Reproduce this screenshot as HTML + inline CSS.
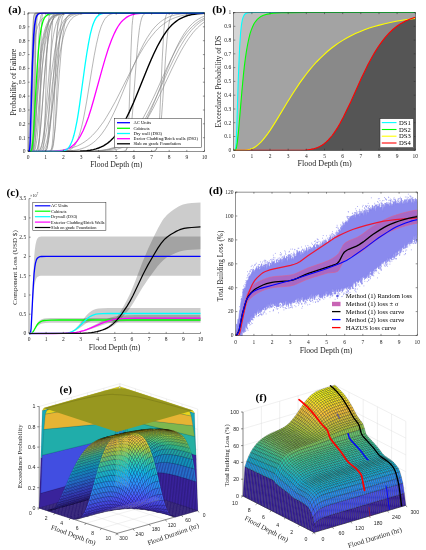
<!DOCTYPE html>
<html lang="en"><head><meta charset="utf-8"><title>Flood fragility and loss figure</title>
<style>html,body{margin:0;padding:0;background:#fff}svg{display:block}text{white-space:pre}.l{stroke-opacity:.45;stroke-width:.25}.n{stroke:#2a1a72;stroke-opacity:1;stroke-width:.4}</style></head>
<body>
<svg width="426" height="550" viewBox="0 0 426 550">
<defs><clipPath id="ca"><rect x="28" y="12.6" width="176.5" height="139.2"/></clipPath><clipPath id="cb"><rect x="233.7" y="12.2" width="181.6" height="138.4"/></clipPath><clipPath id="cd"><rect x="235.7" y="192.1" width="181.6" height="143.4"/></clipPath></defs>
<g clip-path="url(#ca)">
<polyline points="28,151.5 30.6,151.4 31.1,151.2 31.5,150.8 32,150 32.4,148.7 32.9,146.9 33.7,141.5 35.1,129.1 38.6,86 40.4,66.9 42.1,51.7 43,45.6 44.3,38 45.2,33.9 46.1,30.4 47,27.5 48.3,24 49.2,22.2 50.5,20 51.8,18.3 53.6,16.7 54.9,15.8 56.2,15.2 58,14.5 59.8,14.1 62,13.7 64.2,13.5 70.8,13.1 88.9,13 204.5,13" fill="none" stroke="#858585" stroke-width="0.6" />
<polyline points="28,151.5 32.4,151.5 33.3,151.4 33.7,151.2 34.2,150.9 34.6,150.3 35.1,149.4 35.5,148 35.9,146 36.8,140.3 37.3,136.4 38.1,126.7 42.1,70.6 43.4,54.8 44.8,42.3 45.6,35.8 46.5,30.5 47.4,26.3 48.3,23.1 49.2,20.6 50.1,18.7 51.4,16.6 52.7,15.3 53.6,14.7 54.5,14.2 56.7,13.6 59.8,13.2 64.2,13 204.5,13" fill="none" stroke="#858585" stroke-width="0.6" />
<polyline points="28,151.5 32,151.5 32.4,151.4 32.9,150.5 33.3,147.2 33.7,138.8 34.2,123.7 35.5,58.3 35.9,41.3 36.4,29.3 36.8,21.8 37.3,17.5 37.7,15.1 38.1,14 38.6,13.4 39,13.2 39.5,13.1 41.2,13 204.5,13" fill="none" stroke="#858585" stroke-width="0.6" />
<polyline points="28,151.5 29.8,151.5 30.6,151.3 31.1,150.9 31.5,150.2 32,148.9 32.4,147.1 33.3,141.4 34.6,128.4 37.7,89.5 39.5,69.5 41.2,53.5 42.1,47.1 43.4,39.2 44.3,34.9 45.2,31.3 46.1,28.2 47.4,24.6 48.3,22.6 49.6,20.3 50.9,18.6 52.7,16.9 54,16 55.4,15.3 57.1,14.6 58.9,14.2 61.1,13.8 63.3,13.5 69.9,13.2 88.5,13 204.5,13" fill="none" stroke="#858585" stroke-width="0.6" />
<polyline points="28,151.5 34.2,151.5 35.5,151.3 35.9,151 36.4,150.6 36.8,150 37.3,149 37.7,147.7 38.1,146 39,141 39.5,137.7 40.4,129.6 41.7,114 45.2,67.6 46.5,53.2 47.9,41.7 48.7,35.5 49.6,30.5 50.5,26.5 51.4,23.3 52.3,20.8 53.6,18.1 54.5,16.8 55.8,15.4 56.7,14.8 57.6,14.3 58.4,14 59.8,13.6 62.4,13.2 66.8,13 204.5,13" fill="none" stroke="#858585" stroke-width="0.6" />
<polyline points="28,151.5 34.2,151.5 35.1,151.4 35.9,151 36.4,150.6 36.8,150 37.3,149.1 37.7,147.9 38.1,146.2 39,141.3 39.5,138.1 40.4,130 41.7,114.6 44.3,79.2 45.6,63.1 47,49.5 48.3,38.8 49.2,33.2 50.1,28.7 50.9,25 51.8,22.1 52.7,19.9 54,17.5 54.9,16.4 56.2,15.1 57.1,14.6 58,14.2 60.2,13.5 62.9,13.2 67.3,13 204.5,13" fill="none" stroke="#858585" stroke-width="0.6" />
<polyline points="28,151.5 30.6,151.5 31.1,151 31.5,146.1 32,127.1 32.9,56.5 33.3,31.9 33.7,19.7 34.2,15 34.6,13.5 35.1,13.1 35.5,13 36.8,13 204.5,13" fill="none" stroke="#858585" stroke-width="0.6" />
<polyline points="28,151.5 31.5,151.5 32,151.4 32.4,149.9 32.9,141.5 33.3,118.6 34.2,50.8 34.6,29.1 35.1,18.6 35.5,14.6 35.9,13.4 36.4,13.1 37.7,13 204.5,13" fill="none" stroke="#858585" stroke-width="0.6" />
<polyline points="28,151.5 29.3,151.5 29.8,150.5 30.2,144.3 30.6,127.8 32,53.1 32.4,36.9 32.9,26.4 33.3,20.3 33.7,16.8 34.2,15 34.6,14 35.1,13.5 35.5,13.2 36.4,13.1 38.6,13 204.5,13" fill="none" stroke="#858585" stroke-width="0.6" />
<polyline points="28,151.5 32.9,151.5 33.3,151.5 33.7,151.3 34.2,150.5 34.6,148.7 35.1,144.7 35.5,137.7 35.9,127.3 38.1,53 39,32.9 39.5,26.3 39.9,21.7 40.4,18.5 40.8,16.4 41.2,15.1 41.7,14.2 42.1,13.7 42.6,13.4 43.4,13.1 46.1,13 204.5,13" fill="none" stroke="#858585" stroke-width="0.6" />
<polyline points="28,151.5 28.4,149.6 28.9,140.8 30.2,103 30.6,92 31.5,74.1 32.4,60.6 32.9,55.3 33.7,46.5 34.6,39.9 35.5,34.9 36.4,30.9 37.3,27.8 38.6,24.3 39.9,21.8 40.8,20.5 41.7,19.4 43.4,17.7 45.2,16.6 47,15.8 49.2,15 51.4,14.5 54,14.1 57.6,13.7 65.9,13.3 77,13.1 94.6,13 204.5,13" fill="none" stroke="#858585" stroke-width="0.6" />
<polyline points="28,151.5 29.8,151.5 30.2,151.3 30.6,150.9 31.1,150.1 31.5,148.7 32,146.5 32.4,143.7 32.9,140 33.7,130.9 36.8,90.6 38.6,70 39.5,61.3 40.4,53.7 41.2,47.2 42.1,41.6 43,36.9 43.9,33 44.8,29.7 46.1,25.7 47.4,22.7 48.7,20.4 50.1,18.7 51.8,17 53.2,16.1 54.9,15.2 56.7,14.6 58.4,14.1 60.7,13.7 62.9,13.5 69.5,13.2 88.9,13 204.5,13" fill="none" stroke="#858585" stroke-width="0.6" />
<polyline points="28,151.5 37.7,151.5 38.1,151.3 38.6,150.1 39,145.5 39.5,133.6 39.9,112.3 40.8,56.7 41.2,35.6 41.7,22.9 42.1,16.7 42.6,14.2 43,13.3 43.4,13.1 44.8,13 204.5,13" fill="none" stroke="#858585" stroke-width="0.6" />
<polyline points="28,151.5 32.9,151.4 33.3,150.6 33.7,145.3 34.2,128.6 35.5,37.8 35.9,22.7 36.4,16.1 36.8,13.8 37.3,13.2 37.7,13 39,13 204.5,13" fill="none" stroke="#858585" stroke-width="0.6" />
<polyline points="28,151.5 31.1,151.5 32,151.3 32.4,151 32.9,150.5 33.3,149.6 33.7,148.4 34.6,144.7 35.5,139 36.8,127.2 40.4,87.1 42.1,68.7 43.4,57.1 45.2,44.6 46.1,39.6 47.4,33.4 48.3,30.1 49.6,26 50.9,22.9 52.3,20.5 53.6,18.7 55.4,16.9 56.7,16 58,15.2 59.8,14.6 61.5,14.1 63.7,13.7 65.9,13.4 72.1,13.1 89.3,13 204.5,13" fill="none" stroke="#858585" stroke-width="0.6" />
<polyline points="28,151.5 38.6,151.5 39.9,151.4 41.2,151.1 42.6,150.4 43.4,149.5 44.3,148.1 44.8,147.3 45.6,145.1 46.5,142.2 47.4,138.6 48.3,134.3 49.6,126.5 51.4,114.4 55.8,80.4 57.6,67.8 59.8,54 60.7,49.2 62,42.8 63.3,37.3 64.6,32.6 65.9,28.8 67.3,25.6 68.6,23 69.9,20.9 71.7,18.7 73.4,17.1 74.8,16.2 76.1,15.5 77.9,14.8 79.6,14.2 81.8,13.8 84,13.5 90.2,13.1 105.7,13 204.5,13" fill="none" stroke="#858585" stroke-width="0.6" />
<polyline points="28,151.5 41.7,151.5 42.1,151.3 42.6,150.9 43,149.9 43.4,147.7 43.9,143.4 44.3,136.4 44.8,126.2 47,50.5 47.9,29.8 48.3,23.4 48.7,19.1 49.2,16.5 49.6,14.9 50.1,14 50.5,13.5 51.4,13.1 53.6,13 204.5,13" fill="none" stroke="#858585" stroke-width="0.6" />
<polyline points="28,151.5 49.2,151.5 50.1,151.3 50.5,151.1 50.9,150.5 51.4,149.4 51.8,147.3 52.3,144 52.7,138.9 53.2,131.8 54,111.5 56.2,48.3 57.1,31.2 57.6,25.4 58,21.1 58.4,18.1 58.9,16.2 59.3,14.9 59.8,14.1 60.2,13.6 60.7,13.3 61.5,13.1 63.7,13 204.5,13" fill="none" stroke="#858585" stroke-width="0.6" />
<polyline points="28,151.5 45.2,151.4 45.6,151.3 46.1,151 46.5,150.1 47,148.4 47.4,145.3 47.9,140.1 48.3,132.5 48.7,122.2 50.9,52.2 51.8,32.2 52.3,25.6 52.7,20.9 53.2,17.8 53.6,15.7 54,14.5 54.5,13.8 54.9,13.4 55.8,13.1 58,13 204.5,13" fill="none" stroke="#858585" stroke-width="0.6" />
<polyline points="28,151.5 37.3,151.5 38.6,151.3 39.5,151.1 40.4,150.6 40.8,150.2 41.7,149.1 42.6,147.3 43.4,144.9 44.3,141.7 45.2,137.7 46.1,132.8 47,127.2 48.7,114.1 52.7,81.4 54.5,68 56.7,53.4 58.4,43.9 59.3,39.8 60.7,34.5 62,30.2 63.3,26.6 64.6,23.7 66.4,20.7 68.2,18.5 69.9,16.9 71.2,16 72.6,15.3 74.3,14.6 76.1,14.1 78.3,13.7 80.5,13.5 86.2,13.1 101.7,13 204.5,13" fill="none" stroke="#858585" stroke-width="0.6" />
<polyline points="28,151.5 35.9,151.5 37.3,151.3 38.1,151 39,150.4 39.9,149.4 40.8,147.7 41.7,145.2 43,139.8 43.9,135 44.8,129.3 46.5,115.8 50.5,81.4 52.3,67.3 54.5,52.3 56.2,42.6 57.1,38.5 58.4,33.3 59.8,29 61.1,25.6 62.4,22.8 63.7,20.6 65.5,18.4 67.3,16.8 68.6,15.9 69.9,15.2 71.7,14.5 73.4,14.1 75.7,13.7 77.9,13.4 83.6,13.1 99,13 204.5,13" fill="none" stroke="#858585" stroke-width="0.6" />
<polyline points="28,151.5 48.3,151.5 50.1,151.4 50.9,151.2 51.4,150.9 51.8,150.3 52.3,149.4 52.7,148.1 53.2,146.1 53.6,143.3 54,139.5 54.9,128.6 55.8,113.5 58.4,57.9 59.3,42.8 60.2,31.5 61.1,23.7 62,18.8 62.4,17.2 62.9,16 63.3,15.1 64.2,14 65.1,13.4 65.9,13.2 67.3,13 69,13 204.5,13" fill="none" stroke="#858585" stroke-width="0.6" />
<polyline points="28,151.5 42.1,151.5 44.3,151.4 45.2,151 45.6,150.7 46.1,150.2 46.5,149.4 47,148.4 47.4,146.9 48.3,142.5 48.7,139.5 49.2,135.8 50.1,126.5 51.4,108.4 54.5,60.5 55.8,44.1 56.7,35.6 57.1,32 58,26.2 58.4,23.9 59.3,20.3 59.8,18.9 60.7,16.8 61.5,15.4 62.4,14.5 63.7,13.7 65.1,13.3 66.8,13.1 69.9,13 204.5,13" fill="none" stroke="#858585" stroke-width="0.6" />
<polyline points="28,151.5 36.8,151.5 37.7,151.4 38.6,151.2 39.5,150.6 40.4,149.3 41.2,147.1 41.7,145.5 42.6,141.1 43,138.3 44.3,127.6 45.6,113.7 49.6,67.1 51.4,50.1 52.7,40 53.6,34.6 54.5,30.1 55.4,26.4 56.2,23.4 57.1,21 58.4,18.4 59.8,16.5 61.1,15.3 62,14.7 62.9,14.3 65.1,13.6 68.2,13.2 72.6,13 204.5,13" fill="none" stroke="#858585" stroke-width="0.6" />
<polyline points="28,151.5 40.4,151.5 42.1,151.4 43,151.2 43.9,150.8 44.3,150.5 45.2,149.6 46.1,147.9 47,145.5 47.9,142 48.7,137.4 49.6,131.6 50.5,124.7 51.8,112.6 55.4,76.4 56.7,63.8 58.4,49.3 59.8,40.5 60.7,35.5 61.5,31.3 62.4,27.8 63.7,23.5 64.6,21.3 65.9,18.8 67.3,17 68.6,15.7 69.5,15.1 70.8,14.4 73,13.7 76.1,13.3 80.5,13.1 204.5,13" fill="none" stroke="#858585" stroke-width="0.6" />
<polyline points="28,151.5 46.5,151.5 48.7,151.4 49.6,151.1 50.1,150.9 50.9,150 51.8,148.4 52.3,147.2 53.2,143.6 54,138.3 55.4,126.7 56.7,111 59.3,73.9 60.7,56.8 62,42.7 62.9,35.2 64.2,26.7 64.6,24.5 65.5,21 66.4,18.5 67.3,16.7 68.2,15.4 69,14.6 70.4,13.8 71.7,13.4 73.9,13.1 77,13 204.5,13" fill="none" stroke="#858585" stroke-width="0.6" />
<polyline points="28,151.5 58.9,151.5 62.9,151.3 65.9,151 67.7,150.6 69,150.2 70.4,149.6 71.7,148.7 73,147.5 73.9,146.5 74.8,145.3 75.7,143.9 77,141.3 77.9,139.2 79.6,134.2 81.4,127.8 83.2,120.1 84.9,111.2 86.7,101.2 92,68.6 94.2,55.7 96.4,44.4 98.2,36.7 99,33.3 100.4,28.9 101.2,26.4 102.6,23.2 103.9,20.6 105.2,18.5 106.5,17 107.9,15.8 108.7,15.2 110.1,14.5 112.3,13.7 114.9,13.3 118.9,13.1 204.5,13" fill="none" stroke="#858585" stroke-width="0.6" />
<polyline points="28,151.5 42.1,151.3 51.8,151 59.3,150.4 62.9,149.9 65.9,149.4 69,148.7 72.1,147.8 74.8,146.9 77.4,145.9 80.1,144.6 82.7,143.1 85.4,141.3 87.6,139.7 90.2,137.5 92.4,135.4 94.6,133.1 96.8,130.6 99,127.9 101.2,124.9 103.5,121.8 106.1,117.7 110.5,110.3 115.4,101.5 120.2,92 132.6,67.3 136.1,60.6 139.6,54.2 143.6,47.5 147.6,41.4 151.6,36.1 155.5,31.4 157.7,29.1 159.9,27 162.1,25.2 164.8,23.2 167.4,21.4 170.1,19.9 172.7,18.6 175.4,17.6 178,16.7 181.1,15.8 184.2,15.1 187.7,14.5 191.3,14.1 195.2,13.7 204.5,13.3" fill="none" stroke="#858585" stroke-width="0.6" />
<polyline points="28,151.5 48.7,151.5 59.3,151.3 67.3,151 73.4,150.4 76.5,149.9 79.2,149.4 81.8,148.6 84.5,147.7 86.7,146.7 88.9,145.6 91.1,144.2 93.3,142.6 95.5,140.7 97.7,138.6 99.9,136.1 101.7,133.9 103.9,130.8 105.7,128.2 107.9,124.5 110.1,120.5 114,112.6 118,103.8 122.4,93.2 133.5,65.9 137,57.7 140.1,51 143.6,44 147.1,37.8 150.7,32.4 152.4,30 154.2,27.9 156,25.9 158.2,23.8 160.4,21.9 162.6,20.3 164.8,18.9 167,17.8 169.6,16.6 172.3,15.7 174.9,15 177.6,14.5 180.7,14 184.2,13.6 192.6,13.2 204.5,13" fill="none" stroke="#858585" stroke-width="0.6" />
<polyline points="28,151.5 123.3,151.5 124.6,151.5 125.5,151.2 126,150.8 126.4,149.9 126.8,148.3 127.3,145.6 127.7,141.2 128.2,134.6 129,114 130.8,55.7 131.7,33.2 132.1,25.6 132.6,20.4 133,17.1 133.5,15.1 133.9,14 134.3,13.4 134.8,13.2 136.1,13 204.5,13" fill="none" stroke="#858585" stroke-width="0.6" />
<polyline points="28,151.5 120.2,151.5 122.4,151.4 123.8,151.2 124.6,150.9 125.5,150.3 126.4,149.4 126.8,148.7 127.7,146.7 128.2,145.4 129,141.8 129.5,139.5 130.4,133.8 131.3,126.3 132.6,112 136.5,58 137.4,47.3 138.3,38.2 139.2,30.7 139.6,27.6 140.5,22.7 141.4,19.1 141.8,17.8 142.7,15.8 143.6,14.6 144,14.2 144.9,13.6 146.3,13.2 148,13 204.5,13" fill="none" stroke="#858585" stroke-width="0.6" />
<polyline points="28,151.5 151.6,151.5 153.8,151.4 154.6,151.2 155.1,151 155.5,150.6 156,150 156.4,149.1 156.8,147.7 157.3,145.7 157.7,142.9 158.2,139.2 158.6,134.3 159.1,128.2 159.9,112.4 162.1,61.5 163.5,36.3 163.9,30.2 164.8,21.6 165.2,18.8 165.7,16.8 166.1,15.4 166.6,14.5 167,13.9 167.4,13.5 168.3,13.1 169.2,13 204.5,13" fill="none" stroke="#858585" stroke-width="0.6" />
<polyline points="28,151.5 149.8,151.5 152,151.4 153.3,151.3 154.2,151.1 155.1,150.6 156,149.8 156.4,149.2 157.3,147.3 157.7,146 158.6,142.2 159.1,139.8 159.9,133.5 160.8,125.1 161.7,114.7 162.6,102.5 165.7,55.7 167,39.4 167.9,31 168.8,24.7 169.6,20.2 170.5,17.2 171.4,15.3 172.3,14.2 172.7,13.9 173.6,13.4 174.9,13.1 178,13 204.5,13" fill="none" stroke="#858585" stroke-width="0.6" />
<polyline points="28,151.5 81,151.4 91.1,151.2 99,150.6 103,150.1 106.5,149.5 110.1,148.6 113.2,147.6 116.2,146.4 118.9,145 121.5,143.5 124.2,141.6 126.8,139.4 129,137.3 131.7,134.5 133.9,131.8 136.1,128.9 138.8,125.1 141,121.6 143.6,117.1 147.6,109.6 152,100.6 156,92.1 166.1,69.5 171.4,58.4 174.1,53.2 176.7,48.2 179.3,43.6 181.6,40.1 184.2,36.2 186.8,32.7 189.5,29.5 192.6,26.3 195.2,24 198.3,21.6 201.4,19.7 204.5,18.1" fill="none" stroke="#858585" stroke-width="0.6" />
<polyline points="28,151.5 83.2,151.4 93.3,151.2 101.2,150.6 105.2,150.2 108.7,149.6 112.3,148.7 115.4,147.8 118.5,146.6 121.1,145.3 123.8,143.7 126.4,141.9 129,139.8 131.3,137.8 133.9,135 136.1,132.4 138.3,129.5 141,125.7 143.2,122.3 145.8,117.8 150.2,109.6 154.6,100.6 158.6,92.1 168.8,69.5 174.1,58.4 178.9,49 181.6,44.4 183.8,40.8 186.4,36.8 188.6,33.8 191.3,30.5 193.9,27.6 196.6,25.1 199.2,22.9 201.9,21 204.5,19.5" fill="none" stroke="#858585" stroke-width="0.6" />
<polyline points="28,151.5 83.2,151.4 94.2,151.1 102.1,150.6 106.1,150.1 110.1,149.4 113.6,148.6 116.7,147.6 119.8,146.4 122.9,145 125.5,143.4 128.2,141.6 130.8,139.5 133.5,137.1 136.1,134.3 138.3,131.8 140.5,128.9 143.2,125.2 145.8,121.2 148.5,116.8 152.9,108.8 157.3,100 161.3,91.7 171.4,70 176.3,60 181.1,50.8 183.8,46.2 186,42.6 188.6,38.6 190.8,35.6 193,32.7 195.2,30.2 197.4,27.9 199.6,25.8 201.9,23.9 204.5,21.9" fill="none" stroke="#858585" stroke-width="0.6" />
<polyline points="28,151.5 89.8,151.5 99.5,151.3 106.5,150.9 110.1,150.5 113.6,150 116.7,149.3 119.3,148.5 122,147.5 124.6,146.2 126.8,144.9 129,143.3 131.3,141.5 133.5,139.3 135.7,136.9 137.9,134.1 140.1,130.9 142.3,127.4 144.5,123.5 146.7,119.2 150.7,110.8 154.6,101.4 158.2,92.5 167.4,68.6 172.3,56.8 174.9,50.8 177.1,46.2 179.8,41 182,37.1 184.6,32.9 187.3,29.3 189.9,26.1 192.6,23.4 195.2,21.2 198.3,19.1 201.4,17.4 204.5,16.2" fill="none" stroke="#858585" stroke-width="0.6" />
<polyline points="28,151.5 71.2,151.4 80.1,151.1 86.7,150.6 90.2,150.2 93.3,149.6 96,148.9 98.6,148 101.2,146.9 103.5,145.8 106.1,144.2 108.3,142.6 110.5,140.7 112.7,138.6 114.9,136.1 117.1,133.3 119.3,130.2 121.1,127.5 123.3,123.7 125.5,119.7 129.5,111.6 133.5,102.8 137.4,93.2 148,67 151.1,59.7 153.8,53.8 157.3,46.5 160.4,40.8 163.5,35.7 166.6,31.2 168.3,28.9 170.1,26.9 171.8,25 174.1,23 175.8,21.6 178,20 179.8,18.9 182,17.8 184.2,16.8 186.4,16 189.1,15.2 191.7,14.6 194.4,14.2 197.4,13.8 204.5,13.3" fill="none" stroke="#000" stroke-width="1.4" />
<polyline points="28,151.5 45.2,151.5 52.7,151.3 58.4,151 60.7,150.7 62.9,150.3 65.1,149.7 67.3,149 69,148.1 70.8,147.1 72.6,145.8 74.3,144.2 76.1,142.2 77.4,140.6 79.2,138 80.5,135.7 83.2,130.5 85.8,124.2 88.5,117 91.1,108.8 93.7,99.8 102.1,69.4 105.2,58.6 108.3,48.8 111.4,40.3 113.2,36 114.5,33.1 116.2,29.6 118,26.5 119.8,23.9 121.5,21.7 123.3,19.9 125.1,18.4 126.4,17.4 128.2,16.4 129.9,15.5 131.7,14.9 133.5,14.4 135.7,13.9 138.3,13.6 141,13.3 145.8,13.1 152.9,13 204.5,13" fill="none" stroke="#f0f" stroke-width="1.3" />
<polyline points="28,151.5 55.8,151.5 59.3,151.4 62,151.1 63.3,150.9 64.6,150.5 65.9,149.9 66.8,149.3 67.7,148.5 68.6,147.6 69.5,146.4 70.4,144.9 71.2,143.1 72.1,140.9 73,138.3 73.9,135.3 75.2,129.9 77,121.1 78.3,113.3 79.6,104.6 84.9,66 86.7,54 88.5,43.4 90.2,34.6 92,27.6 92.9,24.8 94.2,21.4 95.1,19.6 96.4,17.5 97.3,16.4 98.6,15.2 100.4,14.2 102.1,13.6 104.8,13.2 108.3,13 204.5,13" fill="none" stroke="#0ff" stroke-width="1.3" />
<polyline points="28,151.5 30.2,151.5 30.6,151.3 31.1,150.9 31.5,149.8 32,147.9 32.4,144.8 32.9,140.5 33.7,128.5 36.4,80.7 37.3,66.4 38.6,49 39.9,36.6 40.4,33.4 41.2,28.1 41.7,26 42.6,22.6 43.4,20.1 44.3,18.2 45.2,16.8 46.5,15.4 47.4,14.7 48.3,14.3 49.2,13.9 50.5,13.6 53.6,13.2 58,13 204.5,13" fill="none" stroke="#0f0" stroke-width="1.3" />
<polyline points="28,151.5 28.9,151.5 29.3,151 29.8,148.1 30.2,140.6 30.6,128.1 32.4,64.9 32.9,53 33.7,35.8 34.2,30 34.6,25.6 35.1,22.4 35.5,19.9 35.9,18.1 36.4,16.8 36.8,15.8 37.3,15.1 38.1,14.1 39,13.6 40.4,13.3 42.1,13.1 45.6,13 204.5,13" fill="none" stroke="#00f" stroke-width="1.5" />
</g>
<rect x="28" y="13" width="176.5" height="138.5" fill="none" stroke="#262626" stroke-width="0.5" />
<line x1="28" y1="151.5" x2="28" y2="149.9" stroke="#262626" stroke-width="0.5" />
<line x1="28" y1="13" x2="28" y2="14.6" stroke="#262626" stroke-width="0.5" />
<text x="28" y="158.7" font-size="5.5" text-anchor="middle" font-family='"Liberation Serif", serif' fill="#262626" >0</text>
<line x1="28" y1="151.5" x2="29.6" y2="151.5" stroke="#262626" stroke-width="0.5" />
<line x1="204.5" y1="151.5" x2="202.9" y2="151.5" stroke="#262626" stroke-width="0.5" />
<text x="25.6" y="153.3" font-size="5.5" text-anchor="end" font-family='"Liberation Serif", serif' fill="#262626" >0</text>
<line x1="45.6" y1="151.5" x2="45.6" y2="149.9" stroke="#262626" stroke-width="0.5" />
<line x1="45.6" y1="13" x2="45.6" y2="14.6" stroke="#262626" stroke-width="0.5" />
<text x="45.6" y="158.7" font-size="5.5" text-anchor="middle" font-family='"Liberation Serif", serif' fill="#262626" >1</text>
<line x1="28" y1="137.7" x2="29.6" y2="137.7" stroke="#262626" stroke-width="0.5" />
<line x1="204.5" y1="137.7" x2="202.9" y2="137.7" stroke="#262626" stroke-width="0.5" />
<text x="25.6" y="139.5" font-size="5.5" text-anchor="end" font-family='"Liberation Serif", serif' fill="#262626" >0.1</text>
<line x1="63.3" y1="151.5" x2="63.3" y2="149.9" stroke="#262626" stroke-width="0.5" />
<line x1="63.3" y1="13" x2="63.3" y2="14.6" stroke="#262626" stroke-width="0.5" />
<text x="63.3" y="158.7" font-size="5.5" text-anchor="middle" font-family='"Liberation Serif", serif' fill="#262626" >2</text>
<line x1="28" y1="123.8" x2="29.6" y2="123.8" stroke="#262626" stroke-width="0.5" />
<line x1="204.5" y1="123.8" x2="202.9" y2="123.8" stroke="#262626" stroke-width="0.5" />
<text x="25.6" y="125.6" font-size="5.5" text-anchor="end" font-family='"Liberation Serif", serif' fill="#262626" >0.2</text>
<line x1="81" y1="151.5" x2="81" y2="149.9" stroke="#262626" stroke-width="0.5" />
<line x1="81" y1="13" x2="81" y2="14.6" stroke="#262626" stroke-width="0.5" />
<text x="81" y="158.7" font-size="5.5" text-anchor="middle" font-family='"Liberation Serif", serif' fill="#262626" >3</text>
<line x1="28" y1="110" x2="29.6" y2="110" stroke="#262626" stroke-width="0.5" />
<line x1="204.5" y1="110" x2="202.9" y2="110" stroke="#262626" stroke-width="0.5" />
<text x="25.6" y="111.8" font-size="5.5" text-anchor="end" font-family='"Liberation Serif", serif' fill="#262626" >0.3</text>
<line x1="98.6" y1="151.5" x2="98.6" y2="149.9" stroke="#262626" stroke-width="0.5" />
<line x1="98.6" y1="13" x2="98.6" y2="14.6" stroke="#262626" stroke-width="0.5" />
<text x="98.6" y="158.7" font-size="5.5" text-anchor="middle" font-family='"Liberation Serif", serif' fill="#262626" >4</text>
<line x1="28" y1="96.1" x2="29.6" y2="96.1" stroke="#262626" stroke-width="0.5" />
<line x1="204.5" y1="96.1" x2="202.9" y2="96.1" stroke="#262626" stroke-width="0.5" />
<text x="25.6" y="97.9" font-size="5.5" text-anchor="end" font-family='"Liberation Serif", serif' fill="#262626" >0.4</text>
<line x1="116.2" y1="151.5" x2="116.2" y2="149.9" stroke="#262626" stroke-width="0.5" />
<line x1="116.2" y1="13" x2="116.2" y2="14.6" stroke="#262626" stroke-width="0.5" />
<text x="116.2" y="158.7" font-size="5.5" text-anchor="middle" font-family='"Liberation Serif", serif' fill="#262626" >5</text>
<line x1="28" y1="82.2" x2="29.6" y2="82.2" stroke="#262626" stroke-width="0.5" />
<line x1="204.5" y1="82.2" x2="202.9" y2="82.2" stroke="#262626" stroke-width="0.5" />
<text x="25.6" y="84" font-size="5.5" text-anchor="end" font-family='"Liberation Serif", serif' fill="#262626" >0.5</text>
<line x1="133.9" y1="151.5" x2="133.9" y2="149.9" stroke="#262626" stroke-width="0.5" />
<line x1="133.9" y1="13" x2="133.9" y2="14.6" stroke="#262626" stroke-width="0.5" />
<text x="133.9" y="158.7" font-size="5.5" text-anchor="middle" font-family='"Liberation Serif", serif' fill="#262626" >6</text>
<line x1="28" y1="68.4" x2="29.6" y2="68.4" stroke="#262626" stroke-width="0.5" />
<line x1="204.5" y1="68.4" x2="202.9" y2="68.4" stroke="#262626" stroke-width="0.5" />
<text x="25.6" y="70.2" font-size="5.5" text-anchor="end" font-family='"Liberation Serif", serif' fill="#262626" >0.6</text>
<line x1="151.6" y1="151.5" x2="151.6" y2="149.9" stroke="#262626" stroke-width="0.5" />
<line x1="151.6" y1="13" x2="151.6" y2="14.6" stroke="#262626" stroke-width="0.5" />
<text x="151.6" y="158.7" font-size="5.5" text-anchor="middle" font-family='"Liberation Serif", serif' fill="#262626" >7</text>
<line x1="28" y1="54.6" x2="29.6" y2="54.6" stroke="#262626" stroke-width="0.5" />
<line x1="204.5" y1="54.6" x2="202.9" y2="54.6" stroke="#262626" stroke-width="0.5" />
<text x="25.6" y="56.4" font-size="5.5" text-anchor="end" font-family='"Liberation Serif", serif' fill="#262626" >0.7</text>
<line x1="169.2" y1="151.5" x2="169.2" y2="149.9" stroke="#262626" stroke-width="0.5" />
<line x1="169.2" y1="13" x2="169.2" y2="14.6" stroke="#262626" stroke-width="0.5" />
<text x="169.2" y="158.7" font-size="5.5" text-anchor="middle" font-family='"Liberation Serif", serif' fill="#262626" >8</text>
<line x1="28" y1="40.7" x2="29.6" y2="40.7" stroke="#262626" stroke-width="0.5" />
<line x1="204.5" y1="40.7" x2="202.9" y2="40.7" stroke="#262626" stroke-width="0.5" />
<text x="25.6" y="42.5" font-size="5.5" text-anchor="end" font-family='"Liberation Serif", serif' fill="#262626" >0.8</text>
<line x1="186.8" y1="151.5" x2="186.8" y2="149.9" stroke="#262626" stroke-width="0.5" />
<line x1="186.8" y1="13" x2="186.8" y2="14.6" stroke="#262626" stroke-width="0.5" />
<text x="186.8" y="158.7" font-size="5.5" text-anchor="middle" font-family='"Liberation Serif", serif' fill="#262626" >9</text>
<line x1="28" y1="26.8" x2="29.6" y2="26.8" stroke="#262626" stroke-width="0.5" />
<line x1="204.5" y1="26.8" x2="202.9" y2="26.8" stroke="#262626" stroke-width="0.5" />
<text x="25.6" y="28.6" font-size="5.5" text-anchor="end" font-family='"Liberation Serif", serif' fill="#262626" >0.9</text>
<line x1="204.5" y1="151.5" x2="204.5" y2="149.9" stroke="#262626" stroke-width="0.5" />
<line x1="204.5" y1="13" x2="204.5" y2="14.6" stroke="#262626" stroke-width="0.5" />
<text x="204.5" y="158.7" font-size="5.5" text-anchor="middle" font-family='"Liberation Serif", serif' fill="#262626" >10</text>
<line x1="28" y1="13" x2="29.6" y2="13" stroke="#262626" stroke-width="0.5" />
<line x1="204.5" y1="13" x2="202.9" y2="13" stroke="#262626" stroke-width="0.5" />
<text x="25.6" y="14.8" font-size="5.5" text-anchor="end" font-family='"Liberation Serif", serif' fill="#262626" >1</text>
<text x="116.3" y="166.9" font-size="7.75" text-anchor="middle" font-family='"Liberation Serif", serif' fill="#262626" >Flood Depth (m)</text>
<text transform="translate(15.8,82.1) rotate(-90)" font-size="7.75" text-anchor="middle" font-family='"Liberation Serif", serif' fill="#262626" >Probability of Failure</text>
<text x="8.2" y="13.3" font-size="11.3" text-anchor="start" font-family='"Liberation Serif", serif' fill="#000" font-weight="bold">(a)</text>
<rect x="114.6" y="118.7" width="86.8" height="29" fill="#fff" stroke="#262626" stroke-width="0.5" />
<line x1="117" y1="122.7" x2="130" y2="122.7" stroke="#00f" stroke-width="1.3" />
<text x="133.5" y="124.2" font-size="4.6" text-anchor="start" font-family='"Liberation Serif", serif' fill="#000" >AC Units</text>
<line x1="117" y1="128.3" x2="130" y2="128.3" stroke="#0f0" stroke-width="1.3" />
<text x="133.5" y="129.8" font-size="4.6" text-anchor="start" font-family='"Liberation Serif", serif' fill="#000" >Cabinets</text>
<line x1="117" y1="133.5" x2="130" y2="133.5" stroke="#0ff" stroke-width="1.3" />
<text x="133.5" y="135" font-size="4.6" text-anchor="start" font-family='"Liberation Serif", serif' fill="#000" >Dry wall (DS3)</text>
<line x1="117" y1="138.7" x2="130" y2="138.7" stroke="#f0f" stroke-width="1.3" />
<text x="133.5" y="140.2" font-size="4.6" text-anchor="start" font-family='"Liberation Serif", serif' fill="#000" >Exrior Cladding/Brick walls (DS3)</text>
<line x1="117" y1="143.8" x2="130" y2="143.8" stroke="#000" stroke-width="1.3" />
<text x="133.5" y="145.3" font-size="4.6" text-anchor="start" font-family='"Liberation Serif", serif' fill="#000" >Slab on grade Foundation</text>
<rect x="233.7" y="12.5" width="181.6" height="137.8" fill="#d6d6d6" stroke="none" stroke-width="0.5" />
<polygon points="233.7,150.3 234.6,150.3 235,150.2 235.3,149.6 235.7,147.5 236.1,143.3 236.8,127.2 238.2,81.4 239,61.5 239.7,46.1 240.6,32.8 241.5,24.6 242.4,19.6 243,17.6 243.7,15.9 244.4,14.7 245.3,13.8 246.6,13.1 248,12.8 250,12.6 253.5,12.5 415.3,12.5 415.3,150.3 233.7,150.3" fill="#bdbdbd" />
<polygon points="233.7,150.3 234.8,150.3 235.2,150.2 235.5,149.9 235.9,149.3 236.2,148.4 236.6,146.9 237.3,142.4 238.6,130.5 241.9,91.3 243.5,74.1 244.4,65.9 245.5,57.4 246.6,50.1 247.7,44 248.8,38.8 250,33.9 251.3,29.9 252.6,26.7 254,23.8 255.7,21.3 257.3,19.4 259.3,17.6 260.9,16.5 262.9,15.5 265.1,14.7 267.5,14.1 270,13.7 273.3,13.3 276.9,13 281.6,12.8 291.1,12.6 306.3,12.5 415.3,12.5 415.3,150.3 233.7,150.3" fill="#a3a3a3" />
<polygon points="233.7,150.3 241.3,150.3 244.6,150.2 247.5,149.9 250,149.3 252.8,148.2 255.5,146.7 258.2,144.6 260.9,142.1 263.1,139.7 265.5,136.7 267.8,133.6 270.4,129.9 275.5,121.9 287.5,102 293.3,92.7 299.8,82.9 303.1,78.4 306,74.5 309.2,70.4 312.9,66 316.5,62 320.1,58.3 323.8,54.8 327.4,51.5 331,48.5 335,45.5 338.7,42.9 342.7,40.4 346.7,38 351,35.7 355.4,33.6 359.7,31.7 364.5,29.8 369.2,28.1 374.3,26.5 379.3,25.1 384.8,23.7 390.2,22.5 396.1,21.3 402.2,20.3 408.8,19.3 415.3,18.5 415.3,150.3 233.7,150.3" fill="#898989" />
<polygon points="233.7,150.3 293.6,150.3 300.5,150.2 305.3,150 308.2,149.7 310.7,149.4 313.2,148.9 315.4,148.2 317.6,147.5 319.8,146.5 322,145.2 323.8,144 326,142.2 327.8,140.5 329.9,138.2 331.8,136 333.6,133.6 335.8,130.4 337.6,127.6 339.8,123.8 343.4,117 347,109.6 350.7,101.9 361.2,78.6 364.5,71.7 367.7,65.1 371.4,58.3 374.6,52.6 377.9,47.3 381.2,42.6 384.8,37.9 388.8,33.4 392.8,29.5 396.8,26.3 399,24.7 401.1,23.4 405.5,21 410.2,18.9 415.3,17.2 415.3,150.3 233.7,150.3" fill="#555" />
<g clip-path="url(#cb)">
<polyline points="233.7,150.3 234.6,150.3 235,150.2 235.3,149.6 235.7,147.5 236.1,143.3 236.8,127.2 238.2,81.4 239,61.5 239.7,46.1 240.6,32.8 241.5,24.6 242.4,19.6 243,17.6 243.7,15.9 244.4,14.7 245.3,13.8 246.6,13.1 248,12.8 250,12.6 253.5,12.5 415.3,12.5" fill="none" stroke="#0ff" stroke-width="1.1" />
<polyline points="233.7,150.3 234.8,150.3 235.2,150.2 235.5,149.9 235.9,149.3 236.2,148.4 236.6,146.9 237.3,142.4 238.6,130.5 241.9,91.3 243.5,74.1 244.4,65.9 245.5,57.4 246.6,50.1 247.7,44 248.8,38.8 250,33.9 251.3,29.9 252.6,26.7 254,23.8 255.7,21.3 257.3,19.4 259.3,17.6 260.9,16.5 262.9,15.5 265.1,14.7 267.5,14.1 270,13.7 273.3,13.3 276.9,13 281.6,12.8 291.1,12.6 306.3,12.5 415.3,12.5" fill="none" stroke="#0f0" stroke-width="1.1" />
<polyline points="233.7,150.3 241.3,150.3 244.6,150.2 247.5,149.9 250,149.3 252.8,148.2 255.5,146.7 258.2,144.6 260.9,142.1 263.1,139.7 265.5,136.7 267.8,133.6 270.4,129.9 275.5,121.9 287.5,102 293.3,92.7 299.8,82.9 303.1,78.4 306,74.5 309.2,70.4 312.9,66 316.5,62 320.1,58.3 323.8,54.8 327.4,51.5 331,48.5 335,45.5 338.7,42.9 342.7,40.4 346.7,38 351,35.7 355.4,33.6 359.7,31.7 364.5,29.8 369.2,28.1 374.3,26.5 379.3,25.1 384.8,23.7 390.2,22.5 396.1,21.3 402.2,20.3 408.8,19.3 415.3,18.5" fill="none" stroke="#ff0" stroke-width="1.1" />
<polyline points="233.7,150.3 293.6,150.3 300.5,150.2 305.3,150 308.2,149.7 310.7,149.4 313.2,148.9 315.4,148.2 317.6,147.5 319.8,146.5 322,145.2 323.8,144 326,142.2 327.8,140.5 329.9,138.2 331.8,136 333.6,133.6 335.8,130.4 337.6,127.6 339.8,123.8 343.4,117 347,109.6 350.7,101.9 361.2,78.6 364.5,71.7 367.7,65.1 371.4,58.3 374.6,52.6 377.9,47.3 381.2,42.6 384.8,37.9 388.8,33.4 392.8,29.5 396.8,26.3 399,24.7 401.1,23.4 405.5,21 410.2,18.9 415.3,17.2" fill="none" stroke="#f00" stroke-width="1.1" />
</g>
<rect x="233.7" y="12.5" width="181.6" height="137.8" fill="none" stroke="#262626" stroke-width="0.5" />
<line x1="233.7" y1="150.3" x2="233.7" y2="148.7" stroke="#262626" stroke-width="0.5" />
<line x1="233.7" y1="12.5" x2="233.7" y2="14.1" stroke="#262626" stroke-width="0.5" />
<text x="233.7" y="157.8" font-size="5.5" text-anchor="middle" font-family='"Liberation Serif", serif' fill="#262626" >0</text>
<line x1="233.7" y1="150.3" x2="235.3" y2="150.3" stroke="#262626" stroke-width="0.5" />
<line x1="415.3" y1="150.3" x2="413.7" y2="150.3" stroke="#262626" stroke-width="0.5" />
<text x="231.2" y="152.1" font-size="5.5" text-anchor="end" font-family='"Liberation Serif", serif' fill="#262626" >0</text>
<line x1="251.9" y1="150.3" x2="251.9" y2="148.7" stroke="#262626" stroke-width="0.5" />
<line x1="251.9" y1="12.5" x2="251.9" y2="14.1" stroke="#262626" stroke-width="0.5" />
<text x="251.9" y="157.8" font-size="5.5" text-anchor="middle" font-family='"Liberation Serif", serif' fill="#262626" >1</text>
<line x1="233.7" y1="136.5" x2="235.3" y2="136.5" stroke="#262626" stroke-width="0.5" />
<line x1="415.3" y1="136.5" x2="413.7" y2="136.5" stroke="#262626" stroke-width="0.5" />
<text x="231.2" y="138.3" font-size="5.5" text-anchor="end" font-family='"Liberation Serif", serif' fill="#262626" >0.1</text>
<line x1="270" y1="150.3" x2="270" y2="148.7" stroke="#262626" stroke-width="0.5" />
<line x1="270" y1="12.5" x2="270" y2="14.1" stroke="#262626" stroke-width="0.5" />
<text x="270" y="157.8" font-size="5.5" text-anchor="middle" font-family='"Liberation Serif", serif' fill="#262626" >2</text>
<line x1="233.7" y1="122.7" x2="235.3" y2="122.7" stroke="#262626" stroke-width="0.5" />
<line x1="415.3" y1="122.7" x2="413.7" y2="122.7" stroke="#262626" stroke-width="0.5" />
<text x="231.2" y="124.5" font-size="5.5" text-anchor="end" font-family='"Liberation Serif", serif' fill="#262626" >0.2</text>
<line x1="288.2" y1="150.3" x2="288.2" y2="148.7" stroke="#262626" stroke-width="0.5" />
<line x1="288.2" y1="12.5" x2="288.2" y2="14.1" stroke="#262626" stroke-width="0.5" />
<text x="288.2" y="157.8" font-size="5.5" text-anchor="middle" font-family='"Liberation Serif", serif' fill="#262626" >3</text>
<line x1="233.7" y1="109" x2="235.3" y2="109" stroke="#262626" stroke-width="0.5" />
<line x1="415.3" y1="109" x2="413.7" y2="109" stroke="#262626" stroke-width="0.5" />
<text x="231.2" y="110.8" font-size="5.5" text-anchor="end" font-family='"Liberation Serif", serif' fill="#262626" >0.3</text>
<line x1="306.3" y1="150.3" x2="306.3" y2="148.7" stroke="#262626" stroke-width="0.5" />
<line x1="306.3" y1="12.5" x2="306.3" y2="14.1" stroke="#262626" stroke-width="0.5" />
<text x="306.3" y="157.8" font-size="5.5" text-anchor="middle" font-family='"Liberation Serif", serif' fill="#262626" >4</text>
<line x1="233.7" y1="95.2" x2="235.3" y2="95.2" stroke="#262626" stroke-width="0.5" />
<line x1="415.3" y1="95.2" x2="413.7" y2="95.2" stroke="#262626" stroke-width="0.5" />
<text x="231.2" y="97" font-size="5.5" text-anchor="end" font-family='"Liberation Serif", serif' fill="#262626" >0.4</text>
<line x1="324.5" y1="150.3" x2="324.5" y2="148.7" stroke="#262626" stroke-width="0.5" />
<line x1="324.5" y1="12.5" x2="324.5" y2="14.1" stroke="#262626" stroke-width="0.5" />
<text x="324.5" y="157.8" font-size="5.5" text-anchor="middle" font-family='"Liberation Serif", serif' fill="#262626" >5</text>
<line x1="233.7" y1="81.4" x2="235.3" y2="81.4" stroke="#262626" stroke-width="0.5" />
<line x1="415.3" y1="81.4" x2="413.7" y2="81.4" stroke="#262626" stroke-width="0.5" />
<text x="231.2" y="83.2" font-size="5.5" text-anchor="end" font-family='"Liberation Serif", serif' fill="#262626" >0.5</text>
<line x1="342.7" y1="150.3" x2="342.7" y2="148.7" stroke="#262626" stroke-width="0.5" />
<line x1="342.7" y1="12.5" x2="342.7" y2="14.1" stroke="#262626" stroke-width="0.5" />
<text x="342.7" y="157.8" font-size="5.5" text-anchor="middle" font-family='"Liberation Serif", serif' fill="#262626" >6</text>
<line x1="233.7" y1="67.6" x2="235.3" y2="67.6" stroke="#262626" stroke-width="0.5" />
<line x1="415.3" y1="67.6" x2="413.7" y2="67.6" stroke="#262626" stroke-width="0.5" />
<text x="231.2" y="69.4" font-size="5.5" text-anchor="end" font-family='"Liberation Serif", serif' fill="#262626" >0.6</text>
<line x1="360.8" y1="150.3" x2="360.8" y2="148.7" stroke="#262626" stroke-width="0.5" />
<line x1="360.8" y1="12.5" x2="360.8" y2="14.1" stroke="#262626" stroke-width="0.5" />
<text x="360.8" y="157.8" font-size="5.5" text-anchor="middle" font-family='"Liberation Serif", serif' fill="#262626" >7</text>
<line x1="233.7" y1="53.8" x2="235.3" y2="53.8" stroke="#262626" stroke-width="0.5" />
<line x1="415.3" y1="53.8" x2="413.7" y2="53.8" stroke="#262626" stroke-width="0.5" />
<text x="231.2" y="55.6" font-size="5.5" text-anchor="end" font-family='"Liberation Serif", serif' fill="#262626" >0.7</text>
<line x1="379" y1="150.3" x2="379" y2="148.7" stroke="#262626" stroke-width="0.5" />
<line x1="379" y1="12.5" x2="379" y2="14.1" stroke="#262626" stroke-width="0.5" />
<text x="379" y="157.8" font-size="5.5" text-anchor="middle" font-family='"Liberation Serif", serif' fill="#262626" >8</text>
<line x1="233.7" y1="40.1" x2="235.3" y2="40.1" stroke="#262626" stroke-width="0.5" />
<line x1="415.3" y1="40.1" x2="413.7" y2="40.1" stroke="#262626" stroke-width="0.5" />
<text x="231.2" y="41.9" font-size="5.5" text-anchor="end" font-family='"Liberation Serif", serif' fill="#262626" >0.8</text>
<line x1="397.1" y1="150.3" x2="397.1" y2="148.7" stroke="#262626" stroke-width="0.5" />
<line x1="397.1" y1="12.5" x2="397.1" y2="14.1" stroke="#262626" stroke-width="0.5" />
<text x="397.1" y="157.8" font-size="5.5" text-anchor="middle" font-family='"Liberation Serif", serif' fill="#262626" >9</text>
<line x1="233.7" y1="26.3" x2="235.3" y2="26.3" stroke="#262626" stroke-width="0.5" />
<line x1="415.3" y1="26.3" x2="413.7" y2="26.3" stroke="#262626" stroke-width="0.5" />
<text x="231.2" y="28.1" font-size="5.5" text-anchor="end" font-family='"Liberation Serif", serif' fill="#262626" >0.9</text>
<line x1="415.3" y1="150.3" x2="415.3" y2="148.7" stroke="#262626" stroke-width="0.5" />
<line x1="415.3" y1="12.5" x2="415.3" y2="14.1" stroke="#262626" stroke-width="0.5" />
<text x="415.3" y="157.8" font-size="5.5" text-anchor="middle" font-family='"Liberation Serif", serif' fill="#262626" >10</text>
<line x1="233.7" y1="12.5" x2="235.3" y2="12.5" stroke="#262626" stroke-width="0.5" />
<line x1="415.3" y1="12.5" x2="413.7" y2="12.5" stroke="#262626" stroke-width="0.5" />
<text x="231.2" y="14.3" font-size="5.5" text-anchor="end" font-family='"Liberation Serif", serif' fill="#262626" >1</text>
<text x="324.6" y="166" font-size="8.1" text-anchor="middle" font-family='"Liberation Serif", serif' fill="#262626" >Flood Depth (m)</text>
<text transform="translate(220.6,81.7) rotate(-90)" font-size="7.6" text-anchor="middle" font-family='"Liberation Serif", serif' fill="#262626" >Exceedance Probability of DS</text>
<text x="212.2" y="13.4" font-size="11.3" text-anchor="start" font-family='"Liberation Serif", serif' fill="#000" font-weight="bold">(b)</text>
<rect x="380" y="118.7" width="33.5" height="29" fill="#fff" stroke="#262626" stroke-width="0.5" />
<line x1="381.8" y1="122.6" x2="396.5" y2="122.6" stroke="#0ff" stroke-width="1.1" />
<text x="399" y="124.8" font-size="6.6" text-anchor="start" font-family='"Liberation Serif", serif' fill="#000" >DS1</text>
<line x1="381.8" y1="129.5" x2="396.5" y2="129.5" stroke="#0f0" stroke-width="1.1" />
<text x="399" y="131.7" font-size="6.6" text-anchor="start" font-family='"Liberation Serif", serif' fill="#000" >DS2</text>
<line x1="381.8" y1="136.2" x2="396.5" y2="136.2" stroke="#ff0" stroke-width="1.1" />
<text x="399" y="138.4" font-size="6.6" text-anchor="start" font-family='"Liberation Serif", serif' fill="#000" >DS3</text>
<line x1="381.8" y1="143" x2="396.5" y2="143" stroke="#f00" stroke-width="1.1" />
<text x="399" y="145.2" font-size="6.6" text-anchor="start" font-family='"Liberation Serif", serif' fill="#000" >DS4</text>
<polygon points="29,333.5 30,333.4 30.4,332.9 30.7,331.1 31.1,327.2 31.7,312.8 32.8,284.9 33.5,269.2 34.1,257.7 34.8,249.8 35.5,244.7 35.9,242.9 36.5,240.4 36.9,239.5 37.6,238.3 38.3,237.6 38.9,237.1 40,236.7 41.3,236.5 46.1,236.4 200.5,236.4 200.5,275.7 45.5,275.7 40.7,275.8 39.3,276 38.3,276.4 37.6,276.8 36.9,277.6 36.2,278.8 35.9,279.6 35.2,282 34.5,285.8 33.8,291.5 33.1,299.6 31.7,321.2 31.1,329.8 30.7,332.1 30.4,333.2 30,333.5 29,333.5" fill="#000" fill-opacity="0.2"/>
<polygon points="29,333.5 72.6,333.4 81.8,333.2 88.3,332.8 91.4,332.4 94.2,331.9 96.9,331.2 99.7,330.3 102.4,329.2 104.8,328.1 106.9,326.9 108.9,325.4 111,323.7 113,321.6 115.1,319.2 117.2,316.5 119.6,312.9 122,309.1 124.7,304.3 127.1,299.8 130.2,293.4 132.9,287 135.3,281 142.5,262.1 145.3,255.4 148,249.1 153.9,236.6 158,228.2 161.1,222.7 162.4,220.5 163.8,218.6 165.2,216.9 166.9,215 168.6,213.4 170.7,211.7 173.4,209.7 176.1,207.9 178.5,206.5 180.6,205.5 182.3,204.8 184,204.3 187.5,203.5 191.6,203.1 200.5,202.4 200.5,249.3 191.6,249.7 187.5,250 184,250.5 180.6,251.3 178.2,252.1 175.8,253 170.3,255.5 168.3,256.6 166.5,257.6 164.8,258.9 163.5,260 160.7,262.7 157.6,266.3 153.5,271.7 147.7,279.8 144.9,283.9 142.5,287.6 133.3,303.1 130.9,306.8 128.5,310.1 125,314.3 121.3,318.5 117.8,321.9 114.4,324.9 112.3,326.3 109.9,327.8 107.5,328.9 104.8,330 101.7,330.9 98.3,331.8 94.9,332.4 91.4,332.8 84.9,333.2 75,333.4 29,333.5" fill="#000" fill-opacity="0.2"/>
<polygon points="29,333.5 30.7,333.5 31.4,333.3 32.1,332.9 32.4,332.5 33.5,330.9 35.9,325.7 36.9,323.9 37.9,322.3 39.3,320.8 40.7,319.8 42.4,319.1 44.1,318.6 46.5,318.3 51,318.1 59.5,318 200.5,318 200.5,322.7 58.2,322.7 49.9,322.8 45.5,323 43.7,323.2 42,323.5 40.7,324 39.3,324.7 37.9,325.7 36.9,326.8 35.9,328.1 33.5,331.7 32.4,332.8 32.1,333.1 31.4,333.4 30.7,333.5 29,333.5" fill="#000" fill-opacity="0.2"/>
<polygon points="29,333.5 55.1,333.5 61.2,333.4 64,333.3 66,333 68.1,332.6 69.8,332.1 71.5,331.4 73.2,330.3 74.6,329.3 76.3,327.8 77.7,326.3 79.4,324.3 85.9,316 88,313.8 89.7,312.2 91.8,310.8 93.8,309.7 95.9,309 98.3,308.5 102.1,308.2 108.2,308.1 200.5,308 200.5,319.1 108.2,319.1 102.1,319.1 98.3,319.3 95.9,319.6 93.8,320 91.8,320.6 89.7,321.4 88,322.3 85.9,323.6 79.4,328.3 76.3,330.3 74.6,331.1 73.2,331.7 71.5,332.3 69.8,332.7 66,333.2 61.2,333.5 29,333.5" fill="#000" fill-opacity="0.2"/>
<polygon points="29,333.5 53.4,333.5 63,333.3 67.1,333.2 70.5,332.9 73.6,332.5 76.3,332.1 79.1,331.5 81.5,330.8 83.9,330 86.6,328.9 91.1,326.8 102.1,321 104.8,319.8 107.5,318.7 110.6,317.6 113.7,316.8 117.2,316.1 120.6,315.7 126.8,315.2 135.7,315 200.5,315 200.5,321.2 135.7,321.2 126.8,321.3 120.6,321.6 117.2,321.9 113.7,322.4 110.6,322.9 107.5,323.6 102.1,325.2 91.1,329 86.6,330.4 81.5,331.7 76.3,332.5 70.5,333.1 63,333.4 53.4,333.5 29,333.5" fill="#000" fill-opacity="0.2"/>
<polyline points="29,333.5 30,333.5 30.4,333.1 30.7,331.6 31.1,328.5 31.7,317.1 32.8,295 33.5,282.5 34.1,273.3 34.8,267.1 35.5,263 35.9,261.6 36.5,259.6 36.9,258.9 37.6,258 38.3,257.4 38.9,257 40,256.7 41.3,256.5 46.1,256.4 200.5,256.4" fill="none" stroke="#00f" stroke-width="1.3" />
<polyline points="29,333.5 30.7,333.5 31.4,333.4 32.1,333 32.4,332.7 33.5,331.2 35.9,326.8 36.9,325.1 37.9,323.8 39.3,322.5 40.7,321.6 42.4,320.9 44.1,320.5 46.5,320.3 51,320.1 59.5,320 200.5,320" fill="none" stroke="#0f0" stroke-width="1.3" />
<polyline points="29,333.5 61.2,333.4 66,333.1 68.1,332.8 69.8,332.4 71.5,331.8 73.2,331 74.6,330.2 76.3,329 79.4,326.3 85.9,319.7 88,318 89.7,316.7 91.8,315.6 93.8,314.8 95.9,314.2 98.3,313.8 102.1,313.6 108.2,313.5 200.5,313.5" fill="none" stroke="#0ff" stroke-width="1.3" />
<polyline points="29,333.5 53.4,333.5 63,333.4 70.5,333 76.3,332.3 79.1,331.8 81.5,331.2 83.9,330.6 86.6,329.6 91.1,327.9 102.1,323.1 104.8,322.1 107.5,321.1 110.6,320.3 113.7,319.6 117.2,319 120.6,318.6 126.8,318.3 135.7,318.1 200.5,318.1" fill="none" stroke="#f0f" stroke-width="1.3" />
<polyline points="29,333.5 72.6,333.4 81.8,333.3 88.3,332.9 91.4,332.6 94.2,332.2 96.9,331.6 99.7,330.9 102.4,330 104.8,329.1 106.9,328.1 108.9,326.9 111,325.5 113,323.9 115.1,321.9 117.2,319.7 119.6,316.8 122,313.6 124.7,309.7 127.1,306.1 130.2,300.9 132.9,295.7 135.3,290.8 142.5,275.4 145.3,270 148,264.9 153.9,254.7 158,247.9 161.1,243.4 163.8,240.1 165.2,238.7 166.9,237.2 168.6,235.9 170.7,234.5 173.4,232.9 176.1,231.4 178.5,230.3 180.6,229.4 184,228.4 187.5,227.8 191.6,227.5 200.5,226.9" fill="none" stroke="#000" stroke-width="1.2" />
<line x1="29" y1="333.5" x2="200.5" y2="333.5" stroke="#262626" stroke-width="0.5" />
<line x1="29" y1="333.5" x2="29" y2="198.6" stroke="#262626" stroke-width="0.5" />
<line x1="29" y1="333.5" x2="29" y2="331.9" stroke="#262626" stroke-width="0.5" />
<text x="29" y="341.3" font-size="5.5" text-anchor="middle" font-family='"Liberation Serif", serif' fill="#262626" >0</text>
<line x1="46.1" y1="333.5" x2="46.1" y2="331.9" stroke="#262626" stroke-width="0.5" />
<text x="46.1" y="341.3" font-size="5.5" text-anchor="middle" font-family='"Liberation Serif", serif' fill="#262626" >1</text>
<line x1="63.3" y1="333.5" x2="63.3" y2="331.9" stroke="#262626" stroke-width="0.5" />
<text x="63.3" y="341.3" font-size="5.5" text-anchor="middle" font-family='"Liberation Serif", serif' fill="#262626" >2</text>
<line x1="80.5" y1="333.5" x2="80.5" y2="331.9" stroke="#262626" stroke-width="0.5" />
<text x="80.5" y="341.3" font-size="5.5" text-anchor="middle" font-family='"Liberation Serif", serif' fill="#262626" >3</text>
<line x1="97.6" y1="333.5" x2="97.6" y2="331.9" stroke="#262626" stroke-width="0.5" />
<text x="97.6" y="341.3" font-size="5.5" text-anchor="middle" font-family='"Liberation Serif", serif' fill="#262626" >4</text>
<line x1="114.8" y1="333.5" x2="114.8" y2="331.9" stroke="#262626" stroke-width="0.5" />
<text x="114.8" y="341.3" font-size="5.5" text-anchor="middle" font-family='"Liberation Serif", serif' fill="#262626" >5</text>
<line x1="131.9" y1="333.5" x2="131.9" y2="331.9" stroke="#262626" stroke-width="0.5" />
<text x="131.9" y="341.3" font-size="5.5" text-anchor="middle" font-family='"Liberation Serif", serif' fill="#262626" >6</text>
<line x1="149.1" y1="333.5" x2="149.1" y2="331.9" stroke="#262626" stroke-width="0.5" />
<text x="149.1" y="341.3" font-size="5.5" text-anchor="middle" font-family='"Liberation Serif", serif' fill="#262626" >7</text>
<line x1="166.2" y1="333.5" x2="166.2" y2="331.9" stroke="#262626" stroke-width="0.5" />
<text x="166.2" y="341.3" font-size="5.5" text-anchor="middle" font-family='"Liberation Serif", serif' fill="#262626" >8</text>
<line x1="183.3" y1="333.5" x2="183.3" y2="331.9" stroke="#262626" stroke-width="0.5" />
<text x="183.3" y="341.3" font-size="5.5" text-anchor="middle" font-family='"Liberation Serif", serif' fill="#262626" >9</text>
<line x1="200.5" y1="333.5" x2="200.5" y2="331.9" stroke="#262626" stroke-width="0.5" />
<text x="200.5" y="341.3" font-size="5.5" text-anchor="middle" font-family='"Liberation Serif", serif' fill="#262626" >10</text>
<line x1="29" y1="333.5" x2="30.6" y2="333.5" stroke="#262626" stroke-width="0.5" />
<text x="26.2" y="335.3" font-size="5.5" text-anchor="end" font-family='"Liberation Serif", serif' fill="#262626" >0</text>
<line x1="29" y1="314.2" x2="30.6" y2="314.2" stroke="#262626" stroke-width="0.5" />
<text x="26.2" y="316" font-size="5.5" text-anchor="end" font-family='"Liberation Serif", serif' fill="#262626" >0.5</text>
<line x1="29" y1="295" x2="30.6" y2="295" stroke="#262626" stroke-width="0.5" />
<text x="26.2" y="296.8" font-size="5.5" text-anchor="end" font-family='"Liberation Serif", serif' fill="#262626" >1</text>
<line x1="29" y1="275.7" x2="30.6" y2="275.7" stroke="#262626" stroke-width="0.5" />
<text x="26.2" y="277.5" font-size="5.5" text-anchor="end" font-family='"Liberation Serif", serif' fill="#262626" >1.5</text>
<line x1="29" y1="256.4" x2="30.6" y2="256.4" stroke="#262626" stroke-width="0.5" />
<text x="26.2" y="258.2" font-size="5.5" text-anchor="end" font-family='"Liberation Serif", serif' fill="#262626" >2</text>
<line x1="29" y1="237.2" x2="30.6" y2="237.2" stroke="#262626" stroke-width="0.5" />
<text x="26.2" y="239" font-size="5.5" text-anchor="end" font-family='"Liberation Serif", serif' fill="#262626" >2.5</text>
<line x1="29" y1="217.9" x2="30.6" y2="217.9" stroke="#262626" stroke-width="0.5" />
<text x="26.2" y="219.7" font-size="5.5" text-anchor="end" font-family='"Liberation Serif", serif' fill="#262626" >3</text>
<line x1="29" y1="198.6" x2="30.6" y2="198.6" stroke="#262626" stroke-width="0.5" />
<text x="26.2" y="200.4" font-size="5.5" text-anchor="end" font-family='"Liberation Serif", serif' fill="#262626" >3.5</text>
<text x="30" y="196.5" font-size="4.3" text-anchor="start" font-family='"Liberation Serif", serif' fill="#262626" >×10<tspan dy="-1.6" font-size="3">7</tspan></text>
<text x="114.5" y="349.7" font-size="7.65" text-anchor="middle" font-family='"Liberation Serif", serif' fill="#262626" >Flood Depth (m)</text>
<text transform="translate(17.3,267.6) rotate(-90)" font-size="7.15" text-anchor="middle" font-family='"Liberation Serif", serif' fill="#262626" >Component Loss (USD $)</text>
<text x="6.5" y="196" font-size="11.3" text-anchor="start" font-family='"Liberation Serif", serif' fill="#000" font-weight="bold">(c)</text>
<rect x="32.8" y="202.7" width="73.1" height="27.6" fill="#fff" stroke="#262626" stroke-width="0.5" />
<line x1="34.9" y1="205.8" x2="50.4" y2="205.8" stroke="#00f" stroke-width="1.2" />
<text x="51.1" y="207.2" font-size="4.4" text-anchor="start" font-family='"Liberation Serif", serif' fill="#000" >AC Units</text>
<line x1="34.9" y1="211.2" x2="50.4" y2="211.2" stroke="#0f0" stroke-width="1.2" />
<text x="51.1" y="212.6" font-size="4.4" text-anchor="start" font-family='"Liberation Serif", serif' fill="#000" >Cabinets</text>
<line x1="34.9" y1="216.7" x2="50.4" y2="216.7" stroke="#0ff" stroke-width="1.2" />
<text x="51.1" y="218.1" font-size="4.4" text-anchor="start" font-family='"Liberation Serif", serif' fill="#000" >Drywall (DS3)</text>
<line x1="34.9" y1="222.1" x2="50.4" y2="222.1" stroke="#f0f" stroke-width="1.2" />
<text x="51.1" y="223.5" font-size="4.4" text-anchor="start" font-family='"Liberation Serif", serif' fill="#000" >Exterior Cladding/Brick Walls</text>
<line x1="34.9" y1="227.5" x2="50.4" y2="227.5" stroke="#000" stroke-width="1.2" />
<text x="51.1" y="228.9" font-size="4.4" text-anchor="start" font-family='"Liberation Serif", serif' fill="#000" >Slab on grade Foundation</text>
<g clip-path="url(#cd)">
<polygon points="235.7,330 236.2,329.8 236.6,323.9 237.1,326.2 237.5,323.7 238,319.2 238.4,320.8 238.9,317.6 239.3,313.2 240.2,308.5 240.7,303.8 241.1,301.5 241.6,297.9 242.1,299.4 242.5,296.1 243,291.5 243.4,288.8 243.9,292.6 244.3,287.8 244.8,289 245.7,286.2 246.1,284.3 246.6,281 247,280.3 247.5,280.4 248,280.1 248.4,278.7 248.9,278.1 249.3,275.8 249.8,277.2 250.2,275.5 251.1,274.1 251.6,273 252,272.5 252.5,270.2 253,271.9 253.4,268.9 253.9,271.4 254.3,271.4 254.8,270.2 255.2,269.5 255.7,269.4 256.1,267.6 256.6,267.5 257,268.3 257.5,269.4 257.9,268.8 258.4,266.2 258.9,267.9 259.3,270.1 259.8,268.9 260.2,268.5 260.7,265.7 261.1,267.5 261.6,263.6 262,266 262.9,267.4 263.4,265 263.8,266.8 264.3,267.5 264.8,265.2 265.2,266 265.7,264 266.1,265.8 266.6,270 267,264.2 267.5,268.2 267.9,262.8 268.4,262.2 268.8,265.5 269.3,266.5 269.8,266.8 270.2,263.1 270.7,264.6 271.1,265.1 271.6,264.3 272,260.6 272.5,263.1 272.9,262.3 273.4,262.1 273.8,261.5 274.3,261.3 274.7,263.9 275.2,263 275.7,263.6 276.1,263.4 276.6,260.4 277,262.7 277.5,261.9 277.9,262.7 278.4,262.4 278.8,260.1 279.3,261.8 279.7,261.7 280.2,260.1 280.6,259.9 281.1,259.3 281.6,260.1 282,262.9 282.5,259.1 282.9,259.1 283.4,258.1 283.8,260.9 284.3,255.5 284.7,261.1 285.2,257.9 286.1,259.5 286.5,257.3 287,258.8 287.5,261.9 287.9,259.9 288.8,254.3 289.3,259.9 290.2,255 291.5,258.9 292,259.3 292.4,257.5 292.9,256.8 293.4,259.5 293.8,258.5 294.3,255.2 294.7,256.1 295.2,256.5 295.6,255.8 296.1,256.2 296.5,253.4 297,252.1 297.4,251.2 297.9,253.2 298.4,252.9 298.8,251.7 299.3,251 300.2,251.5 300.6,254.2 301.1,255.5 301.5,251.5 302,252.8 302.4,252.6 302.9,253.7 303.3,254.1 303.8,249.8 304.3,251 304.7,253.2 305.2,250.8 305.6,250.7 306.1,250.2 306.5,247.4 307,250.7 307.4,252.4 307.9,250.2 308.3,251.1 308.8,249 309.2,249.3 309.7,248.9 310.2,250.2 310.6,248.5 311.1,249.7 311.5,247.9 312.4,250.1 312.9,247.4 313.3,249 313.8,245.5 314.2,246.9 314.7,246.6 315.1,247 315.6,247.1 316.1,250.5 316.5,244.7 317,247.6 317.4,244.7 317.9,247 318.3,246 318.8,245.9 319.2,247 320.1,244.2 321.1,246.5 322.4,242 322.9,242.3 323.3,242.9 323.8,244.7 324.2,241.5 324.7,242.6 325.1,242.8 325.6,240.8 326,241 326.5,240.9 327,243.2 327.4,242.1 327.9,243.6 328.3,240.4 328.8,240.4 329.2,238.7 330.1,240.2 330.6,236.1 331,240.7 331.5,240.9 331.9,239.5 332.4,237.4 332.9,238.4 333.3,238.3 333.8,239 334.2,234.6 334.7,237.5 335.1,237.8 335.6,235.9 336,236.5 336.5,235.2 336.9,232.2 337.4,234.4 337.9,233.2 338.3,233.1 338.8,232.2 339.2,230 339.7,229.7 340.1,230.4 340.6,230.7 341.5,226.5 341.9,227 342.4,226.4 342.8,228.1 343.3,222.9 343.8,226 344.2,225.1 344.7,223.2 345.1,222.1 345.6,221.7 346,222.6 346.5,221.5 346.9,221.6 347.4,223.2 347.8,220.4 348.3,220.8 348.7,218.8 349.2,219.4 349.7,217.4 350.1,217.5 351,216.2 351.5,216.8 351.9,217.9 352.4,215.3 352.8,218.6 353.7,215.4 354.2,217 354.6,215.2 355.1,217.4 355.6,216.8 356,214.9 356.5,214.4 356.9,213.5 357.4,215.3 358.3,213.9 358.7,213.9 359.2,216.5 359.6,215.2 360.1,211.9 360.6,215.9 361,212.8 361.5,214.2 361.9,211.8 362.4,214.4 362.8,212.9 363.3,216 363.7,212.7 364.2,210.8 364.6,214.6 365.1,210.2 365.5,213 366,211.8 366.5,215.8 366.9,209.6 367.4,212.5 367.8,211.8 368.3,212.7 368.7,212.1 369.2,208.6 369.6,211 370.1,208.6 370.5,210.1 371,209.1 371.4,210.3 371.9,208.7 372.4,205.2 372.8,208 373.3,208.1 373.7,209.4 374.2,207 374.6,206.3 375.1,210.9 375.5,210.2 376,204.7 376.4,207.1 376.9,207.4 377.8,205.6 378.3,206 378.7,207.4 379.2,203.7 379.6,206.8 380.1,208 381,206.6 381.4,206.9 381.9,206.5 382.3,205.6 382.8,211.1 383.2,207.1 383.7,204.3 384.2,204.8 384.6,206.6 385.1,206.4 385.5,203.5 386,205.6 386.4,205.9 386.9,202.1 387.3,205.5 387.8,203.7 388.2,204.7 388.7,204.5 389.2,205.9 389.6,205.7 390.1,202.3 390.5,206 391,203.7 391.4,205.9 391.9,204.3 392.3,203.9 392.8,206.3 393.2,201.9 393.7,203.9 394.1,201.6 394.6,204.9 395.5,199.6 396,202.9 396.4,204.1 396.9,202.3 397.8,203.2 398.2,203 398.7,203.7 399.1,202.1 399.6,203.3 400,204 400.5,201.3 401,202.8 401.4,198.3 401.9,202.8 402.3,203.5 402.8,203.1 403.2,201.7 403.7,203.3 404.1,204.1 404.6,199.5 405,204 405.5,199.6 406.4,203.5 406.9,199.2 407.3,202.1 407.8,203.3 408.7,199.7 409.1,200.5 409.6,200.3 410,198.8 410.5,201.2 410.9,200.9 411.4,201.8 411.9,203.6 412.3,201.6 412.8,198.8 413.2,204 413.7,199.2 414.6,202.6 415,201.1 415.5,198.4 415.9,202 416.4,199.9 416.8,199.3 417.3,202.5 417.3,234.7 416.4,242.4 415.9,234.5 415.5,239.2 415,235.2 414.6,239.5 414.1,240 413.7,235.2 413.2,239.9 412.8,238.7 412.3,241.7 411.9,241.7 411.4,243 410.9,243.8 410.5,241.8 410,242.6 409.6,244.5 409.1,241.4 408.7,243.2 408.2,243.8 407.8,243.7 407.3,244.8 406.9,245 406.4,246.7 406,245.4 405.5,248 405,247.5 404.6,243.5 403.7,248.6 403.2,247.8 402.8,248 402.3,246.9 401.9,249.1 401.4,250.7 401,247.7 400.5,253 400,251.4 399.6,249.1 399.1,251.2 398.7,251.2 398.2,250 397.8,253.1 397.3,255.2 396.9,252.5 396.4,253 396,256.2 395.5,251.9 395.1,253 394.6,258.5 394.1,256 393.7,254.2 393.2,254.8 392.8,257.2 392.3,255.8 391.4,259.4 391,257.4 390.5,259 390.1,258.2 389.6,258.6 389.2,259.5 388.7,260.9 388.2,259.5 387.8,257.8 387.3,261.5 386.9,260.3 386.4,260.6 386,263 385.5,261.6 385.1,261.6 384.6,261.2 384.2,261 383.7,262.8 383.2,262.1 382.8,262.4 382.3,263.7 381.9,263.7 381.4,262.6 381,266.1 380.5,265 380.1,266.4 379.6,265.5 379.2,266.8 378.7,269 378.3,267.1 377.8,266.5 377.3,267.4 376.9,268 376.4,268.5 376,269.8 375.5,269 375.1,268.8 374.6,269.3 374.2,271.8 373.3,270.7 372.8,271.7 372.4,275.8 371.9,272.9 371.4,275 371,271.2 370.5,271.7 370.1,272 369.6,273.1 369.2,275.9 368.7,277.9 368.3,274.2 367.8,276.3 367.4,273.9 366.5,277.6 366,277.6 365.5,278.8 365.1,277 364.6,278.8 364.2,277.1 363.7,276.6 363.3,278.1 362.8,277.2 362.4,276.8 361.9,283.5 361.5,281 361,277.1 360.6,282.2 360.1,280.6 359.6,279.9 359.2,280.4 358.3,282.2 357.8,282.5 356.9,281.2 356.5,281.1 356,282.2 355.6,287.1 355.1,282.2 354.6,283.4 354.2,282 353.7,282.8 353.3,284.6 352.8,284.9 352.4,288.7 351.9,285.9 351.5,286.4 351,286.7 350.6,286.5 350.1,289.1 349.7,286.2 349.2,288 348.7,289 348.3,285.7 347.8,287.4 347.4,286.7 346.9,289.5 346.5,287.9 346,287.6 345.6,288.4 345.1,287.4 344.7,288.3 344.2,288.8 343.8,289.8 343.3,288.5 342.8,288.7 342.4,291.2 341.9,290.2 341.5,288.3 341,288.9 340.1,291.2 339.7,291 339.2,292 338.8,288.9 338.3,289.3 337.9,291.7 337.4,291.5 336.9,291.9 336.5,289 336,289.7 335.6,293.8 334.7,291.5 334.2,291.3 333.8,292.3 333.3,290.8 332.9,288.8 332.4,292 331.9,291.3 331.5,294.7 331,292.4 330.6,295.1 330.1,293 329.7,293 329.2,294.8 328.8,293.7 328.3,294.8 327.9,296.6 327.4,296.2 327,290.6 326.5,293.8 326,294.5 325.6,291.5 325.1,295.4 324.7,295.5 324.2,295.1 323.8,294.3 322.9,296.1 322.4,298.5 322,295.5 321.5,297.6 321.1,294.5 320.6,298.2 319.7,294.7 319.2,297.4 318.8,293.9 318.3,294 317.4,295.4 317,294 316.5,296.2 315.6,294.9 315.1,295.8 314.7,299.9 314.2,295.9 313.8,296 313.3,294.6 312.9,298 312,296.1 311.5,297.4 311.1,293.6 310.6,298.6 310.2,297.8 309.7,296.5 308.8,298.8 308.3,296.9 307.9,298.8 307.4,296.2 307,300.6 306.5,299 306.1,299.5 305.6,298.6 305.2,298.1 304.7,299.4 304.3,298.9 303.8,302 303.3,300.9 302.9,300.3 302.4,297.3 302,297 301.5,299.6 301.1,299.3 300.6,298.4 300.2,302.6 299.3,299.3 298.8,301 298.4,298.5 297.9,298.2 297.4,302.2 297,301 296.5,298.6 296.1,299.4 295.2,300.4 294.3,302.7 293.8,300.4 293.4,303.1 292.4,301.2 292,303.4 291.5,303.1 291.1,301.7 290.6,304.2 290.2,302.9 289.7,302.4 289.3,303.4 288.8,301.4 288.4,306.4 287.9,302.6 287.5,304.1 287,302.4 286.5,305.5 286.1,301.3 285.6,301.5 284.7,305.2 284.3,304.6 283.8,301.5 283.4,303.3 282.9,306.3 282.5,303.6 282,303.7 281.6,302.4 281.1,303 280.6,302.1 280.2,302.6 279.7,302.9 279.3,302.8 278.8,304.4 278.4,306.9 277.9,302.1 277.5,306.7 277,305.3 276.6,307.4 276.1,304.1 275.7,306.2 275.2,303 274.7,305.1 274.3,306 273.8,304.6 272.9,303.6 272.5,304.6 272,304.2 271.1,305.5 270.7,307.2 270.2,302.1 269.8,306.8 269.3,304.9 268.8,303.9 268.4,307.8 267.9,304.2 267.5,308.3 267,305.3 266.6,307 266.1,306.9 265.7,310.2 265.2,307 264.8,308.1 264.3,306.7 263.8,310 263.4,307.4 262.9,309.5 262.5,309 262,309.9 261.6,311.7 261.1,310.4 260.7,310.5 260.2,312.6 259.8,311.4 259.3,311.8 258.9,309.1 258.4,313.6 257.9,310.3 257.5,311.7 256.6,313.7 256.1,315.1 255.7,313.1 255.2,313.5 254.8,313 253.9,318.1 253.4,316.3 253,317.2 252.5,318.6 252,316 251.6,320 251.1,315.5 250.7,320 250.2,322.2 249.8,320.6 249.3,322.7 248.9,323.9 248.4,322 248,321.7 247.5,323.2 246.6,327.5 246.1,327.7 245.7,325.6 245.2,328.2 244.8,332 244.3,327.4 243.9,333.1 243.4,331.6 243,331.9 242.5,330.9 242.1,334.9 241.6,332.9 241.1,335.4 240.2,335.5 239.3,335.3 238.9,334.2 238.4,335.5 237.5,335.5 237.1,334.1 236.6,335.5 236.2,334.6 235.7,334.5" fill="#8a8aee" stroke="#8a8aee" stroke-width="0.6" stroke-linejoin="round"/>
<path d="M340.9,227.1h.01M368.6,210.3h.01M317.2,238.9h.01M247.7,275.8h.01M357.8,212h.01M394.1,201.7h.01M294.6,253.6h.01M380,269.3h.01M366.8,207.7h.01M353.9,288.4h.01M245.1,284.3h.01M241.9,335.5h.01M329.9,293.1h.01M334.4,292.6h.01M259.1,312.4h.01M412.3,243h.01M281.6,306h.01M374.9,204.9h.01M313.3,298.8h.01M319.7,299.9h.01M385.2,263.9h.01M412.5,199h.01M246.9,277.9h.01M371.3,197.8h.01M355.1,214.9h.01M335.1,299.3h.01M307.7,304.9h.01M328.1,239.9h.01M287.8,257.7h.01M405.4,253.5h.01M263.2,312.9h.01M266.5,264.9h.01M365.4,209.3h.01M322.1,296.5h.01M352.3,216.5h.01M348.4,290.5h.01M367.2,281.6h.01M264.7,265.1h.01M364.5,210.3h.01M298.1,248.3h.01M362.5,283.4h.01M301.7,299.7h.01M386.2,264.6h.01M390,260.8h.01M352.3,213.6h.01M286.8,257.3h.01M311.9,298.7h.01M303.9,300h.01M271.7,306.7h.01M251.2,266.6h.01M350,292.4h.01M319.6,299.2h.01M251.3,269.7h.01M351.4,216.5h.01M345.9,220.8h.01M332.6,296.1h.01M258.9,264.7h.01M322.4,238.2h.01M329.3,238.8h.01M260.6,261.9h.01M284,307.7h.01M416.8,240.1h.01M412.8,199.8h.01M398.5,253.6h.01M326.6,235.8h.01M369.6,206.1h.01M258.2,265.2h.01M315.3,240.8h.01M363.4,212h.01M294.3,254.3h.01M389.4,259.3h.01M380.8,267.8h.01M289.5,255.5h.01M247.2,328.5h.01M350.8,288.8h.01M281,254.6h.01M372.8,209h.01M339.2,229.7h.01M393.6,203.5h.01M252.7,269.3h.01M318.3,245.2h.01M391.9,261.1h.01M385.8,205h.01M387.7,264.1h.01M253.2,316.7h.01M324.5,240.7h.01M345.4,294.1h.01M335.4,293.5h.01M241.4,335.5h.01M376.3,205.4h.01M371.4,273.7h.01M327.3,294.2h.01M265.9,308.7h.01M269.9,307.7h.01M241.1,335.5h.01M337.2,227h.01M364.4,279.5h.01M358.8,284.4h.01M333.2,236.9h.01M314.1,297.6h.01M364.7,208.4h.01M337.4,298.5h.01M344,293.2h.01M256.2,314h.01M413.4,243.6h.01M242.9,292.5h.01M356.6,212.9h.01M366.2,211.2h.01M311.1,301h.01M365.9,206.6h.01M410.3,201.4h.01M370.2,209.2h.01M380.8,269.8h.01M277.9,259.9h.01M347.4,218h.01M277.9,308.5h.01M353.3,214.8h.01M390.4,199.1h.01M307.9,245.5h.01M277.9,306.3h.01M400.1,250.9h.01M287.1,256.9h.01M292.4,307.8h.01M414.6,241.8h.01M407.8,244.7h.01M389.5,260.6h.01M261.4,264.6h.01M378.7,268.4h.01M313.4,296.7h.01M314.6,246h.01M289.4,251.4h.01M290.6,307.5h.01M275.3,253.4h.01M297.7,301.6h.01M249.3,276.6h.01M310.3,299.2h.01M329.8,239.1h.01M416.3,199.9h.01M273.6,257.3h.01M362.5,279h.01M286.3,258.6h.01M294.8,249.4h.01M405.3,197h.01M338.2,293.9h.01M389.3,261.6h.01M411.3,198.9h.01M337.5,232.2h.01M390.8,258.8h.01M404.2,254.7h.01M314.5,246.1h.01M259.1,267h.01M325.1,295.2h.01M292.1,306.2h.01M393,257.3h.01M407.7,247.2h.01M247.5,271.7h.01M322,243.8h.01M277.6,309.2h.01M324.8,295.9h.01M253.4,267h.01M297,251.6h.01M258.9,268h.01M312.4,300.4h.01M249.1,273.9h.01M359.8,213.5h.01M402.6,200.7h.01M396.8,201.7h.01M328.3,293.6h.01M258.1,268.4h.01M384.3,265.2h.01M335.1,294.1h.01M273.1,310.8h.01M353.5,216.2h.01M381,205.3h.01M295,254.5h.01M368.7,207.4h.01M298.7,303.4h.01M376.7,270.7h.01M342.3,296.3h.01M390.4,200.9h.01M285.6,307.7h.01M375.3,206h.01M290.8,249.2h.01M323.9,240.2h.01M395.6,203.2h.01M361.1,211.6h.01M386.7,265.4h.01M347.9,218.8h.01M348.4,212h.01M405.6,253.9h.01M278.8,306.2h.01M386.7,262.1h.01M349.9,287.5h.01M393.4,256.5h.01M413.9,241.5h.01M289.5,257h.01M399.9,198.6h.01M274.6,307.5h.01M309.4,300.2h.01M411.8,199h.01M269.7,307.9h.01M293.9,254.6h.01M401.1,199.6h.01M307.3,300.3h.01M332.8,295.1h.01M286,304.8h.01M328.6,294.9h.01M331.6,294.3h.01M411.4,242.4h.01M317.1,245.8h.01M415.1,239.3h.01M314.3,245.7h.01M259.2,312.6h.01M350,289.1h.01M342.3,290.7h.01M382.5,204.6h.01M342.2,226.3h.01M385.9,199.4h.01M338.1,227.9h.01M389.2,203.8h.01M330.1,295.7h.01M332.7,235.8h.01M331.6,234.1h.01M380,200.7h.01M322.1,241.8h.01M273.6,259.2h.01M359.7,210.7h.01M399.5,253h.01M263.9,312.1h.01M283.7,258h.01M310.5,247.4h.01M265.4,260.8h.01M375.5,205.4h.01M373.7,207.1h.01M322.9,241.1h.01M404.7,247.8h.01M399.9,200.9h.01M385,204.8h.01M357.1,283.9h.01M409.9,245.7h.01M375.5,270.3h.01M392.2,201.4h.01M326,240.9h.01M406.4,200.4h.01M379.9,203.9h.01M329.2,237.4h.01M394.4,256.8h.01M264.5,265.7h.01M311.4,297.8h.01M339.8,294.2h.01M385.5,203.5h.01M386.6,204.6h.01M305.2,301h.01M338.2,228.7h.01M317.8,245.7h.01M285.9,254.7h.01M264,261h.01M334.6,293.5h.01M362.6,206.8h.01M366.2,206.5h.01M382.3,205.3h.01M370.4,274.2h.01M319.4,296.8h.01M265.9,262.7h.01M335.3,232.9h.01M311.2,248.2h.01M242,335.5h.01M401.9,202.1h.01M348.3,216.7h.01M388.5,197.1h.01M328.9,239.8h.01M259.5,314.7h.01M289,252h.01M357.6,206.5h.01M403.6,251.2h.01M350.2,288.9h.01M401.6,251.7h.01M397.3,254.8h.01M286.4,306.2h.01M271.6,306.4h.01M358.2,282h.01M375.3,270.5h.01M338.1,292.6h.01M381.4,206.1h.01M411.9,198.5h.01M269.7,262.6h.01M324.5,297.5h.01M257.8,266.7h.01M298.2,302.6h.01M254.5,265.1h.01M374.2,206.4h.01M343.1,222.1h.01M365.5,205.7h.01M331.7,237.9h.01M243,291.2h.01M276.3,261.9h.01M320.8,296.9h.01M269.9,311.6h.01M386.3,205h.01M241.6,335.5h.01M297.6,252.7h.01M329.1,239.5h.01M319.5,296.2h.01M282.2,306.2h.01M408.7,201h.01M352.9,287h.01M261.6,315h.01M409.9,201.1h.01M247.7,328.4h.01M361.3,283.7h.01M414.9,240.2h.01M361,211.4h.01M331.7,235.2h.01M270.7,305.7h.01M340.6,227.7h.01M370.5,273.5h.01M256.9,316.6h.01M381.5,203.5h.01M348.5,291.6h.01M251.4,322.9h.01M381.3,270.2h.01M347.3,216.4h.01M385,203.3h.01M274.9,257.8h.01M296.2,303.4h.01M401.8,200.6h.01M406.2,247.5h.01M412.2,241.3h.01M243.4,286h.01M315.5,297.1h.01M410.3,196.2h.01M356.6,211.9h.01M322.8,296.2h.01M264.9,310.1h.01M329.3,238.8h.01M377.4,201.6h.01M343,290.1h.01M310.5,248.2h.01M417.3,241.4h.01M262.5,262.1h.01M393.9,258.9h.01M270.8,263.8h.01M286.7,308.5h.01M396.2,256.1h.01M292,256.3h.01M276.7,260.4h.01M281,255.8h.01M410.6,200.2h.01M407.2,198.3h.01M370.1,273.7h.01M337.7,293.9h.01M414.7,241.7h.01M355.7,208.8h.01M325.3,241.8h.01M393.5,255.9h.01M347.5,289.8h.01M330.8,238.5h.01M356.3,210.5h.01M285.4,253.7h.01M254.2,317.7h.01M366.4,206.5h.01M332,236.6h.01M320.1,299.8h.01M392.8,256.8h.01M388.9,200.7h.01M291,305.8h.01M319,241.4h.01M362.4,211h.01M338.4,292.1h.01M370.7,207.7h.01M250.8,324.6h.01M370.3,277.9h.01M285.5,252h.01M262.1,314.9h.01M301.4,252.4h.01M355.2,215.9h.01M337.1,225.3h.01M242.5,335.5h.01M305.1,303.9h.01M267.8,308.2h.01M351.8,285.9h.01M283,307.5h.01M282.8,256.5h.01M353,215.8h.01M305.4,246h.01M363.8,211h.01M315.5,302h.01M314.6,244.4h.01M306.1,299.3h.01M333.1,236.8h.01M412.9,242.8h.01M306.3,298.6h.01M248.8,277.3h.01M269.2,261h.01M308.3,247.2h.01M393.1,257.7h.01M309.3,299.9h.01M386.2,199.4h.01M287.1,304.5h.01M368.4,280.3h.01M270.4,263.6h.01M390.4,200.5h.01M354.5,214.4h.01M330.6,294.6h.01M416,240h.01M356,283.9h.01M414.2,239.8h.01M351.2,216.2h.01M407.2,246.3h.01M362.2,209.9h.01M336.3,227.5h.01M305.5,298.6h.01M310.2,298.6h.01M316.2,242.3h.01M267.1,262.9h.01M334.5,293.7h.01M416.9,241.9h.01M358.3,285.2h.01M246,330.7h.01M284.8,250.8h.01M391.2,257.7h.01M342.3,291.5h.01M258.5,315.5h.01M330.7,295.2h.01M278,305.2h.01M406.7,250h.01M359.7,209.4h.01M330.1,235.8h.01M368.9,279.8h.01M330.1,297.6h.01M305.3,302.3h.01M357.3,213.1h.01M289.3,254.6h.01M355.4,291.1h.01M381.8,202.2h.01M381.7,204.8h.01M280.4,304.3h.01M323.1,242.7h.01M403.3,201.9h.01M264.7,265h.01M271.9,259.9h.01M266,261h.01M243.3,292.2h.01M293.1,254.4h.01M318.2,245.3h.01M411.6,200.1h.01M286.8,257.3h.01M398.2,199.7h.01M327.4,238.2h.01M281.4,253.9h.01M304.6,303.2h.01M367.2,278h.01M304.3,249.2h.01M315.6,302.3h.01M314.1,246.6h.01M353.2,285.9h.01M400.3,253h.01M240.1,335.5h.01M338.3,230.7h.01M394.4,199.6h.01M263.1,264.2h.01M245.5,331.2h.01M409.9,196h.01M380.8,268.2h.01M373.8,275.9h.01M252.4,319.6h.01M340.6,225h.01M341.7,225.2h.01M277.8,305h.01M389.9,264.1h.01M348.2,211.6h.01M370,208.7h.01M409,200.1h.01M347,216.8h.01M375.8,270.5h.01M280.6,304.8h.01M272.3,305.4h.01M262.5,266.8h.01M334.5,293.2h.01M264.6,265.8h.01M280.5,259.1h.01M342.5,225.4h.01M374.1,206.4h.01M408.9,243.7h.01M395.1,201h.01M376.5,205.1h.01M355.8,284.4h.01M359.8,211.6h.01M344,293.2h.01M239.5,311.1h.01M379.1,267.9h.01M304.6,299.3h.01M381,202.8h.01M415.2,242.4h.01M298.9,253.8h.01M405.2,248.8h.01M376.6,270.6h.01M288.1,304.3h.01M294.8,249.8h.01M391,201.2h.01M264.8,263h.01M382.2,205.6h.01M280.1,254.7h.01M287.8,255.7h.01M363.9,285.9h.01M398.2,200.8h.01M373.5,275.1h.01M399.7,255.2h.01M399.7,251.9h.01M333.9,293.2h.01M346.1,291.7h.01M293.2,255.6h.01M317.5,244.3h.01M264.8,261.1h.01M349.1,216.5h.01M414.5,240.5h.01M266.3,308.3h.01M360.6,281.9h.01M346.4,292.9h.01M356.1,214.4h.01M387.3,266.4h.01M371.4,208.9h.01M288.6,307.9h.01M319.5,299.5h.01M342.4,222.3h.01M283.2,304.6h.01M333,234.2h.01M320.4,243h.01M370.3,276.6h.01M249.8,271.2h.01M277.3,304.2h.01M248.6,274h.01M266.1,313.9h.01M356.8,214.4h.01M286.5,256.6h.01M314,246.1h.01M410,243.8h.01M302.8,249.5h.01M298,302.7h.01M356.9,215.3h.01M280.6,307.3h.01M410.1,200.2h.01M341.8,292.6h.01M393.5,202.7h.01M357.4,289h.01M244.4,286.9h.01M399.7,255.1h.01M243,292.9h.01M365.2,210.2h.01M335.7,235.5h.01M349.6,289.3h.01M366.7,210.2h.01M305.9,299.4h.01M254.9,265.2h.01M355.5,288.8h.01M393.5,199.1h.01M359,211.6h.01M315.2,296.4h.01M332.8,293.3h.01M348.4,288.3h.01M331.5,293.5h.01M242,335.5h.01M269.6,262.9h.01M252.6,319.7h.01M290.8,256.5h.01M296.1,302h.01M281.7,260.1h.01M399.8,254.4h.01M372.2,208.8h.01M241.1,296.7h.01M274.2,260.8h.01M408.1,201.4h.01M336.8,232.4h.01M331,296.1h.01M332.5,231.7h.01M412.1,197.4h.01M405.6,246.9h.01M359.9,214h.01M335.8,293.5h.01M378.2,202.3h.01M286,303.5h.01M367.1,205.5h.01M317.3,242.7h.01M256.3,263.2h.01M289.7,307.9h.01M372.5,272.9h.01M303,300.1h.01M368.3,208.2h.01M338.8,295.3h.01M415.3,243.5h.01M310.7,301.3h.01M361.6,283.7h.01M310,300.2h.01M255,315.3h.01M390.2,204h.01M241.1,299.2h.01M373.5,272.9h.01M375.9,271.7h.01M298.3,300.9h.01M280.2,307.1h.01M352,217.4h.01M312.5,298.8h.01M388.6,204.3h.01M370.4,278.7h.01M332.7,293.9h.01M298.5,305.2h.01M395.1,256.4h.01M318.1,239.8h.01M348.3,293.6h.01M307.9,298.4h.01M374.1,207.6h.01M377.4,277.9h.01M348.3,218.4h.01M318,301.8h.01M389.2,200.2h.01M381.5,203.8h.01M280.5,259.9h.01M402,250h.01M388.4,202.9h.01M387.3,204.7h.01M354.4,290.1h.01M374.2,273.1h.01M372.9,272.4h.01M262,314.2h.01M305.3,301.9h.01M384.8,203.6h.01M386.8,263.3h.01M332.1,295.4h.01M290.5,305.1h.01M397.6,200.3h.01M260.4,310.8h.01M250,275.2h.01M374.7,203.3h.01M359.8,286.2h.01M355.5,213h.01M394.6,202.9h.01M317.2,242.3h.01M347.2,217.2h.01M388.8,197.6h.01M366.1,276.9h.01M414.8,199.3h.01M380.8,268.4h.01M283.6,305.6h.01M273.6,310.6h.01M410,199h.01M390.4,201.1h.01M406.6,247.1h.01M281.7,258h.01M364.6,207.8h.01M256.2,314.8h.01M408,199.4h.01M332.6,238.1h.01M310.7,247.5h.01M378.2,272.2h.01M403.8,248.6h.01M360.4,282.1h.01M263.4,313.9h.01M245.1,284.9h.01M410.8,243h.01M363.1,205.4h.01M325.8,239.3h.01M291.3,253.7h.01M311.7,243.1h.01M291.7,303.6h.01M369.8,277.1h.01M294.8,305.6h.01M273.9,259.4h.01M278.1,305h.01M314.6,297.8h.01M404,201.6h.01M354.4,214h.01M295.9,306.7h.01M306.7,302.8h.01M393,201.1h.01M312.6,298.4h.01M291.7,305h.01M361.5,280.3h.01M308.5,298.7h.01M376.3,206.1h.01M280.6,259.4h.01M342,226.5h.01M387.2,261.8h.01M387.5,260.3h.01M252.2,272.5h.01M239.6,306.7h.01M246,280.5h.01M385.4,198.5h.01M342.1,290.9h.01M290.7,254.4h.01M347.1,292.7h.01M301.9,250.4h.01M415,243.2h.01M310,246.8h.01M336.6,231.1h.01M378.3,198.8h.01M282.3,257.6h.01M341.7,296.6h.01M303,301h.01M325,297.8h.01M356,213.5h.01M341.2,290.3h.01M313.1,302h.01M293.1,255h.01M301.4,247h.01M302.5,306.4h.01M278.6,312.8h.01M359.3,214.3h.01M315.2,244.8h.01M302,303.4h.01M313.1,247.5h.01M315.7,243.7h.01M290.5,303.3h.01M309.1,249.7h.01M348.1,291.7h.01M398,254h.01M290.9,304.6h.01M273.5,309.6h.01M267.5,261.7h.01M245,329.8h.01M399.3,253.1h.01M362.1,284.1h.01M253.3,317.2h.01M368.2,203.4h.01M302.2,250.3h.01M340.5,228.7h.01M300.4,300.3h.01M323.2,235.5h.01M398.9,198.7h.01M386.4,204.6h.01M306.9,249h.01M309,248.6h.01M266,264.9h.01M340.4,228.9h.01M259.7,264.5h.01M396,255.1h.01M393.4,256h.01M385.8,262.9h.01M244.3,330.7h.01M292.6,249.1h.01M279.7,304.9h.01M312.5,300.2h.01M408.3,194.2h.01M377.7,204.8h.01M333.4,234.7h.01M416.1,243.2h.01M250.2,271.3h.01M319.9,244h.01M301.9,308.2h.01M385.3,263.3h.01M325.9,240.6h.01M317.8,239.5h.01M265.9,264.1h.01M380.6,267.2h.01M410.9,196.4h.01M379.2,198.6h.01M412.9,197.7h.01M272.1,259.2h.01M351,216.9h.01M317.8,242.3h.01M245.8,282.3h.01M378,206.7h.01M270.4,259.7h.01M404,200.9h.01M279.3,258h.01M285.8,308.6h.01M412,200.3h.01M293.4,253.2h.01M390.2,261.8h.01M371.1,274.5h.01M393.5,257.1h.01M252.1,265.4h.01M323.5,243.1h.01M308,298.3h.01M356.3,285.3h.01M401,198.6h.01M347.1,292h.01M387.9,261.5h.01M396.5,258.9h.01M324.3,296h.01M313.7,246h.01M323.9,241.5h.01M294,302.3h.01M272.4,306.6h.01M372.5,206.2h.01M407.8,245.9h.01M330.7,292.8h.01M299.1,301.6h.01M259.6,267.5h.01M353.4,288.5h.01M270.8,263.6h.01M379.6,268.1h.01M317.2,301.2h.01M298.8,248.3h.01M354.4,212.6h.01M395,199.2h.01M385.1,266.5h.01M408.3,197.6h.01M359.9,212.1h.01M396.5,255h.01M310.7,301.2h.01M369,206h.01M394.1,197.8h.01M247.6,328.9h.01M371.2,275.7h.01M381.4,205.1h.01M301.4,303.4h.01M296.6,250.7h.01M414.3,201.1h.01M352.7,288.1h.01M293.9,252.1h.01M272.7,305.6h.01M367.3,276.3h.01M256.2,269.3h.01M260.9,312.1h.01M349.6,287.2h.01M332.3,237.4h.01M247.3,327.7h.01M332.8,294.9h.01M405.5,251h.01M352.6,216.5h.01M382.4,200.7h.01M400.3,197.3h.01M324,241.2h.01M368.8,277.5h.01M342.9,223.7h.01M396.3,254.4h.01M347.3,290.7h.01M383.5,263.8h.01M364.8,281.3h.01M279.7,305.9h.01M317.7,245.7h.01M391.5,199.9h.01M318.4,298.5h.01M305.8,301.5h.01M407,197h.01M332.5,233.7h.01M386.2,264.9h.01M299.2,303.8h.01M279.3,260.4h.01M309.8,304.4h.01M264.9,260.1h.01M369.5,208.8h.01M355.8,289.2h.01M361.4,282.6h.01M260.7,310.4h.01M416.9,238.1h.01M381.4,266.6h.01M414.5,239.8h.01M263.1,309.4h.01M286.3,256.9h.01M390.9,202.7h.01M340.3,291h.01M266.8,309.2h.01M391.6,259.6h.01M359.7,280.8h.01M379,273.5h.01M278.3,305.7h.01M277.1,259.6h.01M411.3,249.8h.01M251.7,319.7h.01M325.3,240.7h.01M301.8,304.5h.01M391,258.9h.01M276.6,260.3h.01M288.2,306.2h.01M264.5,311.2h.01M264.8,312.3h.01M280.6,258.9h.01M241.5,335.5h.01M276.2,308.8h.01M258.2,313.5h.01M291.5,256h.01M318.6,245.4h.01M391,203.5h.01M384.4,197.5h.01M390.6,203.1h.01M307.1,249.1h.01M317.1,296.8h.01M260,314.6h.01M392,257.3h.01M404.7,247.9h.01M280.6,252.6h.01M273.3,255.2h.01M249.6,323.5h.01M277.8,260.1h.01M410.3,199.3h.01M398,201.5h.01M270.8,306.3h.01M309.2,247.6h.01M271.4,306.7h.01M274.7,304.7h.01M326.5,296.1h.01M248.1,330.2h.01M383.9,200.6h.01M283.9,259.4h.01M393.3,259.2h.01M280.1,305.3h.01M364.9,211.5h.01M329.9,237.6h.01M318.5,301.3h.01M354.1,215.6h.01M332.9,237.5h.01M415.7,200.3h.01M335.7,234h.01M323.1,295.3h.01M331.4,293h.01M265.2,309.3h.01M393.9,202.6h.01M256.3,314h.01M246.8,326.2h.01M313.9,246.3h.01M317.4,299.8h.01M414.4,241.8h.01M284.2,257.6h.01M260.6,313.3h.01M379.8,266.8h.01M287.5,258h.01M339,293.7h.01M314.7,241.5h.01M255.4,264.3h.01M261.4,314.1h.01M279.4,260h.01M286.9,257.5h.01M371.7,273.8h.01M276.1,260.1h.01M278.1,258.3h.01M273.3,306.2h.01M350.3,217.8h.01M297.3,301.3h.01M295.5,301.7h.01M271.9,307.3h.01M251.3,272.9h.01M248,277.3h.01M410.9,197.3h.01M250.3,271h.01M283.5,304.8h.01M384.9,265.3h.01M258.4,315.5h.01M320.3,295.9h.01M291.5,307.2h.01M308.7,248.1h.01M321,244h.01M312.4,244.4h.01M253.2,319.9h.01M316.3,299.3h.01M381.5,269.8h.01M327.8,293.7h.01M392.4,259.5h.01M249.3,273.1h.01M271.1,307.4h.01M246.7,327.2h.01M258.8,316.1h.01M297.4,250.4h.01M352.9,287.6h.01M246,328.8h.01M415.4,200.4h.01M316.2,244.9h.01M283.9,309.9h.01M302.7,249.2h.01M249.7,325h.01M274.1,261.9h.01M338.3,230.2h.01M251,269.6h.01M330.1,235.1h.01M320.3,242.1h.01M366.7,276.9h.01M395.5,258.8h.01M403.4,248.6h.01M368.1,208.3h.01M312.3,248.3h.01M343.6,294.6h.01M310.4,298.3h.01M252.2,323.5h.01M356.1,292h.01M311.9,297.5h.01M247.8,275.1h.01M256.6,266.8h.01M343,290.6h.01M398.7,201.5h.01M396.2,258.5h.01M403,251.6h.01M358.3,282.2h.01M382.5,203.6h.01M323.8,299.2h.01M383,205.2h.01M415.2,240.7h.01M328,293.9h.01M260.9,314.5h.01M355,215.7h.01M395.2,202.6h.01M352.7,213.1h.01M367.7,210.6h.01M355.3,212.5h.01M242.9,289.6h.01M256.3,315h.01M398.2,198.8h.01M416.9,240.2h.01M386.6,200.1h.01M358.4,281.7h.01M301.4,251.3h.01" stroke="#8a8aee" stroke-width="0.8" stroke-linecap="round" fill="none"/>
<polygon points="235.7,334.9 236.2,334.5 237.1,333.2 238.4,330.3 238.9,329 239.8,325.1 242.5,310.4 245.2,300.2 247,294.5 248,292.4 248.4,291.5 250.7,288.1 251.6,286.9 253,285.5 255.2,283.7 258.4,281.8 262.5,279.9 266.1,278.4 269.3,277.5 272,276.9 275.2,276.5 285.2,275.7 288.4,275.4 291.1,275 293.4,274.4 295.2,273.8 297.4,272.8 304.7,269.4 307.9,268 322.9,262.8 328.3,260.6 330.6,259.5 333.3,257.9 336,256 337.9,254.5 338.8,253.4 339.7,251.9 342.4,246.7 343.3,245.1 344.2,243.9 345.1,243.1 346.9,241.9 348.7,240.9 351,239.9 356.5,237.7 359.2,236.3 362.4,234.2 369.2,229 371.9,227.1 380.1,222.1 384.6,219.7 388.2,218 392.3,216.3 396.9,214.8 401.9,213.3 406.9,212 412.3,210.8 417.3,210 417.3,223.2 413.2,223.9 408.7,225 404.1,226.2 400,227.6 395.5,229.2 391,231.1 388.2,232.4 385.1,234.2 380.5,237.1 373.3,242.3 370.5,244.4 364.2,249.6 360.1,252.5 358.3,253.6 356.5,254.4 351,256.6 348.7,257.6 346.5,258.9 344.7,260.2 343.8,261.2 342.8,262.6 339.2,269.4 338.3,270.7 337.4,271.4 336,272 334.2,272.4 329.2,272.8 327.4,273.1 312,277.7 306.5,279.6 296.5,284 294.3,284.9 292,285.5 290.2,285.9 287,286.3 277.5,287.1 273.8,287.4 271.1,287.9 268.4,288.5 265.2,289.5 261.6,291 257.5,293.1 255.2,294.5 252,297 249.8,299.1 248,301.2 247,302.9 246.1,305 245.2,307.5 242.5,316.4 239.8,329.3 238.9,332.6 238.4,333.5 237.1,335.4 236.6,335.9 236.2,336.1 235.7,336.1" fill="#b45ab4" fill-opacity="0.7" stroke="#e0608a" stroke-width="0.7" stroke-opacity="0.85"/>
<polyline points="235.7,335.5 238.4,335.5 238.9,335.2 239.3,334.2 239.8,332.8 240.7,328.9 242.5,319.6 247,298.5 248.4,293.7 250.7,287.9 252,285 253,283.3 254.3,281.1 255.2,279.9 257,277.8 258.9,276.1 261.1,274.1 262.9,272.8 264.8,271.8 266.1,271.2 269.8,269.9 272.9,269.1 290.6,265.3 294.3,264.3 297,263.2 298.4,262.5 300.2,261.4 307.9,255.7 323.3,245.6 331.5,239.9 335.1,237.6 338.8,235.6 343.8,233.2 348.3,231.2 353.3,229.3 359.2,227.4 366,225.4 376.9,222.7 383.7,221.2 388.7,220.5 395.5,219.7 407.3,218.6 417.3,217.8" fill="none" stroke="#ee1533" stroke-width="1.2" />
<polyline points="235.7,335.5 236.2,335.3 236.6,334.9 237.1,334.3 238.4,331.9 238.9,330.8 239.8,327.2 242.5,313.4 245.2,303.9 246.1,301.1 247,298.7 248,296.8 248.4,296.1 250.7,293.1 253,290.9 254.3,289.7 255.7,288.8 258.9,287 262.9,285 266.6,283.7 269.8,282.8 272,282.3 275.2,281.9 285.2,281.1 288.4,280.8 291.1,280.4 293.4,279.8 297,278.4 305.2,274.6 308.3,273.4 327.4,267.1 331.9,265.7 334.7,264.7 336,264 337.4,263.2 338.3,262.3 339.7,260.3 342.4,255 343.3,253.5 344.2,252.3 345.1,251.5 346.9,250.3 348.7,249.3 351,248.3 356.5,246.1 358.3,245.2 359.6,244.4 363.3,241.9 370.1,236.5 372.8,234.5 379.2,230.4 383.7,227.6 386.9,225.9 390.1,224.4 394.6,222.6 399.1,221 403.7,219.6 408.2,218.4 412.8,217.4 417.3,216.6" fill="none" stroke="#000" stroke-width="1.3" />
<polyline points="235.7,335.5 236.2,335.4 236.6,335 237.1,334.4 238.4,331.9 238.9,330.7 239.8,326.8 241.1,319.5 242.1,315.2 244.8,304.6 246.1,300.6 246.6,299.6 248,297.4 249.8,294.9 251.6,292.9 253.4,291.6 255.2,290.6 257,289.7 259.3,288.8 261.6,288.1 276.1,284.2 287.5,281.3 295.2,279 307.9,274.7 324.2,269.4 334.7,265.6 341,263.1 344.2,261.6 346.5,260.5 351.5,257.4 365.1,247.9 375.1,240.4 378.7,237.8 387.8,231.9 393.2,228.5 396,227 398.2,226 405.5,223 408.7,221.9 411.9,220.9 414.6,220.2 417.3,219.6" fill="none" stroke="#00f" stroke-width="1.1" />
</g>
<rect x="235.7" y="192.1" width="181.6" height="143.4" fill="none" stroke="#262626" stroke-width="0.5" />
<line x1="235.7" y1="335.5" x2="235.7" y2="333.9" stroke="#262626" stroke-width="0.5" />
<line x1="235.7" y1="192.1" x2="235.7" y2="193.7" stroke="#262626" stroke-width="0.5" />
<text x="235.7" y="344" font-size="5.5" text-anchor="middle" font-family='"Liberation Serif", serif' fill="#262626" >0</text>
<line x1="253.9" y1="335.5" x2="253.9" y2="333.9" stroke="#262626" stroke-width="0.5" />
<line x1="253.9" y1="192.1" x2="253.9" y2="193.7" stroke="#262626" stroke-width="0.5" />
<text x="253.9" y="344" font-size="5.5" text-anchor="middle" font-family='"Liberation Serif", serif' fill="#262626" >1</text>
<line x1="272" y1="335.5" x2="272" y2="333.9" stroke="#262626" stroke-width="0.5" />
<line x1="272" y1="192.1" x2="272" y2="193.7" stroke="#262626" stroke-width="0.5" />
<text x="272" y="344" font-size="5.5" text-anchor="middle" font-family='"Liberation Serif", serif' fill="#262626" >2</text>
<line x1="290.2" y1="335.5" x2="290.2" y2="333.9" stroke="#262626" stroke-width="0.5" />
<line x1="290.2" y1="192.1" x2="290.2" y2="193.7" stroke="#262626" stroke-width="0.5" />
<text x="290.2" y="344" font-size="5.5" text-anchor="middle" font-family='"Liberation Serif", serif' fill="#262626" >3</text>
<line x1="308.3" y1="335.5" x2="308.3" y2="333.9" stroke="#262626" stroke-width="0.5" />
<line x1="308.3" y1="192.1" x2="308.3" y2="193.7" stroke="#262626" stroke-width="0.5" />
<text x="308.3" y="344" font-size="5.5" text-anchor="middle" font-family='"Liberation Serif", serif' fill="#262626" >4</text>
<line x1="326.5" y1="335.5" x2="326.5" y2="333.9" stroke="#262626" stroke-width="0.5" />
<line x1="326.5" y1="192.1" x2="326.5" y2="193.7" stroke="#262626" stroke-width="0.5" />
<text x="326.5" y="344" font-size="5.5" text-anchor="middle" font-family='"Liberation Serif", serif' fill="#262626" >5</text>
<line x1="344.7" y1="335.5" x2="344.7" y2="333.9" stroke="#262626" stroke-width="0.5" />
<line x1="344.7" y1="192.1" x2="344.7" y2="193.7" stroke="#262626" stroke-width="0.5" />
<text x="344.7" y="344" font-size="5.5" text-anchor="middle" font-family='"Liberation Serif", serif' fill="#262626" >6</text>
<line x1="362.8" y1="335.5" x2="362.8" y2="333.9" stroke="#262626" stroke-width="0.5" />
<line x1="362.8" y1="192.1" x2="362.8" y2="193.7" stroke="#262626" stroke-width="0.5" />
<text x="362.8" y="344" font-size="5.5" text-anchor="middle" font-family='"Liberation Serif", serif' fill="#262626" >7</text>
<line x1="381" y1="335.5" x2="381" y2="333.9" stroke="#262626" stroke-width="0.5" />
<line x1="381" y1="192.1" x2="381" y2="193.7" stroke="#262626" stroke-width="0.5" />
<text x="381" y="344" font-size="5.5" text-anchor="middle" font-family='"Liberation Serif", serif' fill="#262626" >8</text>
<line x1="399.1" y1="335.5" x2="399.1" y2="333.9" stroke="#262626" stroke-width="0.5" />
<line x1="399.1" y1="192.1" x2="399.1" y2="193.7" stroke="#262626" stroke-width="0.5" />
<text x="399.1" y="344" font-size="5.5" text-anchor="middle" font-family='"Liberation Serif", serif' fill="#262626" >9</text>
<line x1="417.3" y1="335.5" x2="417.3" y2="333.9" stroke="#262626" stroke-width="0.5" />
<line x1="417.3" y1="192.1" x2="417.3" y2="193.7" stroke="#262626" stroke-width="0.5" />
<text x="417.3" y="344" font-size="5.5" text-anchor="middle" font-family='"Liberation Serif", serif' fill="#262626" >10</text>
<line x1="235.7" y1="335.5" x2="237.3" y2="335.5" stroke="#262626" stroke-width="0.5" />
<line x1="417.3" y1="335.5" x2="415.7" y2="335.5" stroke="#262626" stroke-width="0.5" />
<text x="233.5" y="337.3" font-size="5.5" text-anchor="end" font-family='"Liberation Serif", serif' fill="#262626" >0</text>
<line x1="235.7" y1="311.6" x2="237.3" y2="311.6" stroke="#262626" stroke-width="0.5" />
<line x1="417.3" y1="311.6" x2="415.7" y2="311.6" stroke="#262626" stroke-width="0.5" />
<text x="233.5" y="313.4" font-size="5.5" text-anchor="end" font-family='"Liberation Serif", serif' fill="#262626" >20</text>
<line x1="235.7" y1="287.7" x2="237.3" y2="287.7" stroke="#262626" stroke-width="0.5" />
<line x1="417.3" y1="287.7" x2="415.7" y2="287.7" stroke="#262626" stroke-width="0.5" />
<text x="233.5" y="289.5" font-size="5.5" text-anchor="end" font-family='"Liberation Serif", serif' fill="#262626" >40</text>
<line x1="235.7" y1="263.8" x2="237.3" y2="263.8" stroke="#262626" stroke-width="0.5" />
<line x1="417.3" y1="263.8" x2="415.7" y2="263.8" stroke="#262626" stroke-width="0.5" />
<text x="233.5" y="265.6" font-size="5.5" text-anchor="end" font-family='"Liberation Serif", serif' fill="#262626" >60</text>
<line x1="235.7" y1="239.9" x2="237.3" y2="239.9" stroke="#262626" stroke-width="0.5" />
<line x1="417.3" y1="239.9" x2="415.7" y2="239.9" stroke="#262626" stroke-width="0.5" />
<text x="233.5" y="241.7" font-size="5.5" text-anchor="end" font-family='"Liberation Serif", serif' fill="#262626" >80</text>
<line x1="235.7" y1="216" x2="237.3" y2="216" stroke="#262626" stroke-width="0.5" />
<line x1="417.3" y1="216" x2="415.7" y2="216" stroke="#262626" stroke-width="0.5" />
<text x="233.5" y="217.8" font-size="5.5" text-anchor="end" font-family='"Liberation Serif", serif' fill="#262626" >100</text>
<line x1="235.7" y1="192.1" x2="237.3" y2="192.1" stroke="#262626" stroke-width="0.5" />
<line x1="417.3" y1="192.1" x2="415.7" y2="192.1" stroke="#262626" stroke-width="0.5" />
<text x="233.5" y="193.9" font-size="5.5" text-anchor="end" font-family='"Liberation Serif", serif' fill="#262626" >120</text>
<text x="326" y="352.5" font-size="7.85" text-anchor="middle" font-family='"Liberation Serif", serif' fill="#262626" >Flood Depth (m)</text>
<text transform="translate(222.5,266) rotate(-90)" font-size="7.3" text-anchor="middle" font-family='"Liberation Serif", serif' fill="#262626" >Total Building Loss (%)</text>
<text x="209" y="193.8" font-size="11.3" text-anchor="start" font-family='"Liberation Serif", serif' fill="#000" font-weight="bold">(d)</text>
<circle cx="337.4" cy="296.1" r="1.3" fill="#5a5ae0"/>
<rect x="332" y="301.8" width="8.5" height="4.4" fill="#c864b4" stroke="none" stroke-width="0.5" />
<line x1="332" y1="311.6" x2="340.5" y2="311.6" stroke="#000" stroke-width="1.3" />
<line x1="332" y1="319.6" x2="340.5" y2="319.6" stroke="#00f" stroke-width="1.3" />
<line x1="332" y1="327.6" x2="340.5" y2="327.6" stroke="#f00" stroke-width="1.3" />
<text x="345.7" y="298.3" font-size="6.65" text-anchor="start" font-family='"Liberation Serif", serif' fill="#000" >Method (1) Random loss</text>
<text x="345.7" y="306.3" font-size="6.65" text-anchor="start" font-family='"Liberation Serif", serif' fill="#000" >Method (1) loss ± σ</text>
<text x="345.7" y="313.8" font-size="6.65" text-anchor="start" font-family='"Liberation Serif", serif' fill="#000" >Method (1) loss curve</text>
<text x="345.7" y="321.8" font-size="6.65" text-anchor="start" font-family='"Liberation Serif", serif' fill="#000" >Method (2) loss curve</text>
<text x="345.7" y="329.8" font-size="6.65" text-anchor="start" font-family='"Liberation Serif", serif' fill="#000" >HAZUS loss curve</text>
<line x1="39.2" y1="508" x2="119.9" y2="485.2" stroke="#dcdcdc" stroke-width="0.4" />
<line x1="119.9" y1="485.2" x2="197.7" y2="510.6" stroke="#dcdcdc" stroke-width="0.4" />
<line x1="39.2" y1="487.7" x2="119.9" y2="464.9" stroke="#dcdcdc" stroke-width="0.4" />
<line x1="119.9" y1="464.9" x2="197.7" y2="490.3" stroke="#dcdcdc" stroke-width="0.4" />
<line x1="39.2" y1="467.4" x2="119.9" y2="444.6" stroke="#dcdcdc" stroke-width="0.4" />
<line x1="119.9" y1="444.6" x2="197.7" y2="470" stroke="#dcdcdc" stroke-width="0.4" />
<line x1="39.2" y1="447.1" x2="119.9" y2="424.3" stroke="#dcdcdc" stroke-width="0.4" />
<line x1="119.9" y1="424.3" x2="197.7" y2="449.7" stroke="#dcdcdc" stroke-width="0.4" />
<line x1="39.2" y1="426.8" x2="119.9" y2="404" stroke="#dcdcdc" stroke-width="0.4" />
<line x1="119.9" y1="404" x2="197.7" y2="429.4" stroke="#dcdcdc" stroke-width="0.4" />
<line x1="39.2" y1="406.5" x2="119.9" y2="383.7" stroke="#dcdcdc" stroke-width="0.4" />
<line x1="119.9" y1="383.7" x2="197.7" y2="409.1" stroke="#dcdcdc" stroke-width="0.4" />
<line x1="119.9" y1="485.2" x2="119.9" y2="383.7" stroke="#dcdcdc" stroke-width="0.4" />
<line x1="119.9" y1="485.2" x2="197.7" y2="510.6" stroke="#dcdcdc" stroke-width="0.4" />
<line x1="103.8" y1="489.8" x2="103.8" y2="388.3" stroke="#dcdcdc" stroke-width="0.4" />
<line x1="103.8" y1="489.8" x2="181.6" y2="515.2" stroke="#dcdcdc" stroke-width="0.4" />
<line x1="87.6" y1="494.3" x2="87.6" y2="392.8" stroke="#dcdcdc" stroke-width="0.4" />
<line x1="87.6" y1="494.3" x2="165.4" y2="519.7" stroke="#dcdcdc" stroke-width="0.4" />
<line x1="71.5" y1="498.9" x2="71.5" y2="397.4" stroke="#dcdcdc" stroke-width="0.4" />
<line x1="71.5" y1="498.9" x2="149.3" y2="524.3" stroke="#dcdcdc" stroke-width="0.4" />
<line x1="55.3" y1="503.4" x2="55.3" y2="401.9" stroke="#dcdcdc" stroke-width="0.4" />
<line x1="55.3" y1="503.4" x2="133.1" y2="528.8" stroke="#dcdcdc" stroke-width="0.4" />
<line x1="39.2" y1="508" x2="39.2" y2="406.5" stroke="#dcdcdc" stroke-width="0.4" />
<line x1="39.2" y1="508" x2="117" y2="533.4" stroke="#dcdcdc" stroke-width="0.4" />
<line x1="119.9" y1="485.2" x2="119.9" y2="383.7" stroke="#dcdcdc" stroke-width="0.4" />
<line x1="119.9" y1="485.2" x2="39.2" y2="508" stroke="#dcdcdc" stroke-width="0.4" />
<line x1="135.5" y1="490.3" x2="135.5" y2="388.8" stroke="#dcdcdc" stroke-width="0.4" />
<line x1="135.5" y1="490.3" x2="54.8" y2="513.1" stroke="#dcdcdc" stroke-width="0.4" />
<line x1="151" y1="495.4" x2="151" y2="393.9" stroke="#dcdcdc" stroke-width="0.4" />
<line x1="151" y1="495.4" x2="70.3" y2="518.2" stroke="#dcdcdc" stroke-width="0.4" />
<line x1="166.6" y1="500.4" x2="166.6" y2="398.9" stroke="#dcdcdc" stroke-width="0.4" />
<line x1="166.6" y1="500.4" x2="85.9" y2="523.2" stroke="#dcdcdc" stroke-width="0.4" />
<line x1="182.1" y1="505.5" x2="182.1" y2="404" stroke="#dcdcdc" stroke-width="0.4" />
<line x1="182.1" y1="505.5" x2="101.4" y2="528.3" stroke="#dcdcdc" stroke-width="0.4" />
<line x1="197.7" y1="510.6" x2="197.7" y2="409.1" stroke="#dcdcdc" stroke-width="0.4" />
<line x1="197.7" y1="510.6" x2="117" y2="533.4" stroke="#dcdcdc" stroke-width="0.4" />
<line x1="39.2" y1="508" x2="39.2" y2="406.5" stroke="#262626" stroke-width="0.5" />
<line x1="39.2" y1="508" x2="117" y2="533.4" stroke="#262626" stroke-width="0.5" />
<line x1="117" y1="533.4" x2="197.7" y2="510.6" stroke="#262626" stroke-width="0.5" />
<g stroke="#000" stroke-width=".2" stroke-opacity=".7" stroke-linejoin="round">
<path class="l" fill="#39239b" d="M115.1 486.6l1.5-50.3-75.8 21.5-1.6 50.2z"/>
<path class="l" fill="#19a8b6" d="M116.6 436.3l1.6-47.2-75.9 21.5-1.5 47.2z"/>
<path class="l" fill="#e6dc1a" d="M118.2 389.1l1.5-2.5-75.8 21.4-1.6 2.6z"/>
<path class="l" fill="#19a8b6" d="M123 436.4l73.1 23.9-1.6-47.2-73.2-23.9z"/>
<path class="l" fill="#e6dc1a" d="M121.3 389.2l73.2 23.9-1.6-2.6-73.2-23.9z"/>
<path class="l" fill="#297ee2" d="M121.4 457.1l1.6-14-1.7-14.8-1.5 19z"/>
<path class="l" fill="#1d90d4" d="M119.8 447.3l1.5-19-1.6-8.4-1.5 22z"/>
<path class="l" fill="#159bcb" d="M123 443.1l1.5-8.2-1.6-17.7-1.6 11.1z"/>
<path class="l" fill="#139fc8" d="M118.2 441.9l1.5-22-1.6-7.5-1.5 24.5z"/>
<path class="l" fill="#1eabae" d="M124.5 434.9l1.6-2-1.6-18.6-1.6 2.9z"/>
<path class="l" fill="#1aa9b5" d="M116.6 436.9l1.5-24.5-1.6-3.6-1.6 25.9z"/>
<path class="l" fill="#24afa4" d="M126.1 432.9l1.5 0-1.6-18.9-1.5 .3z"/>
<path class="l" fill="#39239b" d="M111.8 487.5l1.6-14.7-72.6 20.5-1.6 14.7z"/>
<path class="l" fill="#414ee1" d="M113.4 472.8l1.5-35.4-72.6 17.8-1.5 38.1z"/>
<path class="l" fill="#20adaa" d="M114.9 437.4l1.6-14.9-72.6 6.8-1.6 25.9z"/>
<path class="l" fill="#e6b434" d="M116.5 422.5l1.6-21.2-72.7 12.8-1.5 15.2z"/>
<path class="l" fill="#e7d31f" d="M118.1 401.3l1.5-11.8-72.6 20.6-1.6 4z"/>
<path class="l" fill="#e6e315" d="M119.6 389.5l1.6-.5-72.7 20.5-1.5 .6z"/>
<path class="l" fill="#39239b" d="M129.2 488.2l68.5 22.4-1.6-55.4-68.5-22.3z"/>
<path class="l" fill="#25b0a2" d="M127.6 432.9l68.5 22.3-1.6-18.8-68.5-16.3z"/>
<path class="l" fill="#7cb74f" d="M126 420.1l68.5 16.3-1.6-10.7-68.5-7.7z"/>
<path class="l" fill="#e6b434" d="M124.4 418l68.5 7.7-1.7-9.7-68.4-14.6z"/>
<path class="l" fill="#e7d51e" d="M122.8 401.4l68.4 14.6-1.6-4.6-68.4-22.4z"/>
<path class="n" fill="#2a1a72" d="M119.9 485.2l1.6 .5-80.7 22.8-1.6-.5z"/>
<path class="n" fill="#2a1a72" d="M121.5 485.7l1.5 .5-80.7 22.8-1.5-.5z"/>
<path class="n" fill="#2a1a72" d="M123 486.2l1.6 .5-80.7 22.8-1.6-.5z"/>
<path class="n" fill="#2a1a72" d="M124.6 486.7l1.5 .5-80.7 22.8-1.5-.5z"/>
<path class="n" fill="#2a1a72" d="M126.1 487.2l1.6 .5-80.7 22.8-1.6-.5z"/>
<path class="n" fill="#2a1a72" d="M127.7 487.7l1.5 .5-80.7 22.8-1.5-.5z"/>
<path class="n" fill="#2a1a72" d="M129.2 488.2l1.6 .6-80.7 22.8-1.6-.6z"/>
<path class="n" fill="#2a1a72" d="M130.8 488.8l1.5 .5-80.7 22.8-1.5-.5z"/>
<path class="n" fill="#2a1a72" d="M132.3 489.3l1.6 .5-80.7 22.8-1.6-.5z"/>
<path class="n" fill="#2a1a72" d="M133.9 489.8l1.6 .5-80.7 22.8-1.6-.5z"/>
<path class="n" fill="#2a1a72" d="M135.5 490.3l1.5 .5-80.7 22.8-1.5-.5z"/>
<path class="n" fill="#2a1a72" d="M137 490.8l1.6 .5-80.7 22.8-1.6-.5z"/>
<path class="n" fill="#2a1a72" d="M138.6 491.3l1.5 .5-80.7 22.8-1.5-.5z"/>
<path class="n" fill="#2a1a72" d="M140.1 491.8l1.6 .5-80.7 22.8-1.6-.5z"/>
<path class="n" fill="#2a1a72" d="M141.7 492.3l1.5 .5-80.7 22.8-1.5-.5z"/>
<path class="n" fill="#2a1a72" d="M143.2 492.8l1.6 .5-80.7 22.8-1.6-.5z"/>
<path class="n" fill="#2a1a72" d="M144.8 493.3l1.6 .5-80.7 22.8-1.6-.5z"/>
<path class="n" fill="#2a1a72" d="M146.4 493.8l1.5 .5-80.7 22.8-1.5-.5z"/>
<path class="n" fill="#2a1a72" d="M147.9 494.3l1.6 .6-80.7 22.8-1.6-.6z"/>
<path class="n" fill="#2a1a72" d="M149.5 494.9l1.5 .5-80.7 22.8-1.5-.5z"/>
<path class="n" fill="#2a1a72" d="M151 495.4l1.6 .5-80.7 22.8-1.6-.5z"/>
<path class="n" fill="#2a1a72" d="M152.6 495.9l1.5 .5-80.7 22.8-1.5-.5z"/>
<path class="n" fill="#2a1a72" d="M163.5 499.4l1.5 .5-30.6 8.7-1.6-.5z"/>
<path class="n" fill="#2a1a72" d="M165 499.9l1.6 .5-29.1 8.2-1.5-.5z"/>
<path class="n" fill="#2a1a72" d="M166.6 500.4l1.5 .5-27.4 7.8-1.6-.5z"/>
<path class="n" fill="#2a1a72" d="M168.1 500.9l1.6 .6-27.4 7.7-1.6-.5z"/>
<path class="n" fill="#2a1a72" d="M169.7 501.5l1.5 .5-25.8 7.3-1.5-.5z"/>
<path class="n" fill="#2a1a72" d="M171.2 502l1.6 .5-25.8 7.3-1.6-.5z"/>
<path class="n" fill="#2a1a72" d="M172.8 502.5l1.6 .5-25.9 7.3-1.5-.5z"/>
<path class="n" fill="#2a1a72" d="M174.4 503l1.5 .5-24.2 6.8-1.6-.5z"/>
<path class="n" fill="#2a1a72" d="M175.9 503.5l1.6 .5-24.2 6.8-1.6-.5z"/>
<path class="n" fill="#2a1a72" d="M177.5 504l1.5 .5-24.2 6.8-1.5-.5z"/>
<path class="n" fill="#2a1a72" d="M179 504.5l1.6 .5-24.2 6.9-1.6-.6z"/>
<path class="n" fill="#2a1a72" d="M180.6 505l1.5 .5-24.2 6.9-1.5-.5z"/>
<path class="n" fill="#2a1a72" d="M182.1 505.5l1.6 .5-22.6 6.4-1.6-.5z"/>
<path class="n" fill="#2a1a72" d="M183.7 506l1.6 .5-22.6 6.4-1.6-.5z"/>
<path class="n" fill="#2a1a72" d="M185.3 506.5l1.5 .5-22.6 6.4-1.5-.5z"/>
<path class="n" fill="#2a1a72" d="M186.8 507l1.6 .6-22.6 6.3-1.6-.5z"/>
<path class="n" fill="#2a1a72" d="M188.4 507.6l1.5 .5-22.6 6.3-1.5-.5z"/>
<path class="n" fill="#2a1a72" d="M189.9 508.1l1.6 .5-22.6 6.4-1.6-.6z"/>
<path class="n" fill="#2a1a72" d="M191.5 508.6l1.5 .5-22.6 6.4-1.5-.5z"/>
<path class="n" fill="#2a1a72" d="M193 509.1l1.6 .5-22.6 6.4-1.6-.5z"/>
<path class="n" fill="#2a1a72" d="M194.6 509.6l1.5 .5-22.6 6.4-1.5-.5z"/>
<path class="n" fill="#2a1a72" d="M196.1 510.1l1.6 .5-22.6 6.4-1.6-.5z"/>
<path fill="#3e26a8" d="M158.8 497.9l1.6 .5-1.7-25.7-1.5 0z"/>
<path fill="#3e26a8" d="M160.4 498.4l1.5 .5-1.6-26.2-1.6 0z"/>
<path fill="#3e26a8" d="M161.9 498.9l1.6 .5-1.6-26.6-1.6-.1z"/>
<path fill="#3e26a8" d="M163.5 499.4l1.5 .5-1.6-26.9-1.5-.2z"/>
<path fill="#2f6ad9" d="M155.6 472.9l1.6-.2-1.6-9.1-1.6 .6z"/>
<path fill="#3e26a8" d="M165 499.9l1.6 .5-1.6-27.2-1.6-.2z"/>
<path fill="#2e6cda" d="M157.2 472.7l1.5 0-1.6-9.5-1.5 .4z"/>
<path fill="#32228c" d="M85.6 500.4l1.6-.6-1.7 .5-1.5 .6z"/>
<path fill="#3e26a8" d="M166.6 500.4l1.5 .5-1.6-27.5-1.5-.2z"/>
<path fill="#332491" d="M88.8 499.4l1.5-1.1-1.6 .5-1.5 1z"/>
<path fill="#2d6eda" d="M158.7 472.7l1.6 0-1.6-9.9-1.6 .4z"/>
<path fill="#2189d7" d="M154 464.2l1.6-.6-1.6-6.1-1.6 1z"/>
<path fill="#332491" d="M87.2 499.8l1.5-1-1.6 .4-1.6 1.1z"/>
<path fill="#3e26a8" d="M168.1 500.9l1.6 .6-1.6-27.8-1.6-.3z"/>
<path fill="#342899" d="M90.3 498.3l1.6-1.5-1.6 .4-1.6 1.6z"/>
<path fill="#2c70db" d="M160.3 472.7l1.6 .1-1.7-10.2-1.5 .2z"/>
<path fill="#32228c" d="M82.4 501.3l1.5-.5-1.6 .4-1.5 .6z"/>
<path fill="#1f8cd5" d="M155.6 463.6l1.5-.4-1.6-6.5-1.5 .8z"/>
<path fill="#332491" d="M85.5 500.3l1.6-1.1-1.6 .5-1.6 1.1z"/>
<path fill="#3e26a8" d="M169.7 501.5l1.5 .5-1.6-27.9-1.5-.4z"/>
<path fill="#342899" d="M88.7 498.8l1.6-1.6-1.6 .5-1.6 1.5z"/>
<path fill="#32228c" d="M80.8 501.8l1.5-.6-1.6 .5-1.6 .5z"/>
<path fill="#169cce" d="M152.4 458.5l1.6-1-1.7-3.7-1.5 1.3z"/>
<path fill="#2c72db" d="M161.9 472.8l1.5 .2-1.6-10.6-1.6 .2z"/>
<path fill="#332491" d="M83.9 500.8l1.6-1.1-1.6 .5-1.6 1z"/>
<path fill="#1d8fd4" d="M157.1 463.2l1.6-.4-1.6-6.8-1.6 .7z"/>
<path fill="#3e26a8" d="M171.2 502l1.6 .5-1.6-28.1-1.6-.3z"/>
<path fill="#342899" d="M87.1 499.2l1.6-1.5-1.7 .4-1.5 1.6z"/>
<path fill="#332491" d="M82.3 501.2l1.6-1-1.6 .4-1.6 1.1z"/>
<path fill="#2b73db" d="M163.4 473l1.6 .2-1.6-10.8-1.6 0z"/>
<path fill="#14a1cc" d="M154 457.5l1.5-.8-1.6-4-1.6 1.1z"/>
<path fill="#362ea3" d="M90.3 497.2l1.5-2-1.6 .4-1.5 2.1z"/>
<path fill="#3e26a8" d="M172.8 502.5l1.6 .5-1.7-28.2-1.5-.4z"/>
<path fill="#12a8c8" d="M150.8 455.1l1.5-1.3-1.6-2.5-1.5 1.5z"/>
<path fill="#342899" d="M85.5 499.7l1.5-1.6-1.6 .5-1.5 1.6z"/>
<path fill="#1c92d3" d="M158.7 462.8l1.5-.2-1.6-7.1-1.5 .5z"/>
<path fill="#32228c" d="M77.5 502.7l1.6-.6-1.6 .5-1.6 .5z"/>
<path fill="#332491" d="M80.7 501.7l1.6-1.1-1.7 .5-1.5 1z"/>
<path fill="#362ea3" d="M88.7 497.7l1.5-2.1-1.6 .5-1.6 2z"/>
<path fill="#2b74dc" d="M165 473.2l1.5 .2-1.6-11-1.5 0z"/>
<path fill="#342899" d="M83.9 500.2l1.5-1.6-1.6 .4-1.5 1.6z"/>
<path fill="#3e26a8" d="M174.4 503l1.5 .5-1.6-28.3-1.6-.4z"/>
<path fill="#11a6ca" d="M155.5 456.7l1.6-.7-1.6-4.2-1.6 .9z"/>
<path fill="#1a94d2" d="M160.2 462.6l1.6-.2-1.6-7.3-1.6 .4z"/>
<path fill="#17acc2" d="M152.3 453.8l1.6-1.1-1.6-2.7-1.6 1.3z"/>
<path fill="#332491" d="M79.1 502.1l1.5-1-1.6 .4-1.5 1.1z"/>
<path fill="#362ea3" d="M87 498.1l1.6-2-1.6 .4-1.6 2.1z"/>
<path fill="#2a75dc" d="M166.5 473.4l1.6 .3-1.6-11.2-1.6-.1z"/>
<path fill="#342899" d="M82.3 500.6l1.5-1.6-1.6 .5-1.6 1.6z"/>
<path fill="#32228c" d="M74.3 503.6l1.6-.6-1.7 .5-1.5 .6z"/>
<path fill="#3e26a8" d="M175.9 503.5l1.6 .5-1.6-28.4-1.6-.4z"/>
<path fill="#3835b0" d="M90.2 495.6l1.6-2.5-1.6 .4-1.6 2.6z"/>
<path fill="#12a9c7" d="M157.1 456l1.5-.5-1.6-4.5-1.5 .8z"/>
<path fill="#332491" d="M77.5 502.6l1.5-1.1-1.6 .5-1.5 1z"/>
<path fill="#362ea3" d="M85.4 498.6l1.6-2.1-1.6 .5-1.6 2z"/>
<path fill="#1996d1" d="M161.8 462.4l1.6 0-1.7-7.7-1.5 .4z"/>
<path fill="#1bafbc" d="M153.9 452.7l1.6-.9-1.7-3-1.5 1.2z"/>
<path fill="#342899" d="M80.6 501.1l1.6-1.6-1.6 .5-1.6 1.5z"/>
<path fill="#1eb2b7" d="M150.7 451.3l1.6-1.3-1.6-1.9-1.6 1.4z"/>
<path fill="#32228c" d="M72.7 504.1l1.5-.6-1.6 .5-1.5 .5z"/>
<path fill="#2a76dc" d="M168.1 473.7l1.5 .4-1.6-11.5-1.5-.1z"/>
<path fill="#3e26a8" d="M177.5 504l1.5 .5-1.6-28.5-1.5-.4z"/>
<path fill="#3835b0" d="M88.6 496.1l1.6-2.6-1.7 .5-1.5 2.5z"/>
<path fill="#332491" d="M75.9 503l1.5-1-1.6 .4-1.6 1.1z"/>
<path fill="#362ea3" d="M83.8 499l1.6-2-1.6 .4-1.6 2.1z"/>
<path fill="#15abc4" d="M158.6 455.5l1.6-.4-1.6-4.7-1.6 .6z"/>
<path fill="#1898d0" d="M163.4 462.4l1.5 0-1.6-7.9-1.6 .2z"/>
<path fill="#342899" d="M79 501.5l1.6-1.5-1.6 .4-1.6 1.6z"/>
<path fill="#32228c" d="M71.1 504.5l1.5-.5-1.6 .4-1.5 .6z"/>
<path fill="#3a3dbf" d="M91.8 493.1l1.5-2.9-1.6 .4-1.5 2.9z"/>
<path fill="#2a76dc" d="M169.6 474.1l1.6 .3-1.6-11.6-1.6-.2z"/>
<path fill="#1eb2b7" d="M155.5 451.8l1.5-.8-1.6-3.1-1.6 .9z"/>
<path fill="#3835b0" d="M87 496.5l1.5-2.5-1.6 .5-1.5 2.5z"/>
<path fill="#3e26a8" d="M179 504.5l1.6 .5-1.6-28.6-1.6-.4z"/>
<path fill="#332491" d="M74.2 503.5l1.6-1.1-1.6 .5-1.6 1.1z"/>
<path fill="#24b7af" d="M149.1 449.5l1.6-1.4-1.6-1.5-1.6 1.6z"/>
<path fill="#23b6b1" d="M152.3 450l1.5-1.2-1.6-2-1.5 1.3z"/>
<path fill="#362ea3" d="M82.2 499.5l1.6-2.1-1.7 .5-1.5 2.1z"/>
<path fill="#342899" d="M77.4 502l1.6-1.6-1.6 .5-1.6 1.5z"/>
<path fill="#17adc0" d="M160.2 455.1l1.5-.4-1.6-4.8-1.5 .5z"/>
<path fill="#189acf" d="M164.9 462.4l1.6 .1-1.6-8.1-1.6 .1z"/>
<path fill="#3a3dbf" d="M90.2 493.5l1.5-2.9-1.6 .5-1.6 2.9z"/>
<path fill="#3835b0" d="M85.4 497l1.5-2.5-1.6 .4-1.5 2.5z"/>
<path fill="#2977dd" d="M171.2 474.4l1.5 .4-1.6-11.8-1.5-.2z"/>
<path fill="#332491" d="M72.6 504l1.6-1.1-1.6 .5-1.6 1z"/>
<path fill="#3e26a8" d="M180.6 505l1.5 .5-1.6-28.6-1.5-.5z"/>
<path fill="#362ea3" d="M80.6 500l1.5-2.1-1.6 .4-1.5 2.1z"/>
<path fill="#22b5b2" d="M157 451l1.6-.6-1.6-3.3-1.6 .8z"/>
<path fill="#342899" d="M75.8 502.4l1.6-1.5-1.7 .4-1.5 1.6z"/>
<path fill="#27baab" d="M153.8 448.8l1.6-.9-1.6-2.3-1.6 1.2z"/>
<path fill="#29bba8" d="M150.7 448.1l1.5-1.3-1.6-1.6-1.5 1.4z"/>
<path fill="#32228c" d="M67.8 505.4l1.6-.5-1.6 .4-1.6 .6z"/>
<path fill="#3a3dbf" d="M88.5 494l1.6-2.9-1.6 .4-1.6 3z"/>
<path fill="#179bcf" d="M166.5 462.5l1.5 .1-1.6-8.2-1.5 0z"/>
<path fill="#3835b0" d="M83.8 497.4l1.5-2.5-1.6 .5-1.6 2.5z"/>
<path fill="#1aaebe" d="M161.7 454.7l1.6-.2-1.6-5-1.6 .4z"/>
<path fill="#332491" d="M71 504.4l1.6-1-1.6 .4-1.6 1.1z"/>
<path fill="#2977dd" d="M172.7 474.8l1.6 .4-1.6-11.9-1.6-.3z"/>
<path fill="#3e26a8" d="M182.1 505.5l1.6 .5-1.6-28.6-1.6-.5z"/>
<path fill="#362ea3" d="M79 500.4l1.5-2.1-1.6 .5-1.5 2.1z"/>
<path fill="#342899" d="M74.2 502.9l1.5-1.6-1.6 .5-1.5 1.6z"/>
<path fill="#3c47cf" d="M91.7 490.6l1.6-3.2-1.7 .5-1.5 3.2z"/>
<path fill="#25b8ae" d="M158.6 450.4l1.5-.5-1.6-3.5-1.5 .7z"/>
<path fill="#3a3dbf" d="M86.9 494.5l1.6-3-1.6 .5-1.6 2.9z"/>
<path fill="#3835b0" d="M82.1 497.9l1.6-2.5-1.6 .4-1.6 2.5z"/>
<path fill="#2ec0a1" d="M149.1 446.6l1.5-1.4-1.6-1.3-1.6 1.6z"/>
<path fill="#2bbda5" d="M155.4 447.9l1.6-.8-1.7-2.4-1.5 .9z"/>
<path fill="#332491" d="M69.4 504.9l1.6-1.1-1.7 .5-1.5 1z"/>
<path fill="#2ebfa1" d="M152.2 446.8l1.6-1.2-1.6-1.7-1.6 1.3z"/>
<path fill="#169cce" d="M168 462.6l1.6 .2-1.6-8.4-1.6 0z"/>
<path fill="#362ea3" d="M77.4 500.9l1.5-2.1-1.6 .5-1.6 2z"/>
<path fill="#1bb0bb" d="M163.3 454.5l1.6-.1-1.7-5.2-1.5 .3z"/>
<path fill="#2978dd" d="M174.3 475.2l1.6 .4-1.7-12-1.5-.3z"/>
<path fill="#3e26a8" d="M183.7 506l1.6 .5-1.7-28.7-1.5-.4z"/>
<path fill="#342899" d="M72.6 503.4l1.5-1.6-1.6 .4-1.5 1.6z"/>
<path fill="#32228c" d="M64.6 506.3l1.6-.5-1.6 .4-1.6 .6z"/>
<path fill="#3c47cf" d="M90.1 491.1l1.5-3.2-1.6 .4-1.5 3.2z"/>
<path fill="#3a3dbf" d="M85.3 494.9l1.6-2.9-1.6 .5-1.6 2.9z"/>
<path fill="#3835b0" d="M80.5 498.3l1.6-2.5-1.6 .5-1.6 2.5z"/>
<path fill="#27baab" d="M160.1 449.9l1.6-.4-1.6-3.7-1.6 .6z"/>
<path fill="#332491" d="M67.8 505.3l1.5-1-1.6 .4-1.5 1.1z"/>
<path fill="#362ea3" d="M75.7 501.3l1.6-2-1.6 .4-1.6 2.1z"/>
<path fill="#169dce" d="M169.6 462.8l1.5 .2-1.6-8.5-1.5-.1z"/>
<path fill="#33c39b" d="M147.4 445.5l1.6-1.6-1.6-.9-1.6 1.7z"/>
<path fill="#3e26a8" d="M185.3 506.5l1.5 .5-1.6-28.7-1.6-.5z"/>
<path fill="#2fc0a0" d="M157 447.1l1.5-.7-1.6-2.5-1.6 .8z"/>
<path fill="#2978dd" d="M175.9 475.6l1.5 .4-1.6-12.1-1.6-.3z"/>
<path fill="#1db1b9" d="M164.9 454.4l1.5 0-1.6-5.4-1.6 .2z"/>
<path fill="#34c49a" d="M150.6 445.2l1.6-1.3-1.6-1.4-1.6 1.4z"/>
<path fill="#342899" d="M71 503.8l1.5-1.6-1.6 .5-1.6 1.6z"/>
<path fill="#33c39b" d="M153.8 445.6l1.5-.9-1.6-1.9-1.5 1.1z"/>
<path fill="#3754d3" d="M93.3 487.4l1.5-3.4-1.6 .5-1.6 3.4z"/>
<path fill="#32228c" d="M63 506.8l1.6-.6-1.7 .5-1.5 .5z"/>
<path fill="#3c47cf" d="M88.5 491.5l1.5-3.2-1.6 .5-1.5 3.2z"/>
<path fill="#3a3dbf" d="M83.7 495.4l1.6-2.9-1.7 .4-1.5 2.9z"/>
<path fill="#3835b0" d="M78.9 498.8l1.6-2.5-1.6 .4-1.6 2.6z"/>
<path fill="#332491" d="M66.2 505.8l1.5-1.1-1.6 .5-1.5 1z"/>
<path fill="#362ea3" d="M74.1 501.8l1.6-2.1-1.6 .5-1.6 2z"/>
<path fill="#2abca7" d="M161.7 449.5l1.5-.3-1.6-3.8-1.5 .4z"/>
<path fill="#159ece" d="M171.1 463l1.6 .3-1.6-8.7-1.6-.1z"/>
<path fill="#3e26a8" d="M186.8 507l1.6 .6-1.6-28.8-1.6-.5z"/>
<path fill="#342899" d="M69.3 504.3l1.6-1.6-1.6 .4-1.6 1.6z"/>
<path fill="#2979dd" d="M177.4 476l1.6 .4-1.6-12.1-1.6-.4z"/>
<path fill="#3754d3" d="M91.6 487.9l1.6-3.4-1.6 .4-1.6 3.4z"/>
<path fill="#3c47cf" d="M86.9 492l1.5-3.2-1.6 .4-1.5 3.3z"/>
<path fill="#1eb2b7" d="M166.4 454.4l1.6 0-1.7-5.5-1.5 .1z"/>
<path fill="#3a3dbf" d="M82.1 495.8l1.5-2.9-1.6 .5-1.5 2.9z"/>
<path fill="#32c29c" d="M158.5 446.4l1.6-.6-1.6-2.6-1.6 .7z"/>
<path fill="#3cc692" d="M149 443.9l1.6-1.4-1.7-.9-1.5 1.4z"/>
<path fill="#3835b0" d="M77.3 499.3l1.6-2.6-1.7 .5-1.5 2.5z"/>
<path fill="#37c696" d="M155.3 444.7l1.6-.8-1.6-2-1.6 .9z"/>
<path fill="#3cc691" d="M152.2 443.9l1.5-1.1-1.6-1.5-1.5 1.2z"/>
<path fill="#332491" d="M64.6 506.2l1.5-1-1.6 .4-1.6 1.1z"/>
<path fill="#362ea3" d="M72.5 502.2l1.6-2-1.6 .4-1.6 2.1z"/>
<path fill="#342899" d="M67.7 504.7l1.6-1.6-1.6 .5-1.6 1.6z"/>
<path fill="#3261d7" d="M94.8 484l1.6-3.6-1.6 .5-1.6 3.6z"/>
<path fill="#3754d3" d="M90 488.3l1.6-3.4-1.6 .5-1.6 3.4z"/>
<path fill="#2cbda4" d="M163.2 449.2l1.6-.2-1.6-3.9-1.6 .3z"/>
<path fill="#3e26a8" d="M188.4 507.6l1.5 .5-1.6-28.9-1.5-.4z"/>
<path fill="#3c47cf" d="M85.3 492.5l1.5-3.3-1.6 .5-1.6 3.2z"/>
<path fill="#159fcd" d="M172.7 463.3l1.5 .3-1.6-8.8-1.5-.2z"/>
<path fill="#2979dd" d="M179 476.4l1.5 .5-1.6-12.2-1.5-.4z"/>
<path fill="#3a3dbf" d="M80.5 496.3l1.5-2.9-1.6 .4-1.5 2.9z"/>
<path fill="#3835b0" d="M75.7 499.7l1.5-2.5-1.6 .4-1.5 2.6z"/>
<path fill="#20b4b5" d="M168 454.4l1.5 .1-1.6-5.6-1.6 0z"/>
<path fill="#332491" d="M62.9 506.7l1.6-1.1-1.6 .5-1.6 1z"/>
<path fill="#321f87" d="M51.8 509l1.6 .2-1.6 .5-1.6-.2z"/>
<path fill="#35c598" d="M160.1 445.8l1.5-.4-1.6-2.7-1.5 .5z"/>
<path fill="#47c78a" d="M147.4 443l1.5-1.4-1.6-.6-1.5 1.6z"/>
<path fill="#362ea3" d="M70.9 502.7l1.6-2.1-1.7 .5-1.5 2z"/>
<path fill="#4bc886" d="M150.6 442.5l1.5-1.2-1.6-1-1.6 1.3z"/>
<path fill="#41c78e" d="M156.9 443.9l1.6-.7-1.7-2.1-1.5 .8z"/>
<path fill="#49c788" d="M153.7 442.8l1.6-.9-1.6-1.6-1.6 1z"/>
<path fill="#342899" d="M66.1 505.2l1.6-1.6-1.6 .5-1.6 1.5z"/>
<path fill="#3261d7" d="M93.2 484.5l1.6-3.6-1.7 .4-1.5 3.6z"/>
<path fill="#3754d3" d="M88.4 488.8l1.6-3.4-1.6 .4-1.6 3.4z"/>
<path fill="#3c47cf" d="M83.6 492.9l1.6-3.2-1.6 .5-1.6 3.2z"/>
<path fill="#3a3dbf" d="M78.9 496.7l1.5-2.9-1.6 .5-1.6 2.9z"/>
<path fill="#3e26a8" d="M189.9 508.1l1.6 .5-1.6-28.9-1.6-.5z"/>
<path fill="#2979dd" d="M180.5 476.9l1.6 .5-1.6-12.3-1.6-.4z"/>
<path fill="#14a0cd" d="M174.2 463.6l1.6 .3-1.6-8.9-1.6-.2z"/>
<path fill="#2ebfa2" d="M164.8 449l1.5-.1-1.6-4-1.5 .2z"/>
<path fill="#432cba" d="M128 508.6l1.5 .1-1.6-.1-1.6 .2z"/>
<path fill="#3835b0" d="M74.1 500.2l1.5-2.6-1.6 .5-1.5 2.5z"/>
<path fill="#332491" d="M61.3 507.1l1.6-1-1.6 .4-1.6 1.1z"/>
<path fill="#321f87" d="M50.2 509.5l1.6 .2-1.6 .4-1.6-.2z"/>
<path fill="#432cbb" d="M134.3 508.7l1.6 .1-1.7-.1-1.5 0z"/>
<path fill="#21b4b4" d="M169.5 454.5l1.6 .1-1.6-5.7-1.6 0z"/>
<path fill="#362ea3" d="M69.3 503.1l1.5-2-1.6 .4-1.5 2.1z"/>
<path fill="#432cba" d="M137.5 508.9l1.5 .2-1.6-.2-1.5-.1z"/>
<path fill="#432bb9" d="M140.6 509.1l1.6 .3-1.6-.2-1.6-.1z"/>
<path fill="#4ec884" d="M145.8 442.6l1.5-1.6-1.6-.3-1.5 1.6z"/>
<path fill="#39c694" d="M161.6 445.4l1.6-.3-1.6-2.9-1.6 .5z"/>
<path fill="#342899" d="M64.5 505.6l1.6-1.5-1.7 .4-1.5 1.6z"/>
<path fill="#3261d7" d="M91.6 484.9l1.5-3.6-1.6 .5-1.5 3.6z"/>
<path fill="#3754d3" d="M86.8 489.2l1.6-3.4-1.6 .5-1.6 3.4z"/>
<path fill="#432cba" d="M120 509.1l1.6 0-1.7 .1-1.5 .2z"/>
<path fill="#32228c" d="M56.5 508.6l1.6-.5-1.6 .4-1.6 .6z"/>
<path fill="#3c47cf" d="M82 493.4l1.6-3.2-1.6 .4-1.6 3.2z"/>
<path fill="#57c87d" d="M148.9 441.6l1.6-1.3-1.6-.7-1.6 1.4z"/>
<path fill="#3a3dbf" d="M77.2 497.2l1.6-2.9-1.6 .4-1.6 2.9z"/>
<path fill="#4bc787" d="M158.5 443.2l1.5-.5-1.6-2.3-1.6 .7z"/>
<path fill="#432dbb" d="M123.2 508.9l1.5-.1-1.6 .1-1.5 .2z"/>
<path fill="#3e26a8" d="M191.5 508.6l1.5 .5-1.6-28.9-1.5-.5z"/>
<path fill="#59c87b" d="M152.1 441.3l1.6-1-1.6-1.2-1.6 1.2z"/>
<path fill="#55c87f" d="M155.3 441.9l1.5-.8-1.6-1.7-1.5 .9z"/>
<path fill="#3835b0" d="M72.5 500.6l1.5-2.5-1.6 .5-1.6 2.5z"/>
<path fill="#2979dd" d="M182.1 477.4l1.5 .4-1.6-12.3-1.5-.4z"/>
<path fill="#442dbc" d="M126.3 508.8l1.6-.2-1.6-.1-1.6 .3z"/>
<path fill="#14a0cd" d="M175.8 463.9l1.6 .4-1.7-9-1.5-.3z"/>
<path fill="#332491" d="M59.7 507.6l1.6-1.1-1.6 .5-1.6 1.1z"/>
<path fill="#321f87" d="M48.6 509.9l1.6 .2-1.7 .5-1.5-.2z"/>
<path fill="#2fc09f" d="M166.3 448.9l1.6 0-1.6-4.2-1.6 .2z"/>
<path fill="#442ebd" d="M129.5 508.7l1.6-.1-1.6-.3-1.6 .3z"/>
<path fill="#362ea3" d="M67.7 503.6l1.5-2.1-1.6 .5-1.5 2.1z"/>
<path fill="#442ebd" d="M132.7 508.7l1.5 0-1.6-.4-1.5 .3z"/>
<path fill="#442dbd" d="M135.9 508.8l1.5 .1-1.6-.4-1.6 .2z"/>
<path fill="#22b5b2" d="M171.1 454.6l1.5 .2-1.6-5.8-1.5-.1z"/>
<path fill="#432dbc" d="M139 509.1l1.6 .1-1.6-.4-1.6 .1z"/>
<path fill="#432cba" d="M142.2 509.4l1.6 .2-1.7-.3-1.5-.1z"/>
<path fill="#342899" d="M62.9 506.1l1.5-1.6-1.6 .5-1.5 1.5z"/>
<path fill="#3754d3" d="M85.2 489.7l1.6-3.4-1.7 .4-1.5 3.5z"/>
<path fill="#3261d7" d="M90 485.4l1.5-3.6-1.6 .4-1.5 3.6z"/>
<path fill="#2c70db" d="M94.8 480.9l1.5-3.6-1.6 .4-1.6 3.6z"/>
<path fill="#32228c" d="M54.9 509.1l1.6-.6-1.6 .5-1.6 .5z"/>
<path fill="#3c47cf" d="M80.4 493.8l1.6-3.2-1.6 .5-1.6 3.2z"/>
<path fill="#432cbb" d="M118.4 509.4l1.5-.2-1.6 .2-1.5 .2z"/>
<path fill="#3a3dbf" d="M75.6 497.6l1.6-2.9-1.6 .5-1.6 2.9z"/>
<path fill="#40c78f" d="M163.2 445.1l1.5-.2-1.6-3-1.5 .3z"/>
<path fill="#5fc877" d="M147.3 441l1.6-1.4-1.6-.4-1.6 1.5z"/>
<path fill="#442dbd" d="M121.6 509.1l1.5-.2-1.6-.1-1.6 .4z"/>
<path fill="#3835b0" d="M70.8 501.1l1.6-2.5-1.6 .4-1.6 2.5z"/>
<path fill="#3e26a8" d="M193 509.1l1.6 .5-1.6-28.9-1.6-.5z"/>
<path fill="#332491" d="M58.1 508.1l1.6-1.1-1.7 .5-1.5 1z"/>
<path fill="#2879dd" d="M183.6 477.8l1.6 .5-1.6-12.4-1.6-.4z"/>
<path fill="#442ebf" d="M124.7 508.8l1.6-.3-1.6-.2-1.6 .6z"/>
<path fill="#53c880" d="M160 442.7l1.6-.5-1.6-2.3-1.6 .5z"/>
<path fill="#14a1cc" d="M177.4 464.3l1.5 .4-1.6-9.1-1.6-.3z"/>
<path fill="#65c771" d="M150.5 440.3l1.6-1.2-1.7-.7-1.5 1.2z"/>
<path fill="#362ea3" d="M66.1 504.1l1.5-2.1-1.6 .4-1.6 2.1z"/>
<path fill="#442fc0" d="M127.9 508.6l1.6-.3-1.7-.3-1.5 .5z"/>
<path fill="#60c876" d="M156.8 441.1l1.6-.7-1.6-1.8-1.6 .8z"/>
<path fill="#66c771" d="M153.7 440.3l1.5-.9-1.6-1.3-1.5 1z"/>
<path fill="#322089" d="M50.2 510.1l1.5-.1-1.6 .4-1.6 .2z"/>
<path fill="#31c29d" d="M167.9 448.9l1.6 0-1.7-4.3-1.5 .1z"/>
<path fill="#4430c1" d="M131.1 508.6l1.5-.3-1.6-.5-1.5 .5z"/>
<path fill="#4430c0" d="M134.2 508.7l1.6-.2-1.6-.7-1.6 .5z"/>
<path fill="#342899" d="M61.3 506.5l1.5-1.5-1.6 .4-1.5 1.6z"/>
<path fill="#23b6b1" d="M172.6 454.8l1.6 .2-1.6-5.9-1.6-.1z"/>
<path fill="#3754d3" d="M83.6 490.2l1.5-3.5-1.6 .5-1.5 3.4z"/>
<path fill="#3261d7" d="M88.4 485.8l1.5-3.6-1.6 .5-1.5 3.6z"/>
<path fill="#442fbf" d="M137.4 508.9l1.6-.1-1.6-.7-1.6 .4z"/>
<path fill="#2c70db" d="M93.1 481.3l1.6-3.6-1.6 .5-1.6 3.6z"/>
<path fill="#32228c" d="M53.3 509.5l1.6-.5-1.6 .4-1.6 .6z"/>
<path fill="#442ebe" d="M140.6 509.2l1.5 .1-1.6-.7-1.5 .2z"/>
<path fill="#3c47cf" d="M78.8 494.3l1.6-3.2-1.7 .4-1.5 3.2z"/>
<path fill="#432dbc" d="M143.8 509.6l1.5 .2-1.6-.5-1.6 0z"/>
<path fill="#432cba" d="M146.9 510l1.6 .3-1.6-.3-1.6-.2z"/>
<path fill="#3a3dbf" d="M74 498.1l1.6-2.9-1.6 .4-1.6 3z"/>
<path fill="#442dbc" d="M116.8 509.6l1.5-.2-1.6 .1-1.5 .4z"/>
<path fill="#3835b0" d="M69.2 501.5l1.6-2.5-1.6 .5-1.6 2.5z"/>
<path fill="#442ebe" d="M119.9 509.2l1.6-.4-1.6 0-1.6 .6z"/>
<path fill="#46c78a" d="M164.7 444.9l1.6-.2-1.6-3-1.6 .2z"/>
<path fill="#332491" d="M56.5 508.5l1.5-1-1.6 .4-1.5 1.1z"/>
<path fill="#65c771" d="M145.7 440.7l1.6-1.5-1.6-.3-1.6 1.5z"/>
<path fill="#3e26a8" d="M194.6 509.6l1.5 .5-1.6-28.9-1.5-.5z"/>
<path fill="#362ea3" d="M64.4 504.5l1.6-2.1-1.6 .5-1.6 2.1z"/>
<path fill="#2879dd" d="M185.2 478.3l1.6 .5-1.7-12.5-1.5-.4z"/>
<path fill="#4430c1" d="M123.1 508.9l1.6-.6-1.6-.2-1.6 .7z"/>
<path fill="#14a1cc" d="M178.9 464.7l1.6 .4-1.6-9.2-1.6-.3z"/>
<path fill="#6ec76b" d="M148.9 439.6l1.5-1.2-1.6-.4-1.5 1.2z"/>
<path fill="#5bc87a" d="M161.6 442.2l1.5-.3-1.6-2.4-1.5 .4z"/>
<path fill="#4431c3" d="M126.3 508.5l1.5-.5-1.6-.5-1.5 .8z"/>
<path fill="#342899" d="M59.7 507l1.5-1.6-1.6 .5-1.6 1.6z"/>
<path fill="#432cbb" d="M112 510.3l1.6-.2-1.7 .3-1.5 .2z"/>
<path fill="#32c39c" d="M169.5 448.9l1.5 .1-1.6-4.4-1.6 0z"/>
<path fill="#3754d3" d="M82 490.6l1.5-3.4-1.6 .4-1.5 3.5z"/>
<path fill="#3261d7" d="M86.8 486.3l1.5-3.6-1.6 .5-1.6 3.5z"/>
<path fill="#2c70db" d="M91.5 481.8l1.6-3.6-1.6 .4-1.6 3.6z"/>
<path fill="#32228c" d="M51.7 510l1.6-.6-1.7 .5-1.5 .5z"/>
<path fill="#4532c5" d="M129.5 508.3l1.5-.5-1.6-.7-1.6 .9z"/>
<path fill="#73c767" d="M152.1 439.1l1.5-1-1.6-.7-1.6 1z"/>
<path fill="#3c47cf" d="M77.2 494.7l1.5-3.2-1.6 .5-1.5 3.2z"/>
<path fill="#267edb" d="M96.3 477.3l1.6-3.7-1.6 .5-1.6 3.6z"/>
<path fill="#69c76f" d="M158.4 440.4l1.6-.5-1.7-1.9-1.5 .6z"/>
<path fill="#3a3dbf" d="M72.4 498.6l1.6-3-1.7 .5-1.5 2.9z"/>
<path fill="#23b6b0" d="M174.2 455l1.5 .3-1.6-6-1.5-.2z"/>
<path fill="#71c768" d="M155.2 439.4l1.6-.8-1.6-1.3-1.6 .8z"/>
<path fill="#4532c5" d="M132.6 508.3l1.6-.5-1.6-.8-1.6 .8z"/>
<path fill="#442ebd" d="M115.2 509.9l1.5-.4-1.6 .2-1.5 .4z"/>
<path fill="#432bb9" d="M151.6 510.8l1.6 .3-1.6-.2-1.6-.3z"/>
<path fill="#432cbb" d="M148.5 510.3l1.5 .3-1.6-.5-1.5-.1z"/>
<path fill="#442ebe" d="M145.3 509.8l1.6 .2-1.7-.7-1.5 0z"/>
<path fill="#4532c4" d="M135.8 508.5l1.6-.4-1.7-1-1.5 .7z"/>
<path fill="#442fc0" d="M142.1 509.3l1.6 0-1.6-.9-1.6 .2z"/>
<path fill="#4431c3" d="M139 508.8l1.5-.2-1.6-1-1.5 .5z"/>
<path fill="#3835b0" d="M67.6 502l1.6-2.5-1.6 .4-1.6 2.5z"/>
<path fill="#332491" d="M54.9 509l1.5-1.1-1.6 .5-1.5 1z"/>
<path fill="#442fc0" d="M118.3 509.4l1.6-.6-1.6 0-1.6 .7z"/>
<path fill="#362ea3" d="M62.8 505l1.6-2.1-1.6 .5-1.6 2z"/>
<path fill="#3e26a8" d="M196.1 510.1l1.6 .5-1.6-28.9-1.6-.5z"/>
<path fill="#6bc76d" d="M144.1 440.4l1.6-1.5-1.7-.2-1.5 1.6z"/>
<path fill="#4bc886" d="M166.3 444.7l1.5-.1-1.6-3.1-1.5 .2z"/>
<path fill="#2879dd" d="M186.8 478.8l1.5 .4-1.6-12.4-1.6-.5z"/>
<path fill="#4431c4" d="M121.5 508.8l1.6-.7-1.7-.2-1.5 .9z"/>
<path fill="#13a2cc" d="M180.5 465.1l1.5 .4-1.6-9.2-1.5-.4z"/>
<path fill="#342899" d="M58 507.5l1.6-1.6-1.6 .4-1.6 1.6z"/>
<path fill="#432dbb" d="M110.4 510.6l1.5-.2-1.6 .3-1.5 .3z"/>
<path fill="#75c765" d="M147.3 439.2l1.5-1.2-1.6-.4-1.5 1.3z"/>
<path fill="#3754d3" d="M80.4 491.1l1.5-3.5-1.6 .5-1.6 3.4z"/>
<path fill="#3261d7" d="M85.1 486.7l1.6-3.5-1.6 .4-1.6 3.6z"/>
<path fill="#4533c7" d="M124.7 508.3l1.5-.8-1.6-.5-1.5 1.1z"/>
<path fill="#2c70db" d="M89.9 482.2l1.6-3.6-1.6 .5-1.6 3.6z"/>
<path fill="#3c47cf" d="M75.6 495.2l1.5-3.2-1.6 .4-1.5 3.2z"/>
<path fill="#267edb" d="M94.7 477.7l1.6-3.6-1.7 .4-1.5 3.7z"/>
<path fill="#62c875" d="M163.1 441.9l1.6-.2-1.6-2.5-1.6 .3z"/>
<path fill="#3a3dbf" d="M70.8 499l1.5-2.9-1.6 .5-1.5 2.9z"/>
<path fill="#33c49a" d="M171 449l1.6 .1-1.6-4.4-1.6-.1z"/>
<path fill="#442ebe" d="M113.6 510.1l1.5-.4-1.6 .1-1.6 .6z"/>
<path fill="#4535c9" d="M127.8 508l1.6-.9-1.6-.8-1.6 1.2z"/>
<path fill="#7cc75f" d="M150.4 438.4l1.6-1-1.6-.5-1.6 1.1z"/>
<path fill="#3835b0" d="M66 502.4l1.6-2.5-1.7 .5-1.5 2.5z"/>
<path fill="#24b7af" d="M175.7 455.3l1.6 .3-1.6-6.1-1.6-.2z"/>
<path fill="#442dbc" d="M150 510.6l1.6 .3-1.6-.6-1.6-.2z"/>
<path fill="#71c768" d="M160 439.9l1.5-.4-1.6-2-1.6 .5z"/>
<path fill="#332491" d="M53.3 509.4l1.5-1-1.6 .4-1.6 1.1z"/>
<path fill="#4535cb" d="M131 507.8l1.6-.8-1.6-1.1-1.6 1.2z"/>
<path fill="#442fbf" d="M146.9 510l1.5 .1-1.6-.9-1.6 .1z"/>
<path fill="#7ec75d" d="M153.6 438.1l1.6-.8-1.6-.8-1.6 .9z"/>
<path fill="#7bc760" d="M156.8 438.6l1.5-.6-1.6-1.4-1.5 .7z"/>
<path fill="#4431c3" d="M143.7 509.3l1.5 0-1.6-1.2-1.5 .3z"/>
<path fill="#4431c2" d="M116.7 509.5l1.6-.7-1.6 0-1.6 .9z"/>
<path fill="#4535cb" d="M134.2 507.8l1.5-.7-1.6-1.2-1.5 1.1z"/>
<path fill="#362ea3" d="M61.2 505.4l1.6-2-1.6 .4-1.6 2.1z"/>
<path fill="#4533c7" d="M140.5 508.6l1.6-.2-1.6-1.3-1.6 .5z"/>
<path fill="#4535c9" d="M137.4 508.1l1.5-.5-1.6-1.3-1.6 .8z"/>
<path fill="#287add" d="M188.3 479.2l1.6 .5-1.7-12.5-1.5-.4z"/>
<path fill="#4533c6" d="M119.9 508.8l1.5-.9-1.6-.3-1.5 1.2z"/>
<path fill="#50c883" d="M167.8 444.6l1.6 0-1.6-3.2-1.6 .1z"/>
<path fill="#342899" d="M56.4 507.9l1.6-1.6-1.6 .5-1.6 1.6z"/>
<path fill="#13a2cc" d="M182 465.5l1.6 .4-1.6-9.3-1.6-.3z"/>
<path fill="#3754d3" d="M78.7 491.5l1.6-3.4-1.6 .4-1.6 3.5z"/>
<path fill="#3261d7" d="M83.5 487.2l1.6-3.6-1.6 .5-1.6 3.5z"/>
<path fill="#2c70db" d="M88.3 482.7l1.6-3.6-1.7 .4-1.5 3.7z"/>
<path fill="#3c47cf" d="M74 495.6l1.5-3.2-1.6 .5-1.6 3.2z"/>
<path fill="#267edb" d="M93.1 478.2l1.5-3.7-1.6 .5-1.5 3.6z"/>
<path fill="#3a3dbf" d="M69.2 499.5l1.5-2.9-1.6 .4-1.5 2.9z"/>
<path fill="#7bc760" d="M145.7 438.9l1.5-1.3-1.6-.2-1.6 1.3z"/>
<path fill="#4535cb" d="M123.1 508.1l1.5-1.1-1.6-.5-1.6 1.4z"/>
<path fill="#442fbf" d="M111.9 510.4l1.6-.6-1.6 .2-1.6 .7z"/>
<path fill="#3835b0" d="M64.4 502.9l1.5-2.5-1.6 .4-1.5 2.6z"/>
<path fill="#34c499" d="M172.6 449.1l1.5 .2-1.6-4.5-1.5-.1z"/>
<path fill="#68c770" d="M164.7 441.7l1.5-.2-1.6-2.6-1.5 .3z"/>
<path fill="#83c759" d="M148.8 438l1.6-1.1-1.6-.4-1.6 1.1z"/>
<path fill="#25b7ae" d="M177.3 455.6l1.6 .3-1.7-6.1-1.5-.3z"/>
<path fill="#4638ce" d="M126.2 507.5l1.6-1.2-1.6-.8-1.6 1.5z"/>
<path fill="#432cba" d="M154.8 511.5l1.5 .4-1.6-.4-1.6-.3z"/>
<path fill="#442ebd" d="M151.6 510.9l1.5 .3-1.6-.8-1.5-.1z"/>
<path fill="#362ea3" d="M59.6 505.9l1.6-2.1-1.7 .5-1.5 2z"/>
<path fill="#4532c4" d="M115.1 509.7l1.6-.9-1.7 0-1.5 1z"/>
<path fill="#4430c1" d="M148.4 510.1l1.6 .2-1.6-1.2-1.6 .1z"/>
<path fill="#88c755" d="M152 437.4l1.6-.9-1.7-.6-1.5 1z"/>
<path fill="#79c762" d="M161.5 439.5l1.6-.3-1.7-2.1-1.5 .4z"/>
<path fill="#4639d1" d="M129.4 507.1l1.6-1.2-1.7-1.1-1.5 1.5z"/>
<path fill="#4533c6" d="M145.2 509.3l1.6-.1-1.6-1.5-1.6 .4z"/>
<path fill="#89c754" d="M155.2 437.3l1.5-.7-1.6-.9-1.5 .8z"/>
<path fill="#84c759" d="M158.3 438l1.6-.5-1.6-1.5-1.6 .6z"/>
<path fill="#463ad2" d="M132.6 507l1.5-1.1-1.6-1.4-1.5 1.4z"/>
<path fill="#4536cb" d="M142.1 508.4l1.5-.3-1.6-1.7-1.5 .7z"/>
<path fill="#342899" d="M54.8 508.4l1.6-1.6-1.6 .5-1.6 1.5z"/>
<path fill="#287add" d="M189.9 479.7l1.5 .5-1.6-12.5-1.6-.5z"/>
<path fill="#4638cf" d="M138.9 507.6l1.6-.5-1.6-1.8-1.6 1z"/>
<path fill="#4639d1" d="M135.7 507.1l1.6-.8-1.6-1.6-1.6 1.2z"/>
<path fill="#3754d3" d="M77.1 492l1.6-3.5-1.6 .5-1.6 3.4z"/>
<path fill="#3261d7" d="M81.9 487.6l1.6-3.5-1.6 .4-1.6 3.6z"/>
<path fill="#4535c9" d="M118.3 508.8l1.5-1.2-1.6-.2-1.5 1.4z"/>
<path fill="#2c70db" d="M86.7 483.2l1.5-3.7-1.6 .5-1.5 3.6z"/>
<path fill="#3c47cf" d="M72.3 496.1l1.6-3.2-1.6 .4-1.6 3.3z"/>
<path fill="#442dbd" d="M107.2 511.3l1.5-.3-1.6 .3-1.6 .4z"/>
<path fill="#267edb" d="M91.5 478.6l1.5-3.6-1.6 .4-1.5 3.7z"/>
<path fill="#1f8bd6" d="M96.3 474.1l1.5-3.6-1.6 .4-1.6 3.6z"/>
<path fill="#13a2cc" d="M183.6 465.9l1.5 .4-1.6-9.3-1.5-.4z"/>
<path fill="#3a3dbf" d="M67.6 499.9l1.5-2.9-1.6 .5-1.6 2.9z"/>
<path fill="#54c87f" d="M169.4 444.6l1.6 .1-1.7-3.3-1.5 0z"/>
<path fill="#80c75c" d="M144 438.7l1.6-1.3-1.6-.2-1.6 1.4z"/>
<path fill="#3835b0" d="M62.8 503.4l1.5-2.6-1.6 .5-1.5 2.5z"/>
<path fill="#4430c0" d="M110.3 510.7l1.6-.7-1.6 .2-1.6 .8z"/>
<path fill="#4638cf" d="M121.4 507.9l1.6-1.4-1.6-.5-1.6 1.6z"/>
<path fill="#362ea3" d="M58 506.3l1.5-2-1.6 .4-1.5 2.1z"/>
<path fill="#35c597" d="M174.1 449.3l1.6 .2-1.6-4.5-1.6-.2z"/>
<path fill="#25b8ae" d="M178.9 455.9l1.5 .4-1.6-6.2-1.6-.3z"/>
<path fill="#8ac754" d="M147.2 437.6l1.6-1.1-1.6-.3-1.6 1.2z"/>
<path fill="#6dc76b" d="M166.2 441.5l1.6-.1-1.6-2.6-1.6 .1z"/>
<path fill="#4533c6" d="M113.5 509.8l1.5-1-1.6 0-1.5 1.2z"/>
<path fill="#473bd4" d="M124.6 507l1.6-1.5-1.6-.8-1.6 1.8z"/>
<path fill="#442fbf" d="M153.1 511.2l1.6 .3-1.6-1-1.6-.1z"/>
<path fill="#4531c4" d="M150 510.3l1.5 .1-1.6-1.4-1.5 .1z"/>
<path fill="#90c74f" d="M150.4 436.9l1.5-1-1.6-.4-1.5 1z"/>
<path fill="#3754d3" d="M75.5 492.4l1.6-3.4-1.6 .5-1.6 3.4z"/>
<path fill="#3261d7" d="M80.3 488.1l1.6-3.6-1.7 .5-1.5 3.5z"/>
<path fill="#7fc75d" d="M163.1 439.2l1.5-.3-1.6-2.1-1.6 .3z"/>
<path fill="#2c70db" d="M85.1 483.6l1.5-3.6-1.6 .4-1.5 3.7z"/>
<path fill="#3c47cf" d="M70.7 496.6l1.6-3.3-1.6 .5-1.6 3.2z"/>
<path fill="#267edb" d="M89.9 479.1l1.5-3.7-1.6 .5-1.6 3.6z"/>
<path fill="#473dd8" d="M127.8 506.3l1.5-1.5-1.6-1.2-1.5 1.9z"/>
<path fill="#287add" d="M191.4 480.2l1.6 .5-1.6-12.6-1.6-.4z"/>
<path fill="#4535ca" d="M146.8 509.2l1.6-.1-1.7-1.8-1.5 .4z"/>
<path fill="#1f8bd6" d="M94.6 474.5l1.6-3.6-1.6 .5-1.6 3.6z"/>
<path fill="#4636cc" d="M116.7 508.8l1.5-1.4-1.6-.2-1.6 1.6z"/>
<path fill="#93c74c" d="M153.6 436.5l1.5-.8-1.6-.6-1.6 .8z"/>
<path fill="#3a3dbf" d="M65.9 500.4l1.6-2.9-1.6 .4-1.6 2.9z"/>
<path fill="#8cc752" d="M159.9 437.5l1.5-.4-1.6-1.5-1.5 .4z"/>
<path fill="#13a3cc" d="M185.1 466.3l1.6 .5-1.6-9.4-1.6-.4z"/>
<path fill="#93c74d" d="M156.7 436.6l1.6-.6-1.6-.9-1.6 .6z"/>
<path fill="#4638d0" d="M143.6 508.1l1.6-.4-1.6-2.1-1.6 .8z"/>
<path fill="#473fda" d="M131 505.9l1.5-1.4-1.6-1.6-1.6 1.9z"/>
<path fill="#3835b0" d="M61.2 503.8l1.5-2.5-1.6 .4-1.6 2.6z"/>
<path fill="#58c87c" d="M171 444.7l1.5 .1-1.6-3.3-1.6-.1z"/>
<path fill="#4430c1" d="M108.7 511l1.6-.8-1.6 .2-1.6 .9z"/>
<path fill="#473bd5" d="M140.5 507.1l1.5-.7-1.6-2.2-1.5 1.1z"/>
<path fill="#483fdb" d="M134.1 505.9l1.6-1.2-1.6-1.9-1.6 1.7z"/>
<path fill="#473ed9" d="M137.3 506.3l1.6-1-1.7-2-1.5 1.4z"/>
<path fill="#463ad2" d="M119.8 507.6l1.6-1.6-1.6-.5-1.6 1.9z"/>
<path fill="#362ea3" d="M56.4 506.8l1.5-2.1-1.6 .5-1.5 2.1z"/>
<path fill="#36c696" d="M175.7 449.5l1.5 .3-1.6-4.6-1.5-.2z"/>
<path fill="#26b8ad" d="M180.4 456.3l1.6 .3-1.6-6.2-1.6-.3z"/>
<path fill="#4533c7" d="M111.9 510l1.5-1.2-1.6 .1-1.5 1.3z"/>
<path fill="#8fc750" d="M145.6 437.4l1.6-1.2-1.7-.2-1.5 1.2z"/>
<path fill="#432dbc" d="M157.9 512.3l1.5 .4-1.6-.7-1.5-.2z"/>
<path fill="#72c768" d="M167.8 441.4l1.5 0-1.6-2.7-1.5 .1z"/>
<path fill="#442fc0" d="M154.7 511.5l1.6 .3-1.7-1.2-1.5-.1z"/>
<path fill="#473ed9" d="M123 506.5l1.6-1.8-1.7-.8-1.5 2.1z"/>
<path fill="#3754d3" d="M73.9 492.9l1.6-3.4-1.7 .4-1.5 3.4z"/>
<path fill="#3261d7" d="M78.7 488.5l1.5-3.5-1.6 .4-1.5 3.6z"/>
<path fill="#2c70db" d="M83.5 484.1l1.5-3.7-1.6 .5-1.5 3.6z"/>
<path fill="#3c47cf" d="M69.1 497l1.6-3.2-1.6 .5-1.6 3.2z"/>
<path fill="#267edb" d="M88.2 479.5l1.6-3.6-1.6 .4-1.6 3.7z"/>
<path fill="#1f8bd6" d="M93 475l1.6-3.6-1.6 .4-1.6 3.6z"/>
<path fill="#442ebe" d="M103.9 512l1.6-.4-1.6 .3-1.6 .5z"/>
<path fill="#1898d0" d="M97.8 470.5l1.6-3.5-1.6 .4-1.6 3.5z"/>
<path fill="#97c749" d="M148.8 436.5l1.5-1-1.6-.4-1.5 1.1z"/>
<path fill="#4533c6" d="M151.5 510.4l1.6 .1-1.6-1.7-1.6 .2z"/>
<path fill="#3a3dbf" d="M64.3 500.8l1.6-2.9-1.6 .5-1.6 2.9z"/>
<path fill="#287add" d="M193 480.7l1.5 .5-1.6-12.6-1.5-.5z"/>
<path fill="#4638ce" d="M115 508.8l1.6-1.6-1.6-.1-1.6 1.7z"/>
<path fill="#85c758" d="M164.6 438.9l1.6-.1-1.6-2.2-1.6 .2z"/>
<path fill="#3835b0" d="M59.5 504.3l1.6-2.6-1.6 .5-1.6 2.5z"/>
<path fill="#9cc746" d="M151.9 435.9l1.6-.8-1.6-.5-1.6 .9z"/>
<path fill="#4637cd" d="M148.4 509.1l1.5-.1-1.6-2.1-1.6 .4z"/>
<path fill="#13a3cc" d="M186.7 466.8l1.5 .4-1.6-9.4-1.5-.4z"/>
<path fill="#4841df" d="M126.2 505.5l1.5-1.9-1.6-1.2-1.5 2.3z"/>
<path fill="#4431c2" d="M107.1 511.3l1.6-.9-1.7 .3-1.5 .9z"/>
<path fill="#9ec744" d="M155.1 435.7l1.6-.6-1.7-.7-1.5 .7z"/>
<path fill="#93c74c" d="M161.4 437.1l1.6-.3-1.6-1.6-1.6 .4z"/>
<path fill="#5bc87a" d="M172.5 444.8l1.6 .2-1.6-3.4-1.6-.1z"/>
<path fill="#9cc746" d="M158.3 436l1.5-.4-1.6-1-1.5 .5z"/>
<path fill="#473bd5" d="M145.2 507.7l1.5-.4-1.6-2.4-1.5 .7z"/>
<path fill="#4944e3" d="M129.3 504.8l1.6-1.9-1.6-1.6-1.6 2.3z"/>
<path fill="#473cd6" d="M118.2 507.4l1.6-1.9-1.6-.4-1.6 2.1z"/>
<path fill="#483fdc" d="M142 506.4l1.6-.8-1.6-2.5-1.6 1.1z"/>
<path fill="#4534c9" d="M110.3 510.2l1.5-1.3-1.6 .1-1.5 1.4z"/>
<path fill="#4945e5" d="M132.5 504.5l1.6-1.7-1.6-2-1.6 2.1z"/>
<path fill="#94c74c" d="M144 437.2l1.5-1.2-1.6-.1-1.5 1.2z"/>
<path fill="#26b9ad" d="M182 456.6l1.5 .4-1.6-6.3-1.5-.3z"/>
<path fill="#37c695" d="M177.2 449.8l1.6 .3-1.6-4.7-1.6-.2z"/>
<path fill="#442dbc" d="M159.4 512.7l1.6 .4-1.6-.8-1.6-.3z"/>
<path fill="#4843e1" d="M138.9 505.3l1.5-1.1-1.6-2.5-1.6 1.6z"/>
<path fill="#3754d3" d="M72.3 493.3l1.5-3.4-1.6 .5-1.5 3.4z"/>
<path fill="#3261d7" d="M77.1 489l1.5-3.6-1.6 .5-1.5 3.6z"/>
<path fill="#4945e5" d="M135.7 504.7l1.5-1.4-1.6-2.4-1.5 1.9z"/>
<path fill="#2c70db" d="M81.9 484.5l1.5-3.6-1.6 .4-1.6 3.7z"/>
<path fill="#3c47cf" d="M67.5 497.5l1.6-3.2-1.7 .4-1.5 3.2z"/>
<path fill="#267edb" d="M86.6 480l1.6-3.7-1.6 .5-1.6 3.6z"/>
<path fill="#1f8bd6" d="M91.4 475.4l1.6-3.6-1.6 .5-1.6 3.6z"/>
<path fill="#1898d0" d="M96.2 470.9l1.6-3.5-1.7 .5-1.5 3.5z"/>
<path fill="#442ebe" d="M102.3 512.4l1.6-.5-1.6 .4-1.6 .5z"/>
<path fill="#4430c1" d="M156.3 511.8l1.5 .2-1.6-1.3-1.6-.1z"/>
<path fill="#76c764" d="M169.3 441.4l1.6 .1-1.6-2.8-1.6 0z"/>
<path fill="#3a3dbf" d="M62.7 501.3l1.6-2.9-1.6 .4-1.6 2.9z"/>
<path fill="#4841df" d="M121.4 506l1.5-2.1-1.6-.8-1.5 2.4z"/>
<path fill="#9dc745" d="M147.2 436.2l1.5-1.1-1.6-.2-1.6 1.1z"/>
<path fill="#287add" d="M194.5 481.2l1.6 .5-1.6-12.6-1.6-.5z"/>
<path fill="#3835b0" d="M57.9 504.7l1.6-2.5-1.6 .5-1.6 2.5z"/>
<path fill="#4534c8" d="M153.1 510.5l1.5 .1-1.6-1.9-1.5 .1z"/>
<path fill="#4639d1" d="M113.4 508.8l1.6-1.7-1.6-.1-1.6 1.9z"/>
<path fill="#4431c3" d="M105.5 511.6l1.5-.9-1.6 .2-1.5 1z"/>
<path fill="#13a3cc" d="M188.2 467.2l1.6 .5-1.6-9.5-1.6-.4z"/>
<path fill="#a3c740" d="M150.3 435.5l1.6-.9-1.6-.4-1.6 .9z"/>
<path fill="#8ac753" d="M166.2 438.8l1.5-.1-1.6-2.3-1.5 .2z"/>
<path fill="#4639d1" d="M149.9 509l1.6-.2-1.6-2.4-1.6 .5z"/>
<path fill="#4946e6" d="M124.6 504.7l1.5-2.3-1.6-1.2-1.6 2.7z"/>
<path fill="#a6c73d" d="M153.5 435.1l1.5-.7-1.6-.5-1.5 .7z"/>
<path fill="#5ec878" d="M174.1 445l1.5 .2-1.6-3.5-1.5-.1z"/>
<path fill="#9ac747" d="M163 436.8l1.6-.2-1.7-1.7-1.5 .3z"/>
<path fill="#a7c73d" d="M156.7 435.1l1.5-.5-1.6-.7-1.6 .5z"/>
<path fill="#473eda" d="M116.6 507.2l1.6-2.1-1.7-.3-1.5 2.3z"/>
<path fill="#a3c73f" d="M159.8 435.6l1.6-.4-1.6-1-1.6 .4z"/>
<path fill="#4535ca" d="M108.7 510.4l1.5-1.4-1.6 .2-1.6 1.5z"/>
<path fill="#473eda" d="M146.7 507.3l1.6-.4-1.6-2.8-1.6 .8z"/>
<path fill="#3754d3" d="M70.7 493.8l1.5-3.4-1.6 .4-1.5 3.5z"/>
<path fill="#3261d7" d="M75.5 489.5l1.5-3.6-1.6 .4-1.6 3.6z"/>
<path fill="#2c70db" d="M80.2 485l1.6-3.7-1.6 .5-1.6 3.6z"/>
<path fill="#3c47cf" d="M65.9 497.9l1.5-3.2-1.6 .5-1.5 3.2z"/>
<path fill="#99c748" d="M142.4 437.1l1.5-1.2-1.6-.1-1.5 1.3z"/>
<path fill="#267edb" d="M85 480.4l1.6-3.6-1.6 .4-1.6 3.7z"/>
<path fill="#26b9ac" d="M183.5 457l1.6 .4-1.6-6.3-1.6-.4z"/>
<path fill="#11a5cb" d="M99.4 467l1.5-3.4-1.6 .4-1.5 3.4z"/>
<path fill="#1f8bd6" d="M89.8 475.9l1.6-3.6-1.7 .4-1.5 3.6z"/>
<path fill="#39c694" d="M178.8 450.1l1.6 .3-1.7-4.7-1.5-.3z"/>
<path fill="#1898d0" d="M94.6 471.4l1.5-3.5-1.6 .4-1.5 3.5z"/>
<path fill="#442ebd" d="M161 513.1l1.5 .4-1.6-.9-1.5-.3z"/>
<path fill="#4a49ed" d="M127.7 503.6l1.6-2.3-1.6-1.6-1.6 2.7z"/>
<path fill="#442ebe" d="M100.7 512.8l1.6-.5-1.7 .3-1.5 .6z"/>
<path fill="#3a3dbf" d="M61.1 501.7l1.6-2.9-1.7 .5-1.5 2.9z"/>
<path fill="#4943e3" d="M143.6 505.6l1.5-.7-1.6-3-1.5 1.2z"/>
<path fill="#4431c3" d="M157.8 512l1.6 .3-1.6-1.4-1.6-.2z"/>
<path fill="#7ac761" d="M170.9 441.5l1.6 .1-1.7-2.9-1.5 0z"/>
<path fill="#a2c740" d="M145.5 436l1.6-1.1-1.6-.2-1.6 1.2z"/>
<path fill="#4a4cf1" d="M130.9 502.9l1.6-2.1-1.7-2-1.5 2.5z"/>
<path fill="#463ad3" d="M111.8 508.9l1.6-1.9-1.6 0-1.6 2z"/>
<path fill="#4944e4" d="M119.8 505.5l1.5-2.4-1.6-.6-1.5 2.6z"/>
<path fill="#4a48ea" d="M140.4 504.2l1.6-1.1-1.6-3-1.6 1.6z"/>
<path fill="#4531c4" d="M103.9 511.9l1.5-1-1.6 .3-1.5 1.1z"/>
<path fill="#4535ca" d="M154.6 510.6l1.6 .1-1.6-2-1.6 0z"/>
<path fill="#4b4cf2" d="M134.1 502.8l1.5-1.9-1.6-2.4-1.5 2.3z"/>
<path fill="#4a4bf0" d="M137.2 503.3l1.6-1.6-1.6-2.8-1.6 2z"/>
<path fill="#13a3cc" d="M189.8 467.7l1.6 .4-1.7-9.4-1.5-.5z"/>
<path fill="#a9c73a" d="M148.7 435.1l1.6-.9-1.6-.2-1.6 .9z"/>
<path fill="#8fc750" d="M167.7 438.7l1.6 0-1.6-2.3-1.6 0z"/>
<path fill="#473bd4" d="M151.5 508.8l1.5-.1-1.6-2.6-1.5 .3z"/>
<path fill="#60c876" d="M175.6 445.2l1.6 .2-1.6-3.5-1.6-.2z"/>
<path fill="#adc739" d="M151.9 434.6l1.5-.7-1.6-.4-1.5 .7z"/>
<path fill="#4536cb" d="M107 510.7l1.6-1.5-1.6 .2-1.6 1.5z"/>
<path fill="#3754d3" d="M69.1 494.3l1.5-3.5-1.6 .5-1.6 3.4z"/>
<path fill="#3261d7" d="M73.8 489.9l1.6-3.6-1.6 .5-1.6 3.6z"/>
<path fill="#4a4aee" d="M122.9 503.9l1.6-2.7-1.6-1-1.6 2.9z"/>
<path fill="#2c70db" d="M78.6 485.4l1.6-3.6-1.6 .4-1.6 3.7z"/>
<path fill="#3c47cf" d="M64.3 498.4l1.5-3.2-1.6 .4-1.5 3.2z"/>
<path fill="#4840dd" d="M115 507.1l1.5-2.3-1.6-.2-1.5 2.4z"/>
<path fill="#267edb" d="M83.4 480.9l1.6-3.7-1.7 .5-1.5 3.6z"/>
<path fill="#11a5cb" d="M97.8 467.4l1.5-3.4-1.6 .5-1.6 3.4z"/>
<path fill="#a0c742" d="M164.6 436.6l1.5-.2-1.6-1.7-1.6 .2z"/>
<path fill="#1f8bd6" d="M88.2 476.3l1.5-3.6-1.6 .5-1.5 3.6z"/>
<path fill="#1898d0" d="M93 471.8l1.5-3.5-1.6 .4-1.5 3.6z"/>
<path fill="#aec739" d="M155 434.4l1.6-.5-1.6-.6-1.6 .6z"/>
<path fill="#3a3dbf" d="M59.5 502.2l1.5-2.9-1.6 .4-1.5 3z"/>
<path fill="#442fbf" d="M99.1 513.2l1.5-.6-1.6 .4-1.5 .6z"/>
<path fill="#aec739" d="M158.2 434.6l1.6-.4-1.6-.8-1.6 .5z"/>
<path fill="#26b9ac" d="M185.1 457.4l1.5 .4-1.6-6.3-1.5-.4z"/>
<path fill="#abc739" d="M161.4 435.2l1.5-.3-1.6-1-1.5 .3z"/>
<path fill="#442ebe" d="M162.5 513.5l1.6 .4-1.6-.9-1.6-.4z"/>
<path fill="#3bc693" d="M180.4 450.4l1.5 .3-1.6-4.7-1.6-.3z"/>
<path fill="#4841df" d="M148.3 506.9l1.6-.5-1.7-3.1-1.5 .8z"/>
<path fill="#4531c4" d="M159.4 512.3l1.5 .3-1.6-1.5-1.5-.2z"/>
<path fill="#4b4ff6" d="M126.1 502.4l1.6-2.7-1.6-1.5-1.6 3z"/>
<path fill="#473bd5" d="M110.2 509l1.6-2-1.7 .1-1.5 2.1z"/>
<path fill="#4532c4" d="M102.3 512.3l1.5-1.1-1.6 .4-1.6 1z"/>
<path fill="#a7c73d" d="M143.9 435.9l1.6-1.2-1.6 0-1.6 1.1z"/>
<path fill="#7dc75f" d="M172.5 441.6l1.5 .1-1.6-2.9-1.6-.1z"/>
<path fill="#4947e9" d="M118.2 505.1l1.5-2.6-1.6-.6-1.6 2.9z"/>
<path fill="#4948ea" d="M145.1 504.9l1.6-.8-1.6-3.4-1.6 1.2z"/>
<path fill="#13a3cb" d="M191.4 468.1l1.5 .5-1.6-9.5-1.6-.4z"/>
<path fill="#4637cc" d="M156.2 510.7l1.6 .2-1.7-2.3-1.5 .1z"/>
<path fill="#aec739" d="M147.1 434.9l1.6-.9-1.7-.2-1.5 .9z"/>
<path fill="#4c52fc" d="M129.3 501.3l1.5-2.5-1.6-2.1-1.5 3z"/>
<path fill="#3754d3" d="M67.4 494.7l1.6-3.4-1.6 .4-1.6 3.5z"/>
<path fill="#3261d7" d="M72.2 490.4l1.6-3.6-1.6 .4-1.6 3.6z"/>
<path fill="#4636cc" d="M105.4 510.9l1.6-1.5-1.6 .2-1.6 1.6z"/>
<path fill="#93c74c" d="M169.3 438.7l1.5 0-1.6-2.3-1.5 0z"/>
<path fill="#2c70db" d="M77 485.9l1.6-3.7-1.6 .5-1.6 3.6z"/>
<path fill="#4b4df4" d="M142 503.1l1.5-1.2-1.6-3.4-1.5 1.6z"/>
<path fill="#3c47cf" d="M62.7 498.8l1.5-3.2-1.6 .5-1.6 3.2z"/>
<path fill="#267edb" d="M81.8 481.3l1.5-3.6-1.6 .4-1.5 3.7z"/>
<path fill="#11a5cb" d="M96.1 467.9l1.6-3.4-1.6 .4-1.6 3.4z"/>
<path fill="#1f8bd6" d="M86.6 476.8l1.5-3.6-1.6 .4-1.5 3.6z"/>
<path fill="#1898d0" d="M91.4 472.3l1.5-3.6-1.6 .5-1.6 3.5z"/>
<path fill="#63c874" d="M177.2 445.4l1.5 .3-1.6-3.6-1.5-.2z"/>
<path fill="#b2c639" d="M150.3 434.2l1.5-.7-1.6-.3-1.5 .8z"/>
<path fill="#442fbf" d="M97.5 513.6l1.5-.6-1.6 .4-1.5 .6z"/>
<path fill="#4842e0" d="M113.4 507l1.5-2.4-1.6-.2-1.5 2.6z"/>
<path fill="#4c54ff" d="M132.5 500.8l1.5-2.3-1.6-2.6-1.6 2.9z"/>
<path fill="#473dd8" d="M153 508.7l1.6 0-1.6-3-1.6 .4z"/>
<path fill="#4c52fb" d="M138.8 501.7l1.6-1.6-1.7-3.3-1.5 2.1z"/>
<path fill="#4c54ff" d="M135.6 500.9l1.6-2-1.6-2.9-1.6 2.5z"/>
<path fill="#4b4ef4" d="M121.3 503.1l1.6-2.9-1.6-1-1.6 3.3z"/>
<path fill="#b4c639" d="M153.4 433.9l1.6-.6-1.6-.5-1.6 .7z"/>
<path fill="#a5c73e" d="M166.1 436.4l1.6 0-1.6-1.8-1.6 .1z"/>
<path fill="#27b9ab" d="M186.6 457.8l1.6 .4-1.6-6.3-1.6-.4z"/>
<path fill="#442ebe" d="M164.1 513.9l1.6 .4-1.7-1-1.5-.3z"/>
<path fill="#3cc692" d="M181.9 450.7l1.6 .4-1.6-4.8-1.6-.3z"/>
<path fill="#b5c639" d="M156.6 433.9l1.6-.5-1.7-.6-1.5 .5z"/>
<path fill="#afc739" d="M162.9 434.9l1.6-.2-1.6-1.1-1.6 .3z"/>
<path fill="#b3c639" d="M159.8 434.2l1.5-.3-1.6-.8-1.5 .3z"/>
<path fill="#4532c5" d="M100.6 512.6l1.6-1-1.6 .3-1.6 1.1z"/>
<path fill="#473cd6" d="M108.6 509.2l1.5-2.1-1.6 .1-1.5 2.2z"/>
<path fill="#4532c5" d="M160.9 512.6l1.6 .4-1.6-1.7-1.6-.2z"/>
<path fill="#abc739" d="M142.3 435.8l1.6-1.1-1.6 0-1.6 1.1z"/>
<path fill="#4944e4" d="M149.9 506.4l1.5-.3-1.6-3.5-1.6 .7z"/>
<path fill="#80c75c" d="M174 441.7l1.6 .2-1.6-2.9-1.6-.2z"/>
<path fill="#13a3cb" d="M192.9 468.6l1.6 .5-1.6-9.5-1.6-.5z"/>
<path fill="#4a49ed" d="M116.5 504.8l1.6-2.9-1.6-.4-1.6 3.1z"/>
<path fill="#4c54ff" d="M124.5 501.2l1.6-3-1.7-1.4-1.5 3.4z"/>
<path fill="#4638ce" d="M157.8 510.9l1.5 .2-1.6-2.5-1.6 0z"/>
<path fill="#b1c639" d="M145.5 434.7l1.5-.9-1.6-.1-1.5 1z"/>
<path fill="#3754d3" d="M65.8 495.2l1.6-3.5-1.6 .5-1.6 3.4z"/>
<path fill="#3261d7" d="M70.6 490.8l1.6-3.6-1.6 .5-1.6 3.6z"/>
<path fill="#2c70db" d="M75.4 486.3l1.6-3.6-1.7 .4-1.5 3.7z"/>
<path fill="#3c47cf" d="M61 499.3l1.6-3.2-1.6 .4-1.6 3.2z"/>
<path fill="#19aebe" d="M99.3 464l1.6-3.2-1.6 .5-1.6 3.2z"/>
<path fill="#4637cd" d="M103.8 511.2l1.6-1.6-1.6 .3-1.6 1.7z"/>
<path fill="#267edb" d="M80.2 481.8l1.5-3.7-1.6 .5-1.5 3.6z"/>
<path fill="#11a5cb" d="M94.5 468.3l1.6-3.4-1.6 .5-1.6 3.3z"/>
<path fill="#1f8bd6" d="M85 477.2l1.5-3.6-1.6 .5-1.6 3.6z"/>
<path fill="#1898d0" d="M89.7 472.7l1.6-3.5-1.6 .4-1.6 3.6z"/>
<path fill="#4a4cf1" d="M146.7 504.1l1.5-.8-1.6-3.7-1.5 1.1z"/>
<path fill="#442fbf" d="M95.9 514l1.5-.6-1.6 .4-1.6 .7z"/>
<path fill="#97c749" d="M170.8 438.7l1.6 .1-1.6-2.4-1.6 0z"/>
<path fill="#65c772" d="M178.7 445.7l1.6 .3-1.6-3.6-1.6-.3z"/>
<path fill="#4943e3" d="M111.8 507l1.5-2.6-1.6-.1-1.6 2.8z"/>
<path fill="#b6c639" d="M148.7 434l1.5-.8-1.6-.3-1.6 .9z"/>
<path fill="#432ab8" d="M172 515.6l1.5 .5-1.6 0-1.5-.5z"/>
<path fill="#4d59ff" d="M127.7 499.7l1.5-3-1.6-1.9-1.5 3.4z"/>
<path fill="#483fdb" d="M154.6 508.7l1.5-.1-1.6-3.1-1.5 .2z"/>
<path fill="#27b9ab" d="M188.2 458.2l1.5 .5-1.6-6.4-1.5-.4z"/>
<path fill="#b9c639" d="M151.8 433.5l1.6-.7-1.6-.3-1.6 .7z"/>
<path fill="#442fbf" d="M165.7 514.3l1.5 .4-1.6-1-1.6-.4z"/>
<path fill="#3dc791" d="M183.5 451.1l1.5 .4-1.6-4.9-1.5-.3z"/>
<path fill="#4c53fd" d="M143.5 501.9l1.6-1.2-1.6-3.9-1.6 1.7z"/>
<path fill="#4532c5" d="M99 513l1.6-1.1-1.6 .4-1.6 1.1z"/>
<path fill="#4c51fb" d="M119.7 502.5l1.6-3.3-1.6-.8-1.6 3.5z"/>
<path fill="#aac73a" d="M167.7 436.4l1.5 0-1.6-1.9-1.5 .1z"/>
<path fill="#473dd8" d="M107 509.4l1.5-2.2-1.6 .2-1.5 2.2z"/>
<path fill="#bbc639" d="M155 433.3l1.5-.5-1.6-.5-1.5 .5z"/>
<path fill="#adc739" d="M140.7 435.8l1.6-1.1-1.7 0-1.5 1.2z"/>
<path fill="#b3c639" d="M164.5 434.7l1.6-.1-1.7-1.1-1.5 .1z"/>
<path fill="#bac639" d="M158.2 433.4l1.5-.3-1.6-.7-1.6 .4z"/>
<path fill="#4b5dff" d="M130.8 498.8l1.6-2.9-1.6-2.4-1.6 3.2z"/>
<path fill="#4533c6" d="M162.5 513l1.5 .3-1.6-1.8-1.5-.2z"/>
<path fill="#b8c639" d="M161.3 433.9l1.6-.3-1.6-.8-1.6 .3z"/>
<path fill="#4d59ff" d="M140.4 500.1l1.5-1.6-1.6-3.8-1.6 2.1z"/>
<path fill="#82c75a" d="M175.6 441.9l1.5 .2-1.6-2.9-1.5-.2z"/>
<path fill="#3754d3" d="M64.2 495.6l1.6-3.4-1.6 .4-1.6 3.5z"/>
<path fill="#3261d7" d="M69 491.3l1.6-3.6-1.7 .5-1.5 3.5z"/>
<path fill="#4b5eff" d="M134 498.5l1.6-2.5-1.6-3-1.6 2.9z"/>
<path fill="#4947e9" d="M151.4 506.1l1.6-.4-1.6-3.7-1.6 .6z"/>
<path fill="#2c70db" d="M73.8 486.8l1.5-3.7-1.6 .5-1.5 3.6z"/>
<path fill="#4a4cf1" d="M114.9 504.6l1.6-3.1-1.6-.4-1.6 3.3z"/>
<path fill="#4b5dff" d="M137.2 498.9l1.5-2.1-1.6-3.4-1.5 2.6z"/>
<path fill="#19aebe" d="M97.7 464.5l1.6-3.2-1.7 .4-1.5 3.2z"/>
<path fill="#267edb" d="M78.6 482.2l1.5-3.6-1.6 .4-1.5 3.7z"/>
<path fill="#4637ce" d="M102.2 511.6l1.6-1.7-1.7 .3-1.5 1.7z"/>
<path fill="#11a5ca" d="M92.9 468.7l1.6-3.3-1.6 .4-1.6 3.4z"/>
<path fill="#1f8bd6" d="M83.3 477.7l1.6-3.6-1.6 .4-1.6 3.6z"/>
<path fill="#1898d0" d="M88.1 473.2l1.6-3.6-1.6 .5-1.6 3.5z"/>
<path fill="#b4c639" d="M143.9 434.7l1.5-1-1.6-.1-1.5 1.1z"/>
<path fill="#442fbf" d="M94.2 514.5l1.6-.7-1.6 .4-1.6 .7z"/>
<path fill="#4639d0" d="M159.3 511.1l1.6 .2-1.6-2.6-1.6-.1z"/>
<path fill="#4d59ff" d="M122.9 500.2l1.5-3.4-1.6-1.3-1.5 3.7z"/>
<path fill="#4945e5" d="M110.1 507.1l1.6-2.8-1.6 0-1.6 2.9z"/>
<path fill="#bac639" d="M147 433.8l1.6-.9-1.6-.1-1.6 .9z"/>
<path fill="#66c771" d="M180.3 446l1.6 .3-1.7-3.6-1.5-.3z"/>
<path fill="#9ac747" d="M172.4 438.8l1.6 .2-1.7-2.5-1.5-.1z"/>
<path fill="#432bb8" d="M173.5 516.1l1.6 .5-1.6 0-1.6-.5z"/>
<path fill="#4b50f8" d="M148.2 503.3l1.6-.7-1.6-4.1-1.6 1.1z"/>
<path fill="#4533c6" d="M97.4 513.4l1.6-1.1-1.6 .4-1.6 1.1z"/>
<path fill="#27baab" d="M189.7 458.7l1.6 .4-1.6-6.4-1.6-.4z"/>
<path fill="#442fbf" d="M167.2 514.7l1.6 .5-1.6-1.2-1.6-.3z"/>
<path fill="#bec639" d="M150.2 433.2l1.6-.7-1.7-.3-1.5 .7z"/>
<path fill="#3ec790" d="M185 451.5l1.6 .4-1.6-4.9-1.6-.4z"/>
<path fill="#473ed9" d="M105.4 509.6l1.5-2.2-1.6 .2-1.5 2.3z"/>
<path fill="#4841de" d="M156.1 508.6l1.6 0-1.6-3.4-1.6 .3z"/>
<path fill="#adc739" d="M169.2 436.4l1.6 0-1.6-1.9-1.6 0z"/>
<path fill="#4c55ff" d="M118.1 501.9l1.6-3.5-1.7-.6-1.5 3.7z"/>
<path fill="#c0c639" d="M153.4 432.8l1.5-.5-1.6-.4-1.5 .6z"/>
<path fill="#4961ff" d="M126.1 498.2l1.5-3.4-1.6-1.8-1.6 3.8z"/>
<path fill="#4533c7" d="M164 513.3l1.6 .4-1.6-1.9-1.6-.3z"/>
<path fill="#23b6b1" d="M100.9 460.8l1.5-3-1.6 .4-1.5 3.1z"/>
<path fill="#3754d3" d="M62.6 496.1l1.6-3.5-1.7 .5-1.5 3.4z"/>
<path fill="#3261d7" d="M67.4 491.7l1.5-3.5-1.6 .4-1.5 3.6z"/>
<path fill="#c0c639" d="M156.5 432.8l1.6-.4-1.6-.5-1.6 .4z"/>
<path fill="#b7c639" d="M166.1 434.6l1.5-.1-1.6-1.1-1.6 .1z"/>
<path fill="#2c70db" d="M72.2 487.2l1.5-3.6-1.6 .5-1.5 3.6z"/>
<path fill="#19aebe" d="M96.1 464.9l1.5-3.2-1.6 .4-1.5 3.3z"/>
<path fill="#267edb" d="M77 482.7l1.5-3.7-1.6 .5-1.6 3.6z"/>
<path fill="#bfc639" d="M159.7 433.1l1.6-.3-1.6-.7-1.6 .3z"/>
<path fill="#bcc639" d="M162.9 433.6l1.5-.1-1.6-.9-1.5 .2z"/>
<path fill="#1f8bd6" d="M81.7 478.1l1.6-3.6-1.6 .5-1.6 3.6z"/>
<path fill="#11a6ca" d="M91.3 469.2l1.6-3.4-1.7 .5-1.5 3.3z"/>
<path fill="#4d58ff" d="M145.1 500.7l1.5-1.1-1.6-4.3-1.5 1.5z"/>
<path fill="#85c758" d="M177.1 442.1l1.6 .3-1.6-3-1.6-.2z"/>
<path fill="#1898d0" d="M86.5 473.6l1.6-3.5-1.6 .4-1.6 3.6z"/>
<path fill="#4638ce" d="M100.6 511.9l1.5-1.7-1.6 .3-1.5 1.8z"/>
<path fill="#4b4ef5" d="M113.3 504.4l1.6-3.3-1.6-.2-1.6 3.4z"/>
<path fill="#442fbf" d="M92.6 514.9l1.6-.7-1.6 .5-1.6 .6z"/>
<path fill="#b7c639" d="M142.3 434.7l1.5-1.1-1.6 .1-1.6 1z"/>
<path fill="#4a4aee" d="M153 505.7l1.5-.2-1.6-4.1-1.5 .6z"/>
<path fill="#4667ff" d="M129.2 496.7l1.6-3.2-1.6-2.3-1.6 3.6z"/>
<path fill="#463ad2" d="M160.9 511.3l1.5 .2-1.6-2.7-1.5-.1z"/>
<path fill="#432ab7" d="M81.5 516.7l1.6 .2-1.7 .4-1.5-.2z"/>
<path fill="#4946e7" d="M108.5 507.2l1.6-2.9-1.6 .1-1.6 3z"/>
<path fill="#4961ff" d="M141.9 498.5l1.6-1.7-1.7-4.1-1.5 2z"/>
<path fill="#bdc639" d="M145.4 433.7l1.6-.9-1.6-.1-1.6 .9z"/>
<path fill="#68c770" d="M181.9 446.3l1.5 .3-1.6-3.6-1.6-.3z"/>
<path fill="#4533c6" d="M95.8 513.8l1.6-1.1-1.7 .4-1.5 1.1z"/>
<path fill="#4b5eff" d="M121.3 499.2l1.5-3.7-1.6-1-1.5 3.9z"/>
<path fill="#9dc744" d="M174 439l1.5 .2-1.6-2.6-1.6-.1z"/>
<path fill="#432cbb" d="M171.9 516.1l1.6 .5-1.6-.6-1.6-.4z"/>
<path fill="#456aff" d="M132.4 495.9l1.6-2.9-1.7-2.9-1.5 3.4z"/>
<path fill="#27baab" d="M191.3 459.1l1.6 .5-1.7-6.5-1.5-.4z"/>
<path fill="#473eda" d="M103.8 509.9l1.5-2.3-1.6 .2-1.6 2.4z"/>
<path fill="#4667ff" d="M138.7 496.8l1.6-2.1-1.6-3.9-1.6 2.6z"/>
<path fill="#442fc0" d="M168.8 515.2l1.5 .4-1.6-1.2-1.5-.4z"/>
<path fill="#c1c639" d="M148.6 432.9l1.5-.7-1.6-.1-1.5 .7z"/>
<path fill="#3fc78f" d="M186.6 451.9l1.5 .4-1.6-4.9-1.5-.4z"/>
<path fill="#456aff" d="M135.6 496l1.5-2.6-1.6-3.4-1.5 3z"/>
<path fill="#432dbb" d="M87.8 516l1.6-.2-1.6 .4-1.6 .3z"/>
<path fill="#4842e1" d="M157.7 508.6l1.6 .1-1.7-3.6-1.5 .1z"/>
<path fill="#23b6b1" d="M99.3 461.3l1.5-3.1-1.6 .4-1.6 3.1z"/>
<path fill="#4c54ff" d="M149.8 502.6l1.6-.6-1.7-4.5-1.5 1z"/>
<path fill="#3261d7" d="M65.8 492.2l1.5-3.6-1.6 .5-1.5 3.5z"/>
<path fill="#b0c739" d="M170.8 436.4l1.5 .1-1.6-1.9-1.5-.1z"/>
<path fill="#4d58ff" d="M116.5 501.5l1.5-3.7-1.6-.5-1.5 3.8z"/>
<path fill="#2c70db" d="M70.6 487.7l1.5-3.6-1.6 .4-1.6 3.7z"/>
<path fill="#c4c639" d="M151.8 432.5l1.5-.6-1.6-.3-1.6 .6z"/>
<path fill="#19aebe" d="M94.5 465.4l1.5-3.3-1.6 .5-1.5 3.2z"/>
<path fill="#267edb" d="M75.3 483.1l1.6-3.6-1.6 .4-1.6 3.7z"/>
<path fill="#1f8bd6" d="M80.1 478.6l1.6-3.6-1.6 .4-1.6 3.6z"/>
<path fill="#11a6ca" d="M89.7 469.6l1.5-3.3-1.6 .4-1.5 3.4z"/>
<path fill="#1898d0" d="M84.9 474.1l1.6-3.6-1.7 .5-1.5 3.5z"/>
<path fill="#4534c8" d="M165.6 513.7l1.6 .3-1.7-2-1.5-.2z"/>
<path fill="#4638cf" d="M99 512.3l1.5-1.8-1.6 .4-1.5 1.8z"/>
<path fill="#442fc0" d="M91 515.3l1.6-.6-1.6 .4-1.6 .7z"/>
<path fill="#c6c639" d="M154.9 432.3l1.6-.4-1.6-.4-1.6 .4z"/>
<path fill="#bac639" d="M167.6 434.5l1.6 0-1.6-1.2-1.6 .1z"/>
<path fill="#87c757" d="M178.7 442.4l1.5 .3-1.6-3.1-1.5-.2z"/>
<path fill="#4b4ff8" d="M111.7 504.3l1.6-3.4-1.7-.1-1.5 3.5z"/>
<path fill="#b9c639" d="M140.6 434.7l1.6-1-1.6 0-1.6 1.1z"/>
<path fill="#c5c639" d="M158.1 432.4l1.6-.3-1.7-.6-1.5 .4z"/>
<path fill="#4668ff" d="M124.4 496.8l1.6-3.8-1.6-1.5-1.6 4z"/>
<path fill="#c0c639" d="M164.4 433.5l1.6-.1-1.6-.9-1.6 .1z"/>
<path fill="#c4c639" d="M161.3 432.8l1.5-.2-1.6-.7-1.5 .2z"/>
<path fill="#432ab7" d="M79.9 517.1l1.5 .2-1.6 .5-1.5-.2z"/>
<path fill="#4947e9" d="M106.9 507.4l1.6-3-1.6 .1-1.6 3.1z"/>
<path fill="#473bd4" d="M162.4 511.5l1.6 .3-1.6-2.9-1.6-.1z"/>
<path fill="#4533c6" d="M94.2 514.2l1.5-1.1-1.6 .4-1.5 1.2z"/>
<path fill="#4a5fff" d="M146.6 499.6l1.6-1.1-1.6-4.6-1.6 1.4z"/>
<path fill="#4b4cf2" d="M154.5 505.5l1.6-.3-1.6-4.2-1.6 .4z"/>
<path fill="#c0c639" d="M143.8 433.6l1.6-.9-1.6 0-1.6 1z"/>
<path fill="#69c76f" d="M183.4 446.6l1.6 .4-1.7-3.7-1.5-.3z"/>
<path fill="#483fdb" d="M102.1 510.2l1.6-2.4-1.6 .3-1.6 2.4z"/>
<path fill="#a0c742" d="M175.5 439.2l1.6 .2-1.6-2.6-1.6-.2z"/>
<path fill="#4863ff" d="M119.7 498.4l1.5-3.9-1.6-.9-1.6 4.2z"/>
<path fill="#4270ff" d="M127.6 494.8l1.6-3.6-1.6-2.2-1.6 4z"/>
<path fill="#442fc0" d="M170.3 515.6l1.6 .4-1.6-1.2-1.6-.4z"/>
<path fill="#c5c639" d="M147 432.8l1.5-.7-1.6-.1-1.5 .7z"/>
<path fill="#40c78f" d="M188.1 452.3l1.6 .4-1.6-4.9-1.6-.4z"/>
<path fill="#23b6b1" d="M97.6 461.7l1.6-3.1-1.6 .5-1.6 3z"/>
<path fill="#3261d7" d="M64.2 492.6l1.5-3.5-1.6 .4-1.6 3.6z"/>
<path fill="#2c70db" d="M68.9 488.2l1.6-3.7-1.6 .5-1.6 3.6z"/>
<path fill="#19aebe" d="M92.9 465.8l1.5-3.2-1.6 .4-1.6 3.3z"/>
<path fill="#267edb" d="M73.7 483.6l1.6-3.7-1.6 .5-1.6 3.7z"/>
<path fill="#1f8bd6" d="M78.5 479l1.6-3.6-1.7 .5-1.5 3.6z"/>
<path fill="#11a6ca" d="M88.1 470.1l1.5-3.4-1.6 .4-1.5 3.4z"/>
<path fill="#1898d0" d="M83.3 474.5l1.5-3.5-1.6 .4-1.5 3.6z"/>
<path fill="#4569ff" d="M143.5 496.8l1.5-1.5-1.6-4.6-1.6 2z"/>
<path fill="#4638cf" d="M97.4 512.7l1.5-1.8-1.6 .4-1.6 1.8z"/>
<path fill="#442fc0" d="M89.4 515.8l1.6-.7-1.7 .4-1.5 .7z"/>
<path fill="#4944e3" d="M159.3 508.7l1.5 .1-1.6-3.8-1.6 .1z"/>
<path fill="#c8c639" d="M150.1 432.2l1.6-.6-1.6-.2-1.6 .7z"/>
<path fill="#4d5aff" d="M114.9 501.1l1.5-3.8-1.6-.4-1.5 4z"/>
<path fill="#b2c639" d="M172.3 436.5l1.6 .1-1.6-1.9-1.6-.1z"/>
<path fill="#4534c9" d="M167.2 514l1.5 .4-1.6-2-1.6-.4z"/>
<path fill="#bbc639" d="M139 434.8l1.6-1.1-1.6 .1-1.6 1.1z"/>
<path fill="#4d58ff" d="M151.4 502l1.5-.6-1.6-4.7-1.6 .8z"/>
<path fill="#cbc539" d="M153.3 431.9l1.6-.4-1.6-.4-1.6 .5z"/>
<path fill="#3f76ff" d="M130.8 493.5l1.5-3.4-1.6-2.7-1.5 3.8z"/>
<path fill="#4c51fa" d="M110.1 504.3l1.5-3.5-1.6 0-1.5 3.6z"/>
<path fill="#432ab7" d="M78.3 517.6l1.5 .2-1.6 .5-1.5-.3z"/>
<path fill="#88c755" d="M180.2 442.7l1.6 .3-1.6-3.1-1.6-.3z"/>
<path fill="#bdc639" d="M169.2 434.5l1.5 .1-1.6-1.2-1.5-.1z"/>
<path fill="#4171ff" d="M140.3 494.7l1.5-2-1.6-4.4-1.5 2.5z"/>
<path fill="#cbc539" d="M156.5 431.9l1.5-.4-1.6-.4-1.5 .4z"/>
<path fill="#c3c639" d="M166 433.4l1.6-.1-1.7-.9-1.5 .1z"/>
<path fill="#4a48ea" d="M105.3 507.6l1.6-3.1-1.7 .2-1.5 3.1z"/>
<path fill="#cac539" d="M159.7 432.1l1.5-.2-1.6-.6-1.6 .2z"/>
<path fill="#4533c6" d="M92.6 514.7l1.5-1.2-1.6 .4-1.5 1.2z"/>
<path fill="#c8c639" d="M162.8 432.6l1.6-.1-1.6-.8-1.6 .2z"/>
<path fill="#3e78ff" d="M134 493l1.5-3-1.6-3.4-1.6 3.5z"/>
<path fill="#3f76ff" d="M137.1 493.4l1.6-2.6-1.6-3.8-1.6 3z"/>
<path fill="#436fff" d="M122.8 495.5l1.6-4-1.6-1.4-1.6 4.4z"/>
<path fill="#c2c639" d="M142.2 433.7l1.6-1-1.7 .1-1.5 .9z"/>
<path fill="#473cd5" d="M164 511.8l1.5 .2-1.6-2.9-1.5-.2z"/>
<path fill="#483fdc" d="M100.5 510.5l1.6-2.4-1.6 .3-1.6 2.5z"/>
<path fill="#2cbea4" d="M100.8 458.2l1.6-2.9-1.6 .5-1.6 2.8z"/>
<path fill="#6ac76e" d="M185 447l1.5 .4-1.6-3.7-1.6-.4z"/>
<path fill="#4b4ff6" d="M156.1 505.2l1.5-.1-1.6-4.5-1.5 .4z"/>
<path fill="#23b6b1" d="M96 462.1l1.6-3-1.6 .4-1.6 3.1z"/>
<path fill="#a2c740" d="M177.1 439.4l1.5 .2-1.6-2.6-1.5-.2z"/>
<path fill="#2c70db" d="M67.3 488.6l1.6-3.6-1.6 .4-1.6 3.7z"/>
<path fill="#19aebe" d="M91.2 466.3l1.6-3.3-1.6 .5-1.6 3.2z"/>
<path fill="#c8c639" d="M145.4 432.7l1.5-.7-1.6-.1-1.5 .8z"/>
<path fill="#267edb" d="M72.1 484.1l1.6-3.7-1.7 .5-1.5 3.6z"/>
<path fill="#1f8bd6" d="M76.9 479.5l1.5-3.6-1.6 .4-1.5 3.6z"/>
<path fill="#41c78e" d="M189.7 452.7l1.5 .4-1.6-4.9-1.5-.4z"/>
<path fill="#4765ff" d="M148.2 498.5l1.5-1-1.6-5-1.5 1.4z"/>
<path fill="#11a6ca" d="M86.5 470.5l1.5-3.4-1.6 .5-1.6 3.4z"/>
<path fill="#1898d0" d="M81.7 475l1.5-3.6-1.6 .5-1.5 3.5z"/>
<path fill="#4668ff" d="M118 497.8l1.6-4.2-1.6-.7-1.6 4.4z"/>
<path fill="#4638d0" d="M95.7 513.1l1.6-1.8-1.6 .4-1.6 1.8z"/>
<path fill="#442fc0" d="M87.8 516.2l1.5-.7-1.6 .5-1.5 .7z"/>
<path fill="#ccc539" d="M148.5 432.1l1.6-.7-1.6-.1-1.6 .7z"/>
<path fill="#4b5dff" d="M113.3 500.9l1.5-4-1.6-.2-1.6 4.1z"/>
<path fill="#4535c9" d="M168.7 514.4l1.6 .4-1.7-2.1-1.5-.3z"/>
<path fill="#4945e6" d="M160.8 508.8l1.6 .1-1.6-3.9-1.6 0z"/>
<path fill="#b4c639" d="M173.9 436.6l1.6 .2-1.7-1.9-1.5-.2z"/>
<path fill="#432ab7" d="M76.7 518l1.5 .3-1.6 .4-1.6-.2z"/>
<path fill="#3e79ff" d="M126 493l1.6-4-1.7-1.8-1.5 4.3z"/>
<path fill="#4c52fc" d="M108.5 504.4l1.5-3.6-1.6 0-1.5 3.7z"/>
<path fill="#cfc538" d="M151.7 431.6l1.6-.5-1.7-.2-1.5 .5z"/>
<path fill="#8ac754" d="M181.8 443l1.5 .3-1.6-3.1-1.5-.3z"/>
<path fill="#4533c6" d="M91 515.1l1.5-1.2-1.6 .4-1.6 1.2z"/>
<path fill="#4a48eb" d="M103.7 507.8l1.5-3.1-1.6 .3-1.5 3.1z"/>
<path fill="#c0c639" d="M170.7 434.6l1.6 .1-1.6-1.3-1.6 0z"/>
<path fill="#d0c538" d="M154.9 431.5l1.5-.4-1.6-.4-1.5 .4z"/>
<path fill="#4171ff" d="M145 495.3l1.6-1.4-1.6-5-1.6 1.8z"/>
<path fill="#4c5cff" d="M152.9 501.4l1.6-.4-1.6-5-1.6 .7z"/>
<path fill="#c7c639" d="M167.6 433.3l1.5 .1-1.6-1-1.6 0z"/>
<path fill="#d0c538" d="M158 431.5l1.6-.2-1.6-.5-1.6 .3z"/>
<path fill="#c4c639" d="M140.6 433.7l1.5-.9-1.6 .1-1.5 .9z"/>
<path fill="#4840dc" d="M98.9 510.9l1.6-2.5-1.6 .4-1.6 2.5z"/>
<path fill="#2cbea4" d="M99.2 458.6l1.6-2.8-1.7 .4-1.5 2.9z"/>
<path fill="#cbc539" d="M164.4 432.5l1.5-.1-1.6-.8-1.5 .1z"/>
<path fill="#cec538" d="M161.2 431.9l1.6-.2-1.6-.6-1.6 .2z"/>
<path fill="#473cd6" d="M165.5 512l1.6 .4-1.6-3.1-1.6-.2z"/>
<path fill="#23b6b1" d="M94.4 462.6l1.6-3.1-1.6 .4-1.6 3.1z"/>
<path fill="#6bc76d" d="M186.5 447.4l1.6 .4-1.6-3.8-1.6-.3z"/>
<path fill="#3a80ff" d="M129.2 491.2l1.5-3.8-1.6-2.5-1.5 4.1z"/>
<path fill="#2c70db" d="M65.7 489.1l1.6-3.7-1.6 .5-1.6 3.6z"/>
<path fill="#4075ff" d="M121.2 494.5l1.6-4.4-1.6-1.1-1.6 4.6z"/>
<path fill="#19aebe" d="M89.6 466.7l1.6-3.2-1.6 .4-1.6 3.2z"/>
<path fill="#267edb" d="M70.5 484.5l1.5-3.6-1.6 .4-1.5 3.7z"/>
<path fill="#1f8bd6" d="M75.3 479.9l1.5-3.6-1.6 .5-1.5 3.6z"/>
<path fill="#11a6ca" d="M84.8 471l1.6-3.4-1.6 .4-1.6 3.4z"/>
<path fill="#1898d0" d="M80.1 475.4l1.5-3.5-1.6 .5-1.6 3.5z"/>
<path fill="#a4c73e" d="M178.6 439.6l1.6 .3-1.6-2.6-1.6-.3z"/>
<path fill="#cac539" d="M143.8 432.7l1.5-.8-1.6 .1-1.6 .8z"/>
<path fill="#4638d0" d="M94.1 513.5l1.6-1.8-1.6 .4-1.6 1.8z"/>
<path fill="#442fc0" d="M86.2 516.7l1.5-.7-1.6 .4-1.5 .7z"/>
<path fill="#4c51fa" d="M157.6 505.1l1.6-.1-1.6-4.6-1.6 .2z"/>
<path fill="#3c7bff" d="M141.8 492.7l1.6-2-1.6-4.7-1.6 2.3z"/>
<path fill="#446bff" d="M116.4 497.3l1.6-4.4-1.6-.5-1.6 4.5z"/>
<path fill="#3885ff" d="M132.3 490.1l1.6-3.5-1.6-3.1-1.6 3.9z"/>
<path fill="#432ab7" d="M75 518.5l1.6 .2-1.6 .5-1.6-.3z"/>
<path fill="#cfc538" d="M146.9 432l1.6-.7-1.6 0-1.6 .6z"/>
<path fill="#4a5fff" d="M111.6 500.8l1.6-4.1-1.6-.2-1.6 4.3z"/>
<path fill="#3982ff" d="M138.7 490.8l1.5-2.5-1.6-4.2-1.5 2.9z"/>
<path fill="#4c53fe" d="M106.9 504.5l1.5-3.7-1.6 .2-1.6 3.7z"/>
<path fill="#456bff" d="M149.7 497.5l1.6-.8-1.6-5.3-1.6 1.1z"/>
<path fill="#3785ff" d="M135.5 490l1.6-3-1.7-3.8-1.5 3.4z"/>
<path fill="#b6c639" d="M175.5 436.8l1.5 .2-1.6-1.9-1.6-.2z"/>
<path fill="#4946e8" d="M162.4 508.9l1.5 .2-1.6-4-1.5-.1z"/>
<path fill="#432bb9" d="M78.2 518.3l1.6 0-1.6 .4-1.6 0z"/>
<path fill="#4533c6" d="M89.3 515.5l1.6-1.2-1.6 .4-1.6 1.3z"/>
<path fill="#4a49ec" d="M102.1 508.1l1.5-3.1-1.6 .3-1.5 3.1z"/>
<path fill="#d2c538" d="M150.1 431.4l1.5-.5-1.6-.1-1.5 .5z"/>
<path fill="#35c597" d="M102.4 455.3l1.5-2.7-1.6 .5-1.5 2.7z"/>
<path fill="#8bc753" d="M183.3 443.3l1.6 .4-1.6-3.2-1.6-.3z"/>
<path fill="#2cbea4" d="M97.6 459.1l1.5-2.9-1.6 .4-1.5 2.9z"/>
<path fill="#4840dd" d="M97.3 511.3l1.6-2.5-1.7 .4-1.5 2.5z"/>
<path fill="#d4c538" d="M153.3 431.1l1.5-.4-1.6-.2-1.6 .4z"/>
<path fill="#c2c639" d="M172.3 434.7l1.5 .2-1.6-1.3-1.5-.2z"/>
<path fill="#3a81ff" d="M124.4 491.5l1.5-4.3-1.6-1.7-1.5 4.6z"/>
<path fill="#c6c639" d="M139 433.8l1.5-.9-1.6 .1-1.5 1z"/>
<path fill="#23b6b1" d="M92.8 463l1.6-3.1-1.7 .5-1.5 3.1z"/>
<path fill="#d5c538" d="M156.4 431.1l1.6-.3-1.6-.4-1.6 .3z"/>
<path fill="#c9c539" d="M169.1 433.4l1.6 0-1.6-.9-1.6-.1z"/>
<path fill="#19aebe" d="M88 467.1l1.6-3.2-1.6 .4-1.6 3.3z"/>
<path fill="#267edb" d="M68.9 485l1.5-3.7-1.6 .5-1.5 3.6z"/>
<path fill="#473dd7" d="M167.1 512.4l1.5 .3-1.6-3.1-1.5-.3z"/>
<path fill="#4a5fff" d="M154.5 501l1.5-.4-1.6-5.2-1.5 .6z"/>
<path fill="#d4c538" d="M159.6 431.3l1.6-.2-1.7-.5-1.5 .2z"/>
<path fill="#1f8bd6" d="M73.7 480.4l1.5-3.6-1.6 .4-1.6 3.7z"/>
<path fill="#cec538" d="M165.9 432.4l1.6 0-1.6-.8-1.6 0z"/>
<path fill="#11a6ca" d="M83.2 471.4l1.6-3.4-1.6 .5-1.6 3.4z"/>
<path fill="#1898d0" d="M78.4 475.9l1.6-3.5-1.6 .4-1.6 3.5z"/>
<path fill="#d2c538" d="M162.8 431.7l1.5-.1-1.6-.6-1.5 .1z"/>
<path fill="#6cc76c" d="M188.1 447.8l1.5 .4-1.6-3.8-1.5-.4z"/>
<path fill="#4639d0" d="M92.5 513.9l1.6-1.8-1.6 .4-1.6 1.8z"/>
<path fill="#442fc0" d="M84.6 517.1l1.5-.7-1.6 .5-1.6 .7z"/>
<path fill="#cdc539" d="M142.1 432.8l1.6-.8-1.6 .1-1.6 .8z"/>
<path fill="#3e79ff" d="M146.6 493.9l1.5-1.4-1.6-5.3-1.5 1.7z"/>
<path fill="#a6c73d" d="M180.2 439.9l1.5 .3-1.6-2.6-1.5-.3z"/>
<path fill="#3d7aff" d="M119.6 493.6l1.6-4.6-1.7-.9-1.5 4.8z"/>
<path fill="#4c53fd" d="M159.2 505l1.6 0-1.7-4.8-1.5 .2z"/>
<path fill="#436fff" d="M114.8 496.9l1.6-4.5-1.6-.4-1.6 4.7z"/>
<path fill="#d2c538" d="M145.3 431.9l1.6-.6-1.7 0-1.5 .7z"/>
<path fill="#4961ff" d="M110 500.8l1.6-4.3-1.6 0-1.6 4.3z"/>
<path fill="#358aff" d="M127.6 489l1.5-4.1-1.6-2.2-1.6 4.5z"/>
<path fill="#432bb9" d="M76.6 518.7l1.6 0-1.7 .5-1.5 0z"/>
<path fill="#4c54ff" d="M105.2 504.7l1.6-3.7-1.6 .2-1.6 3.8z"/>
<path fill="#4533c7" d="M87.7 516l1.6-1.3-1.6 .5-1.6 1.2z"/>
<path fill="#4a49ed" d="M100.5 508.4l1.5-3.1-1.6 .3-1.5 3.2z"/>
<path fill="#35c597" d="M100.8 455.8l1.5-2.7-1.6 .4-1.6 2.7z"/>
<path fill="#b8c639" d="M177 437l1.6 .3-1.6-2-1.6-.2z"/>
<path fill="#4947ea" d="M163.9 509.1l1.6 .2-1.6-4.1-1.6-.1z"/>
<path fill="#d6c538" d="M148.5 431.3l1.5-.5-1.6-.1-1.5 .6z"/>
<path fill="#2cbea4" d="M96 459.5l1.5-2.9-1.6 .4-1.5 2.9z"/>
<path fill="#4840dd" d="M95.7 511.7l1.5-2.5-1.6 .3-1.5 2.6z"/>
<path fill="#8dc752" d="M184.9 443.7l1.6 .3-1.7-3.1-1.5-.4z"/>
<path fill="#3785ff" d="M143.4 490.7l1.6-1.8-1.7-5.1-1.5 2.2z"/>
<path fill="#c8c639" d="M137.4 434l1.5-1-1.6 .2-1.6 1z"/>
<path fill="#23b6b1" d="M91.2 463.5l1.5-3.1-1.6 .4-1.5 3.1z"/>
<path fill="#4270ff" d="M151.3 496.7l1.6-.7-1.7-5.6-1.5 1z"/>
<path fill="#d8c538" d="M151.6 430.9l1.6-.4-1.6-.2-1.6 .5z"/>
<path fill="#c4c639" d="M173.8 434.9l1.6 .2-1.6-1.4-1.6-.1z"/>
<path fill="#19aebe" d="M86.4 467.6l1.6-3.3-1.7 .5-1.5 3.2z"/>
<path fill="#267edb" d="M67.3 485.4l1.5-3.6-1.6 .4-1.5 3.7z"/>
<path fill="#1f8bd6" d="M72 480.9l1.6-3.7-1.6 .5-1.6 3.6z"/>
<path fill="#11a6ca" d="M81.6 471.9l1.6-3.4-1.6 .4-1.6 3.5z"/>
<path fill="#1898d0" d="M76.8 476.3l1.6-3.5-1.6 .5-1.6 3.5z"/>
<path fill="#3191ff" d="M130.7 487.4l1.6-3.9-1.6-2.8-1.6 4.2z"/>
<path fill="#dac538" d="M154.8 430.7l1.6-.3-1.6-.2-1.6 .3z"/>
<path fill="#4639d0" d="M90.9 514.3l1.6-1.8-1.7 .4-1.5 1.8z"/>
<path fill="#442fc0" d="M82.9 517.6l1.6-.7-1.6 .4-1.6 .7z"/>
<path fill="#ccc539" d="M170.7 433.4l1.5 .2-1.6-1-1.5-.1z"/>
<path fill="#dac538" d="M158 430.8l1.5-.2-1.6-.4-1.5 .2z"/>
<path fill="#3688ff" d="M122.8 490.1l1.5-4.6-1.6-1.3-1.5 4.8z"/>
<path fill="#d1c538" d="M167.5 432.4l1.6 .1-1.7-.9-1.5 0z"/>
<path fill="#cfc538" d="M140.5 432.9l1.6-.8-1.6 .1-1.6 .8z"/>
<path fill="#338eff" d="M140.2 488.3l1.6-2.3-1.6-4.7-1.6 2.8z"/>
<path fill="#d8c538" d="M161.2 431.1l1.5-.1-1.6-.5-1.6 .1z"/>
<path fill="#d6c538" d="M164.3 431.6l1.6 0-1.6-.7-1.6 .1z"/>
<path fill="#4963ff" d="M156 500.6l1.6-.2-1.6-5.5-1.6 .5z"/>
<path fill="#3094ff" d="M133.9 486.6l1.5-3.4-1.6-3.4-1.5 3.7z"/>
<path fill="#a8c73c" d="M181.7 440.2l1.6 .3-1.6-2.6-1.6-.3z"/>
<path fill="#4dc885" d="M103.9 452.6l1.6-2.4-1.6 .4-1.6 2.5z"/>
<path fill="#3093ff" d="M137.1 487l1.5-2.9-1.6-4.1-1.6 3.2z"/>
<path fill="#3b7fff" d="M118 492.9l1.5-4.8-1.6-.7-1.5 5z"/>
<path fill="#4533c7" d="M86.1 516.4l1.6-1.2-1.6 .4-1.6 1.3z"/>
<path fill="#d4c538" d="M143.7 432l1.5-.7-1.6 0-1.5 .8z"/>
<path fill="#4c55ff" d="M103.6 505l1.6-3.8-1.6 .2-1.6 3.9z"/>
<path fill="#4963ff" d="M108.4 500.8l1.6-4.3-1.6 .1-1.6 4.4z"/>
<path fill="#4c55ff" d="M160.8 505l1.5 .1-1.6-5-1.6 .1z"/>
<path fill="#4171ff" d="M113.2 496.7l1.6-4.7-1.7-.2-1.5 4.7z"/>
<path fill="#36c597" d="M99.1 456.2l1.6-2.7-1.6 .4-1.6 2.7z"/>
<path fill="#4a4aed" d="M98.9 508.8l1.5-3.2-1.6 .3-1.6 3.3z"/>
<path fill="#3a80ff" d="M148.1 492.5l1.6-1.1-1.6-5.6-1.6 1.4z"/>
<path fill="#432dbb" d="M78.2 518.7l1.5-.2-1.6 .4-1.6 .3z"/>
<path fill="#2cbea4" d="M94.4 459.9l1.5-2.9-1.6 .5-1.6 2.9z"/>
<path fill="#4840dd" d="M94.1 512.1l1.5-2.6-1.6 .5-1.5 2.5z"/>
<path fill="#d9c538" d="M146.9 431.3l1.5-.6-1.6 0-1.6 .6z"/>
<path fill="#b9c639" d="M178.6 437.3l1.5 .3-1.6-2.1-1.5-.2z"/>
<path fill="#4a48eb" d="M165.5 509.3l1.5 .3-1.6-4.2-1.5-.2z"/>
<path fill="#23b6b1" d="M89.6 463.9l1.5-3.1-1.6 .5-1.5 3z"/>
<path fill="#8ec751" d="M186.5 444l1.5 .4-1.6-3.1-1.6-.4z"/>
<path fill="#19aebe" d="M84.8 468l1.5-3.2-1.6 .4-1.5 3.3z"/>
<path fill="#1f8bd6" d="M70.4 481.3l1.6-3.6-1.6 .5-1.6 3.6z"/>
<path fill="#11a6ca" d="M80 472.4l1.6-3.5-1.7 .5-1.5 3.4z"/>
<path fill="#1898d0" d="M75.2 476.8l1.6-3.5-1.6 .4-1.6 3.5z"/>
<path fill="#3093ff" d="M125.9 487.2l1.6-4.5-1.6-1.9-1.6 4.7z"/>
<path fill="#dcc538" d="M150 430.8l1.6-.5-1.6 0-1.6 .4z"/>
<path fill="#4639d0" d="M89.3 514.7l1.5-1.8-1.6 .4-1.5 1.9z"/>
<path fill="#442fc0" d="M81.3 518l1.6-.7-1.6 .5-1.6 .7z"/>
<path fill="#c6c639" d="M175.4 435.1l1.6 .2-1.7-1.4-1.5-.2z"/>
<path fill="#dec538" d="M153.2 430.5l1.6-.3-1.7-.2-1.5 .3z"/>
<path fill="#4075ff" d="M152.9 496l1.5-.6-1.6-5.8-1.6 .8z"/>
<path fill="#d1c538" d="M138.9 433l1.6-.8-1.6 .1-1.6 .9z"/>
<path fill="#cec538" d="M172.2 433.6l1.6 .1-1.6-1-1.6-.1z"/>
<path fill="#dec538" d="M156.4 430.4l1.5-.2-1.6-.3-1.5 .3z"/>
<path fill="#4dc885" d="M102.3 453.1l1.6-2.5-1.6 .4-1.6 2.5z"/>
<path fill="#d4c538" d="M169.1 432.5l1.5 .1-1.6-.9-1.6-.1z"/>
<path fill="#dec538" d="M159.5 430.6l1.6-.1-1.6-.4-1.6 .1z"/>
<path fill="#338eff" d="M145 488.9l1.5-1.7-1.6-5.4-1.6 2z"/>
<path fill="#d9c538" d="M165.9 431.6l1.5 0-1.6-.7-1.5 0z"/>
<path fill="#dcc538" d="M162.7 431l1.6-.1-1.6-.5-1.6 .1z"/>
<path fill="#a9c73b" d="M183.3 440.5l1.5 .4-1.6-2.7-1.5-.3z"/>
<path fill="#4533c7" d="M84.5 516.9l1.6-1.3-1.7 .5-1.5 1.2z"/>
<path fill="#338eff" d="M121.2 489l1.5-4.8-1.6-1.1-1.6 5z"/>
<path fill="#4766ff" d="M157.6 500.4l1.5-.2-1.6-5.6-1.5 .3z"/>
<path fill="#4d55ff" d="M102 505.3l1.6-3.9-1.6 .3-1.6 3.9z"/>
<path fill="#36c597" d="M97.5 456.6l1.6-2.7-1.6 .4-1.6 2.7z"/>
<path fill="#d6c538" d="M142.1 432.1l1.5-.8-1.6 .1-1.5 .8z"/>
<path fill="#4a4aee" d="M97.2 509.2l1.6-3.3-1.6 .4-1.6 3.2z"/>
<path fill="#4864ff" d="M106.8 501l1.6-4.4-1.7 .1-1.5 4.5z"/>
<path fill="#2b9bff" d="M129.1 484.9l1.6-4.2-1.6-2.5-1.6 4.5z"/>
<path fill="#4074ff" d="M111.6 496.5l1.5-4.7-1.6-.1-1.5 4.8z"/>
<path fill="#3982ff" d="M116.4 492.4l1.5-5-1.6-.4-1.5 5z"/>
<path fill="#2dbea4" d="M92.7 460.4l1.6-2.9-1.6 .4-1.6 2.9z"/>
<path fill="#4840dd" d="M92.5 512.5l1.5-2.5-1.6 .4-1.6 2.5z"/>
<path fill="#4d56ff" d="M162.3 505.1l1.6 .1-1.7-5-1.5-.1z"/>
<path fill="#23b6b1" d="M88 464.3l1.5-3-1.6 .4-1.6 3.1z"/>
<path fill="#dbc538" d="M145.2 431.3l1.6-.6-1.6 0-1.6 .6z"/>
<path fill="#19aebe" d="M83.2 468.5l1.5-3.3-1.6 .5-1.5 3.2z"/>
<path fill="#2d98ff" d="M141.8 486l1.5-2.2-1.6-5-1.5 2.5z"/>
<path fill="#1f8bd6" d="M68.8 481.8l1.6-3.6-1.6 .4-1.6 3.6z"/>
<path fill="#bac639" d="M180.1 437.6l1.6 .3-1.6-2.1-1.6-.3z"/>
<path fill="#11a6ca" d="M78.4 472.8l1.5-3.4-1.6 .5-1.5 3.4z"/>
<path fill="#1898d0" d="M73.6 477.2l1.6-3.5-1.7 .5-1.5 3.5z"/>
<path fill="#4639d0" d="M87.7 515.2l1.5-1.9-1.6 .5-1.5 1.8z"/>
<path fill="#442fc0" d="M79.7 518.5l1.6-.7-1.6 .4-1.6 .7z"/>
<path fill="#289fff" d="M132.3 483.5l1.5-3.7-1.6-3.2-1.5 4.1z"/>
<path fill="#dfc538" d="M148.4 430.7l1.6-.4-1.6-.1-1.6 .5z"/>
<path fill="#3786ff" d="M149.7 491.4l1.5-1-1.6-5.9-1.5 1.3z"/>
<path fill="#299eff" d="M138.6 484.1l1.6-2.8-1.6-4.4-1.6 3.1z"/>
<path fill="#c7c639" d="M177 435.3l1.5 .2-1.6-1.3-1.6-.3z"/>
<path fill="#28a0ff" d="M135.4 483.2l1.6-3.2-1.6-3.9-1.6 3.7z"/>
<path fill="#e1c538" d="M151.6 430.3l1.5-.3-1.6-.1-1.5 .4z"/>
<path fill="#d2c538" d="M137.3 433.2l1.6-.9-1.7 .2-1.5 .9z"/>
<path fill="#4ec885" d="M100.7 453.5l1.6-2.5-1.7 .4-1.5 2.5z"/>
<path fill="#2c9aff" d="M124.3 485.5l1.6-4.7-1.6-1.5-1.6 4.9z"/>
<path fill="#d0c538" d="M173.8 433.7l1.5 .2-1.6-1-1.5-.2z"/>
<path fill="#e2c438" d="M154.8 430.2l1.5-.3-1.6-.2-1.6 .3z"/>
<path fill="#4533c7" d="M82.9 517.3l1.5-1.2-1.6 .4-1.5 1.3z"/>
<path fill="#36c597" d="M95.9 457l1.6-2.7-1.6 .5-1.6 2.7z"/>
<path fill="#d6c538" d="M170.6 432.6l1.6 .1-1.6-.9-1.6-.1z"/>
<path fill="#e3c438" d="M157.9 430.2l1.6-.1-1.6-.4-1.6 .2z"/>
<path fill="#4d56ff" d="M100.4 505.6l1.6-3.9-1.7 .3-1.5 3.9z"/>
<path fill="#3d79ff" d="M154.4 495.4l1.6-.5-1.6-5.9-1.6 .6z"/>
<path fill="#4a4aee" d="M95.6 509.5l1.6-3.2-1.6 .4-1.6 3.3z"/>
<path fill="#aac73a" d="M184.8 440.9l1.6 .4-1.6-2.7-1.6-.4z"/>
<path fill="#d8c538" d="M140.5 432.2l1.5-.8-1.6 .2-1.5 .7z"/>
<path fill="#e1c438" d="M161.1 430.5l1.6-.1-1.7-.4-1.5 .1z"/>
<path fill="#dbc538" d="M167.4 431.6l1.6 .1-1.6-.7-1.6-.1z"/>
<path fill="#4765ff" d="M105.2 501.2l1.5-4.5-1.6 .2-1.5 4.5z"/>
<path fill="#dfc538" d="M164.3 430.9l1.5 0-1.6-.5-1.5 0z"/>
<path fill="#2dbea3" d="M91.1 460.8l1.6-2.9-1.6 .5-1.6 2.9z"/>
<path fill="#4840de" d="M90.8 512.9l1.6-2.5-1.6 .4-1.6 2.5z"/>
<path fill="#3f76ff" d="M110 496.5l1.5-4.8-1.6 0-1.5 4.9z"/>
<path fill="#3093ff" d="M119.5 488.1l1.6-5-1.6-.8-1.6 5.1z"/>
<path fill="#4668ff" d="M159.1 500.2l1.6-.1-1.6-5.7-1.6 .2z"/>
<path fill="#23b6b1" d="M86.3 464.8l1.6-3.1-1.6 .5-1.6 3z"/>
<path fill="#3786ff" d="M114.8 492l1.5-5-1.6-.4-1.6 5.2z"/>
<path fill="#19aebe" d="M81.6 468.9l1.5-3.2-1.6 .5-1.6 3.2z"/>
<path fill="#ddc538" d="M143.6 431.3l1.6-.6-1.6 .1-1.6 .6z"/>
<path fill="#11a6ca" d="M76.8 473.3l1.5-3.4-1.6 .4-1.5 3.4z"/>
<path fill="#4d57ff" d="M163.9 505.2l1.5 .2-1.6-5.2-1.6 0z"/>
<path fill="#1898d0" d="M72 477.7l1.5-3.5-1.6 .4-1.5 3.6z"/>
<path fill="#2f96ff" d="M146.5 487.2l1.6-1.4-1.6-5.7-1.6 1.7z"/>
<path fill="#4639d1" d="M86.1 515.6l1.5-1.8-1.6 .4-1.6 1.9z"/>
<path fill="#66c771" d="M103.9 450.6l1.5-2.3-1.6 .4-1.5 2.3z"/>
<path fill="#bcc639" d="M181.7 437.9l1.5 .3-1.6-2.1-1.5-.3z"/>
<path fill="#26a3fd" d="M127.5 482.7l1.6-4.5-1.7-2.1-1.5 4.7z"/>
<path fill="#4ec884" d="M99.1 453.9l1.5-2.5-1.6 .4-1.5 2.5z"/>
<path fill="#d4c538" d="M135.7 433.4l1.5-.9-1.6 .2-1.5 .9z"/>
<path fill="#c9c639" d="M178.5 435.5l1.6 .3-1.7-1.4-1.5-.2z"/>
<path fill="#4533c7" d="M81.3 517.8l1.5-1.3-1.6 .5-1.5 1.2z"/>
<path fill="#36c597" d="M94.3 457.5l1.6-2.7-1.7 .4-1.5 2.7z"/>
<path fill="#4d56ff" d="M98.8 505.9l1.5-3.9-1.6 .4-1.5 3.9z"/>
<path fill="#4a4aef" d="M94 510l1.6-3.3-1.7 .4-1.5 3.3z"/>
<path fill="#348cff" d="M151.2 490.4l1.6-.8-1.6-6.1-1.6 1z"/>
<path fill="#d2c538" d="M175.3 433.9l1.6 .3-1.6-1.1-1.6-.2z"/>
<path fill="#28a0ff" d="M143.3 483.8l1.6-2-1.6-5.3-1.6 2.3z"/>
<path fill="#4766ff" d="M103.6 501.4l1.5-4.5-1.6 .3-1.5 4.5z"/>
<path fill="#dac538" d="M138.9 432.3l1.5-.7-1.6 .1-1.6 .8z"/>
<path fill="#2dbea3" d="M89.5 461.3l1.6-2.9-1.6 .4-1.6 2.9z"/>
<path fill="#4841de" d="M89.2 513.3l1.6-2.5-1.6 .4-1.6 2.6z"/>
<path fill="#d8c538" d="M172.2 432.7l1.5 .2-1.6-.9-1.5-.2z"/>
<path fill="#22a9f8" d="M130.7 480.7l1.5-4.1-1.6-2.7-1.5 4.3z"/>
<path fill="#289fff" d="M122.7 484.2l1.6-4.9-1.6-1.3-1.6 5.1z"/>
<path fill="#e6c438" d="M159.5 430.1l1.5-.1-1.6-.4-1.5 .1z"/>
<path fill="#23b6b0" d="M84.7 465.2l1.6-3-1.6 .4-1.6 3.1z"/>
<path fill="#dec538" d="M169 431.7l1.6 .1-1.7-.7-1.5-.1z"/>
<path fill="#3e77ff" d="M108.4 496.6l1.5-4.9-1.6 .1-1.6 4.9z"/>
<path fill="#e5c438" d="M162.7 430.4l1.5 0-1.6-.5-1.6 .1z"/>
<path fill="#e2c438" d="M165.8 430.9l1.6 .1-1.6-.6-1.6 0z"/>
<path fill="#19aebe" d="M79.9 469.4l1.6-3.2-1.6 .4-1.6 3.3z"/>
<path fill="#3c7dff" d="M156 494.9l1.5-.3-1.6-6.1-1.5 .5z"/>
<path fill="#11a6ca" d="M75.2 473.7l1.5-3.4-1.6 .5-1.6 3.4z"/>
<path fill="#1898d0" d="M70.4 478.2l1.5-3.6-1.6 .5-1.5 3.5z"/>
<path fill="#3688ff" d="M113.1 491.8l1.6-5.2-1.6-.1-1.6 5.2z"/>
<path fill="#2e96ff" d="M117.9 487.4l1.6-5.1-1.6-.6-1.6 5.3z"/>
<path fill="#456bff" d="M160.7 500.1l1.5 .1-1.6-5.9-1.5 .1z"/>
<path fill="#4639d1" d="M84.4 516.1l1.6-1.9-1.6 .5-1.6 1.8z"/>
<path fill="#22a8f9" d="M140.2 481.3l1.5-2.5-1.6-4.7-1.5 2.8z"/>
<path fill="#66c771" d="M102.3 451l1.5-2.3-1.6 .4-1.6 2.3z"/>
<path fill="#1facf6" d="M133.8 479.8l1.6-3.7-1.6-3.4-1.6 3.9z"/>
<path fill="#bdc639" d="M183.2 438.2l1.6 .4-1.6-2.2-1.6-.3z"/>
<path fill="#20acf6" d="M137 480l1.6-3.1-1.7-4.1-1.5 3.3z"/>
<path fill="#4ec884" d="M97.5 454.3l1.5-2.5-1.6 .5-1.5 2.5z"/>
<path fill="#2b9cff" d="M148.1 485.8l1.5-1.3-1.6-5.9-1.5 1.5z"/>
<path fill="#36c597" d="M92.7 457.9l1.5-2.7-1.6 .5-1.5 2.7z"/>
<path fill="#cac539" d="M180.1 435.8l1.5 .3-1.6-1.4-1.6-.3z"/>
<path fill="#4d56ff" d="M97.2 506.3l1.5-3.9-1.6 .4-1.5 3.9z"/>
<path fill="#4a4aef" d="M92.4 510.4l1.5-3.3-1.6 .4-1.5 3.3z"/>
<path fill="#21aaf8" d="M125.9 480.8l1.5-4.7-1.6-1.7-1.5 4.9z"/>
<path fill="#2dbea3" d="M87.9 461.7l1.6-2.9-1.7 .5-1.5 2.9z"/>
<path fill="#4766ff" d="M102 501.7l1.5-4.5-1.6 .3-1.6 4.5z"/>
<path fill="#4841de" d="M87.6 513.8l1.6-2.6-1.6 .5-1.6 2.5z"/>
<path fill="#dcc538" d="M137.2 432.5l1.6-.8-1.6 .2-1.6 .8z"/>
<path fill="#d3c538" d="M176.9 434.2l1.5 .2-1.6-1.1-1.5-.2z"/>
<path fill="#7cc75f" d="M105.4 448.3l1.6-2.1-1.6 .4-1.6 2.1z"/>
<path fill="#23b6b0" d="M83.1 465.7l1.6-3.1-1.6 .5-1.6 3.1z"/>
<path fill="#19aebe" d="M78.3 469.9l1.6-3.3-1.6 .5-1.6 3.2z"/>
<path fill="#3e78ff" d="M106.7 496.7l1.6-4.9-1.6 .2-1.6 4.9z"/>
<path fill="#dac538" d="M173.7 432.9l1.6 .2-1.6-.9-1.6-.2z"/>
<path fill="#11a6ca" d="M73.5 474.2l1.6-3.4-1.6 .4-1.6 3.4z"/>
<path fill="#3191ff" d="M152.8 489.6l1.6-.6-1.7-6.3-1.5 .8z"/>
<path fill="#e0c538" d="M170.6 431.8l1.5 .2-1.6-.8-1.6-.1z"/>
<path fill="#4639d1" d="M82.8 516.5l1.6-1.8-1.6 .4-1.6 1.9z"/>
<path fill="#eac438" d="M161 430l1.6-.1-1.6-.3-1.6 0z"/>
<path fill="#e4c438" d="M167.4 431l1.5 .1-1.6-.6-1.5-.1z"/>
<path fill="#e8c438" d="M164.2 430.4l1.6 0-1.6-.5-1.6 0z"/>
<path fill="#66c771" d="M100.6 451.4l1.6-2.3-1.6 .4-1.6 2.3z"/>
<path fill="#358aff" d="M111.5 491.7l1.6-5.2-1.6-.1-1.6 5.3z"/>
<path fill="#25a4fc" d="M121.1 483.1l1.6-5.1-1.7-1-1.5 5.3z"/>
<path fill="#3a80ff" d="M157.5 494.6l1.6-.2-1.6-6.3-1.6 .4z"/>
<path fill="#2c99ff" d="M116.3 487l1.6-5.3-1.6-.4-1.6 5.3z"/>
<path fill="#446dff" d="M162.2 500.2l1.6 0-1.6-5.9-1.6 0z"/>
<path fill="#22a8f9" d="M144.9 481.8l1.6-1.7-1.7-5.6-1.5 2z"/>
<path fill="#4ec884" d="M95.9 454.8l1.5-2.5-1.6 .4-1.6 2.5z"/>
<path fill="#1bb3f1" d="M129.1 478.2l1.5-4.3-1.6-2.4-1.6 4.6z"/>
<path fill="#36c597" d="M91.1 458.4l1.5-2.7-1.6 .4-1.5 2.7z"/>
<path fill="#4a4bef" d="M90.8 510.8l1.5-3.3-1.6 .5-1.5 3.2z"/>
<path fill="#4d57ff" d="M95.6 506.7l1.5-3.9-1.6 .4-1.6 3.9z"/>
<path fill="#2dbea3" d="M86.3 462.2l1.5-2.9-1.6 .4-1.5 2.9z"/>
<path fill="#cbc539" d="M181.6 436.1l1.6 .3-1.6-1.4-1.6-.3z"/>
<path fill="#4667ff" d="M100.3 502l1.6-4.5-1.6 .4-1.6 4.5z"/>
<path fill="#4841de" d="M86 514.2l1.6-2.5-1.7 .4-1.5 2.6z"/>
<path fill="#7cc75f" d="M103.8 448.7l1.6-2.1-1.6 .4-1.6 2.1z"/>
<path fill="#23b6b0" d="M81.5 466.2l1.6-3.1-1.7 .4-1.5 3.1z"/>
<path fill="#1cb1f2" d="M141.7 478.8l1.6-2.3-1.6-5-1.6 2.6z"/>
<path fill="#19aebe" d="M76.7 470.3l1.6-3.2-1.6 .4-1.6 3.3z"/>
<path fill="#18b8ed" d="M132.2 476.6l1.6-3.9-1.6-3-1.6 4.2z"/>
<path fill="#11a6ca" d="M71.9 474.6l1.6-3.4-1.6 .5-1.6 3.4z"/>
<path fill="#d5c538" d="M178.4 434.4l1.6 .3-1.6-1.1-1.6-.3z"/>
<path fill="#3d79ff" d="M105.1 496.9l1.6-4.9-1.6 .2-1.6 5z"/>
<path fill="#27a1ff" d="M149.6 484.5l1.6-1-1.6-6.1-1.6 1.2z"/>
<path fill="#66c771" d="M99 451.8l1.6-2.3-1.6 .4-1.6 2.4z"/>
<path fill="#dcc538" d="M175.3 433.1l1.5 .2-1.6-.9-1.5-.2z"/>
<path fill="#1db1f3" d="M124.3 479.3l1.5-4.9-1.6-1.5-1.5 5.1z"/>
<path fill="#18b7ed" d="M138.6 476.9l1.5-2.8-1.6-4.4-1.6 3.1z"/>
<path fill="#17b9ec" d="M135.4 476.1l1.5-3.3-1.6-3.7-1.5 3.6z"/>
<path fill="#348cff" d="M109.9 491.7l1.6-5.3-1.6 .1-1.6 5.3z"/>
<path fill="#e2c438" d="M172.1 432l1.6 .2-1.7-.8-1.5-.2z"/>
<path fill="#eec438" d="M159.4 429.6l1.6 0-1.6-.3-1.6 .1z"/>
<path fill="#edc438" d="M162.6 429.9l1.6 0-1.7-.3-1.5 0z"/>
<path fill="#e7c438" d="M168.9 431.1l1.6 .1-1.6-.6-1.6-.1z"/>
<path fill="#eac438" d="M165.8 430.4l1.5 .1-1.6-.5-1.5-.1z"/>
<path fill="#4fc884" d="M94.2 455.2l1.6-2.5-1.6 .4-1.6 2.6z"/>
<path fill="#2f95ff" d="M154.4 489l1.5-.5-1.6-6.5-1.6 .7z"/>
<path fill="#2a9cff" d="M114.7 486.6l1.6-5.3-1.7-.3-1.5 5.5z"/>
<path fill="#22a8f9" d="M119.5 482.3l1.5-5.3-1.6-.7-1.5 5.4z"/>
<path fill="#91c74e" d="M107 446.2l1.5-2-1.6 .4-1.5 2z"/>
<path fill="#3983ff" d="M159.1 494.4l1.5-.1-1.6-6.4-1.5 .2z"/>
<path fill="#36c697" d="M89.5 458.8l1.5-2.7-1.6 .4-1.6 2.8z"/>
<path fill="#4a4bef" d="M89.2 511.2l1.5-3.2-1.6 .4-1.5 3.3z"/>
<path fill="#4d57ff" d="M93.9 507.1l1.6-3.9-1.6 .4-1.6 3.9z"/>
<path fill="#2dbea3" d="M84.7 462.6l1.5-2.9-1.6 .5-1.5 2.9z"/>
<path fill="#4841de" d="M84.4 514.7l1.5-2.6-1.6 .4-1.5 2.6z"/>
<path fill="#4667ff" d="M98.7 502.4l1.6-4.5-1.6 .3-1.6 4.6z"/>
<path fill="#7dc75f" d="M102.2 449.1l1.6-2.1-1.7 .4-1.5 2.1z"/>
<path fill="#23b6b0" d="M79.9 466.6l1.5-3.1-1.6 .5-1.5 3.1z"/>
<path fill="#19aebe" d="M75.1 470.8l1.6-3.3-1.7 .5-1.5 3.2z"/>
<path fill="#1eaff4" d="M146.5 480.1l1.5-1.5-1.6-5.8-1.6 1.7z"/>
<path fill="#16bbeb" d="M127.4 476.1l1.6-4.6-1.6-1.9-1.6 4.8z"/>
<path fill="#3d7aff" d="M103.5 497.2l1.6-5-1.6 .3-1.6 5z"/>
<path fill="#d6c538" d="M180 434.7l1.6 .3-1.7-1.1-1.5-.3z"/>
<path fill="#67c771" d="M97.4 452.3l1.6-2.4-1.6 .5-1.6 2.3z"/>
<path fill="#ddc538" d="M176.8 433.3l1.6 .3-1.6-.9-1.6-.3z"/>
<path fill="#338eff" d="M108.3 491.8l1.6-5.3-1.7 .1-1.5 5.4z"/>
<path fill="#4fc884" d="M92.6 455.7l1.6-2.6-1.6 .5-1.6 2.5z"/>
<path fill="#e4c438" d="M173.7 432.2l1.5 .2-1.6-.8-1.6-.2z"/>
<path fill="#f1c438" d="M161 429.6l1.5 0-1.6-.3-1.5 0z"/>
<path fill="#e9c438" d="M170.5 431.2l1.5 .2-1.6-.6-1.5-.2z"/>
<path fill="#92c74e" d="M105.4 446.6l1.5-2-1.6 .4-1.5 2z"/>
<path fill="#24a6fb" d="M151.2 483.5l1.5-.8-1.6-6.3-1.5 1z"/>
<path fill="#f0c438" d="M164.2 429.9l1.5 .1-1.6-.4-1.6 0z"/>
<path fill="#edc438" d="M167.3 430.5l1.6 .1-1.6-.5-1.6-.1z"/>
<path fill="#19b6ee" d="M122.7 478l1.5-5.1-1.6-1.1-1.6 5.2z"/>
<path fill="#299eff" d="M113.1 486.5l1.5-5.5-1.6-.1-1.5 5.5z"/>
<path fill="#36c697" d="M87.8 459.3l1.6-2.8-1.6 .5-1.6 2.7z"/>
<path fill="#16baeb" d="M143.3 476.5l1.5-2-1.6-5.2-1.5 2.2z"/>
<path fill="#15c1e3" d="M130.6 473.9l1.6-4.2-1.6-2.5-1.6 4.3z"/>
<path fill="#4a4bef" d="M87.6 511.7l1.5-3.3-1.6 .4-1.6 3.3z"/>
<path fill="#4d57ff" d="M92.3 507.5l1.6-3.9-1.6 .4-1.6 4z"/>
<path fill="#20acf6" d="M117.9 481.7l1.5-5.4-1.6-.5-1.5 5.5z"/>
<path fill="#2dbea3" d="M83.1 463.1l1.5-2.9-1.6 .4-1.6 2.9z"/>
<path fill="#2d98ff" d="M155.9 488.5l1.6-.4-1.6-6.5-1.6 .4z"/>
<path fill="#3785ff" d="M160.6 494.3l1.6 0-1.6-6.5-1.6 .1z"/>
<path fill="#4668ff" d="M97.1 502.8l1.6-4.6-1.6 .4-1.6 4.6z"/>
<path fill="#23b6b0" d="M78.3 467.1l1.5-3.1-1.6 .4-1.5 3.1z"/>
<path fill="#7dc75e" d="M100.6 449.5l1.5-2.1-1.6 .4-1.5 2.1z"/>
<path fill="#19aebe" d="M73.5 471.2l1.5-3.2-1.6 .4-1.5 3.3z"/>
<path fill="#15c1e3" d="M140.1 474.1l1.6-2.6-1.6-4.6-1.6 2.8z"/>
<path fill="#19c3de" d="M133.8 472.7l1.5-3.6-1.6-3.2-1.5 3.8z"/>
<path fill="#3d7bff" d="M101.9 497.5l1.6-5-1.7 .3-1.5 5.1z"/>
<path fill="#67c770" d="M95.8 452.7l1.6-2.3-1.7 .4-1.5 2.3z"/>
<path fill="#19c3de" d="M136.9 472.8l1.6-3.1-1.6-3.9-1.6 3.3z"/>
<path fill="#338fff" d="M106.7 492l1.5-5.4-1.6 .2-1.5 5.4z"/>
<path fill="#4fc884" d="M91 456.1l1.6-2.5-1.6 .4-1.6 2.5z"/>
<path fill="#dfc538" d="M178.4 433.6l1.5 .3-1.6-.9-1.5-.3z"/>
<path fill="#15c1e4" d="M125.8 474.4l1.6-4.8-1.6-1.6-1.6 4.9z"/>
<path fill="#1ab5ef" d="M148 478.6l1.6-1.2-1.6-6-1.6 1.4z"/>
<path fill="#92c74d" d="M103.8 447l1.5-2-1.6 .4-1.6 2z"/>
<path fill="#36c697" d="M86.2 459.7l1.6-2.7-1.6 .4-1.6 2.8z"/>
<path fill="#e5c438" d="M175.2 432.4l1.6 .3-1.6-.8-1.6-.3z"/>
<path fill="#4a4bef" d="M85.9 512.1l1.6-3.3-1.6 .5-1.6 3.2z"/>
<path fill="#28a0ff" d="M111.5 486.4l1.5-5.5-1.6 0-1.5 5.6z"/>
<path fill="#4d57ff" d="M90.7 508l1.6-4-1.6 .4-1.6 4z"/>
<path fill="#ebc438" d="M172 431.4l1.6 .2-1.6-.6-1.6-.2z"/>
<path fill="#efc438" d="M168.9 430.6l1.5 .2-1.6-.5-1.5-.2z"/>
<path fill="#f2c438" d="M165.7 430l1.6 .1-1.6-.4-1.6-.1z"/>
<path fill="#2dbea3" d="M81.4 463.5l1.6-2.9-1.6 .5-1.6 2.9z"/>
<path fill="#4668ff" d="M95.5 503.2l1.6-4.6-1.7 .4-1.5 4.6z"/>
<path fill="#16bbeb" d="M121 477l1.6-5.2-1.6-.8-1.6 5.3z"/>
<path fill="#1eaef4" d="M116.3 481.3l1.5-5.5-1.6-.3-1.6 5.5z"/>
<path fill="#23b6b0" d="M76.7 467.5l1.5-3.1-1.6 .5-1.6 3.1z"/>
<path fill="#7dc75e" d="M99 449.9l1.5-2.1-1.6 .4-1.5 2.2z"/>
<path fill="#21aaf7" d="M152.7 482.7l1.6-.7-1.6-6.4-1.6 .8z"/>
<path fill="#2b9bff" d="M157.5 488.1l1.5-.2-1.6-6.7-1.5 .4z"/>
<path fill="#3c7bff" d="M100.3 497.9l1.5-5.1-1.6 .3-1.5 5.1z"/>
<path fill="#a5c73e" d="M106.9 444.6l1.6-1.7-1.6 .4-1.6 1.7z"/>
<path fill="#67c770" d="M94.2 453.1l1.5-2.3-1.6 .4-1.5 2.4z"/>
<path fill="#1dc5d6" d="M129 471.5l1.6-4.3-1.7-2.1-1.5 4.5z"/>
<path fill="#15c1e3" d="M144.8 474.5l1.6-1.7-1.6-5.4-1.6 1.9z"/>
<path fill="#4fc884" d="M89.4 456.5l1.6-2.5-1.7 .5-1.5 2.5z"/>
<path fill="#3290ff" d="M105.1 492.2l1.5-5.4-1.6 .3-1.5 5.4z"/>
<path fill="#92c74d" d="M102.1 447.4l1.6-2-1.6 .4-1.6 2z"/>
<path fill="#36c697" d="M84.6 460.2l1.6-2.8-1.6 .5-1.6 2.7z"/>
<path fill="#4d57ff" d="M89.1 508.4l1.6-4-1.6 .5-1.6 3.9z"/>
<path fill="#2dbea3" d="M79.8 464l1.6-2.9-1.6 .4-1.6 2.9z"/>
<path fill="#27a1ff" d="M109.9 486.5l1.5-5.6-1.6 .1-1.6 5.6z"/>
<path fill="#e7c438" d="M176.8 432.7l1.5 .3-1.6-.8-1.5-.3z"/>
<path fill="#22c9ce" d="M132.2 469.7l1.5-3.8-1.6-2.7-1.5 4z"/>
<path fill="#1ec6d5" d="M141.7 471.5l1.5-2.2-1.6-4.8-1.5 2.4z"/>
<path fill="#4668ff" d="M93.9 503.6l1.5-4.6-1.6 .4-1.5 4.6z"/>
<path fill="#23b6b0" d="M75 468l1.6-3.1-1.6 .4-1.6 3.1z"/>
<path fill="#ecc438" d="M173.6 431.6l1.6 .3-1.7-.7-1.5-.2z"/>
<path fill="#7ec75e" d="M97.4 450.4l1.5-2.2-1.6 .5-1.6 2.1z"/>
<path fill="#1ac4db" d="M124.2 472.9l1.6-4.9-1.6-1.2-1.6 5z"/>
<path fill="#f1c438" d="M170.4 430.8l1.6 .2-1.6-.5-1.6-.2z"/>
<path fill="#f4c438" d="M167.3 430.1l1.5 .2-1.6-.4-1.5-.2z"/>
<path fill="#16bbeb" d="M149.6 477.4l1.5-1-1.6-6.2-1.5 1.2z"/>
<path fill="#1db1f3" d="M114.6 481l1.6-5.5-1.6-.2-1.6 5.6z"/>
<path fill="#24caca" d="M135.3 469.1l1.6-3.3-1.6-3.4-1.6 3.5z"/>
<path fill="#23c9cd" d="M138.5 469.7l1.6-2.8-1.7-4.1-1.5 3z"/>
<path fill="#14bee8" d="M119.4 476.3l1.6-5.3-1.6-.6-1.6 5.4z"/>
<path fill="#3c7bff" d="M98.7 498.2l1.5-5.1-1.6 .4-1.5 5.1z"/>
<path fill="#67c770" d="M92.6 453.6l1.5-2.4-1.6 .5-1.5 2.3z"/>
<path fill="#a6c73d" d="M105.3 445l1.6-1.7-1.7 .4-1.5 1.7z"/>
<path fill="#1eaef5" d="M154.3 482l1.6-.4-1.7-6.6-1.5 .6z"/>
<path fill="#2a9dff" d="M159 487.9l1.6-.1-1.6-6.7-1.6 .1z"/>
<path fill="#4fc884" d="M87.8 457l1.5-2.5-1.6 .4-1.5 2.5z"/>
<path fill="#3290ff" d="M103.5 492.5l1.5-5.4-1.6 .3-1.6 5.4z"/>
<path fill="#93c74d" d="M100.5 447.8l1.6-2-1.6 .5-1.6 1.9z"/>
<path fill="#36c697" d="M83 460.6l1.6-2.7-1.7 .4-1.5 2.8z"/>
<path fill="#4d57ff" d="M87.5 508.8l1.6-3.9-1.7 .4-1.5 4z"/>
<path fill="#2dbea3" d="M78.2 464.4l1.6-2.9-1.6 .5-1.6 2.9z"/>
<path fill="#b4c639" d="M108.5 442.9l1.5-1.6-1.6 .4-1.5 1.6z"/>
<path fill="#24cacb" d="M127.4 469.6l1.5-4.5-1.6-1.7-1.5 4.6z"/>
<path fill="#27a2fe" d="M108.2 486.6l1.6-5.6-1.6 .2-1.6 5.6z"/>
<path fill="#4668ff" d="M92.3 504l1.5-4.6-1.6 .4-1.5 4.6z"/>
<path fill="#1cc5d9" d="M146.4 472.8l1.6-1.4-1.7-5.6-1.5 1.6z"/>
<path fill="#7ec75e" d="M95.7 450.8l1.6-2.1-1.6 .4-1.6 2.1z"/>
<path fill="#eec438" d="M175.2 431.9l1.5 .3-1.6-.7-1.6-.3z"/>
<path fill="#f3c438" d="M172 431l1.5 .2-1.6-.5-1.5-.2z"/>
<path fill="#f9c438" d="M165.7 429.7l1.5 .2-1.6-.3-1.6-.2z"/>
<path fill="#f6c438" d="M168.8 430.3l1.6 .2-1.6-.4-1.6-.2z"/>
<path fill="#1bb3f1" d="M113 480.9l1.6-5.6-1.6 0-1.6 5.6z"/>
<path fill="#3c7cff" d="M97.1 498.6l1.5-5.1-1.6 .4-1.6 5.1z"/>
<path fill="#67c770" d="M91 454l1.5-2.3-1.6 .4-1.6 2.4z"/>
<path fill="#a6c73d" d="M103.7 445.4l1.5-1.7-1.6 .4-1.5 1.7z"/>
<path fill="#1fc6d4" d="M122.6 471.8l1.6-5-1.7-.9-1.5 5.1z"/>
<path fill="#15c0e4" d="M117.8 475.8l1.6-5.4-1.6-.4-1.6 5.5z"/>
<path fill="#4fc884" d="M86.2 457.4l1.5-2.5-1.6 .5-1.5 2.5z"/>
<path fill="#2bcebf" d="M130.6 467.2l1.5-4-1.6-2.3-1.6 4.2z"/>
<path fill="#13c0e7" d="M151.1 476.4l1.6-.8-1.6-6.3-1.6 .9z"/>
<path fill="#3291ff" d="M101.8 492.8l1.6-5.4-1.6 .3-1.6 5.4z"/>
<path fill="#25cac8" d="M143.2 469.3l1.6-1.9-1.6-5-1.6 2.1z"/>
<path fill="#93c74d" d="M98.9 448.2l1.6-1.9-1.6 .4-1.6 2z"/>
<path fill="#36c697" d="M81.4 461.1l1.5-2.8-1.6 .5-1.5 2.7z"/>
<path fill="#1cb1f2" d="M155.9 481.6l1.5-.4-1.6-6.6-1.6 .4z"/>
<path fill="#2dbea3" d="M76.6 464.9l1.6-2.9-1.7 .4-1.5 2.9z"/>
<path fill="#b4c639" d="M106.9 443.3l1.5-1.6-1.6 .4-1.6 1.6z"/>
<path fill="#2ed0b9" d="M133.7 465.9l1.6-3.5-1.6-2.9-1.6 3.7z"/>
<path fill="#4668ff" d="M90.7 504.4l1.5-4.6-1.6 .5-1.5 4.6z"/>
<path fill="#26a3fd" d="M106.6 486.8l1.6-5.6-1.6 .2-1.6 5.7z"/>
<path fill="#7ec75e" d="M94.1 451.2l1.6-2.1-1.6 .4-1.6 2.2z"/>
<path fill="#2ccebe" d="M140.1 466.9l1.5-2.4-1.6-4.3-1.6 2.6z"/>
<path fill="#2fd0b8" d="M136.9 465.8l1.5-3-1.6-3.5-1.5 3.1z"/>
<path fill="#3c7cff" d="M95.4 499l1.6-5.1-1.6 .4-1.6 5.1z"/>
<path fill="#67c770" d="M89.3 454.5l1.6-2.4-1.6 .5-1.6 2.3z"/>
<path fill="#29cdc1" d="M125.8 468l1.5-4.6-1.6-1.4-1.5 4.8z"/>
<path fill="#a6c73d" d="M102.1 445.8l1.5-1.7-1.6 .4-1.5 1.8z"/>
<path fill="#1bb4f0" d="M111.4 480.9l1.6-5.6-1.6 0-1.6 5.7z"/>
<path fill="#f4c438" d="M173.5 431.2l1.6 .3-1.6-.6-1.6-.2z"/>
<path fill="#f8c438" d="M170.4 430.5l1.5 .2-1.6-.4-1.5-.2z"/>
<path fill="#fbc338" d="M167.2 429.9l1.6 .2-1.6-.4-1.6-.1z"/>
<path fill="#c0c639" d="M110 441.3l1.6-1.5-1.6 .4-1.6 1.5z"/>
<path fill="#21c8d0" d="M148 471.4l1.5-1.2-1.6-5.7-1.6 1.3z"/>
<path fill="#4fc884" d="M84.6 457.9l1.5-2.5-1.6 .4-1.6 2.5z"/>
<path fill="#17c2e1" d="M116.2 475.5l1.6-5.5-1.7-.2-1.5 5.5z"/>
<path fill="#22c9cd" d="M121 471l1.5-5.1-1.6-.7-1.5 5.2z"/>
<path fill="#3191ff" d="M100.2 493.1l1.6-5.4-1.6 .4-1.6 5.4z"/>
<path fill="#93c74d" d="M97.3 448.7l1.6-2-1.7 .4-1.5 2z"/>
<path fill="#36c697" d="M79.8 461.5l1.5-2.7-1.6 .5-1.5 2.7z"/>
<path fill="#b5c639" d="M105.2 443.7l1.6-1.6-1.6 .4-1.6 1.6z"/>
<path fill="#17c2e1" d="M152.7 475.6l1.5-.6-1.6-6.4-1.5 .7z"/>
<path fill="#4668ff" d="M89.1 504.9l1.5-4.6-1.6 .4-1.6 4.6z"/>
<path fill="#7ec75e" d="M92.5 451.7l1.6-2.2-1.6 .5-1.6 2.1z"/>
<path fill="#26a3fd" d="M105 487.1l1.6-5.7-1.6 .3-1.6 5.7z"/>
<path fill="#1bb4f0" d="M157.4 481.2l1.6-.1-1.6-6.8-1.6 .3z"/>
<path fill="#32d2b3" d="M128.9 465.1l1.6-4.2-1.6-1.8-1.6 4.3z"/>
<path fill="#2ccfbd" d="M144.8 467.4l1.5-1.6-1.6-5.1-1.5 1.7z"/>
<path fill="#3c7cff" d="M93.8 499.4l1.6-5.1-1.6 .4-1.6 5.1z"/>
<path fill="#67c770" d="M87.7 454.9l1.6-2.3-1.6 .4-1.6 2.4z"/>
<path fill="#a7c73d" d="M100.5 446.3l1.5-1.8-1.6 .4-1.5 1.8z"/>
<path fill="#1ab5ef" d="M109.8 481l1.6-5.7-1.7 .2-1.5 5.7z"/>
<path fill="#c0c639" d="M108.4 441.7l1.6-1.5-1.6 .4-1.6 1.5z"/>
<path fill="#4fc884" d="M82.9 458.3l1.6-2.5-1.6 .5-1.6 2.5z"/>
<path fill="#fac338" d="M171.9 430.7l1.6 .2-1.6-.4-1.6-.2z"/>
<path fill="#37d5aa" d="M132.1 463.2l1.6-3.7-1.7-2.4-1.5 3.8z"/>
<path fill="#3192ff" d="M98.6 493.5l1.6-5.4-1.6 .4-1.6 5.4z"/>
<path fill="#2ed0ba" d="M124.2 466.8l1.5-4.8-1.6-1-1.6 4.9z"/>
<path fill="#93c74c" d="M95.7 449.1l1.5-2-1.6 .5-1.5 1.9z"/>
<path fill="#19c3de" d="M114.6 475.3l1.5-5.5-1.6-.1-1.5 5.6z"/>
<path fill="#36c697" d="M78.2 462l1.5-2.7-1.6 .4-1.6 2.7z"/>
<path fill="#34d3b0" d="M141.6 464.5l1.6-2.1-1.6-4.4-1.6 2.2z"/>
<path fill="#25cac9" d="M119.4 470.4l1.5-5.2-1.6-.4-1.5 5.2z"/>
<path fill="#b5c639" d="M103.6 444.1l1.6-1.6-1.6 .4-1.6 1.6z"/>
<path fill="#3ad7a6" d="M135.3 462.4l1.5-3.1-1.6-3-1.5 3.2z"/>
<path fill="#cbc539" d="M111.6 439.8l1.5-1.2-1.6 .3-1.5 1.3z"/>
<path fill="#39d6a8" d="M138.4 462.8l1.6-2.6-1.6-3.6-1.6 2.7z"/>
<path fill="#26cbc8" d="M149.5 470.2l1.6-.9-1.6-5.8-1.6 1z"/>
<path fill="#7ec75d" d="M90.9 452.1l1.6-2.1-1.7 .4-1.5 2.2z"/>
<path fill="#25a4fd" d="M103.4 487.4l1.6-5.7-1.7 .3-1.5 5.7z"/>
<path fill="#3c7cff" d="M92.2 499.8l1.6-5.1-1.6 .5-1.6 5.1z"/>
<path fill="#67c770" d="M86.1 455.4l1.6-2.4-1.6 .5-1.6 2.3z"/>
<path fill="#1ac4db" d="M154.2 475l1.6-.4-1.6-6.5-1.6 .5z"/>
<path fill="#a7c73c" d="M98.9 446.7l1.5-1.8-1.6 .4-1.6 1.8z"/>
<path fill="#c1c639" d="M106.8 442.1l1.6-1.5-1.7 .4-1.5 1.5z"/>
<path fill="#19b6ef" d="M108.2 481.2l1.5-5.7-1.6 .2-1.5 5.7z"/>
<path fill="#4fc884" d="M81.3 458.8l1.6-2.5-1.6 .4-1.6 2.6z"/>
<path fill="#38d6a9" d="M127.3 463.4l1.6-4.3-1.6-1.4-1.6 4.3z"/>
<path fill="#3192ff" d="M97 493.9l1.6-5.4-1.7 .4-1.5 5.4z"/>
<path fill="#fec835" d="M160.8 429.1l1.6 .1-1.6-.1-1.6-.1z"/>
<path fill="#93c74c" d="M94.1 449.5l1.5-1.9-1.6 .4-1.5 2z"/>
<path fill="#fec637" d="M167.2 429.7l1.5 .2-1.6-.2-1.6-.2z"/>
<path fill="#fec438" d="M170.3 430.3l1.6 .2-1.6-.3-1.6-.3z"/>
<path fill="#1ac4db" d="M113 475.3l1.5-5.6-1.6 .1-1.5 5.5z"/>
<path fill="#32d2b3" d="M146.3 465.8l1.6-1.3-1.6-5.2-1.6 1.4z"/>
<path fill="#b5c639" d="M102 444.5l1.6-1.6-1.6 .4-1.6 1.6z"/>
<path fill="#32d2b3" d="M122.5 465.9l1.6-4.9-1.6-.7-1.6 4.9z"/>
<path fill="#cbc539" d="M110 440.2l1.5-1.3-1.6 .4-1.5 1.3z"/>
<path fill="#28ccc5" d="M117.8 470l1.5-5.2-1.6-.3-1.6 5.3z"/>
<path fill="#7ec75d" d="M89.3 452.6l1.5-2.2-1.6 .5-1.5 2.1z"/>
<path fill="#25a4fc" d="M101.8 487.7l1.5-5.7-1.6 .4-1.5 5.7z"/>
<path fill="#46d89b" d="M130.5 460.9l1.5-3.8-1.6-1.9-1.5 3.9z"/>
<path fill="#3c7cff" d="M90.6 500.3l1.6-5.1-1.7 .4-1.5 5.1z"/>
<path fill="#67c770" d="M84.5 455.8l1.6-2.3-1.7 .4-1.5 2.4z"/>
<path fill="#a7c73c" d="M97.2 447.1l1.6-1.8-1.6 .5-1.6 1.8z"/>
<path fill="#2acdc1" d="M151.1 469.3l1.5-.7-1.6-5.9-1.5 .8z"/>
<path fill="#fec934" d="M149.7 429.1l1.5-.1-1.6 .1-1.5 .1z"/>
<path fill="#3bd8a4" d="M143.2 462.4l1.5-1.7-1.6-4.5-1.5 1.8z"/>
<path fill="#c1c639" d="M105.2 442.5l1.5-1.5-1.6 .4-1.5 1.5z"/>
<path fill="#19b7ee" d="M106.6 481.4l1.5-5.7-1.6 .3-1.5 5.7z"/>
<path fill="#4fc884" d="M79.7 459.3l1.6-2.6-1.6 .5-1.6 2.5z"/>
<path fill="#1dc5d7" d="M155.8 474.6l1.6-.3-1.7-6.5-1.5 .3z"/>
<path fill="#53d890" d="M133.7 459.5l1.5-3.2-1.6-2.5-1.6 3.3z"/>
<path fill="#3192ff" d="M95.4 494.3l1.5-5.4-1.6 .4-1.5 5.4z"/>
<path fill="#93c74c" d="M92.5 450l1.5-2-1.6 .4-1.6 2z"/>
<path fill="#4dd895" d="M140 460.2l1.6-2.2-1.7-3.8-1.5 2.4z"/>
<path fill="#feca34" d="M159.2 429l1.6 .1-1.7-.1-1.5-.1z"/>
<path fill="#55d88e" d="M136.8 459.3l1.6-2.7-1.6-3.2-1.6 2.9z"/>
<path fill="#1bc4da" d="M111.4 475.3l1.5-5.5-1.6 .1-1.6 5.6z"/>
<path fill="#40d8a0" d="M125.7 462l1.6-4.3-1.7-1.1-1.5 4.4z"/>
<path fill="#b5c639" d="M100.4 444.9l1.6-1.6-1.7 .4-1.5 1.6z"/>
<path fill="#fec736" d="M168.7 429.9l1.6 .3-1.7-.3-1.5-.2z"/>
<path fill="#ccc539" d="M108.4 440.6l1.5-1.3-1.6 .4-1.6 1.3z"/>
<path fill="#7ec75d" d="M87.7 453l1.5-2.1-1.6 .4-1.5 2.2z"/>
<path fill="#25a4fc" d="M100.2 488.1l1.5-5.7-1.6 .4-1.5 5.7z"/>
<path fill="#29cdc1" d="M116.1 469.8l1.6-5.3-1.6-.1-1.6 5.3z"/>
<path fill="#35d4ae" d="M120.9 465.2l1.6-4.9-1.6-.5-1.6 5z"/>
<path fill="#67c770" d="M82.9 456.3l1.5-2.4-1.6 .5-1.5 2.3z"/>
<path fill="#37d5ab" d="M147.9 464.5l1.6-1-1.7-5.3-1.5 1.1z"/>
<path fill="#a7c73c" d="M95.6 447.6l1.6-1.8-1.6 .4-1.6 1.8z"/>
<path fill="#d6c538" d="M111.5 438.9l1.6-1.1-1.6 .4-1.6 1.1z"/>
<path fill="#c1c639" d="M103.6 442.9l1.5-1.5-1.6 .4-1.5 1.5z"/>
<path fill="#18b7ee" d="M105 481.7l1.5-5.7-1.6 .3-1.6 5.7z"/>
<path fill="#fecb33" d="M151.2 429l1.6 0-1.6 0-1.6 .1z"/>
<path fill="#3192ff" d="M93.8 494.7l1.5-5.4-1.6 .4-1.5 5.5z"/>
<path fill="#5ad88b" d="M128.9 459.1l1.5-3.9-1.6-1.5-1.5 4z"/>
<path fill="#94c74c" d="M90.8 450.4l1.6-2-1.6 .5-1.6 2z"/>
<path fill="#2dcfbb" d="M152.6 468.6l1.6-.5-1.6-6-1.6 .6z"/>
<path fill="#fdcc33" d="M157.6 428.9l1.5 .1-1.6 0-1.5-.1z"/>
<path fill="#b5c639" d="M98.8 445.3l1.5-1.6-1.6 .4-1.5 1.7z"/>
<path fill="#1cc5d8" d="M109.7 475.5l1.6-5.6-1.6 .2-1.6 5.6z"/>
<path fill="#4ed894" d="M144.7 460.7l1.6-1.4-1.6-4.6-1.6 1.5z"/>
<path fill="#ccc539" d="M106.7 441l1.6-1.3-1.6 .4-1.6 1.3z"/>
<path fill="#7ec75d" d="M86.1 453.5l1.5-2.2-1.6 .5-1.6 2.1z"/>
<path fill="#fecb33" d="M163.9 429.3l1.6 .2-1.6-.1-1.6-.2z"/>
<path fill="#feca34" d="M167.1 429.7l1.5 .2-1.6-.2-1.5-.2z"/>
<path fill="#25a5fc" d="M98.6 488.5l1.5-5.7-1.6 .4-1.6 5.7z"/>
<path fill="#4cd895" d="M124.1 461l1.5-4.4-1.6-.8-1.5 4.5z"/>
<path fill="#6bd77d" d="M132 457.1l1.6-3.3-1.6-2-1.6 3.4z"/>
<path fill="#2bcebf" d="M114.5 469.7l1.6-5.3-1.6 0-1.6 5.4z"/>
<path fill="#67c770" d="M81.3 456.7l1.5-2.3-1.6 .4-1.5 2.4z"/>
<path fill="#a7c73c" d="M94 448l1.6-1.8-1.7 .4-1.5 1.8z"/>
<path fill="#feca34" d="M143.3 429.6l1.5-.1-1.6 .2-1.5 .2z"/>
<path fill="#38d6aa" d="M119.3 464.8l1.6-5-1.6-.3-1.6 5z"/>
<path fill="#65d882" d="M141.6 458l1.5-1.8-1.6-3.9-1.6 1.9z"/>
<path fill="#d6c538" d="M109.9 439.3l1.6-1.1-1.6 .3-1.6 1.2z"/>
<path fill="#c1c639" d="M102 443.3l1.5-1.5-1.6 .4-1.6 1.5z"/>
<path fill="#fdcc33" d="M146.5 429.3l1.5-.1-1.6 .2-1.6 .1z"/>
<path fill="#73d776" d="M135.2 456.3l1.6-2.9-1.6-2.5-1.6 2.9z"/>
<path fill="#18b8ed" d="M103.3 482l1.6-5.7-1.6 .4-1.6 5.7z"/>
<path fill="#71d778" d="M138.4 456.6l1.5-2.4-1.6-3.2-1.5 2.4z"/>
<path fill="#3192ff" d="M92.2 495.2l1.5-5.5-1.6 .4-1.6 5.5z"/>
<path fill="#94c74c" d="M89.2 450.9l1.6-2-1.6 .4-1.6 2z"/>
<path fill="#3bd8a4" d="M149.5 463.5l1.5-.8-1.6-5.4-1.6 .9z"/>
<path fill="#fdcd32" d="M152.8 429l1.6 0-1.7 0-1.5 0z"/>
<path fill="#dfc538" d="M113.1 437.8l1.5-1-1.6 .3-1.5 1.1z"/>
<path fill="#b6c639" d="M97.2 445.8l1.5-1.7-1.6 .5-1.5 1.6z"/>
<path fill="#fdce32" d="M156 428.9l1.5 .1-1.6 0-1.5 0z"/>
<path fill="#1dc5d7" d="M108.1 475.7l1.6-5.6-1.6 .3-1.6 5.6z"/>
<path fill="#ccc539" d="M105.1 441.4l1.6-1.3-1.6 .4-1.6 1.3z"/>
<path fill="#7ec75d" d="M84.4 453.9l1.6-2.1-1.6 .4-1.6 2.2z"/>
<path fill="#6ad77d" d="M127.3 457.7l1.5-4-1.6-1.1-1.6 4z"/>
<path fill="#30d1b7" d="M154.2 468.1l1.5-.3-1.6-6.1-1.5 .4z"/>
<path fill="#25a5fc" d="M96.9 488.9l1.6-5.7-1.6 .4-1.6 5.7z"/>
<path fill="#fdcd32" d="M162.3 429.2l1.6 .2-1.7-.1-1.5-.1z"/>
<path fill="#fdcc33" d="M165.5 429.5l1.5 .2-1.6-.1-1.5-.2z"/>
<path fill="#2ccfbd" d="M112.9 469.8l1.6-5.4-1.6 .1-1.6 5.4z"/>
<path fill="#a7c73c" d="M92.4 448.4l1.5-1.8-1.6 .5-1.5 1.8z"/>
<path fill="#fecb33" d="M141.7 429.9l1.5-.2-1.6 .2-1.5 .2z"/>
<path fill="#57d88d" d="M122.5 460.3l1.5-4.5-1.6-.5-1.5 4.5z"/>
<path fill="#c2c639" d="M100.3 443.7l1.6-1.5-1.6 .5-1.6 1.4z"/>
<path fill="#3ad7a6" d="M117.7 464.5l1.6-5-1.7-.1-1.5 5z"/>
<path fill="#d6c538" d="M108.3 439.7l1.6-1.2-1.7 .4-1.5 1.2z"/>
<path fill="#5ed887" d="M146.3 459.3l1.5-1.1-1.6-4.7-1.5 1.2z"/>
<path fill="#18b8ed" d="M101.7 482.4l1.6-5.7-1.6 .3-1.6 5.8z"/>
<path fill="#94c74c" d="M87.6 451.3l1.6-2-1.6 .5-1.6 2z"/>
<path fill="#80d76c" d="M130.4 455.2l1.6-3.4-1.6-1.6-1.6 3.5z"/>
<path fill="#fdce31" d="M148 429.2l1.6 0-1.6 .1-1.6 .1z"/>
<path fill="#b6c639" d="M95.6 446.2l1.5-1.6-1.6 .4-1.6 1.6z"/>
<path fill="#e0c538" d="M111.5 438.2l1.5-1.1-1.6 .4-1.5 1z"/>
<path fill="#7ec75d" d="M82.8 454.4l1.6-2.2-1.6 .5-1.6 2.1z"/>
<path fill="#cdc539" d="M103.5 441.8l1.6-1.3-1.6 .4-1.6 1.3z"/>
<path fill="#1dc5d6" d="M106.5 476l1.6-5.6-1.6 .3-1.6 5.6z"/>
<path fill="#79d771" d="M143.1 456.2l1.6-1.5-1.6-4-1.6 1.6z"/>
<path fill="#46d89b" d="M151 462.7l1.6-.6-1.6-5.4-1.6 .6z"/>
<path fill="#25a5fc" d="M95.3 489.3l1.6-5.7-1.6 .4-1.6 5.7z"/>
<path fill="#8dd761" d="M133.6 453.8l1.6-2.9-1.7-2.1-1.5 3z"/>
<path fill="#fdcf31" d="M160.7 429.2l1.5 .1-1.6 0-1.5-.2z"/>
<path fill="#89d764" d="M139.9 454.2l1.6-1.9-1.6-3.3-1.6 2z"/>
<path fill="#a8c73c" d="M90.8 448.9l1.5-1.8-1.6 .4-1.5 1.8z"/>
<path fill="#fdce31" d="M163.9 429.4l1.5 .2-1.6-.1-1.6-.2z"/>
<path fill="#90d75f" d="M136.8 453.4l1.5-2.4-1.6-2.6-1.5 2.5z"/>
<path fill="#77d773" d="M125.6 456.6l1.6-4-1.6-.9-1.6 4.1z"/>
<path fill="#2dcfbc" d="M111.3 469.9l1.6-5.4-1.7 .2-1.5 5.4z"/>
<path fill="#fdcc33" d="M140.1 430.1l1.5-.2-1.6 .3-1.6 .2z"/>
<path fill="#c2c639" d="M98.7 444.1l1.6-1.4-1.6 .4-1.6 1.5z"/>
<path fill="#d7c538" d="M106.7 440.1l1.5-1.2-1.6 .4-1.5 1.2z"/>
<path fill="#18b8ed" d="M100.1 482.8l1.6-5.8-1.6 .4-1.6 5.8z"/>
<path fill="#3bd8a4" d="M116.1 464.4l1.5-5-1.6 0-1.5 5z"/>
<path fill="#5fd887" d="M120.9 459.8l1.5-4.5-1.6-.4-1.5 4.6z"/>
<path fill="#94c74c" d="M86 451.8l1.6-2-1.7 .4-1.5 2z"/>
<path fill="#b6c639" d="M93.9 446.6l1.6-1.6-1.6 .4-1.6 1.7z"/>
<path fill="#6dd77b" d="M147.8 458.2l1.6-.9-1.6-4.7-1.6 .9z"/>
<path fill="#e0c538" d="M109.9 438.5l1.5-1-1.6 .4-1.6 1z"/>
<path fill="#fdd030" d="M149.6 429.2l1.5 0-1.6 .1-1.5 0z"/>
<path fill="#cdc538" d="M101.9 442.2l1.6-1.3-1.7 .4-1.5 1.4z"/>
<path fill="#1dc6d6" d="M104.9 476.3l1.6-5.6-1.7 .3-1.5 5.7z"/>
<path fill="#91d75e" d="M128.8 453.7l1.6-3.5-1.6-1.2-1.6 3.6z"/>
<path fill="#24a5fc" d="M93.7 489.7l1.6-5.7-1.6 .5-1.6 5.6z"/>
<path fill="#a8c73c" d="M89.2 449.3l1.5-1.8-1.6 .5-1.5 1.8z"/>
<path fill="#fdd130" d="M159.1 429.1l1.5 .2-1.6 0-1.5-.2z"/>
<path fill="#e8c438" d="M113 437.1l1.6-.9-1.6 .4-1.6 .9z"/>
<path fill="#2ed0ba" d="M109.7 470.1l1.5-5.4-1.6 .3-1.5 5.4z"/>
<path fill="#4fd893" d="M152.6 462.1l1.5-.4-1.6-5.4-1.5 .4z"/>
<path fill="#fdd030" d="M162.2 429.3l1.6 .2-1.6 0-1.6-.2z"/>
<path fill="#fdcc32" d="M138.4 430.4l1.6-.2-1.6 .2-1.6 .2z"/>
<path fill="#c2c639" d="M97.1 444.6l1.6-1.5-1.6 .4-1.6 1.5z"/>
<path fill="#d7c538" d="M105.1 440.5l1.5-1.2-1.6 .4-1.5 1.2z"/>
<path fill="#8ad763" d="M144.7 454.7l1.5-1.2-1.6-4.1-1.5 1.3z"/>
<path fill="#18b8ed" d="M98.5 483.2l1.6-5.8-1.7 .5-1.5 5.7z"/>
<path fill="#82d76a" d="M124 455.8l1.6-4.1-1.6-.5-1.6 4.1z"/>
<path fill="#a2d750" d="M132 451.8l1.5-3-1.6-1.6-1.5 3z"/>
<path fill="#94c74c" d="M84.4 452.2l1.5-2-1.6 .5-1.5 2z"/>
<path fill="#3ed8a1" d="M114.5 464.4l1.5-5-1.6 .1-1.5 5z"/>
<path fill="#65d881" d="M119.3 459.5l1.5-4.6-1.6-.1-1.6 4.6z"/>
<path fill="#fdd030" d="M144.8 429.6l1.5-.1-1.6 .2-1.5 .1z"/>
<path fill="#b6c639" d="M92.3 447.1l1.6-1.7-1.6 .5-1.6 1.6z"/>
<path fill="#9fd753" d="M141.5 452.3l1.6-1.6-1.7-3.3-1.5 1.6z"/>
<path fill="#e0c538" d="M108.2 438.9l1.6-1-1.6 .4-1.6 1z"/>
<path fill="#aad749" d="M135.2 450.9l1.5-2.5-1.6-2.2-1.6 2.6z"/>
<path fill="#cdc538" d="M100.3 442.7l1.5-1.4-1.6 .5-1.5 1.3z"/>
<path fill="#1ec6d5" d="M103.3 476.7l1.5-5.7-1.6 .4-1.5 5.6z"/>
<path fill="#a9d74a" d="M138.3 451l1.6-2-1.6-2.7-1.6 2.1z"/>
<path fill="#fdd22f" d="M151.1 429.2l1.6 0-1.6 .1-1.6 0z"/>
<path fill="#a8c73c" d="M87.6 449.8l1.5-1.8-1.6 .4-1.6 1.8z"/>
<path fill="#78d772" d="M149.4 457.3l1.6-.6-1.7-4.8-1.5 .7z"/>
<path fill="#fdd22e" d="M154.3 429.1l1.6 .1-1.7 .1-1.5-.1z"/>
<path fill="#e9c438" d="M111.4 437.5l1.6-.9-1.6 .4-1.6 .9z"/>
<path fill="#9ed753" d="M127.2 452.6l1.6-3.6-1.7-.9-1.5 3.6z"/>
<path fill="#2ed0ba" d="M108.1 470.4l1.5-5.4-1.6 .3-1.5 5.4z"/>
<path fill="#fdd22e" d="M157.5 429.1l1.5 .2-1.6 0-1.5-.1z"/>
<path fill="#c2c639" d="M95.5 445l1.6-1.5-1.7 .5-1.5 1.4z"/>
<path fill="#fdcd32" d="M136.8 430.6l1.6-.2-1.6 .3-1.6 .2z"/>
<path fill="#d7c538" d="M103.5 440.9l1.5-1.2-1.6 .5-1.6 1.1z"/>
<path fill="#fdd22f" d="M160.6 429.3l1.6 .2-1.6 0-1.6-.2z"/>
<path fill="#18b8ed" d="M96.9 483.6l1.5-5.7-1.6 .4-1.5 5.7z"/>
<path fill="#41d89e" d="M112.9 464.5l1.5-5-1.6 .2-1.6 5z"/>
<path fill="#8bd763" d="M122.4 455.3l1.6-4.1-1.6-.4-1.6 4.1z"/>
<path fill="#6ad77d" d="M117.6 459.4l1.6-4.6-1.6 0-1.6 4.6z"/>
<path fill="#b6c639" d="M90.7 447.5l1.6-1.6-1.6 .4-1.6 1.7z"/>
<path fill="#fdd12f" d="M143.2 429.8l1.5-.1-1.6 .3-1.5 0z"/>
<path fill="#e1c538" d="M106.6 439.3l1.6-1-1.6 .4-1.6 1z"/>
<path fill="#99d757" d="M146.2 453.5l1.6-.9-1.6-4.1-1.6 .9z"/>
<path fill="#cdc538" d="M98.7 443.1l1.5-1.3-1.6 .4-1.5 1.3z"/>
<path fill="#b3d742" d="M130.4 450.2l1.5-3-1.6-1.3-1.5 3.1z"/>
<path fill="#1ec6d5" d="M101.7 477l1.5-5.6-1.6 .4-1.5 5.6z"/>
<path fill="#fdd22f" d="M146.3 429.5l1.6 0-1.6 .2-1.6 0z"/>
<path fill="#fdd32e" d="M149.5 429.3l1.6 0-1.6 .2-1.6 0z"/>
<path fill="#a8c73c" d="M85.9 450.2l1.6-1.8-1.6 .5-1.6 1.8z"/>
<path fill="#e9c438" d="M109.8 437.9l1.6-.9-1.7 .4-1.5 .9z"/>
<path fill="#b1d744" d="M143.1 450.7l1.5-1.3-1.6-3.4-1.6 1.4z"/>
<path fill="#bed63d" d="M133.5 448.8l1.6-2.6-1.6-1.6-1.6 2.6z"/>
<path fill="#2fd0b9" d="M106.5 470.7l1.5-5.4-1.6 .3-1.6 5.4z"/>
<path fill="#c2c639" d="M93.9 445.4l1.5-1.4-1.6 .4-1.5 1.5z"/>
<path fill="#d8c538" d="M101.8 441.3l1.6-1.1-1.6 .4-1.6 1.2z"/>
<path fill="#fdce31" d="M135.2 430.9l1.6-.2-1.6 .3-1.6 .2z"/>
<path fill="#18b8ed" d="M95.3 484l1.5-5.7-1.6 .4-1.5 5.8z"/>
<path fill="#fdd42e" d="M159 429.3l1.6 .2-1.6 0-1.6-.2z"/>
<path fill="#aad74a" d="M125.6 451.7l1.5-3.6-1.6-.6-1.5 3.7z"/>
<path fill="#82d76a" d="M151 456.7l1.5-.4-1.6-4.9-1.6 .5z"/>
<path fill="#bdd63d" d="M139.9 449l1.5-1.6-1.6-2.8-1.5 1.7z"/>
<path fill="#c1d63d" d="M136.7 448.4l1.6-2.1-1.6-2.2-1.6 2.1z"/>
<path fill="#44d89d" d="M111.2 464.7l1.6-5-1.6 .2-1.6 5.1z"/>
<path fill="#b6c639" d="M89.1 448l1.6-1.7-1.6 .5-1.6 1.6z"/>
<path fill="#91d75e" d="M120.8 454.9l1.6-4.1-1.6-.2-1.6 4.2z"/>
<path fill="#6ed77a" d="M116 459.4l1.6-4.6-1.6 .1-1.6 4.6z"/>
<path fill="#fdd22f" d="M141.6 430l1.5 0-1.6 .2-1.6 .1z"/>
<path fill="#e1c538" d="M105 439.7l1.6-1-1.6 .4-1.6 1.1z"/>
<path fill="#cdc538" d="M97.1 443.5l1.5-1.3-1.6 .4-1.6 1.4z"/>
<path fill="#1ec6d4" d="M100.1 477.4l1.5-5.6-1.6 .4-1.6 5.7z"/>
<path fill="#fdd32e" d="M144.7 429.7l1.6 0-1.6 .2-1.6 .1z"/>
<path fill="#fdcc32" d="M130.4 431.7l1.6-.3-1.6 .3-1.6 .3z"/>
<path fill="#bfd63d" d="M128.8 449l1.5-3.1-1.6-.9-1.6 3.1z"/>
<path fill="#eac438" d="M108.2 438.3l1.5-.9-1.6 .4-1.5 .9z"/>
<path fill="#a6d74d" d="M147.8 452.6l1.5-.7-1.6-4.1-1.5 .7z"/>
<path fill="#fdd52d" d="M151.1 429.3l1.5 .1-1.6 .2-1.5-.1z"/>
<path fill="#c2c639" d="M92.3 445.9l1.5-1.5-1.6 .5-1.5 1.4z"/>
<path fill="#2fd0b8" d="M104.8 471l1.6-5.4-1.6 .4-1.6 5.4z"/>
<path fill="#d8c538" d="M100.2 441.8l1.6-1.2-1.6 .4-1.6 1.2z"/>
<path fill="#fdcf31" d="M133.6 431.2l1.6-.2-1.7 .2-1.5 .2z"/>
<path fill="#fdd52d" d="M154.2 429.3l1.6 .1-1.6 .2-1.6-.2z"/>
<path fill="#fdd52d" d="M157.4 429.3l1.6 .2-1.6 .1-1.6-.2z"/>
<path fill="#45d89b" d="M109.6 465l1.6-5.1-1.6 .3-1.6 5.1z"/>
<path fill="#b2d743" d="M124 451.2l1.5-3.7-1.6-.3-1.5 3.6z"/>
<path fill="#cbd63d" d="M131.9 447.2l1.6-2.6-1.6-1.3-1.6 2.6z"/>
<path fill="#b6c639" d="M87.5 448.4l1.6-1.6-1.7 .5-1.5 1.6z"/>
<path fill="#bed63d" d="M144.6 449.4l1.6-.9-1.6-3.5-1.6 1z"/>
<path fill="#e1c538" d="M103.4 440.2l1.6-1.1-1.7 .4-1.5 1.1z"/>
<path fill="#fdd22e" d="M139.9 430.3l1.6-.1-1.6 .2-1.6 .1z"/>
<path fill="#cdc538" d="M95.4 444l1.6-1.4-1.6 .5-1.6 1.3z"/>
<path fill="#71d777" d="M114.4 459.5l1.6-4.6-1.6 .1-1.6 4.7z"/>
<path fill="#97d759" d="M119.2 454.8l1.6-4.2-1.7 0-1.5 4.2z"/>
<path fill="#1ec6d4" d="M98.4 477.9l1.6-5.7-1.6 .4-1.6 5.7z"/>
<path fill="#fdd42d" d="M143.1 430l1.6-.1-1.6 .3-1.6 0z"/>
<path fill="#d1d63d" d="M135.1 446.2l1.6-2.1-1.7-1.7-1.5 2.2z"/>
<path fill="#cbd63d" d="M141.4 447.4l1.6-1.4-1.6-2.7-1.6 1.3z"/>
<path fill="#d1d63d" d="M138.3 446.3l1.5-1.7-1.6-2.2-1.5 1.7z"/>
<path fill="#fdd52d" d="M146.3 429.7l1.5 0-1.6 .3-1.5-.1z"/>
<path fill="#eac438" d="M106.6 438.7l1.5-.9-1.6 .4-1.5 .9z"/>
<path fill="#c2c639" d="M90.7 446.3l1.5-1.4-1.6 .4-1.5 1.5z"/>
<path fill="#2fd0b8" d="M103.2 471.4l1.6-5.4-1.6 .4-1.6 5.4z"/>
<path fill="#d8c538" d="M98.6 442.2l1.6-1.2-1.6 .5-1.6 1.1z"/>
<path fill="#fdd62c" d="M149.5 429.5l1.5 .1-1.6 .2-1.6-.1z"/>
<path fill="#fdcf30" d="M132 431.4l1.5-.2-1.6 .3-1.5 .2z"/>
<path fill="#c7d63d" d="M127.1 448.1l1.6-3.1-1.6-.6-1.6 3.1z"/>
<path fill="#b0d745" d="M149.3 451.9l1.6-.5-1.6-4.1-1.6 .5z"/>
<path fill="#fcd72c" d="M155.8 429.4l1.6 .2-1.7 .1-1.5-.1z"/>
<path fill="#f2c438" d="M109.7 437.4l1.6-.8-1.6 .4-1.6 .8z"/>
<path fill="#47d89a" d="M108 465.3l1.6-5.1-1.6 .4-1.6 5z"/>
<path fill="#e1c438" d="M101.8 440.6l1.5-1.1-1.6 .5-1.5 1z"/>
<path fill="#cdc538" d="M93.8 444.4l1.6-1.3-1.6 .4-1.6 1.4z"/>
<path fill="#b9d73d" d="M122.4 450.8l1.5-3.6-1.6-.2-1.5 3.6z"/>
<path fill="#fdd32e" d="M138.3 430.5l1.6-.1-1.6 .3-1.6 .1z"/>
<path fill="#1ec6d4" d="M96.8 478.3l1.6-5.7-1.6 .5-1.6 5.6z"/>
<path fill="#74d776" d="M112.8 459.7l1.6-4.7-1.7 .3-1.5 4.6z"/>
<path fill="#9bd756" d="M117.6 454.8l1.5-4.2-1.6 .1-1.5 4.2z"/>
<path fill="#d5d53d" d="M130.3 445.9l1.6-2.6-1.6-.9-1.6 2.6z"/>
<path fill="#fdd52d" d="M141.5 430.2l1.6 0-1.7 .2-1.5 0z"/>
<path fill="#c7d63d" d="M146.2 448.5l1.5-.7-1.6-3.5-1.5 .7z"/>
<path fill="#eac438" d="M105 439.1l1.5-.9-1.6 .4-1.6 .9z"/>
<path fill="#fdd62c" d="M144.7 429.9l1.5 .1-1.6 .2-1.5 0z"/>
<path fill="#c2c639" d="M89.1 446.8l1.5-1.5-1.6 .5-1.6 1.5z"/>
<path fill="#d8c538" d="M97 442.6l1.6-1.1-1.7 .4-1.5 1.2z"/>
<path fill="#2fd1b8" d="M101.6 471.8l1.6-5.4-1.6 .4-1.6 5.4z"/>
<path fill="#fcd72c" d="M147.8 429.7l1.6 .1-1.6 .2-1.6 0z"/>
<path fill="#ded53d" d="M133.5 444.6l1.5-2.2-1.6-1.3-1.5 2.2z"/>
<path fill="#d6d53d" d="M143 446l1.6-1-1.7-2.8-1.5 1.1z"/>
<path fill="#fcd82b" d="M151 429.6l1.6 .1-1.6 .2-1.6-.1z"/>
<path fill="#f2c438" d="M108.1 437.8l1.6-.8-1.6 .4-1.6 .8z"/>
<path fill="#ced63d" d="M125.5 447.5l1.6-3.1-1.6-.4-1.6 3.2z"/>
<path fill="#e1d53d" d="M136.7 444.1l1.5-1.7-1.6-1.7-1.6 1.7z"/>
<path fill="#fcd82b" d="M154.2 429.6l1.5 .1-1.6 .2-1.5-.2z"/>
<path fill="#48d899" d="M106.4 465.6l1.6-5-1.7 .3-1.5 5.1z"/>
<path fill="#ded53d" d="M139.8 444.6l1.6-1.3-1.6-2.3-1.6 1.4z"/>
<path fill="#e2c438" d="M100.2 441l1.5-1-1.6 .4-1.5 1.1z"/>
<path fill="#cec538" d="M92.2 444.9l1.6-1.4-1.6 .5-1.6 1.3z"/>
<path fill="#fdd42d" d="M136.7 430.8l1.6-.1-1.6 .3-1.6 .1z"/>
<path fill="#76d774" d="M111.2 459.9l1.5-4.6-1.6 .3-1.5 4.6z"/>
<path fill="#bdd63d" d="M120.8 450.6l1.5-3.6-1.6-.1-1.6 3.7z"/>
<path fill="#9ed753" d="M116 454.9l1.5-4.2-1.6 .2-1.5 4.1z"/>
<path fill="#fdd62c" d="M139.9 430.4l1.5 0-1.6 .3-1.5 0z"/>
<path fill="#eac438" d="M103.3 439.5l1.6-.9-1.6 .4-1.6 1z"/>
<path fill="#fcd72c" d="M143.1 430.2l1.5 0-1.6 .2-1.6 0z"/>
<path fill="#ded53d" d="M128.7 445l1.6-2.6-1.7-.6-1.5 2.6z"/>
<path fill="#d8c538" d="M95.4 443.1l1.5-1.2-1.6 .4-1.5 1.2z"/>
<path fill="#2fd1b7" d="M100 472.2l1.6-5.4-1.7 .4-1.5 5.4z"/>
<path fill="#fcd82b" d="M146.2 430l1.6 0-1.6 .3-1.6-.1z"/>
<path fill="#cfd63d" d="M147.7 447.8l1.6-.5-1.6-3.5-1.6 .5z"/>
<path fill="#fcd92a" d="M149.4 429.8l1.6 .1-1.7 .2-1.5-.1z"/>
<path fill="#f2c438" d="M106.5 438.2l1.6-.8-1.6 .4-1.6 .8z"/>
<path fill="#48d899" d="M104.8 466l1.5-5.1-1.6 .4-1.5 5.1z"/>
<path fill="#fdd32e" d="M131.9 431.5l1.6-.2-1.6 .3-1.6 .2z"/>
<path fill="#fcd92a" d="M152.6 429.7l1.5 .2-1.6 .2-1.5-.2z"/>
<path fill="#e9d53d" d="M131.9 443.3l1.5-2.2-1.6-.9-1.5 2.2z"/>
<path fill="#e2c438" d="M98.6 441.5l1.5-1.1-1.6 .4-1.6 1.1z"/>
<path fill="#d3d63d" d="M123.9 447.2l1.6-3.2-1.6-.2-1.6 3.2z"/>
<path fill="#cec538" d="M90.6 445.3l1.6-1.3-1.7 .4-1.5 1.4z"/>
<path fill="#fdd52d" d="M135.1 431.1l1.6-.1-1.7 .2-1.5 .1z"/>
<path fill="#dfd53d" d="M144.6 445l1.5-.7-1.6-2.8-1.6 .7z"/>
<path fill="#77d773" d="M109.6 460.2l1.5-4.6-1.6 .3-1.5 4.7z"/>
<path fill="#c0d63d" d="M119.1 450.6l1.6-3.7-1.6 .1-1.6 3.7z"/>
<path fill="#a0d751" d="M114.4 455l1.5-4.1-1.6 .2-1.6 4.2z"/>
<path fill="#eed43d" d="M135 442.4l1.6-1.7-1.6-1.3-1.6 1.7z"/>
<path fill="#fcd62c" d="M138.3 430.7l1.5 0-1.6 .2-1.5 .1z"/>
<path fill="#ead53d" d="M141.4 443.3l1.5-1.1-1.6-2.2-1.5 1z"/>
<path fill="#eac438" d="M101.7 440l1.6-1-1.6 .5-1.6 .9z"/>
<path fill="#efd43d" d="M138.2 442.4l1.6-1.4-1.6-1.7-1.6 1.4z"/>
<path fill="#fdcf31" d="M124 433l1.5-.3-1.6 .3-1.5 .3z"/>
<path fill="#fcd82b" d="M141.4 430.4l1.6 0-1.6 .3-1.6 0z"/>
<path fill="#d8c538" d="M93.8 443.5l1.5-1.2-1.6 .5-1.5 1.2z"/>
<path fill="#30d1b7" d="M98.4 472.6l1.5-5.4-1.6 .4-1.5 5.5z"/>
<path fill="#e4d53d" d="M127.1 444.4l1.5-2.6-1.6-.4-1.5 2.6z"/>
<path fill="#fcd92a" d="M147.8 430l1.5 .1-1.6 .3-1.5-.1z"/>
<path fill="#f2c438" d="M104.9 438.6l1.6-.8-1.7 .4-1.5 .8z"/>
<path fill="#49d898" d="M103.2 466.4l1.5-5.1-1.6 .4-1.5 5.1z"/>
<path fill="#fdd32e" d="M130.3 431.8l1.6-.2-1.6 .3-1.6 .2z"/>
<path fill="#fcda2a" d="M151 429.9l1.5 .2-1.6 .2-1.6-.2z"/>
<path fill="#e2c438" d="M96.9 441.9l1.6-1.1-1.6 .5-1.6 1z"/>
<path fill="#d7d53d" d="M122.3 447l1.6-3.2-1.7 0-1.5 3.1z"/>
<path fill="#fdd52d" d="M133.5 431.3l1.5-.1-1.6 .3-1.5 .1z"/>
<path fill="#78d772" d="M108 460.6l1.5-4.7-1.6 .4-1.6 4.6z"/>
<path fill="#f1d43d" d="M130.3 442.4l1.5-2.2-1.6-.7-1.6 2.3z"/>
<path fill="#c3d63d" d="M117.5 450.7l1.6-3.7-1.6 .2-1.6 3.7z"/>
<path fill="#a2d750" d="M112.7 455.3l1.6-4.2-1.6 .3-1.6 4.2z"/>
<path fill="#fcd72b" d="M136.7 431l1.5-.1-1.6 .3-1.6 0z"/>
<path fill="#ebc438" d="M100.1 440.4l1.6-.9-1.6 .4-1.6 .9z"/>
<path fill="#e7d53d" d="M146.1 444.3l1.6-.5-1.6-2.9-1.6 .6z"/>
<path fill="#d8c538" d="M92.2 444l1.5-1.2-1.6 .5-1.6 1.1z"/>
<path fill="#fcd82b" d="M139.8 430.7l1.6 0-1.6 .2-1.6 0z"/>
<path fill="#f9d43d" d="M133.4 441.1l1.6-1.7-1.6-1-1.6 1.8z"/>
<path fill="#fcd92a" d="M143 430.4l1.6 .1-1.7 .2-1.5 0z"/>
<path fill="#fdd22f" d="M125.5 432.7l1.6-.3-1.6 .3-1.6 .3z"/>
<path fill="#f3d43d" d="M142.9 442.2l1.6-.7-1.6-2.3-1.6 .8z"/>
<path fill="#f3c438" d="M103.3 439l1.5-.8-1.6 .4-1.5 .9z"/>
<path fill="#fcd43d" d="M136.6 440.7l1.6-1.4-1.7-1.4-1.5 1.5z"/>
<path fill="#e9d53d" d="M125.5 444l1.5-2.6-1.6-.3-1.5 2.7z"/>
<path fill="#fcda29" d="M146.2 430.3l1.5 .1-1.6 .2-1.5-.1z"/>
<path fill="#49d898" d="M101.6 466.8l1.5-5.1-1.6 .4-1.6 5.1z"/>
<path fill="#fbd43d" d="M139.8 441l1.5-1-1.6-1.8-1.5 1.1z"/>
<path fill="#fdd42d" d="M128.7 432.1l1.6-.2-1.7 .3-1.5 .2z"/>
<path fill="#e2c438" d="M95.3 442.3l1.6-1-1.6 .4-1.6 1.1z"/>
<path fill="#fcdb29" d="M149.3 430.1l1.6 .2-1.6 .2-1.6-.1z"/>
<path fill="#79d772" d="M106.3 460.9l1.6-4.6-1.6 .4-1.6 4.6z"/>
<path fill="#dad53d" d="M120.7 446.9l1.5-3.1-1.6 0-1.5 3.2z"/>
<path fill="#fac338" d="M106.5 437.8l1.5-.7-1.6 .4-1.6 .7z"/>
<path fill="#a4d74f" d="M111.1 455.6l1.6-4.2-1.6 .3-1.6 4.2z"/>
<path fill="#c4d63d" d="M115.9 450.9l1.6-3.7-1.7 .2-1.5 3.7z"/>
<path fill="#fcd82b" d="M135 431.2l1.6 0-1.6 .2-1.6 .1z"/>
<path fill="#ebc438" d="M98.5 440.8l1.6-.9-1.7 .5-1.5 .9z"/>
<path fill="#f8d43d" d="M128.6 441.8l1.6-2.3-1.6-.4-1.6 2.3z"/>
<path fill="#fcd92a" d="M138.2 430.9l1.6 0-1.6 .3-1.6 0z"/>
<path fill="#fdd22f" d="M123.9 433l1.6-.3-1.6 .4-1.6 .2z"/>
<path fill="#fcda29" d="M141.4 430.7l1.5 0-1.6 .3-1.5-.1z"/>
<path fill="#f3c438" d="M101.7 439.5l1.5-.9-1.6 .5-1.5 .8z"/>
<path fill="#4ad898" d="M99.9 467.2l1.6-5.1-1.6 .5-1.6 5z"/>
<path fill="#ffd43d" d="M131.8 440.2l1.6-1.8-1.6-.7-1.6 1.8z"/>
<path fill="#fcdb29" d="M144.6 430.5l1.5 .1-1.6 .2-1.6-.1z"/>
<path fill="#e2c438" d="M93.7 442.8l1.6-1.1-1.6 .5-1.6 1.1z"/>
<path fill="#eed43d" d="M123.9 443.8l1.5-2.7-1.6 0-1.6 2.7z"/>
<path fill="#fdd52d" d="M127.1 432.4l1.5-.2-1.6 .3-1.5 .2z"/>
<path fill="#fcdc28" d="M147.7 430.4l1.6 .1-1.6 .2-1.6-.1z"/>
<path fill="#fbd43d" d="M144.5 441.5l1.6-.6-1.7-2.3-1.5 .6z"/>
<path fill="#79d771" d="M104.7 461.3l1.6-4.6-1.6 .4-1.6 4.6z"/>
<path fill="#ffd33d" d="M135 439.4l1.5-1.5-1.6-.9-1.5 1.4z"/>
<path fill="#fac338" d="M104.8 438.2l1.6-.7-1.6 .4-1.6 .7z"/>
<path fill="#fcd72c" d="M130.3 431.9l1.5-.1-1.6 .3-1.6 .1z"/>
<path fill="#dcd53d" d="M119.1 447l1.5-3.2-1.6 .2-1.5 3.2z"/>
<path fill="#ffd43d" d="M141.3 440l1.6-.8-1.6-1.8-1.6 .8z"/>
<path fill="#ffd33d" d="M138.2 439.3l1.5-1.1-1.6-1.3-1.6 1z"/>
<path fill="#a5d74e" d="M109.5 455.9l1.6-4.2-1.6 .4-1.6 4.2z"/>
<path fill="#c6d63d" d="M114.3 451.1l1.5-3.7-1.6 .3-1.5 3.7z"/>
<path fill="#ebc438" d="M96.9 441.3l1.5-.9-1.6 .4-1.5 .9z"/>
<path fill="#fcd82b" d="M133.4 431.5l1.6-.1-1.6 .3-1.6 .1z"/>
<path fill="#fdd43d" d="M127 441.4l1.6-2.3-1.6-.2-1.6 2.2z"/>
<path fill="#fcda2a" d="M136.6 431.2l1.6 0-1.7 .2-1.5 0z"/>
<path fill="#fcdb29" d="M139.8 430.9l1.5 .1-1.6 .2-1.5 0z"/>
<path fill="#f3c438" d="M100.1 439.9l1.5-.8-1.6 .4-1.6 .9z"/>
<path fill="#fcdc28" d="M142.9 430.7l1.6 .1-1.6 .3-1.6-.1z"/>
<path fill="#fdd52d" d="M125.5 432.7l1.5-.2-1.6 .4-1.5 .2z"/>
<path fill="#f1d43d" d="M122.2 443.8l1.6-2.7-1.6 0-1.6 2.7z"/>
<path fill="#fcdd28" d="M146.1 430.6l1.6 .1-1.6 .2-1.6-.1z"/>
<path fill="#ffd33d" d="M130.2 439.5l1.6-1.8-1.7-.4-1.5 1.8z"/>
<path fill="#7ad771" d="M103.1 461.7l1.6-4.6-1.6 .4-1.6 4.6z"/>
<path fill="#fac338" d="M103.2 438.6l1.6-.7-1.6 .5-1.6 .7z"/>
<path fill="#fcd72b" d="M128.6 432.2l1.6-.1-1.6 .3-1.6 .1z"/>
<path fill="#ded53d" d="M117.5 447.2l1.5-3.2-1.6 .2-1.6 3.2z"/>
<path fill="#a5d74d" d="M107.9 456.3l1.6-4.2-1.7 .4-1.5 4.2z"/>
<path fill="#ebc438" d="M95.3 441.7l1.5-.9-1.6 .5-1.5 .9z"/>
<path fill="#c7d63d" d="M112.7 451.4l1.5-3.7-1.6 .3-1.5 3.7z"/>
<path fill="#fcd92a" d="M131.8 431.8l1.6-.1-1.6 .3-1.6 .1z"/>
<path fill="#ffd33d" d="M133.4 438.4l1.5-1.4-1.6-.7-1.5 1.4z"/>
<path fill="#fec537" d="M106.4 437.5l1.6-.6-1.7 .4-1.5 .6z"/>
<path fill="#fcdb29" d="M135 431.4l1.5 0-1.6 .3-1.5 0z"/>
<path fill="#ffd33c" d="M136.5 437.9l1.6-1-1.6-1-1.6 1.1z"/>
<path fill="#ffd33d" d="M142.9 439.2l1.5-.6-1.6-1.8-1.5 .6z"/>
<path fill="#ffd43d" d="M125.4 441.1l1.6-2.2-1.6-.1-1.6 2.3z"/>
<path fill="#ffd33d" d="M139.7 438.2l1.6-.8-1.6-1.3-1.6 .8z"/>
<path fill="#fdd32e" d="M120.7 433.7l1.5-.3-1.6 .4-1.5 .2z"/>
<path fill="#f3c438" d="M98.4 440.4l1.6-.9-1.6 .5-1.6 .8z"/>
<path fill="#fcdc28" d="M138.2 431.2l1.5 0-1.6 .3-1.6-.1z"/>
<path fill="#fcdd28" d="M141.3 431l1.6 .1-1.6 .2-1.6-.1z"/>
<path fill="#fdd62c" d="M123.9 433.1l1.5-.2-1.6 .3-1.6 .2z"/>
<path fill="#f3d43d" d="M120.6 443.8l1.6-2.7-1.6 .2-1.6 2.7z"/>
<path fill="#fcde27" d="M144.5 430.8l1.6 .1-1.7 .3-1.5-.1z"/>
<path fill="#7ad770" d="M101.5 462.1l1.6-4.6-1.7 .4-1.5 4.7z"/>
<path fill="#fac338" d="M101.6 439.1l1.6-.7-1.6 .4-1.6 .7z"/>
<path fill="#fcd82b" d="M127 432.5l1.6-.1-1.6 .3-1.6 .2z"/>
<path fill="#ffd33d" d="M128.6 439.1l1.5-1.8-1.6-.2-1.5 1.8z"/>
<path fill="#e0d53d" d="M115.8 447.4l1.6-3.2-1.6 .3-1.6 3.2z"/>
<path fill="#a6d74d" d="M106.3 456.7l1.5-4.2-1.6 .4-1.5 4.2z"/>
<path fill="#c7d63d" d="M111.1 451.7l1.5-3.7-1.6 .4-1.5 3.7z"/>
<path fill="#fcda2a" d="M130.2 432.1l1.6-.1-1.7 .3-1.5 .1z"/>
<path fill="#fdd030" d="M115.9 434.7l1.6-.3-1.7 .4-1.5 .3z"/>
<path fill="#fec537" d="M104.8 437.9l1.5-.6-1.6 .5-1.5 .6z"/>
<path fill="#fcdb29" d="M133.4 431.7l1.5 0-1.6 .3-1.5 0z"/>
<path fill="#ffd63b" d="M131.8 437.7l1.5-1.4-1.6-.4-1.6 1.4z"/>
<path fill="#f3c438" d="M96.8 440.8l1.6-.8-1.6 .4-1.6 .9z"/>
<path fill="#ffd43d" d="M123.8 441.1l1.6-2.3-1.7 .1-1.5 2.2z"/>
<path fill="#fcdd28" d="M136.5 431.4l1.6 .1-1.6 .2-1.6 0z"/>
<path fill="#ffd939" d="M134.9 437l1.6-1.1-1.6-.7-1.6 1.1z"/>
<path fill="#fcde27" d="M139.7 431.2l1.6 .1-1.6 .3-1.6-.1z"/>
<path fill="#fdd62c" d="M122.2 433.4l1.6-.2-1.6 .3-1.6 .3z"/>
<path fill="#ffda38" d="M138.1 436.9l1.6-.8-1.7-1-1.5 .8z"/>
<path fill="#ffd839" d="M141.3 437.4l1.5-.6-1.6-1.3-1.5 .6z"/>
<path fill="#fcde27" d="M142.9 431.1l1.5 .1-1.6 .2-1.5-.1z"/>
<path fill="#f5d43d" d="M119 444l1.6-2.7-1.6 .2-1.6 2.7z"/>
<path fill="#fbc338" d="M100 439.5l1.6-.7-1.7 .5-1.5 .7z"/>
<path fill="#fcd82b" d="M125.4 432.9l1.6-.2-1.6 .4-1.6 .1z"/>
<path fill="#a6d74c" d="M104.7 457.1l1.5-4.2-1.6 .4-1.5 4.2z"/>
<path fill="#e1d53d" d="M114.2 447.7l1.6-3.2-1.6 .3-1.6 3.2z"/>
<path fill="#ffd33d" d="M127 438.9l1.5-1.8-1.6-.1-1.5 1.8z"/>
<path fill="#c8d63d" d="M109.5 452.1l1.5-3.7-1.6 .4-1.6 3.7z"/>
<path fill="#fcda29" d="M128.6 432.4l1.5-.1-1.6 .3-1.5 .1z"/>
<path fill="#fec537" d="M103.2 438.4l1.5-.6-1.6 .4-1.5 .6z"/>
<path fill="#fcdc28" d="M131.8 432l1.5 0-1.6 .3-1.6 0z"/>
<path fill="#fdd42e" d="M117.5 434.4l1.5-.3-1.6 .4-1.6 .3z"/>
<path fill="#ffd938" d="M130.1 437.3l1.6-1.4-1.6-.2-1.6 1.4z"/>
<path fill="#fcdd27" d="M134.9 431.7l1.6 0-1.6 .3-1.6 0z"/>
<path fill="#ffd33d" d="M122.2 441.1l1.5-2.2-1.6 .1-1.5 2.3z"/>
<path fill="#fcde27" d="M138.1 431.5l1.6 .1-1.7 .2-1.5-.1z"/>
<path fill="#fcd62c" d="M120.6 433.8l1.6-.3-1.6 .4-1.6 .2z"/>
<path fill="#ffde36" d="M133.3 436.3l1.6-1.1-1.6-.4-1.6 1.1z"/>
<path fill="#fbc338" d="M98.4 440l1.5-.7-1.6 .4-1.5 .7z"/>
<path fill="#fcdf26" d="M141.3 431.3l1.5 .1-1.6 .3-1.5-.1z"/>
<path fill="#f6d43d" d="M117.4 444.2l1.6-2.7-1.7 .3-1.5 2.7z"/>
<path fill="#fcd92a" d="M123.8 433.2l1.6-.1-1.7 .3-1.5 .1z"/>
<path fill="#a7d74c" d="M103.1 457.5l1.5-4.2-1.6 .4-1.6 4.2z"/>
<path fill="#ffe034" d="M136.5 435.9l1.5-.8-1.6-.7-1.5 .8z"/>
<path fill="#e1d53d" d="M112.6 448l1.6-3.2-1.6 .4-1.6 3.2z"/>
<path fill="#c8d63d" d="M107.8 452.5l1.6-3.7-1.6 .4-1.6 3.7z"/>
<path fill="#ffdf35" d="M139.7 436.1l1.5-.6-1.6-1-1.6 .6z"/>
<path fill="#ffd53b" d="M125.4 438.8l1.5-1.8-1.6 .1-1.6 1.8z"/>
<path fill="#fcdb29" d="M127 432.7l1.5-.1-1.6 .4-1.5 .1z"/>
<path fill="#fdd12f" d="M112.7 435.5l1.5-.3-1.6 .4-1.5 .3z"/>
<path fill="#fec537" d="M101.6 438.8l1.5-.6-1.6 .5-1.6 .6z"/>
<path fill="#fcdc28" d="M130.1 432.3l1.6 0-1.6 .3-1.6 0z"/>
<path fill="#fdd42d" d="M115.8 434.8l1.6-.3-1.6 .4-1.6 .3z"/>
<path fill="#fcde27" d="M133.3 432l1.6 0-1.6 .3-1.6 0z"/>
<path fill="#ffd33d" d="M120.6 441.3l1.5-2.3-1.6 .3-1.5 2.2z"/>
<path fill="#ffdc37" d="M128.5 437.1l1.6-1.4-1.6-.1-1.6 1.4z"/>
<path fill="#fcd72c" d="M119 434.1l1.6-.2-1.6 .4-1.6 .2z"/>
<path fill="#fcdf26" d="M136.5 431.7l1.5 .1-1.6 .3-1.5-.1z"/>
<path fill="#f7d43d" d="M115.8 444.5l1.5-2.7-1.6 .3-1.5 2.7z"/>
<path fill="#fce026" d="M139.7 431.6l1.5 .1-1.6 .2-1.6-.1z"/>
<path fill="#fcd92a" d="M122.2 433.5l1.5-.1-1.6 .4-1.5 .1z"/>
<path fill="#ffe233" d="M131.7 435.9l1.6-1.1-1.7-.3-1.5 1.2z"/>
<path fill="#e2d53d" d="M111 448.4l1.6-3.2-1.6 .4-1.6 3.2z"/>
<path fill="#c9d63d" d="M106.2 452.9l1.6-3.7-1.6 .4-1.6 3.7z"/>
<path fill="#fdd12f" d="M111.1 435.9l1.5-.3-1.6 .4-1.5 .4z"/>
<path fill="#fcdb29" d="M125.4 433.1l1.5-.1-1.6 .3-1.6 .1z"/>
<path fill="#fec637" d="M99.9 439.3l1.6-.6-1.6 .4-1.6 .6z"/>
<path fill="#ffd63a" d="M123.7 438.9l1.6-1.8-1.6 .1-1.6 1.8z"/>
<path fill="#ffe531" d="M134.9 435.2l1.5-.8-1.6-.4-1.5 .8z"/>
<path fill="#fcdd28" d="M128.5 432.6l1.6 0-1.6 .3-1.6 .1z"/>
<path fill="#ffe531" d="M138 435.1l1.6-.6-1.6-.7-1.6 .6z"/>
<path fill="#fdd42d" d="M114.2 435.2l1.6-.3-1.6 .4-1.6 .3z"/>
<path fill="#fcdf27" d="M131.7 432.3l1.6 0-1.7 .3-1.5 0z"/>
<path fill="#ffd33d" d="M119 441.5l1.5-2.2-1.6 .3-1.6 2.2z"/>
<path fill="#ffde35" d="M126.9 437l1.6-1.4-1.6 0-1.6 1.5z"/>
<path fill="#fcd72b" d="M117.4 434.5l1.6-.2-1.7 .4-1.5 .2z"/>
<path fill="#fce026" d="M134.9 432l1.5 .1-1.6 .3-1.5-.1z"/>
<path fill="#f8d43d" d="M114.2 444.8l1.5-2.7-1.6 .4-1.5 2.7z"/>
<path fill="#fce125" d="M138 431.8l1.6 .1-1.6 .3-1.6-.1z"/>
<path fill="#fcda2a" d="M120.6 433.9l1.5-.1-1.6 .3-1.5 .2z"/>
<path fill="#e2d53d" d="M109.4 448.8l1.6-3.2-1.7 .4-1.5 3.2z"/>
<path fill="#c9d63d" d="M104.6 453.3l1.6-3.7-1.6 .4-1.6 3.7z"/>
<path fill="#ffe431" d="M130.1 435.7l1.5-1.2-1.6 0-1.5 1.1z"/>
<path fill="#fdd12f" d="M109.5 436.4l1.5-.4-1.6 .4-1.6 .4z"/>
<path fill="#fcdc28" d="M123.7 433.4l1.6-.1-1.6 .4-1.6 .1z"/>
<path fill="#ffd839" d="M122.1 439l1.6-1.8-1.6 .2-1.6 1.9z"/>
<path fill="#ffe82f" d="M133.3 434.8l1.5-.8-1.6-.3-1.6 .8z"/>
<path fill="#fcde27" d="M126.9 433l1.6-.1-1.6 .4-1.6 0z"/>
<path fill="#feca34" d="M101.5 438.7l1.6-.6-1.7 .5-1.5 .5z"/>
<path fill="#ffea2e" d="M136.4 434.4l1.6-.6-1.6-.4-1.6 .6z"/>
<path fill="#fcdf26" d="M130.1 432.6l1.5 0-1.6 .3-1.5 0z"/>
<path fill="#ffd33d" d="M117.3 441.8l1.6-2.2-1.6 .3-1.6 2.2z"/>
<path fill="#fcd72b" d="M115.8 434.9l1.5-.2-1.6 .4-1.5 .2z"/>
<path fill="#ffe034" d="M125.3 437.1l1.6-1.5-1.7 .2-1.5 1.4z"/>
<path fill="#fce025" d="M133.3 432.3l1.5 .1-1.6 .3-1.6-.1z"/>
<path fill="#f9d43d" d="M112.6 445.2l1.5-2.7-1.6 .4-1.5 2.7z"/>
<path fill="#fbe125" d="M136.4 432.1l1.6 .1-1.6 .3-1.6-.1z"/>
<path fill="#fcda2a" d="M119 434.3l1.5-.2-1.6 .4-1.6 .2z"/>
<path fill="#e3d53d" d="M107.8 449.2l1.5-3.2-1.6 .4-1.5 3.2z"/>
<path fill="#fdd12f" d="M107.8 436.8l1.6-.4-1.6 .5-1.6 .3z"/>
<path fill="#ffe730" d="M128.5 435.6l1.5-1.1-1.6 0-1.5 1.1z"/>
<path fill="#fcdc28" d="M122.1 433.8l1.6-.1-1.6 .3-1.6 .1z"/>
<path fill="#ffd939" d="M120.5 439.3l1.6-1.9-1.6 .3-1.6 1.9z"/>
<path fill="#fcde27" d="M125.3 433.3l1.6 0-1.7 .3-1.5 .1z"/>
<path fill="#ffeb2d" d="M131.6 434.5l1.6-.8-1.6-.1-1.6 .9z"/>
<path fill="#fce026" d="M128.5 432.9l1.5 0-1.6 .4-1.5 0z"/>
<path fill="#ffd33d" d="M115.7 442.1l1.6-2.2-1.6 .3-1.6 2.3z"/>
<path fill="#fcd72b" d="M114.2 435.3l1.5-.2-1.6 .4-1.5 .2z"/>
<path fill="#ffee2b" d="M134.8 434l1.6-.6-1.6-.3-1.6 .6z"/>
<path fill="#fbe125" d="M131.6 432.6l1.6 .1-1.6 .3-1.6-.1z"/>
<path fill="#ffe133" d="M123.7 437.2l1.5-1.4-1.6 .2-1.5 1.4z"/>
<path fill="#fdce31" d="M103.1 438.1l1.5-.4-1.6 .4-1.6 .5z"/>
<path fill="#f9d43d" d="M111 445.6l1.5-2.7-1.6 .4-1.6 2.7z"/>
<path fill="#fcda2a" d="M117.3 434.7l1.6-.2-1.6 .4-1.6 .2z"/>
<path fill="#fbe224" d="M134.8 432.4l1.6 .1-1.6 .3-1.6-.1z"/>
<path fill="#e3d53d" d="M106.2 449.6l1.5-3.2-1.6 .4-1.5 3.2z"/>
<path fill="#fdd12f" d="M106.2 437.2l1.6-.3-1.6 .4-1.6 .4z"/>
<path fill="#fcdc28" d="M120.5 434.1l1.6-.1-1.6 .4-1.6 .1z"/>
<path fill="#ffe82f" d="M126.9 435.6l1.5-1.1-1.6 .2-1.6 1.1z"/>
<path fill="#ffd938" d="M118.9 439.6l1.6-1.9-1.7 .4-1.5 1.8z"/>
<path fill="#fcde27" d="M123.7 433.7l1.5-.1-1.6 .4-1.5 0z"/>
<path fill="#fdd52d" d="M109.4 436.4l1.6-.3-1.7 .5-1.5 .3z"/>
<path fill="#ffed2c" d="M130 434.5l1.6-.9-1.6 .1-1.6 .8z"/>
<path fill="#fce026" d="M126.9 433.3l1.5 0-1.6 .3-1.6 0z"/>
<path fill="#ffd33d" d="M114.1 442.5l1.6-2.3-1.6 .4-1.6 2.3z"/>
<path fill="#fcd82b" d="M112.6 435.7l1.5-.2-1.6 .4-1.5 .2z"/>
<path fill="#fbe225" d="M130 432.9l1.6 .1-1.6 .3-1.6 0z"/>
<path fill="#ffe233" d="M122.1 437.4l1.5-1.4-1.6 .3-1.5 1.4z"/>
<path fill="#fff12a" d="M133.2 433.7l1.6-.6-1.7 0-1.5 .5z"/>
<path fill="#fad43d" d="M109.3 446l1.6-2.7-1.6 .4-1.6 2.7z"/>
<path fill="#fcda29" d="M115.7 435.1l1.6-.2-1.6 .4-1.6 .2z"/>
<path fill="#fbe324" d="M133.2 432.7l1.6 .1-1.7 .3-1.5-.1z"/>
<path fill="#fdd12f" d="M104.6 437.7l1.6-.4-1.6 .5-1.6 .3z"/>
<path fill="#fcdd28" d="M118.9 434.5l1.6-.1-1.7 .4-1.5 .1z"/>
<path fill="#ffe92e" d="M125.2 435.8l1.6-1.1-1.6 .2-1.6 1.1z"/>
<path fill="#ffda38" d="M117.3 439.9l1.5-1.8-1.6 .3-1.5 1.8z"/>
<path fill="#fdd52d" d="M107.8 436.9l1.5-.3-1.6 .4-1.5 .3z"/>
<path fill="#fcdf27" d="M122.1 434l1.5 0-1.6 .4-1.5 0z"/>
<path fill="#fce025" d="M125.2 433.6l1.6 0-1.6 .4-1.6 0z"/>
<path fill="#ffd33d" d="M112.5 442.9l1.6-2.3-1.7 .4-1.5 2.3z"/>
<path fill="#ffef2b" d="M128.4 434.5l1.6-.8-1.6 .1-1.6 .9z"/>
<path fill="#fcd82b" d="M111 436.1l1.5-.2-1.6 .5-1.6 .2z"/>
<path fill="#ffe332" d="M120.5 437.7l1.5-1.4-1.6 .3-1.6 1.5z"/>
<path fill="#fad43d" d="M107.7 446.4l1.6-2.7-1.6 .4-1.6 2.7z"/>
<path fill="#fcda29" d="M114.1 435.5l1.6-.2-1.6 .5-1.6 .1z"/>
<path fill="#fff328" d="M131.6 433.6l1.5-.5-1.6 0-1.5 .6z"/>
<path fill="#fbe324" d="M131.6 433l1.5 .1-1.6 .3-1.5-.1z"/>
<path fill="#fcdd28" d="M117.3 434.9l1.5-.1-1.6 .4-1.5 .1z"/>
<path fill="#ffda38" d="M115.7 440.2l1.5-1.8-1.6 .4-1.5 1.8z"/>
<path fill="#ffea2e" d="M123.6 436l1.6-1.1-1.6 .3-1.6 1.1z"/>
<path fill="#fdd52d" d="M106.2 437.3l1.5-.3-1.6 .5-1.5 .3z"/>
<path fill="#fcdf26" d="M120.5 434.4l1.5 0-1.6 .4-1.6 0z"/>
<path fill="#fce125" d="M123.6 434l1.6 0-1.6 .4-1.6 0z"/>
<path fill="#ffd33d" d="M110.9 443.3l1.5-2.3-1.6 .4-1.5 2.3z"/>
<path fill="#fcd82b" d="M109.3 436.6l1.6-.2-1.6 .4-1.6 .2z"/>
<path fill="#fff02a" d="M126.8 434.7l1.6-.9-1.7 .3-1.5 .8z"/>
<path fill="#fbe224" d="M126.8 433.6l1.6 .1-1.7 .3-1.5 0z"/>
<path fill="#ffe432" d="M118.8 438.1l1.6-1.5-1.6 .4-1.6 1.4z"/>
<path fill="#fcdb29" d="M112.5 435.9l1.6-.1-1.7 .4-1.5 .2z"/>
<path fill="#fbe423" d="M130 433.3l1.5 .1-1.6 .4-1.5-.1z"/>
<path fill="#fff427" d="M130 433.7l1.5-.6-1.6 .2-1.5 .5z"/>
<path fill="#fcdd28" d="M115.7 435.3l1.5-.1-1.6 .4-1.5 .2z"/>
<path fill="#ffdb38" d="M114.1 440.6l1.5-1.8-1.6 .4-1.6 1.8z"/>
<path fill="#ffeb2d" d="M122 436.3l1.6-1.1-1.6 .3-1.6 1.1z"/>
<path fill="#fcdf26" d="M118.8 434.8l1.6 0-1.6 .4-1.6 0z"/>
<path fill="#fbe125" d="M122 434.4l1.6 0-1.6 .4-1.6 0z"/>
<path fill="#ffd33d" d="M109.3 443.7l1.5-2.3-1.6 .5-1.5 2.2z"/>
<path fill="#fcd82b" d="M107.7 437l1.6-.2-1.6 .5-1.6 .2z"/>
<path fill="#ffe432" d="M117.2 438.4l1.6-1.4-1.6 .3-1.6 1.5z"/>
<path fill="#fcdb29" d="M110.9 436.4l1.5-.2-1.6 .4-1.5 .2z"/>
<path fill="#fbe423" d="M128.4 433.7l1.5 .1-1.6 .3-1.6-.1z"/>
<path fill="#fff626" d="M128.4 433.8l1.5-.5-1.6 .2-1.6 .6z"/>
<path fill="#fcdd28" d="M114.1 435.8l1.5-.2-1.6 .5-1.6 .1z"/>
<path fill="#ffdb37" d="M112.4 441l1.6-1.8-1.6 .4-1.6 1.8z"/>
<path fill="#ffec2d" d="M120.4 436.6l1.6-1.1-1.7 .3-1.5 1.2z"/>
<path fill="#fcdf26" d="M117.2 435.2l1.6 0-1.6 .4-1.6 0z"/>
<path fill="#fbe125" d="M120.4 434.8l1.6 0-1.7 .4-1.5 0z"/>
<path fill="#ffe431" d="M115.6 438.8l1.6-1.5-1.6 .4-1.6 1.5z"/>
<path fill="#fcdb29" d="M109.3 436.8l1.5-.2-1.6 .5-1.5 .2z"/>
<path fill="#fbe523" d="M126.7 434l1.6 .1-1.6 .4-1.6-.1z"/>
<path fill="#fff726" d="M126.7 434.1l1.6-.6-1.6 .3-1.6 .5z"/>
<path fill="#fcdd28" d="M112.4 436.2l1.6-.1-1.6 .4-1.6 .1z"/>
<path fill="#ffdb37" d="M110.8 441.4l1.6-1.8-1.6 .4-1.6 1.9z"/>
<path fill="#ffec2c" d="M118.8 437l1.5-1.2-1.6 .4-1.5 1.1z"/>
<path fill="#fce026" d="M115.6 435.6l1.6 0-1.6 .4-1.6 .1z"/>
<path fill="#fbe225" d="M118.8 435.2l1.5 0-1.6 .4-1.5 0z"/>
<path fill="#fbe324" d="M122 434.8l1.5 0-1.6 .4-1.6 0z"/>
<path fill="#ffe531" d="M114 439.2l1.6-1.5-1.7 .5-1.5 1.4z"/>
<path fill="#fbe523" d="M125.1 434.4l1.6 .1-1.6 .4-1.6-.1z"/>
<path fill="#fff725" d="M125.1 434.3l1.6-.5-1.6 .3-1.6 .6z"/>
<path fill="#fcdd27" d="M110.8 436.6l1.6-.1-1.6 .5-1.6 .1z"/>
<path fill="#ffec2c" d="M117.2 437.3l1.5-1.1-1.6 .4-1.5 1.1z"/>
<path fill="#fce026" d="M114 436.1l1.6-.1-1.7 .5-1.5 0z"/>
<path fill="#fbe225" d="M117.2 435.6l1.5 0-1.6 .4-1.5 0z"/>
<path fill="#ffe531" d="M112.4 439.6l1.5-1.4-1.6 .4-1.5 1.4z"/>
<path fill="#fbe522" d="M123.5 434.8l1.6 .1-1.6 .4-1.6-.1z"/>
<path fill="#fff825" d="M123.5 434.7l1.6-.6-1.6 .3-1.6 .6z"/>
<path fill="#ffed2c" d="M115.6 437.7l1.5-1.1-1.6 .4-1.6 1.2z"/>
<path fill="#fce026" d="M112.4 436.5l1.5 0-1.6 .4-1.5 .1z"/>
<path fill="#fbe225" d="M115.6 436l1.5 0-1.6 .5-1.6 0z"/>
<path fill="#fbe423" d="M118.7 435.6l1.6 0-1.6 .4-1.6 0z"/>
<path fill="#fbe522" d="M121.9 435.2l1.6 .1-1.7 .4-1.5-.1z"/>
<path fill="#fff825" d="M121.9 435l1.6-.6-1.7 .4-1.5 .6z"/>
<path fill="#ffed2c" d="M113.9 438.2l1.6-1.2-1.6 .5-1.6 1.1z"/>
<path fill="#fbe225" d="M113.9 436.5l1.6 0-1.6 .4-1.6 0z"/>
<path fill="#fbe423" d="M117.1 436l1.6 0-1.6 .5-1.6 0z"/>
<path fill="#fbe522" d="M120.3 435.6l1.5 .1-1.6 .4-1.5-.1z"/>
<path fill="#fff924" d="M120.3 435.4l1.5-.6-1.6 .4-1.5 .6z"/>
<path fill="#fff428" d="M115.5 437l1.6-.8-1.7 .4-1.5 .9z"/>
<path fill="#fbe423" d="M115.5 436.5l1.6 0-1.7 .4-1.5 0z"/>
<path fill="#fbe622" d="M118.7 436l1.5 .1-1.6 .5-1.5-.1z"/>
<path fill="#fff924" d="M118.7 435.8l1.5-.6-1.6 .4-1.5 .6z"/>
<path fill="#fbe622" d="M117.1 436.5l1.5 .1-1.6 .4-1.6-.1z"/>
<path fill="#fff924" d="M117.1 436.2l1.5-.6-1.6 .5-1.6 .5z"/>
</g>
<path fill="#97971f" d="M43.9 408L106.8 390.2Q119.7 386.6 129.2 389.7L192.9 410.5L117 431.9Z"/>
<path d="M43.5 409.2C60 404.2 85 397.6 100 395.6S112 394.6 116.8 394.7S134 396 140 397.4S170 404.6 191 411" fill="none" stroke="#55550a" stroke-width=".5" stroke-opacity=".55"/>
<line x1="39.2" y1="508" x2="37.2" y2="508" stroke="#262626" stroke-width="0.5" />
<text x="35.4" y="509.9" font-size="5.3" text-anchor="end" font-family='"Liberation Sans", sans-serif' fill="#262626" >0</text>
<line x1="39.2" y1="487.7" x2="37.2" y2="487.7" stroke="#262626" stroke-width="0.5" />
<text x="35.4" y="489.6" font-size="5.3" text-anchor="end" font-family='"Liberation Sans", sans-serif' fill="#262626" >0.2</text>
<line x1="39.2" y1="467.4" x2="37.2" y2="467.4" stroke="#262626" stroke-width="0.5" />
<text x="35.4" y="469.3" font-size="5.3" text-anchor="end" font-family='"Liberation Sans", sans-serif' fill="#262626" >0.4</text>
<line x1="39.2" y1="447.1" x2="37.2" y2="447.1" stroke="#262626" stroke-width="0.5" />
<text x="35.4" y="449" font-size="5.3" text-anchor="end" font-family='"Liberation Sans", sans-serif' fill="#262626" >0.6</text>
<line x1="39.2" y1="426.8" x2="37.2" y2="426.8" stroke="#262626" stroke-width="0.5" />
<text x="35.4" y="428.7" font-size="5.3" text-anchor="end" font-family='"Liberation Sans", sans-serif' fill="#262626" >0.8</text>
<line x1="39.2" y1="406.5" x2="37.2" y2="406.5" stroke="#262626" stroke-width="0.5" />
<text x="35.4" y="408.4" font-size="5.3" text-anchor="end" font-family='"Liberation Sans", sans-serif' fill="#262626" >1</text>
<line x1="39.2" y1="508" x2="38" y2="509.8" stroke="#262626" stroke-width="0.5" />
<text x="30.5" y="515" font-size="5" text-anchor="middle" font-family='"Liberation Sans", sans-serif' fill="#262626" >0</text>
<line x1="54.8" y1="513.1" x2="53.6" y2="514.9" stroke="#262626" stroke-width="0.5" />
<text x="46.1" y="520.1" font-size="5" text-anchor="middle" font-family='"Liberation Sans", sans-serif' fill="#262626" >2</text>
<line x1="70.3" y1="518.2" x2="69.1" y2="520" stroke="#262626" stroke-width="0.5" />
<text x="61.6" y="525.2" font-size="5" text-anchor="middle" font-family='"Liberation Sans", sans-serif' fill="#262626" >4</text>
<line x1="85.9" y1="523.2" x2="84.7" y2="525" stroke="#262626" stroke-width="0.5" />
<text x="77.2" y="530.2" font-size="5" text-anchor="middle" font-family='"Liberation Sans", sans-serif' fill="#262626" >6</text>
<line x1="101.4" y1="528.3" x2="100.2" y2="530.1" stroke="#262626" stroke-width="0.5" />
<text x="92.7" y="535.3" font-size="5" text-anchor="middle" font-family='"Liberation Sans", sans-serif' fill="#262626" >8</text>
<line x1="117" y1="533.4" x2="115.8" y2="535.2" stroke="#262626" stroke-width="0.5" />
<text x="108.3" y="540.4" font-size="5" text-anchor="middle" font-family='"Liberation Sans", sans-serif' fill="#262626" >10</text>
<line x1="197.7" y1="510.6" x2="198.9" y2="512.4" stroke="#262626" stroke-width="0.5" />
<text x="204.2" y="517.4" font-size="5" text-anchor="middle" font-family='"Liberation Sans", sans-serif' fill="#262626" >0</text>
<line x1="181.6" y1="515.2" x2="182.8" y2="517" stroke="#262626" stroke-width="0.5" />
<text x="188.1" y="522" font-size="5" text-anchor="middle" font-family='"Liberation Sans", sans-serif' fill="#262626" >60</text>
<line x1="165.4" y1="519.7" x2="166.6" y2="521.5" stroke="#262626" stroke-width="0.5" />
<text x="171.9" y="526.5" font-size="5" text-anchor="middle" font-family='"Liberation Sans", sans-serif' fill="#262626" >120</text>
<line x1="149.3" y1="524.3" x2="150.5" y2="526.1" stroke="#262626" stroke-width="0.5" />
<text x="155.8" y="531.1" font-size="5" text-anchor="middle" font-family='"Liberation Sans", sans-serif' fill="#262626" >180</text>
<line x1="133.1" y1="528.8" x2="134.3" y2="530.6" stroke="#262626" stroke-width="0.5" />
<text x="139.6" y="535.6" font-size="5" text-anchor="middle" font-family='"Liberation Sans", sans-serif' fill="#262626" >240</text>
<line x1="117" y1="533.4" x2="118.2" y2="535.2" stroke="#262626" stroke-width="0.5" />
<text x="123.5" y="540.2" font-size="5" text-anchor="middle" font-family='"Liberation Sans", sans-serif' fill="#262626" >300</text>
<text transform="translate(22.2,456.4) rotate(-90)" font-size="6.75" text-anchor="middle" font-family='"Liberation Serif", serif' fill="#262626" >Exceedance Probability</text>
<text transform="translate(72.6,537.2) rotate(19.8)" font-size="7" text-anchor="middle" font-family='"Liberation Serif", serif' fill="#262626" >Flood Depth (m)</text>
<text transform="translate(173.9,536.3) rotate(-19.4)" font-size="6.85" text-anchor="middle" font-family='"Liberation Serif", serif' fill="#262626" >Flood Duration (hr)</text>
<text x="59.5" y="393.2" font-size="11.3" text-anchor="start" font-family='"Liberation Serif", serif' fill="#000" font-weight="bold">(e)</text>
<line x1="243" y1="496" x2="334.8" y2="468.9" stroke="#d9d9d9" stroke-width="0.4" />
<line x1="334.8" y1="468.9" x2="405.8" y2="505.3" stroke="#d9d9d9" stroke-width="0.4" />
<line x1="243" y1="479.2" x2="334.8" y2="452.1" stroke="#d9d9d9" stroke-width="0.4" />
<line x1="334.8" y1="452.1" x2="405.8" y2="488.5" stroke="#d9d9d9" stroke-width="0.4" />
<line x1="243" y1="462.4" x2="334.8" y2="435.3" stroke="#d9d9d9" stroke-width="0.4" />
<line x1="334.8" y1="435.3" x2="405.8" y2="471.7" stroke="#d9d9d9" stroke-width="0.4" />
<line x1="243" y1="445.6" x2="334.8" y2="418.5" stroke="#d9d9d9" stroke-width="0.4" />
<line x1="334.8" y1="418.5" x2="405.8" y2="454.9" stroke="#d9d9d9" stroke-width="0.4" />
<line x1="243" y1="428.8" x2="334.8" y2="401.7" stroke="#d9d9d9" stroke-width="0.4" />
<line x1="334.8" y1="401.7" x2="405.8" y2="438.1" stroke="#d9d9d9" stroke-width="0.4" />
<line x1="243" y1="412" x2="334.8" y2="384.9" stroke="#d9d9d9" stroke-width="0.4" />
<line x1="334.8" y1="384.9" x2="405.8" y2="421.3" stroke="#d9d9d9" stroke-width="0.4" />
<line x1="243" y1="496" x2="243" y2="412" stroke="#d9d9d9" stroke-width="0.4" />
<line x1="243" y1="496" x2="314" y2="532.4" stroke="#d9d9d9" stroke-width="0.4" />
<line x1="261.4" y1="490.6" x2="261.4" y2="406.6" stroke="#d9d9d9" stroke-width="0.4" />
<line x1="261.4" y1="490.6" x2="332.4" y2="527" stroke="#d9d9d9" stroke-width="0.4" />
<line x1="279.7" y1="485.2" x2="279.7" y2="401.2" stroke="#d9d9d9" stroke-width="0.4" />
<line x1="279.7" y1="485.2" x2="350.7" y2="521.6" stroke="#d9d9d9" stroke-width="0.4" />
<line x1="298.1" y1="479.7" x2="298.1" y2="395.7" stroke="#d9d9d9" stroke-width="0.4" />
<line x1="298.1" y1="479.7" x2="369.1" y2="516.1" stroke="#d9d9d9" stroke-width="0.4" />
<line x1="316.4" y1="474.3" x2="316.4" y2="390.3" stroke="#d9d9d9" stroke-width="0.4" />
<line x1="316.4" y1="474.3" x2="387.4" y2="510.7" stroke="#d9d9d9" stroke-width="0.4" />
<line x1="334.8" y1="468.9" x2="334.8" y2="384.9" stroke="#d9d9d9" stroke-width="0.4" />
<line x1="334.8" y1="468.9" x2="405.8" y2="505.3" stroke="#d9d9d9" stroke-width="0.4" />
<line x1="405.8" y1="505.3" x2="405.8" y2="421.3" stroke="#d9d9d9" stroke-width="0.4" />
<line x1="314" y1="532.4" x2="405.8" y2="505.3" stroke="#d9d9d9" stroke-width="0.4" />
<line x1="391.6" y1="498" x2="391.6" y2="414" stroke="#d9d9d9" stroke-width="0.4" />
<line x1="299.8" y1="525.1" x2="391.6" y2="498" stroke="#d9d9d9" stroke-width="0.4" />
<line x1="377.4" y1="490.8" x2="377.4" y2="406.8" stroke="#d9d9d9" stroke-width="0.4" />
<line x1="285.6" y1="517.8" x2="377.4" y2="490.8" stroke="#d9d9d9" stroke-width="0.4" />
<line x1="363.2" y1="483.5" x2="363.2" y2="399.5" stroke="#d9d9d9" stroke-width="0.4" />
<line x1="271.4" y1="510.6" x2="363.2" y2="483.5" stroke="#d9d9d9" stroke-width="0.4" />
<line x1="349" y1="476.2" x2="349" y2="392.2" stroke="#d9d9d9" stroke-width="0.4" />
<line x1="257.2" y1="503.3" x2="349" y2="476.2" stroke="#d9d9d9" stroke-width="0.4" />
<line x1="334.8" y1="468.9" x2="334.8" y2="384.9" stroke="#d9d9d9" stroke-width="0.4" />
<line x1="243" y1="496" x2="334.8" y2="468.9" stroke="#d9d9d9" stroke-width="0.4" />
<line x1="243" y1="496" x2="243" y2="412" stroke="#262626" stroke-width="0.5" />
<line x1="243" y1="496" x2="314" y2="532.4" stroke="#262626" stroke-width="0.5" />
<line x1="314" y1="532.4" x2="405.8" y2="505.3" stroke="#262626" stroke-width="0.5" />
<g stroke="#000" stroke-width=".3" stroke-opacity=".8" stroke-linejoin="round">
<path fill="#f9fb15" d="M334.4 387.1l-1.5-1.2 1.9-.6 1.5 1.2z"/>
<path fill="#f9fb15" d="M332.5 387.7l-1.5-1.2 1.9-.6 1.5 1.2z"/>
<path fill="#f9fb15" d="M335.8 388.4l-1.4-1.3 1.9-.6 1.5 1.4z"/>
<path fill="#f9fb15" d="M330.5 388.3l-1.4-1.3 1.9-.5 1.5 1.2z"/>
<path fill="#f9fb15" d="M333.9 389l-1.4-1.3 1.9-.6 1.4 1.3z"/>
<path fill="#f9fb15" d="M337.3 389.8l-1.5-1.4 2-.5 1.4 1.4z"/>
<path fill="#f9fb15" d="M328.6 388.8l-1.4-1.2 1.9-.6 1.4 1.3z"/>
<path fill="#f9fb15" d="M332 389.6l-1.5-1.3 2-.6 1.4 1.3z"/>
<path fill="#f9fb15" d="M335.4 390.4l-1.5-1.4 1.9-.6 1.5 1.4z"/>
<path fill="#f9fb15" d="M338.8 391.3l-1.5-1.5 1.9-.5 1.5 1.5z"/>
<path fill="#f9fb15" d="M326.7 389.4l-1.5-1.2 2-.6 1.4 1.2z"/>
<path fill="#f9fb15" d="M330.1 390.2l-1.5-1.4 1.9-.5 1.5 1.3z"/>
<path fill="#f9fb15" d="M333.5 391l-1.5-1.4 1.9-.6 1.5 1.4z"/>
<path fill="#f9fb15" d="M336.9 391.9l-1.5-1.5 1.9-.6 1.5 1.5z"/>
<path fill="#f9f915" d="M340.3 392.9l-1.5-1.6 1.9-.5 1.5 1.6z"/>
<path fill="#f9fb15" d="M324.8 390.1l-1.5-1.2 1.9-.7 1.5 1.2z"/>
<path fill="#f9fb15" d="M328.2 390.8l-1.5-1.4 1.9-.6 1.5 1.4z"/>
<path fill="#f9fb15" d="M331.6 391.6l-1.5-1.4 1.9-.6 1.5 1.4z"/>
<path fill="#f9fb15" d="M335 392.5l-1.5-1.5 1.9-.6 1.5 1.5z"/>
<path fill="#f9f915" d="M338.4 393.5l-1.5-1.6 1.9-.6 1.5 1.6z"/>
<path fill="#faf518" d="M341.8 394.6l-1.5-1.7 1.9-.5 1.5 1.7z"/>
<path fill="#f9fb15" d="M322.9 390.7l-1.5-1.2 1.9-.6 1.5 1.2z"/>
<path fill="#f9fb15" d="M326.3 391.4l-1.5-1.3 1.9-.7 1.5 1.4z"/>
<path fill="#f9fb15" d="M329.7 392.2l-1.5-1.4 1.9-.6 1.5 1.4z"/>
<path fill="#f9fb15" d="M333.1 393.1l-1.5-1.5 1.9-.6 1.5 1.5z"/>
<path fill="#f9f916" d="M336.5 394.1l-1.5-1.6 1.9-.6 1.5 1.6z"/>
<path fill="#faf518" d="M339.8 395.2l-1.4-1.7 1.9-.6 1.5 1.7z"/>
<path fill="#faf01c" d="M343.2 396.4l-1.4-1.8 1.9-.5 1.5 1.8z"/>
<path fill="#f9fb15" d="M321 391.5l-1.5-1.2 1.9-.8 1.5 1.2z"/>
<path fill="#f9fb15" d="M324.4 392.1l-1.5-1.4 1.9-.6 1.5 1.3z"/>
<path fill="#f9fb15" d="M327.8 392.8l-1.5-1.4 1.9-.6 1.5 1.4z"/>
<path fill="#f9fb15" d="M331.2 393.7l-1.5-1.5 1.9-.6 1.5 1.5z"/>
<path fill="#f9f916" d="M334.5 394.7l-1.4-1.6 1.9-.6 1.5 1.6z"/>
<path fill="#faf518" d="M337.9 395.8l-1.4-1.7 1.9-.6 1.4 1.7z"/>
<path fill="#fbea1f" d="M344.7 398.4l-1.5-2 2-.5 1.4 2z"/>
<path fill="#faf01c" d="M341.3 397l-1.5-1.8 2-.6 1.4 1.8z"/>
<path fill="#f9fb15" d="M319.1 392.3l-1.5-1.2 1.9-.8 1.5 1.2z"/>
<path fill="#f9fb15" d="M322.5 392.8l-1.5-1.3 1.9-.8 1.5 1.4z"/>
<path fill="#f9fb15" d="M325.8 393.5l-1.4-1.4 1.9-.7 1.5 1.4z"/>
<path fill="#f9fb15" d="M329.2 394.3l-1.4-1.5 1.9-.6 1.5 1.5z"/>
<path fill="#f9f916" d="M332.6 395.3l-1.4-1.6 1.9-.6 1.4 1.6z"/>
<path fill="#fbe324" d="M346.2 400.6l-1.5-2.2 1.9-.5 1.5 2.2z"/>
<path fill="#faf518" d="M336 396.4l-1.5-1.7 2-.6 1.4 1.7z"/>
<path fill="#fbea1f" d="M342.8 399l-1.5-2 1.9-.6 1.5 2z"/>
<path fill="#faf01c" d="M339.4 397.6l-1.5-1.8 1.9-.6 1.5 1.8z"/>
<path fill="#f9fb15" d="M317.2 393.3l-1.5-1.2 1.9-1 1.5 1.2z"/>
<path fill="#f9fb15" d="M320.5 393.6l-1.4-1.3 1.9-.8 1.5 1.3z"/>
<path fill="#f9fb15" d="M323.9 394.2l-1.4-1.4 1.9-.7 1.4 1.4z"/>
<path fill="#f9fb15" d="M327.3 394.9l-1.5-1.4 2-.7 1.4 1.5z"/>
<path fill="#fcdb29" d="M347.7 403l-1.5-2.4 1.9-.5 1.5 2.4z"/>
<path fill="#f9f916" d="M330.7 395.9l-1.5-1.6 2-.6 1.4 1.6z"/>
<path fill="#fbe324" d="M344.3 401.2l-1.5-2.2 1.9-.6 1.5 2.2z"/>
<path fill="#f9fb15" d="M315.2 394.5l-1.4-1.2 1.9-1.2 1.5 1.2z"/>
<path fill="#faf519" d="M334.1 397l-1.5-1.7 1.9-.6 1.5 1.7z"/>
<path fill="#fbea1f" d="M340.9 399.6l-1.5-2 1.9-.6 1.5 2z"/>
<path fill="#faf01c" d="M337.5 398.2l-1.5-1.8 1.9-.6 1.5 1.8z"/>
<path fill="#f9fb15" d="M318.6 394.6l-1.4-1.3 1.9-1 1.4 1.3z"/>
<path fill="#f9fb15" d="M322 395l-1.5-1.4 2-.8 1.4 1.4z"/>
<path fill="#fdd32e" d="M349.2 405.5l-1.5-2.5 1.9-.5 1.5 2.4z"/>
<path fill="#f9fb15" d="M313.3 395.8l-1.5-1.1 2-1.4 1.4 1.2z"/>
<path fill="#f9fb15" d="M325.4 395.7l-1.5-1.5 1.9-.7 1.5 1.4z"/>
<path fill="#fcdb29" d="M345.8 403.6l-1.5-2.4 1.9-.6 1.5 2.4z"/>
<path fill="#f9f816" d="M328.8 396.5l-1.5-1.6 1.9-.6 1.5 1.6z"/>
<path fill="#fbe324" d="M342.4 401.8l-1.5-2.2 1.9-.6 1.5 2.2z"/>
<path fill="#faf419" d="M332.2 397.6l-1.5-1.7 1.9-.6 1.5 1.7z"/>
<path fill="#fbea1f" d="M339 400.1l-1.5-1.9 1.9-.6 1.5 2z"/>
<path fill="#faf01c" d="M335.6 398.8l-1.5-1.8 1.9-.6 1.5 1.8z"/>
<path fill="#f9fb15" d="M316.7 395.7l-1.5-1.2 2-1.2 1.4 1.3z"/>
<path fill="#feca34" d="M350.6 408.1l-1.4-2.6 1.9-.6 1.5 2.6z"/>
<path fill="#faf618" d="M311.4 397.5l-1.5-1.2 1.9-1.6 1.5 1.1z"/>
<path fill="#f9fb15" d="M320.1 396l-1.5-1.4 1.9-1 1.5 1.4z"/>
<path fill="#fdd32e" d="M347.2 406.1l-1.4-2.5 1.9-.6 1.5 2.5z"/>
<path fill="#f9fa15" d="M323.5 396.5l-1.5-1.5 1.9-.8 1.5 1.5z"/>
<path fill="#fcdb29" d="M343.9 404.2l-1.5-2.4 1.9-.6 1.5 2.4z"/>
<path fill="#f9f817" d="M326.9 397.3l-1.5-1.6 1.9-.8 1.5 1.6z"/>
<path fill="#f9f816" d="M314.8 397.1l-1.5-1.3 1.9-1.3 1.5 1.2z"/>
<path fill="#fbe324" d="M340.5 402.4l-1.5-2.3 1.9-.5 1.5 2.2z"/>
<path fill="#faf419" d="M330.3 398.2l-1.5-1.7 1.9-.6 1.5 1.7z"/>
<path fill="#fbea20" d="M337.1 400.7l-1.5-1.9 1.9-.6 1.5 1.9z"/>
<path fill="#faef1c" d="M333.7 399.4l-1.5-1.8 1.9-.6 1.5 1.8z"/>
<path fill="#faef1c" d="M309.5 399.4l-1.5-1.1 1.9-2 1.5 1.2z"/>
<path fill="#fac338" d="M352.1 410.9l-1.5-2.8 2-.6 1.4 2.8z"/>
<path fill="#f9f916" d="M318.2 397.1l-1.5-1.4 1.9-1.1 1.5 1.4z"/>
<path fill="#feca34" d="M348.7 408.6l-1.5-2.5 2-.6 1.4 2.6z"/>
<path fill="#fbe721" d="M307.6 401.6l-1.5-1.1 1.9-2.2 1.5 1.1z"/>
<path fill="#f9f916" d="M321.6 397.4l-1.5-1.4 1.9-1 1.5 1.5z"/>
<path fill="#fdd32e" d="M345.3 406.6l-1.4-2.4 1.9-.6 1.4 2.5z"/>
<path fill="#faf319" d="M312.9 398.7l-1.5-1.2 1.9-1.7 1.5 1.3z"/>
<path fill="#faf617" d="M325 398.1l-1.5-1.6 1.9-.8 1.5 1.6z"/>
<path fill="#fcdb29" d="M341.9 404.7l-1.4-2.3 1.9-.6 1.5 2.4z"/>
<path fill="#eac438" d="M353.6 413.7l-1.5-2.8 1.9-.6 1.5 2.9z"/>
<path fill="#faf31a" d="M328.4 398.9l-1.5-1.6 1.9-.8 1.5 1.7z"/>
<path fill="#fbe324" d="M338.6 402.9l-1.5-2.2 1.9-.6 1.5 2.3z"/>
<path fill="#faef1c" d="M331.8 400l-1.5-1.8 1.9-.6 1.5 1.8z"/>
<path fill="#fcde27" d="M305.7 404.1l-1.5-1.1 1.9-2.5 1.5 1.1z"/>
<path fill="#fbe920" d="M335.2 401.3l-1.5-1.9 1.9-.6 1.5 1.9z"/>
<path fill="#faf518" d="M316.3 398.4l-1.5-1.3 1.9-1.4 1.5 1.4z"/>
<path fill="#fac338" d="M350.2 411.4l-1.5-2.8 1.9-.5 1.5 2.8z"/>
<path fill="#faed1e" d="M311 400.6l-1.5-1.2 1.9-1.9 1.5 1.2z"/>
<path fill="#fdd42e" d="M303.8 406.7l-1.5-1 1.9-2.7 1.5 1.1z"/>
<path fill="#feca34" d="M346.8 409.2l-1.5-2.6 1.9-.5 1.5 2.5z"/>
<path fill="#faf618" d="M319.7 398.6l-1.5-1.5 1.9-1.1 1.5 1.4z"/>
<path fill="#ddc538" d="M355.1 416.4l-1.5-2.7 1.9-.5 1.5 2.6z"/>
<path fill="#fdd32e" d="M343.4 407.2l-1.5-2.5 2-.5 1.4 2.4z"/>
<path fill="#fec934" d="M301.9 409.5l-1.5-1 1.9-2.8 1.5 1z"/>
<path fill="#faf519" d="M323.1 399l-1.5-1.6 1.9-.9 1.5 1.6z"/>
<path fill="#fbe522" d="M309.1 402.8l-1.5-1.2 1.9-2.2 1.5 1.2z"/>
<path fill="#fcdb29" d="M340 405.3l-1.4-2.4 1.9-.5 1.4 2.3z"/>
<path fill="#faf01b" d="M314.4 400l-1.5-1.3 1.9-1.6 1.5 1.3z"/>
<path fill="#eac438" d="M351.7 414.3l-1.5-2.9 1.9-.5 1.5 2.8z"/>
<path fill="#faf21a" d="M326.5 399.8l-1.5-1.7 1.9-.8 1.5 1.6z"/>
<path fill="#fbe224" d="M336.6 403.6l-1.4-2.3 1.9-.6 1.5 2.2z"/>
<path fill="#f6c438" d="M299.9 412.4l-1.4-1 1.9-2.9 1.5 1z"/>
<path fill="#faee1d" d="M329.9 400.7l-1.5-1.8 1.9-.7 1.5 1.8z"/>
<path fill="#fbe920" d="M333.2 402l-1.4-2 1.9-.6 1.5 1.9z"/>
<path fill="#fac338" d="M348.3 412l-1.5-2.8 1.9-.6 1.5 2.8z"/>
<path fill="#fcdc28" d="M307.2 405.2l-1.5-1.1 1.9-2.5 1.5 1.2z"/>
<path fill="#e6c438" d="M298 415.2l-1.4-1 1.9-2.8 1.4 1z"/>
<path fill="#faf21a" d="M317.8 399.9l-1.5-1.5 1.9-1.3 1.5 1.5z"/>
<path fill="#d2c538" d="M356.6 418.7l-1.5-2.3 1.9-.6 1.5 2.3z"/>
<path fill="#feca34" d="M344.9 409.8l-1.5-2.6 1.9-.6 1.5 2.6z"/>
<path fill="#fbea1f" d="M312.5 401.9l-1.5-1.3 1.9-1.9 1.5 1.3z"/>
<path fill="#ddc538" d="M353.2 417l-1.5-2.7 1.9-.6 1.5 2.7z"/>
<path fill="#d7c538" d="M296.1 417.8l-1.5-.9 2-2.7 1.4 1z"/>
<path fill="#faf21a" d="M321.2 400.1l-1.5-1.5 1.9-1.2 1.5 1.6z"/>
<path fill="#fdd22f" d="M305.2 407.8l-1.4-1.1 1.9-2.6 1.5 1.1z"/>
<path fill="#fdd22e" d="M341.5 407.8l-1.5-2.5 1.9-.6 1.5 2.5z"/>
<path fill="#faf01b" d="M324.6 400.7l-1.5-1.7 1.9-.9 1.5 1.7z"/>
<path fill="#fcdb29" d="M338.1 405.9l-1.5-2.3 2-.7 1.4 2.4z"/>
<path fill="#eac438" d="M349.8 414.9l-1.5-2.9 1.9-.6 1.5 2.9z"/>
<path fill="#faed1d" d="M327.9 401.5l-1.4-1.7 1.9-.9 1.5 1.8z"/>
<path fill="#fbe224" d="M334.7 404.2l-1.5-2.2 2-.7 1.4 2.3z"/>
<path fill="#cac539" d="M294.2 420.2l-1.5-.9 1.9-2.4 1.5 .9z"/>
<path fill="#fec835" d="M303.3 410.6l-1.4-1.1 1.9-2.8 1.4 1.1z"/>
<path fill="#fbe820" d="M331.3 402.7l-1.4-2 1.9-.7 1.4 2z"/>
<path fill="#faed1d" d="M315.9 401.4l-1.5-1.4 1.9-1.6 1.5 1.5z"/>
<path fill="#fbe324" d="M310.6 404l-1.5-1.2 1.9-2.2 1.5 1.3z"/>
<path fill="#f9c438" d="M346.4 412.6l-1.5-2.8 1.9-.6 1.5 2.8z"/>
<path fill="#f4c438" d="M301.4 413.4l-1.5-1 2-2.9 1.4 1.1z"/>
<path fill="#cac539" d="M358 420.5l-1.4-1.8 1.9-.6 1.4 1.8z"/>
<path fill="#d2c538" d="M354.6 419.2l-1.4-2.2 1.9-.6 1.5 2.3z"/>
<path fill="#faee1c" d="M319.2 401.4l-1.4-1.5 1.9-1.3 1.5 1.5z"/>
<path fill="#bec639" d="M292.3 422.4l-1.5-.9 1.9-2.2 1.5 .9z"/>
<path fill="#feca34" d="M343 410.4l-1.5-2.6 1.9-.6 1.5 2.6z"/>
<path fill="#fcda2a" d="M308.6 406.4l-1.4-1.2 1.9-2.4 1.5 1.2z"/>
<path fill="#e5c438" d="M299.5 416.1l-1.5-.9 1.9-2.8 1.5 1z"/>
<path fill="#ddc538" d="M351.2 417.5l-1.4-2.6 1.9-.6 1.5 2.7z"/>
<path fill="#fbe721" d="M313.9 403.3l-1.4-1.4 1.9-1.9 1.5 1.4z"/>
<path fill="#fdd22e" d="M339.6 408.4l-1.5-2.5 1.9-.6 1.5 2.5z"/>
<path fill="#faee1d" d="M322.6 401.8l-1.4-1.7 1.9-1.1 1.5 1.7z"/>
<path fill="#fcda29" d="M336.2 406.6l-1.5-2.4 1.9-.6 1.5 2.3z"/>
<path fill="#fbeb1e" d="M326 402.4l-1.4-1.7 1.9-.9 1.4 1.7z"/>
<path fill="#fdd030" d="M306.7 409l-1.5-1.2 2-2.6 1.4 1.2z"/>
<path fill="#eac438" d="M347.9 415.4l-1.5-2.8 1.9-.6 1.5 2.9z"/>
<path fill="#d6c538" d="M297.6 418.7l-1.5-.9 1.9-2.6 1.5 .9z"/>
<path fill="#fbe125" d="M332.8 404.9l-1.5-2.2 1.9-.7 1.5 2.2z"/>
<path fill="#fbe721" d="M329.4 403.5l-1.5-2 2-.8 1.4 2z"/>
<path fill="#b5c639" d="M290.4 424.3l-1.5-.8 1.9-2 1.5 .9z"/>
<path fill="#fbea1f" d="M317.3 402.9l-1.4-1.5 1.9-1.5 1.4 1.5z"/>
<path fill="#f9c438" d="M344.5 413.2l-1.5-2.8 1.9-.6 1.5 2.8z"/>
<path fill="#fce026" d="M312 405.4l-1.4-1.4 1.9-2.1 1.4 1.4z"/>
<path fill="#fec636" d="M304.8 411.7l-1.5-1.1 1.9-2.8 1.5 1.2z"/>
<path fill="#c9c639" d="M295.7 421.1l-1.5-.9 1.9-2.4 1.5 .9z"/>
<path fill="#c2c639" d="M359.5 422.4l-1.5-1.9 1.9-.6 1.5 1.9z"/>
<path fill="#cac539" d="M356.1 421.1l-1.5-1.9 2-.5 1.4 1.8z"/>
<path fill="#d2c538" d="M352.7 419.8l-1.5-2.3 2-.5 1.4 2.2z"/>
<path fill="#feca34" d="M341.1 411l-1.5-2.6 1.9-.6 1.5 2.6z"/>
<path fill="#fbea1f" d="M320.7 403l-1.5-1.6 2-1.3 1.4 1.7z"/>
<path fill="#f2c438" d="M302.9 414.5l-1.5-1.1 1.9-2.8 1.5 1.1z"/>
<path fill="#adc739" d="M288.5 425.9l-1.5-.8 1.9-1.6 1.5 .8z"/>
<path fill="#dcc538" d="M349.3 418.1l-1.4-2.7 1.9-.5 1.4 2.6z"/>
<path fill="#fdd22f" d="M337.7 409l-1.5-2.4 1.9-.7 1.5 2.5z"/>
<path fill="#fcd72b" d="M310.1 407.7l-1.5-1.3 2-2.4 1.4 1.4z"/>
<path fill="#bec639" d="M293.8 423.3l-1.5-.9 1.9-2.2 1.5 .9z"/>
<path fill="#fbe920" d="M324.1 403.5l-1.5-1.7 2-1.1 1.4 1.7z"/>
<path fill="#fbe423" d="M315.4 404.7l-1.5-1.4 2-1.9 1.4 1.5z"/>
<path fill="#fcda2a" d="M334.3 407.3l-1.5-2.4 1.9-.7 1.5 2.4z"/>
<path fill="#e3c438" d="M301 417.2l-1.5-1.1 1.9-2.7 1.5 1.1z"/>
<path fill="#fbe622" d="M327.5 404.4l-1.5-2 1.9-.9 1.5 2z"/>
<path fill="#fce025" d="M330.9 405.7l-1.5-2.2 1.9-.8 1.5 2.2z"/>
<path fill="#eac438" d="M345.9 416l-1.4-2.8 1.9-.6 1.5 2.8z"/>
<path fill="#fdce31" d="M308.2 410.2l-1.5-1.2 1.9-2.6 1.5 1.3z"/>
<path fill="#d5c538" d="M299.1 419.7l-1.5-1 1.9-2.6 1.5 1.1z"/>
<path fill="#f9c438" d="M342.6 413.7l-1.5-2.7 1.9-.6 1.5 2.8z"/>
<path fill="#fbe622" d="M318.8 404.5l-1.5-1.6 1.9-1.5 1.5 1.6z"/>
<path fill="#b7c639" d="M361 424.7l-1.5-2.3 1.9-.6 1.5 2.3z"/>
<path fill="#b4c639" d="M291.9 425.1l-1.5-.8 1.9-1.9 1.5 .9z"/>
<path fill="#a6c73d" d="M286.6 427.3l-1.5-.8 1.9-1.4 1.5 .8z"/>
<path fill="#c2c639" d="M357.6 422.9l-1.5-1.8 1.9-.6 1.5 1.9z"/>
<path fill="#cac539" d="M354.2 421.6l-1.5-1.8 1.9-.6 1.5 1.9z"/>
<path fill="#fcdd28" d="M313.5 406.8l-1.5-1.4 1.9-2.1 1.5 1.4z"/>
<path fill="#d2c538" d="M350.8 420.4l-1.5-2.3 1.9-.6 1.5 2.3z"/>
<path fill="#fec438" d="M306.3 412.9l-1.5-1.2 1.9-2.7 1.5 1.2z"/>
<path fill="#fec934" d="M339.2 411.6l-1.5-2.6 1.9-.6 1.5 2.6z"/>
<path fill="#fbe622" d="M322.2 404.7l-1.5-1.7 1.9-1.2 1.5 1.7z"/>
<path fill="#c8c639" d="M297.2 422.1l-1.5-1 1.9-2.4 1.5 1z"/>
<path fill="#dcc538" d="M347.4 418.7l-1.5-2.7 2-.6 1.4 2.7z"/>
<path fill="#fdd12f" d="M335.8 409.7l-1.5-2.4 1.9-.7 1.5 2.4z"/>
<path fill="#fbe324" d="M325.6 405.4l-1.5-1.9 1.9-1.1 1.5 2z"/>
<path fill="#fcd92a" d="M332.4 408l-1.5-2.3 1.9-.8 1.5 2.4z"/>
<path fill="#f0c438" d="M304.4 415.6l-1.5-1.1 1.9-2.8 1.5 1.2z"/>
<path fill="#97c74a" d="M362.5 429.1l-1.5-4.4 1.9-.6 1.5 4.4z"/>
<path fill="#fcdf26" d="M329 406.5l-1.5-2.1 1.9-.9 1.5 2.2z"/>
<path fill="#fdd42d" d="M311.6 409.1l-1.5-1.4 1.9-2.3 1.5 1.4z"/>
<path fill="#6ac76e" d="M364 434.3l-1.5-5.2 1.9-.6 1.5 5.3z"/>
<path fill="#eac438" d="M344 416.6l-1.4-2.9 1.9-.5 1.4 2.8z"/>
<path fill="#fce026" d="M316.9 406.3l-1.5-1.6 1.9-1.8 1.5 1.6z"/>
<path fill="#adc739" d="M289.9 426.8l-1.4-.9 1.9-1.6 1.5 .8z"/>
<path fill="#bdc639" d="M295.2 424.2l-1.4-.9 1.9-2.2 1.5 1z"/>
<path fill="#9fc743" d="M284.6 428.5l-1.4-.8 1.9-1.2 1.5 .8z"/>
<path fill="#e1c538" d="M302.5 418.2l-1.5-1 1.9-2.7 1.5 1.1z"/>
<path fill="#f9c438" d="M340.6 414.4l-1.4-2.8 1.9-.6 1.5 2.7z"/>
<path fill="#5bc87a" d="M365.4 436.5l-1.4-2.2 1.9-.5 1.4 2.2z"/>
<path fill="#fdcb33" d="M309.7 411.5l-1.5-1.3 1.9-2.5 1.5 1.4z"/>
<path fill="#b7c639" d="M359.1 425.2l-1.5-2.3 1.9-.5 1.5 2.3z"/>
<path fill="#fbe125" d="M320.3 406.2l-1.5-1.7 1.9-1.5 1.5 1.7z"/>
<path fill="#c2c639" d="M355.7 423.5l-1.5-1.9 1.9-.5 1.5 1.8z"/>
<path fill="#cac539" d="M352.3 422.2l-1.5-1.8 1.9-.6 1.5 1.8z"/>
<path fill="#d2c538" d="M348.9 420.9l-1.5-2.2 1.9-.6 1.5 2.3z"/>
<path fill="#fec934" d="M337.2 412.2l-1.4-2.5 1.9-.7 1.5 2.6z"/>
<path fill="#d3c538" d="M300.6 420.7l-1.5-1 1.9-2.5 1.5 1z"/>
<path fill="#fcd92a" d="M315 408.3l-1.5-1.5 1.9-2.1 1.5 1.6z"/>
<path fill="#fce025" d="M323.7 406.6l-1.5-1.9 1.9-1.2 1.5 1.9z"/>
<path fill="#fdd130" d="M333.9 410.5l-1.5-2.5 1.9-.7 1.5 2.4z"/>
<path fill="#b3c639" d="M293.3 426l-1.4-.9 1.9-1.8 1.4 .9z"/>
<path fill="#dcc538" d="M345.5 419.3l-1.5-2.7 1.9-.6 1.5 2.7z"/>
<path fill="#a5c73e" d="M288 428.1l-1.4-.8 1.9-1.4 1.4 .9z"/>
<path fill="#fcc338" d="M307.8 414.1l-1.5-1.2 1.9-2.7 1.5 1.3z"/>
<path fill="#fcd72b" d="M330.5 408.9l-1.5-2.4 1.9-.8 1.5 2.3z"/>
<path fill="#fcdd28" d="M327.1 407.5l-1.5-2.1 1.9-1 1.5 2.1z"/>
<path fill="#97c74a" d="M360.6 429.7l-1.5-4.5 1.9-.5 1.5 4.4z"/>
<path fill="#6ac76e" d="M362 434.9l-1.4-5.2 1.9-.6 1.5 5.2z"/>
<path fill="#c6c639" d="M298.6 423l-1.4-.9 1.9-2.4 1.5 1z"/>
<path fill="#eac438" d="M342.1 417.2l-1.5-2.8 2-.7 1.4 2.9z"/>
<path fill="#9bc746" d="M282.7 429.5l-1.5-.8 2-1 1.4 .8z"/>
<path fill="#fcdc28" d="M318.4 407.9l-1.5-1.6 1.9-1.8 1.5 1.7z"/>
<path fill="#edc438" d="M305.9 416.7l-1.5-1.1 1.9-2.7 1.5 1.2z"/>
<path fill="#fdd12f" d="M313.1 410.5l-1.5-1.4 1.9-2.3 1.5 1.5z"/>
<path fill="#f8c438" d="M338.7 415l-1.5-2.8 2-.6 1.4 2.8z"/>
<path fill="#acc739" d="M291.4 427.6l-1.5-.8 2-1.7 1.4 .9z"/>
<path fill="#52c881" d="M366.9 438.2l-1.5-1.7 1.9-.5 1.5 1.6z"/>
<path fill="#5bc87a" d="M363.5 437.1l-1.5-2.2 2-.6 1.4 2.2z"/>
<path fill="#b7c639" d="M357.2 425.8l-1.5-2.3 1.9-.6 1.5 2.3z"/>
<path fill="#dec538" d="M303.9 419.3l-1.4-1.1 1.9-2.6 1.5 1.1z"/>
<path fill="#fcdc28" d="M321.8 408l-1.5-1.8 1.9-1.5 1.5 1.9z"/>
<path fill="#bbc639" d="M296.7 425.1l-1.5-.9 2-2.1 1.4 .9z"/>
<path fill="#c2c639" d="M353.8 424.1l-1.5-1.9 1.9-.6 1.5 1.9z"/>
<path fill="#cac539" d="M350.4 422.8l-1.5-1.9 1.9-.5 1.5 1.8z"/>
<path fill="#fec835" d="M335.3 413l-1.4-2.5 1.9-.8 1.4 2.5z"/>
<path fill="#9fc743" d="M286.1 429.3l-1.5-.8 2-1.2 1.4 .8z"/>
<path fill="#d2c538" d="M347 421.5l-1.5-2.2 1.9-.6 1.5 2.2z"/>
<path fill="#fec835" d="M311.2 412.9l-1.5-1.4 1.9-2.4 1.5 1.4z"/>
<path fill="#fdcf30" d="M331.9 411.3l-1.4-2.4 1.9-.9 1.5 2.5z"/>
<path fill="#fcda2a" d="M325.2 408.7l-1.5-2.1 1.9-1.2 1.5 2.1z"/>
<path fill="#fdd52c" d="M328.6 409.8l-1.5-2.3 1.9-1 1.5 2.4z"/>
<path fill="#fdd52d" d="M316.5 409.8l-1.5-1.5 1.9-2 1.5 1.6z"/>
<path fill="#dcc538" d="M343.6 419.9l-1.5-2.7 1.9-.6 1.5 2.7z"/>
<path fill="#d1c538" d="M302 421.7l-1.4-1 1.9-2.5 1.4 1.1z"/>
<path fill="#97c749" d="M280.8 430.5l-1.5-.8 1.9-1 1.5 .8z"/>
<path fill="#97c74a" d="M358.6 430.2l-1.4-4.4 1.9-.6 1.5 4.5z"/>
<path fill="#f8c438" d="M309.2 415.4l-1.4-1.3 1.9-2.6 1.5 1.4z"/>
<path fill="#6ac76e" d="M360.1 435.4l-1.5-5.2 2-.5 1.4 5.2z"/>
<path fill="#e9c438" d="M340.2 417.8l-1.5-2.8 1.9-.6 1.5 2.8z"/>
<path fill="#b3c639" d="M294.8 426.9l-1.5-.9 1.9-1.8 1.5 .9z"/>
<path fill="#a4c73e" d="M289.5 428.9l-1.5-.8 1.9-1.3 1.5 .8z"/>
<path fill="#fcd72b" d="M319.9 409.7l-1.5-1.8 1.9-1.7 1.5 1.8z"/>
<path fill="#fdce31" d="M314.6 412l-1.5-1.5 1.9-2.2 1.5 1.5z"/>
<path fill="#c5c639" d="M300.1 424l-1.5-1 2-2.3 1.4 1z"/>
<path fill="#f7c438" d="M336.8 415.7l-1.5-2.7 1.9-.8 1.5 2.8z"/>
<path fill="#eac438" d="M307.3 417.9l-1.4-1.2 1.9-2.6 1.4 1.3z"/>
<path fill="#9ac747" d="M284.2 430.3l-1.5-.8 1.9-1 1.5 .8z"/>
<path fill="#52c881" d="M365 438.8l-1.5-1.7 1.9-.6 1.5 1.7z"/>
<path fill="#5bc87a" d="M361.6 437.7l-1.5-2.3 1.9-.5 1.5 2.2z"/>
<path fill="#b7c639" d="M355.3 426.4l-1.5-2.3 1.9-.6 1.5 2.3z"/>
<path fill="#fcd62c" d="M323.2 410.1l-1.4-2.1 1.9-1.4 1.5 2.1z"/>
<path fill="#49c888" d="M368.4 439.8l-1.5-1.6 1.9-.6 1.5 1.6z"/>
<path fill="#fec736" d="M333.4 413.7l-1.5-2.4 2-.8 1.4 2.5z"/>
<path fill="#cac539" d="M348.5 423.4l-1.5-1.9 1.9-.6 1.5 1.9z"/>
<path fill="#c2c639" d="M351.9 424.6l-1.5-1.8 1.9-.6 1.5 1.9z"/>
<path fill="#d1c538" d="M345.1 422.1l-1.5-2.2 1.9-.6 1.5 2.2z"/>
<path fill="#fdce31" d="M330 412.2l-1.4-2.4 1.9-.9 1.4 2.4z"/>
<path fill="#fdd32e" d="M326.6 410.9l-1.4-2.2 1.9-1.2 1.5 2.3z"/>
<path fill="#abc739" d="M292.9 428.4l-1.5-.8 1.9-1.6 1.5 .9z"/>
<path fill="#dcc538" d="M305.4 420.4l-1.5-1.1 2-2.6 1.4 1.2z"/>
<path fill="#fec537" d="M312.6 414.3l-1.4-1.4 1.9-2.4 1.5 1.5z"/>
<path fill="#dcc538" d="M341.7 420.5l-1.5-2.7 1.9-.6 1.5 2.7z"/>
<path fill="#bac639" d="M298.2 426l-1.5-.9 1.9-2.1 1.5 1z"/>
<path fill="#fdd12f" d="M317.9 411.5l-1.4-1.7 1.9-1.9 1.5 1.8z"/>
<path fill="#94c74c" d="M278.9 431.3l-1.5-.7 1.9-.9 1.5 .8z"/>
<path fill="#9fc743" d="M287.6 430.1l-1.5-.8 1.9-1.2 1.5 .8z"/>
<path fill="#97c74a" d="M356.7 430.8l-1.4-4.4 1.9-.6 1.4 4.4z"/>
<path fill="#e8c438" d="M338.3 418.5l-1.5-2.8 1.9-.7 1.5 2.8z"/>
<path fill="#6ac76e" d="M358.2 436l-1.5-5.2 1.9-.6 1.5 5.2z"/>
<path fill="#cfc538" d="M303.5 422.8l-1.5-1.1 1.9-2.4 1.5 1.1z"/>
<path fill="#f4c438" d="M310.7 416.7l-1.5-1.3 2-2.5 1.4 1.4z"/>
<path fill="#fdd12f" d="M321.3 411.6l-1.4-1.9 1.9-1.7 1.4 2.1z"/>
<path fill="#f6c438" d="M334.9 416.5l-1.5-2.8 1.9-.7 1.5 2.7z"/>
<path fill="#97c74a" d="M282.3 431.2l-1.5-.7 1.9-1 1.5 .8z"/>
<path fill="#feca34" d="M316 413.6l-1.4-1.6 1.9-2.2 1.4 1.7z"/>
<path fill="#b2c639" d="M296.3 427.8l-1.5-.9 1.9-1.8 1.5 .9z"/>
<path fill="#fdcf30" d="M324.7 412.2l-1.5-2.1 2-1.4 1.4 2.2z"/>
<path fill="#fec637" d="M331.5 414.6l-1.5-2.4 1.9-.9 1.5 2.4z"/>
<path fill="#52c881" d="M363.1 439.3l-1.5-1.6 1.9-.6 1.5 1.7z"/>
<path fill="#a4c73f" d="M291 429.8l-1.5-.9 1.9-1.3 1.5 .8z"/>
<path fill="#5bc87a" d="M359.7 438.2l-1.5-2.2 1.9-.6 1.5 2.3z"/>
<path fill="#fecb33" d="M328.1 413.3l-1.5-2.4 2-1.1 1.4 2.4z"/>
<path fill="#b7c639" d="M353.3 426.9l-1.4-2.3 1.9-.5 1.5 2.3z"/>
<path fill="#49c888" d="M366.5 440.4l-1.5-1.6 1.9-.6 1.5 1.6z"/>
<path fill="#cac539" d="M346.6 423.9l-1.5-1.8 1.9-.6 1.5 1.9z"/>
<path fill="#c2c639" d="M350 425.2l-1.5-1.8 1.9-.6 1.5 1.8z"/>
<path fill="#e6c438" d="M308.8 419.2l-1.5-1.3 1.9-2.5 1.5 1.3z"/>
<path fill="#40c890" d="M369.9 441.5l-1.5-1.7 1.9-.6 1.5 1.7z"/>
<path fill="#d1c538" d="M343.2 422.7l-1.5-2.2 1.9-.6 1.5 2.2z"/>
<path fill="#c3c639" d="M301.6 425l-1.5-1 1.9-2.3 1.5 1.1z"/>
<path fill="#dbc538" d="M339.8 421.2l-1.5-2.7 1.9-.7 1.5 2.7z"/>
<path fill="#9ac747" d="M285.7 431.1l-1.5-.8 1.9-1 1.5 .8z"/>
<path fill="#91c74e" d="M277 432.2l-1.5-.8 1.9-.8 1.5 .7z"/>
<path fill="#fdcb33" d="M319.4 413.4l-1.5-1.9 2-1.8 1.4 1.9z"/>
<path fill="#fcc338" d="M314.1 415.8l-1.5-1.5 2-2.3 1.4 1.6z"/>
<path fill="#d9c538" d="M306.9 421.6l-1.5-1.2 1.9-2.5 1.5 1.3z"/>
<path fill="#e7c438" d="M336.4 419.3l-1.5-2.8 1.9-.8 1.5 2.8z"/>
<path fill="#97c74a" d="M354.8 431.4l-1.5-4.5 2-.5 1.4 4.4z"/>
<path fill="#abc739" d="M294.4 429.3l-1.5-.9 1.9-1.5 1.5 .9z"/>
<path fill="#6ac76e" d="M356.3 436.6l-1.5-5.2 1.9-.6 1.5 5.2z"/>
<path fill="#b9c639" d="M299.7 427l-1.5-1 1.9-2 1.5 1z"/>
<path fill="#fecb33" d="M322.8 413.7l-1.5-2.1 1.9-1.5 1.5 2.1z"/>
<path fill="#94c74c" d="M280.4 432.1l-1.5-.8 1.9-.8 1.5 .7z"/>
<path fill="#f4c438" d="M333 417.3l-1.5-2.7 1.9-.9 1.5 2.8z"/>
<path fill="#9ec744" d="M289.1 430.9l-1.5-.8 1.9-1.2 1.5 .9z"/>
<path fill="#fec835" d="M326.2 414.5l-1.5-2.3 1.9-1.3 1.5 2.4z"/>
<path fill="#fec338" d="M329.6 415.7l-1.5-2.4 1.9-1.1 1.5 2.4z"/>
<path fill="#efc438" d="M312.2 418.1l-1.5-1.4 1.9-2.4 1.5 1.5z"/>
<path fill="#ccc539" d="M305 423.9l-1.5-1.1 1.9-2.4 1.5 1.2z"/>
<path fill="#fec537" d="M317.5 415.4l-1.5-1.8 1.9-2.1 1.5 1.9z"/>
<path fill="#52c881" d="M361.2 439.9l-1.5-1.7 1.9-.5 1.5 1.6z"/>
<path fill="#5bc87a" d="M357.8 438.8l-1.5-2.2 1.9-.6 1.5 2.2z"/>
<path fill="#b7c639" d="M351.4 427.5l-1.4-2.3 1.9-.6 1.4 2.3z"/>
<path fill="#49c888" d="M364.6 440.9l-1.5-1.6 1.9-.5 1.5 1.6z"/>
<path fill="#c9c539" d="M344.6 424.6l-1.4-1.9 1.9-.6 1.5 1.8z"/>
<path fill="#c2c639" d="M348 425.8l-1.4-1.9 1.9-.5 1.5 1.8z"/>
<path fill="#d0c538" d="M341.3 423.4l-1.5-2.2 1.9-.7 1.5 2.2z"/>
<path fill="#40c890" d="M368 442l-1.5-1.6 1.9-.6 1.5 1.7z"/>
<path fill="#97c74a" d="M283.8 432l-1.5-.8 1.9-.9 1.5 .8z"/>
<path fill="#37c897" d="M371.3 443.1l-1.4-1.6 1.9-.6 1.5 1.6z"/>
<path fill="#8ec750" d="M275.1 433l-1.5-.8 1.9-.8 1.5 .8z"/>
<path fill="#b1c739" d="M297.8 428.7l-1.5-.9 1.9-1.8 1.5 1z"/>
<path fill="#dac538" d="M337.9 421.9l-1.5-2.6 1.9-.8 1.5 2.7z"/>
<path fill="#e2c438" d="M310.3 420.5l-1.5-1.3 1.9-2.5 1.5 1.4z"/>
<path fill="#a3c73f" d="M292.5 430.6l-1.5-.8 1.9-1.4 1.5 .9z"/>
<path fill="#fec537" d="M320.9 415.4l-1.5-2 1.9-1.8 1.5 2.1z"/>
<path fill="#c1c639" d="M303.1 426l-1.5-1 1.9-2.2 1.5 1.1z"/>
<path fill="#e5c438" d="M334.5 420.1l-1.5-2.8 1.9-.8 1.5 2.8z"/>
<path fill="#f5c438" d="M315.6 417.5l-1.5-1.7 1.9-2.2 1.5 1.8z"/>
<path fill="#97c74a" d="M352.9 431.9l-1.5-4.4 1.9-.6 1.5 4.5z"/>
<path fill="#fec438" d="M324.3 415.9l-1.5-2.2 1.9-1.5 1.5 2.3z"/>
<path fill="#6ac76e" d="M354.4 437.1l-1.5-5.2 1.9-.5 1.5 5.2z"/>
<path fill="#f1c438" d="M331.1 418.3l-1.5-2.6 1.9-1.1 1.5 2.7z"/>
<path fill="#9ac747" d="M287.2 431.9l-1.5-.8 1.9-1 1.5 .8z"/>
<path fill="#91c74e" d="M278.5 432.9l-1.5-.7 1.9-.9 1.5 .8z"/>
<path fill="#fac338" d="M327.7 416.8l-1.5-2.3 1.9-1.2 1.5 2.4z"/>
<path fill="#d5c538" d="M308.4 422.8l-1.5-1.2 1.9-2.4 1.5 1.3z"/>
<path fill="#a9c73a" d="M295.9 430.2l-1.5-.9 1.9-1.5 1.5 .9z"/>
<path fill="#b7c639" d="M301.2 427.9l-1.5-.9 1.9-2 1.5 1z"/>
<path fill="#f8c438" d="M319 417.3l-1.5-1.9 1.9-2 1.5 2z"/>
<path fill="#e9c438" d="M313.7 419.7l-1.5-1.6 1.9-2.3 1.5 1.7z"/>
<path fill="#52c881" d="M359.3 440.5l-1.5-1.7 1.9-.6 1.5 1.7z"/>
<path fill="#5bc87a" d="M355.9 439.4l-1.5-2.3 1.9-.5 1.5 2.2z"/>
<path fill="#b7c639" d="M349.5 428.1l-1.5-2.3 2-.6 1.4 2.3z"/>
<path fill="#49c888" d="M362.6 441.5l-1.4-1.6 1.9-.6 1.5 1.6z"/>
<path fill="#c9c639" d="M342.7 425.2l-1.4-1.8 1.9-.7 1.4 1.9z"/>
<path fill="#94c74c" d="M281.9 432.9l-1.5-.8 1.9-.9 1.5 .8z"/>
<path fill="#c1c639" d="M346.1 426.4l-1.5-1.8 2-.7 1.4 1.9z"/>
<path fill="#d0c538" d="M339.3 424l-1.4-2.1 1.9-.7 1.5 2.2z"/>
<path fill="#40c890" d="M366 442.6l-1.4-1.7 1.9-.5 1.5 1.6z"/>
<path fill="#9dc744" d="M290.6 431.7l-1.5-.8 1.9-1.1 1.5 .8z"/>
<path fill="#8bc753" d="M273.2 433.9l-1.5-.8 1.9-.9 1.5 .8z"/>
<path fill="#cac539" d="M306.5 425l-1.5-1.1 1.9-2.3 1.5 1.2z"/>
<path fill="#37c897" d="M369.4 443.6l-1.4-1.6 1.9-.5 1.4 1.6z"/>
<path fill="#d8c538" d="M336 422.6l-1.5-2.5 1.9-.8 1.5 2.6z"/>
<path fill="#34c69b" d="M372.8 444.7l-1.5-1.6 2-.6 1.4 1.6z"/>
<path fill="#f8c438" d="M322.4 417.5l-1.5-2.1 1.9-1.7 1.5 2.2z"/>
<path fill="#e3c438" d="M332.6 421l-1.5-2.7 1.9-1 1.5 2.8z"/>
<path fill="#ddc538" d="M311.8 421.9l-1.5-1.4 1.9-2.4 1.5 1.6z"/>
<path fill="#f5c438" d="M325.8 418.1l-1.5-2.2 1.9-1.4 1.5 2.3z"/>
<path fill="#edc438" d="M329.2 419.4l-1.5-2.6 1.9-1.1 1.5 2.6z"/>
<path fill="#eec438" d="M317.1 419.3l-1.5-1.8 1.9-2.1 1.5 1.9z"/>
<path fill="#96c74a" d="M285.3 432.8l-1.5-.8 1.9-.9 1.5 .8z"/>
<path fill="#b0c739" d="M299.3 429.6l-1.5-.9 1.9-1.7 1.5 .9z"/>
<path fill="#97c74a" d="M351 432.5l-1.5-4.4 1.9-.6 1.5 4.4z"/>
<path fill="#8ec750" d="M276.6 433.7l-1.5-.7 1.9-.8 1.5 .7z"/>
<path fill="#6ac76e" d="M352.5 437.7l-1.5-5.2 1.9-.6 1.5 5.2z"/>
<path fill="#bfc639" d="M304.6 427.1l-1.5-1.1 1.9-2.1 1.5 1.1z"/>
<path fill="#a2c740" d="M294 431.4l-1.5-.8 1.9-1.3 1.5 .9z"/>
<path fill="#d1c538" d="M309.9 424.1l-1.5-1.3 1.9-2.3 1.5 1.4z"/>
<path fill="#efc438" d="M320.5 419.2l-1.5-1.9 1.9-1.9 1.5 2.1z"/>
<path fill="#99c747" d="M288.6 432.7l-1.4-.8 1.9-1 1.5 .8z"/>
<path fill="#52c881" d="M357.3 441l-1.4-1.6 1.9-.6 1.5 1.7z"/>
<path fill="#91c74e" d="M280 433.7l-1.5-.8 1.9-.8 1.5 .8z"/>
<path fill="#b6c639" d="M347.6 428.7l-1.5-2.3 1.9-.6 1.5 2.3z"/>
<path fill="#e3c438" d="M315.2 421.3l-1.5-1.6 1.9-2.2 1.5 1.8z"/>
<path fill="#5bc87a" d="M354 439.9l-1.5-2.2 1.9-.6 1.5 2.3z"/>
<path fill="#88c756" d="M271.3 434.8l-1.5-.8 1.9-.9 1.5 .8z"/>
<path fill="#c8c639" d="M340.8 425.8l-1.5-1.8 2-.6 1.4 1.8z"/>
<path fill="#cec538" d="M337.4 424.8l-1.4-2.2 1.9-.7 1.4 2.1z"/>
<path fill="#49c888" d="M360.7 442.1l-1.4-1.6 1.9-.6 1.4 1.6z"/>
<path fill="#c1c639" d="M344.2 427l-1.5-1.8 1.9-.6 1.5 1.8z"/>
<path fill="#40c890" d="M364.1 443.2l-1.5-1.7 2-.6 1.4 1.7z"/>
<path fill="#d6c538" d="M334 423.5l-1.4-2.5 1.9-.9 1.5 2.5z"/>
<path fill="#eec438" d="M323.9 419.6l-1.5-2.1 1.9-1.6 1.5 2.2z"/>
<path fill="#37c897" d="M367.5 444.2l-1.5-1.6 2-.6 1.4 1.6z"/>
<path fill="#b6c639" d="M302.6 428.9l-1.4-1 1.9-1.9 1.5 1.1z"/>
<path fill="#a8c73b" d="M297.3 431l-1.4-.8 1.9-1.5 1.5 .9z"/>
<path fill="#e0c538" d="M330.6 422l-1.4-2.6 1.9-1.1 1.5 2.7z"/>
<path fill="#34c69b" d="M370.9 445.2l-1.5-1.6 1.9-.5 1.5 1.6z"/>
<path fill="#e8c438" d="M327.3 420.6l-1.5-2.5 1.9-1.3 1.5 2.6z"/>
<path fill="#32c5a0" d="M374.3 446.3l-1.5-1.6 1.9-.6 1.5 1.6z"/>
<path fill="#c6c639" d="M308 426.2l-1.5-1.2 1.9-2.2 1.5 1.3z"/>
<path fill="#94c74c" d="M283.3 433.6l-1.4-.7 1.9-.9 1.5 .8z"/>
<path fill="#9dc744" d="M292 432.5l-1.4-.8 1.9-1.1 1.5 .8z"/>
<path fill="#8cc753" d="M274.6 434.6l-1.4-.7 1.9-.9 1.5 .7z"/>
<path fill="#e6c438" d="M318.6 421.1l-1.5-1.8 1.9-2 1.5 1.9z"/>
<path fill="#d8c538" d="M313.3 423.5l-1.5-1.6 1.9-2.2 1.5 1.6z"/>
<path fill="#96c74a" d="M349.1 433.1l-1.5-4.4 1.9-.6 1.5 4.4z"/>
<path fill="#6ac76e" d="M350.6 438.3l-1.5-5.2 1.9-.6 1.5 5.2z"/>
<path fill="#aec739" d="M300.7 430.5l-1.4-.9 1.9-1.7 1.4 1z"/>
<path fill="#e6c438" d="M322 421.2l-1.5-2 1.9-1.7 1.5 2.1z"/>
<path fill="#96c74a" d="M286.7 433.6l-1.4-.8 1.9-.9 1.4 .8z"/>
<path fill="#bcc639" d="M306 428.2l-1.4-1.1 1.9-2.1 1.5 1.2z"/>
<path fill="#84c759" d="M269.3 435.8l-1.4-.8 1.9-1 1.5 .8z"/>
<path fill="#8fc750" d="M278 434.5l-1.4-.8 1.9-.8 1.5 .8z"/>
<path fill="#a1c741" d="M295.4 432.3l-1.4-.9 1.9-1.2 1.4 .8z"/>
<path fill="#cdc539" d="M335.5 425.6l-1.5-2.1 2-.9 1.4 2.2z"/>
<path fill="#52c881" d="M355.4 441.6l-1.4-1.7 1.9-.5 1.4 1.6z"/>
<path fill="#c7c639" d="M338.9 426.6l-1.5-1.8 1.9-.8 1.5 1.8z"/>
<path fill="#b6c639" d="M345.7 429.3l-1.5-2.3 1.9-.6 1.5 2.3z"/>
<path fill="#cdc539" d="M311.3 425.5l-1.4-1.4 1.9-2.2 1.5 1.6z"/>
<path fill="#d4c538" d="M332.1 424.4l-1.5-2.4 2-1 1.4 2.5z"/>
<path fill="#5bc87a" d="M352 440.5l-1.4-2.2 1.9-.6 1.5 2.2z"/>
<path fill="#e3c438" d="M325.3 421.9l-1.4-2.3 1.9-1.5 1.5 2.5z"/>
<path fill="#c0c639" d="M342.3 427.7l-1.5-1.9 1.9-.6 1.5 1.8z"/>
<path fill="#dcc538" d="M316.6 423l-1.4-1.7 1.9-2 1.5 1.8z"/>
<path fill="#49c888" d="M358.8 442.6l-1.5-1.6 2-.5 1.4 1.6z"/>
<path fill="#dcc538" d="M328.7 423.1l-1.4-2.5 1.9-1.2 1.4 2.6z"/>
<path fill="#40c890" d="M362.2 443.7l-1.5-1.6 1.9-.6 1.5 1.7z"/>
<path fill="#37c897" d="M365.6 444.8l-1.5-1.6 1.9-.6 1.5 1.6z"/>
<path fill="#34c69b" d="M369 445.8l-1.5-1.6 1.9-.6 1.5 1.6z"/>
<path fill="#99c748" d="M290.1 433.5l-1.5-.8 2-1 1.4 .8z"/>
<path fill="#91c74e" d="M281.4 434.4l-1.4-.7 1.9-.8 1.4 .7z"/>
<path fill="#32c5a0" d="M372.4 446.9l-1.5-1.7 1.9-.5 1.5 1.6z"/>
<path fill="#88c755" d="M272.7 435.5l-1.4-.7 1.9-.9 1.4 .7z"/>
<path fill="#2fc3a5" d="M375.8 448l-1.5-1.7 1.9-.6 1.5 1.7z"/>
<path fill="#3e26a8" d="M244.5 496.8l-1.5-.8 1.9-29.2 1.5 .7z"/>
<path fill="#b4c639" d="M304.1 429.9l-1.5-1 2-1.8 1.4 1.1z"/>
<path fill="#dec538" d="M320 423l-1.4-1.9 1.9-1.9 1.5 2z"/>
<path fill="#a7c73c" d="M298.8 431.9l-1.5-.9 2-1.4 1.4 .9z"/>
<path fill="#c3c639" d="M309.4 427.5l-1.4-1.3 1.9-2.1 1.4 1.4z"/>
<path fill="#96c74a" d="M347.2 433.7l-1.5-4.4 1.9-.6 1.5 4.4z"/>
<path fill="#d2c538" d="M314.7 425l-1.4-1.5 1.9-2.2 1.4 1.7z"/>
<path fill="#6ac76e" d="M348.6 438.8l-1.4-5.1 1.9-.6 1.5 5.2z"/>
<path fill="#dcc538" d="M323.4 423.4l-1.4-2.2 1.9-1.6 1.4 2.3z"/>
<path fill="#93c74c" d="M284.8 434.4l-1.5-.8 2-.8 1.4 .8z"/>
<path fill="#7fc75d" d="M267.4 436.8l-1.4-.7 1.9-1.1 1.4 .8z"/>
<path fill="#9cc745" d="M293.5 433.3l-1.5-.8 2-1.1 1.4 .9z"/>
<path fill="#8cc752" d="M276.1 435.4l-1.5-.8 2-.9 1.4 .8z"/>
<path fill="#d7c538" d="M326.8 424.3l-1.5-2.4 2-1.3 1.4 2.5z"/>
<path fill="#d1c538" d="M330.2 425.4l-1.5-2.3 1.9-1.1 1.5 2.4z"/>
<path fill="#cbc539" d="M333.6 426.4l-1.5-2 1.9-.9 1.5 2.1z"/>
<path fill="#c6c639" d="M337 427.3l-1.5-1.7 1.9-.8 1.5 1.8z"/>
<path fill="#b6c639" d="M343.8 429.9l-1.5-2.2 1.9-.7 1.5 2.3z"/>
<path fill="#52c881" d="M353.5 442.2l-1.5-1.7 2-.6 1.4 1.7z"/>
<path fill="#c0c639" d="M340.4 428.4l-1.5-1.8 1.9-.8 1.5 1.9z"/>
<path fill="#5bc87a" d="M350.1 441.1l-1.5-2.3 2-.5 1.4 2.2z"/>
<path fill="#49c888" d="M356.9 443.2l-1.5-1.6 1.9-.6 1.5 1.6z"/>
<path fill="#d5c538" d="M318.1 424.8l-1.5-1.8 2-1.9 1.4 1.9z"/>
<path fill="#bac639" d="M307.5 429.3l-1.5-1.1 2-2 1.4 1.3z"/>
<path fill="#adc739" d="M302.2 431.5l-1.5-1 1.9-1.6 1.5 1z"/>
<path fill="#c8c639" d="M312.8 426.9l-1.5-1.4 2-2 1.4 1.5z"/>
<path fill="#40c890" d="M360.3 444.3l-1.5-1.7 1.9-.5 1.5 1.6z"/>
<path fill="#96c74a" d="M288.2 434.4l-1.5-.8 1.9-.9 1.5 .8z"/>
<path fill="#37c897" d="M363.7 445.3l-1.5-1.6 1.9-.5 1.5 1.6z"/>
<path fill="#8fc750" d="M279.5 435.3l-1.5-.8 2-.8 1.4 .7z"/>
<path fill="#84c759" d="M270.8 436.5l-1.5-.7 2-1 1.4 .7z"/>
<path fill="#34c69b" d="M367.1 446.4l-1.5-1.6 1.9-.6 1.5 1.6z"/>
<path fill="#a1c742" d="M296.9 433.1l-1.5-.8 1.9-1.3 1.5 .9z"/>
<path fill="#32c5a0" d="M370.5 447.4l-1.5-1.6 1.9-.6 1.5 1.7z"/>
<path fill="#2fc3a5" d="M373.9 448.5l-1.5-1.6 1.9-.6 1.5 1.7z"/>
<path fill="#2bc1ab" d="M377.3 449.9l-1.5-1.9 1.9-.6 1.5 1.9z"/>
<path fill="#d5c538" d="M321.5 425l-1.5-2 2-1.8 1.4 2.2z"/>
<path fill="#96c74a" d="M345.3 434.3l-1.5-4.4 1.9-.6 1.5 4.4z"/>
<path fill="#78c762" d="M265.5 438l-1.5-.7 2-1.2 1.4 .7z"/>
<path fill="#6ac76e" d="M346.7 439.4l-1.4-5.1 1.9-.6 1.4 5.1z"/>
<path fill="#d2c538" d="M324.9 425.6l-1.5-2.2 1.9-1.5 1.5 2.4z"/>
<path fill="#98c748" d="M291.6 434.3l-1.5-.8 1.9-1 1.5 .8z"/>
<path fill="#ccc539" d="M316.2 426.6l-1.5-1.6 1.9-2 1.5 1.8z"/>
<path fill="#91c74e" d="M282.9 435.2l-1.5-.8 1.9-.8 1.5 .8z"/>
<path fill="#bfc639" d="M310.9 428.8l-1.5-1.3 1.9-2 1.5 1.4z"/>
<path fill="#b2c639" d="M305.6 431l-1.5-1.1 1.9-1.7 1.5 1.1z"/>
<path fill="#cdc539" d="M328.3 426.5l-1.5-2.2 1.9-1.2 1.5 2.3z"/>
<path fill="#88c755" d="M274.2 436.2l-1.5-.7 1.9-.9 1.5 .8z"/>
<path fill="#3e26a8" d="M246 497.5l-1.5-.7 1.9-29.3 1.5 .7z"/>
<path fill="#c8c639" d="M331.7 427.4l-1.5-2 1.9-1 1.5 2z"/>
<path fill="#a5c73e" d="M300.3 432.8l-1.5-.9 1.9-1.4 1.5 1z"/>
<path fill="#c4c639" d="M335.1 428.2l-1.5-1.8 1.9-.8 1.5 1.7z"/>
<path fill="#b5c639" d="M341.9 430.6l-1.5-2.2 1.9-.7 1.5 2.2z"/>
<path fill="#bec639" d="M338.5 429.1l-1.5-1.8 1.9-.7 1.5 1.8z"/>
<path fill="#52c881" d="M351.6 442.7l-1.5-1.6 1.9-.6 1.5 1.7z"/>
<path fill="#5bc87a" d="M348.2 441.6l-1.5-2.2 1.9-.6 1.5 2.3z"/>
<path fill="#49c888" d="M355 443.7l-1.5-1.5 1.9-.6 1.5 1.6z"/>
<path fill="#cdc538" d="M319.6 426.6l-1.5-1.8 1.9-1.8 1.5 2z"/>
<path fill="#9cc746" d="M295 434.2l-1.5-.9 1.9-1 1.5 .8z"/>
<path fill="#93c74c" d="M286.3 435.2l-1.5-.8 1.9-.8 1.5 .8z"/>
<path fill="#7fc75d" d="M268.9 437.5l-1.5-.7 1.9-1 1.5 .7z"/>
<path fill="#40c890" d="M358.4 444.8l-1.5-1.6 1.9-.6 1.5 1.7z"/>
<path fill="#8cc752" d="M277.6 436.1l-1.5-.7 1.9-.9 1.5 .8z"/>
<path fill="#37c897" d="M361.8 445.9l-1.5-1.6 1.9-.6 1.5 1.6z"/>
<path fill="#c3c639" d="M314.3 428.4l-1.5-1.5 1.9-1.9 1.5 1.6z"/>
<path fill="#34c69b" d="M365.2 446.9l-1.5-1.6 1.9-.5 1.5 1.6z"/>
<path fill="#b7c639" d="M309 430.5l-1.5-1.2 1.9-1.8 1.5 1.3z"/>
<path fill="#cbc539" d="M323 427.1l-1.5-2.1 1.9-1.6 1.5 2.2z"/>
<path fill="#32c5a0" d="M368.6 448l-1.5-1.6 1.9-.6 1.5 1.6z"/>
<path fill="#70c769" d="M263.6 439.4l-1.5-.7 1.9-1.4 1.5 .7z"/>
<path fill="#abc739" d="M303.7 432.5l-1.5-1 1.9-1.6 1.5 1.1z"/>
<path fill="#27beb2" d="M378.7 451.9l-1.4-2 1.9-.6 1.5 2z"/>
<path fill="#2fc3a5" d="M372 449.1l-1.5-1.7 1.9-.5 1.5 1.6z"/>
<path fill="#2bc1ab" d="M375.4 450.4l-1.5-1.9 1.9-.5 1.5 1.9z"/>
<path fill="#c8c639" d="M326.4 427.7l-1.5-2.1 1.9-1.3 1.5 2.2z"/>
<path fill="#95c74b" d="M343.3 434.9l-1.4-4.3 1.9-.7 1.5 4.4z"/>
<path fill="#95c74b" d="M289.7 435.2l-1.5-.8 1.9-.9 1.5 .8z"/>
<path fill="#9fc742" d="M298.4 434l-1.5-.9 1.9-1.2 1.5 .9z"/>
<path fill="#6ac76e" d="M344.8 440l-1.5-5.1 2-.6 1.4 5.1z"/>
<path fill="#8fc750" d="M281 436l-1.5-.7 1.9-.9 1.5 .8z"/>
<path fill="#c4c639" d="M329.8 428.4l-1.5-1.9 1.9-1.1 1.5 2z"/>
<path fill="#84c758" d="M272.3 437.2l-1.5-.7 1.9-1 1.5 .7z"/>
<path fill="#c5c639" d="M317.7 428.3l-1.5-1.7 1.9-1.8 1.5 1.8z"/>
<path fill="#c1c639" d="M333.2 429.1l-1.5-1.7 1.9-1 1.5 1.8z"/>
<path fill="#bbc639" d="M312.4 430.1l-1.5-1.3 1.9-1.9 1.5 1.5z"/>
<path fill="#bdc639" d="M336.6 429.9l-1.5-1.7 1.9-.9 1.5 1.8z"/>
<path fill="#b4c639" d="M340 431.3l-1.5-2.2 1.9-.7 1.5 2.2z"/>
<path fill="#afc739" d="M307.1 432.1l-1.5-1.1 1.9-1.7 1.5 1.2z"/>
<path fill="#79c762" d="M267 438.7l-1.5-.7 1.9-1.2 1.5 .7z"/>
<path fill="#98c749" d="M293.1 435.1l-1.5-.8 1.9-1 1.5 .9z"/>
<path fill="#52c881" d="M349.7 443.3l-1.5-1.7 1.9-.5 1.5 1.6z"/>
<path fill="#91c74e" d="M284.4 436l-1.5-.8 1.9-.8 1.5 .8z"/>
<path fill="#5bc87a" d="M346.3 442.2l-1.5-2.2 1.9-.6 1.5 2.2z"/>
<path fill="#c5c639" d="M321.1 428.5l-1.5-1.9 1.9-1.6 1.5 2.1z"/>
<path fill="#49c888" d="M353.1 444.3l-1.5-1.6 1.9-.5 1.5 1.5z"/>
<path fill="#89c755" d="M275.7 437l-1.5-.8 1.9-.8 1.5 .7z"/>
<path fill="#67c770" d="M261.7 440.9l-1.5-.7 1.9-1.5 1.5 .7z"/>
<path fill="#a4c73f" d="M301.8 433.7l-1.5-.9 1.9-1.3 1.5 1z"/>
<path fill="#3e26a8" d="M247.4 498.3l-1.4-.8 1.9-29.3 1.5 .7z"/>
<path fill="#40c890" d="M356.5 445.4l-1.5-1.7 1.9-.5 1.5 1.6z"/>
<path fill="#37c897" d="M359.9 446.5l-1.5-1.7 1.9-.5 1.5 1.6z"/>
<path fill="#c3c639" d="M324.5 429l-1.5-1.9 1.9-1.5 1.5 2.1z"/>
<path fill="#34c69b" d="M363.3 447.5l-1.5-1.6 1.9-.6 1.5 1.6z"/>
<path fill="#bec639" d="M315.8 429.9l-1.5-1.5 1.9-1.8 1.5 1.7z"/>
<path fill="#23bcb9" d="M380.2 453.8l-1.5-1.9 2-.6 1.4 2z"/>
<path fill="#32c5a0" d="M366.7 448.5l-1.5-1.6 1.9-.5 1.5 1.6z"/>
<path fill="#27beb2" d="M376.8 452.5l-1.4-2.1 1.9-.5 1.4 2z"/>
<path fill="#2fc3a5" d="M370 449.7l-1.4-1.7 1.9-.6 1.5 1.7z"/>
<path fill="#9bc746" d="M296.5 435l-1.5-.8 1.9-1.1 1.5 .9z"/>
<path fill="#2bc1ab" d="M373.4 451l-1.4-1.9 1.9-.6 1.5 1.9z"/>
<path fill="#93c74d" d="M287.8 436l-1.5-.8 1.9-.8 1.5 .8z"/>
<path fill="#c1c639" d="M327.9 429.5l-1.5-1.8 1.9-1.2 1.5 1.9z"/>
<path fill="#b3c639" d="M310.5 431.7l-1.5-1.2 1.9-1.7 1.5 1.3z"/>
<path fill="#7fc75c" d="M270.4 438.3l-1.5-.8 1.9-1 1.5 .7z"/>
<path fill="#95c74b" d="M341.4 435.5l-1.4-4.2 1.9-.7 1.4 4.3z"/>
<path fill="#8cc752" d="M279.1 436.8l-1.5-.7 1.9-.8 1.5 .7z"/>
<path fill="#6ac76e" d="M342.9 440.5l-1.5-5 1.9-.6 1.5 5.1z"/>
<path fill="#a9c73b" d="M305.2 433.5l-1.5-1 1.9-1.5 1.5 1.1z"/>
<path fill="#bec639" d="M331.3 430l-1.5-1.6 1.9-1 1.5 1.7z"/>
<path fill="#bec639" d="M319.2 430l-1.5-1.7 1.9-1.7 1.5 1.9z"/>
<path fill="#71c768" d="M265.1 440l-1.5-.6 1.9-1.4 1.5 .7z"/>
<path fill="#5bc87a" d="M259.8 442.6l-1.5-.6 1.9-1.8 1.5 .7z"/>
<path fill="#bbc639" d="M334.6 430.7l-1.4-1.6 1.9-.9 1.5 1.7z"/>
<path fill="#95c74b" d="M291.2 436l-1.5-.8 1.9-.9 1.5 .8z"/>
<path fill="#b3c639" d="M338 432l-1.4-2.1 1.9-.8 1.5 2.2z"/>
<path fill="#9ec743" d="M299.9 434.9l-1.5-.9 1.9-1.2 1.5 .9z"/>
<path fill="#8fc750" d="M282.5 436.8l-1.5-.8 1.9-.8 1.5 .8z"/>
<path fill="#85c758" d="M273.8 437.9l-1.5-.7 1.9-1 1.5 .8z"/>
<path fill="#b6c639" d="M313.9 431.5l-1.5-1.4 1.9-1.7 1.5 1.5z"/>
<path fill="#52c881" d="M347.8 443.8l-1.5-1.6 1.9-.6 1.5 1.7z"/>
<path fill="#bdc639" d="M322.6 430.3l-1.5-1.8 1.9-1.4 1.5 1.9z"/>
<path fill="#5bc87a" d="M344.4 442.8l-1.5-2.3 1.9-.5 1.5 2.2z"/>
<path fill="#49c888" d="M351.2 444.9l-1.5-1.6 1.9-.6 1.5 1.6z"/>
<path fill="#40c890" d="M354.6 446l-1.5-1.7 1.9-.6 1.5 1.7z"/>
<path fill="#adc739" d="M308.6 433.2l-1.5-1.1 1.9-1.6 1.5 1.2z"/>
<path fill="#37c897" d="M358 447l-1.5-1.6 1.9-.6 1.5 1.7z"/>
<path fill="#bcc639" d="M326 430.7l-1.5-1.7 1.9-1.3 1.5 1.8z"/>
<path fill="#34c69b" d="M361.4 448.1l-1.5-1.6 1.9-.6 1.5 1.6z"/>
<path fill="#97c749" d="M294.6 435.9l-1.5-.8 1.9-.9 1.5 .8z"/>
<path fill="#79c761" d="M268.5 439.4l-1.5-.7 1.9-1.2 1.5 .8z"/>
<path fill="#4cc886" d="M257.9 444.6l-1.5-.6 1.9-2 1.5 .6z"/>
<path fill="#23bcb9" d="M378.3 454.4l-1.5-1.9 1.9-.6 1.5 1.9z"/>
<path fill="#32c5a0" d="M364.7 449.1l-1.4-1.6 1.9-.6 1.5 1.6z"/>
<path fill="#20babe" d="M381.7 455.5l-1.5-1.7 1.9-.5 1.5 1.6z"/>
<path fill="#91c74e" d="M285.9 436.8l-1.5-.8 1.9-.8 1.5 .8z"/>
<path fill="#a2c740" d="M303.3 434.7l-1.5-1 1.9-1.2 1.5 1z"/>
<path fill="#27beb2" d="M374.9 453l-1.5-2 2-.6 1.4 2.1z"/>
<path fill="#b8c639" d="M317.3 431.5l-1.5-1.6 1.9-1.6 1.5 1.7z"/>
<path fill="#2fc3a5" d="M368.1 450.2l-1.4-1.7 1.9-.5 1.4 1.7z"/>
<path fill="#2bc1ab" d="M371.5 451.6l-1.5-1.9 2-.6 1.4 1.9z"/>
<path fill="#89c755" d="M277.2 437.7l-1.5-.7 1.9-.9 1.5 .7z"/>
<path fill="#94c74c" d="M339.5 436.2l-1.5-4.2 2-.7 1.4 4.2z"/>
<path fill="#68c770" d="M263.2 441.6l-1.5-.7 1.9-1.5 1.5 .6z"/>
<path fill="#3e26a8" d="M248.9 499l-1.5-.7 2-29.4 1.4 .7z"/>
<path fill="#bbc639" d="M329.3 431.1l-1.4-1.6 1.9-1.1 1.5 1.6z"/>
<path fill="#6ac76e" d="M341 441.1l-1.5-4.9 1.9-.7 1.5 5z"/>
<path fill="#b0c739" d="M312 433l-1.5-1.3 1.9-1.6 1.5 1.4z"/>
<path fill="#b8c639" d="M332.7 431.6l-1.4-1.6 1.9-.9 1.4 1.6z"/>
<path fill="#9ac747" d="M298 435.9l-1.5-.9 1.9-1 1.5 .9z"/>
<path fill="#b8c639" d="M320.6 431.7l-1.4-1.7 1.9-1.5 1.5 1.8z"/>
<path fill="#209ce7" d="M246.4 467.5l-1.5-.7 1.9-5.7 1.5 .7z"/>
<path fill="#93c74d" d="M289.3 436.7l-1.5-.7 1.9-.8 1.5 .8z"/>
<path fill="#b1c639" d="M336.1 432.8l-1.5-2.1 2-.8 1.4 2.1z"/>
<path fill="#3ac895" d="M256 447l-1.5-.6 1.9-2.4 1.5 .6z"/>
<path fill="#80c75c" d="M271.9 439l-1.5-.7 1.9-1.1 1.5 .7z"/>
<path fill="#8cc752" d="M280.6 437.6l-1.5-.8 1.9-.8 1.5 .8z"/>
<path fill="#a6c73d" d="M306.6 434.5l-1.4-1 1.9-1.4 1.5 1.1z"/>
<path fill="#52c881" d="M345.9 444.4l-1.5-1.6 1.9-.6 1.5 1.6z"/>
<path fill="#5bc87a" d="M342.5 443.3l-1.5-2.2 1.9-.6 1.5 2.3z"/>
<path fill="#b8c639" d="M324 431.9l-1.4-1.6 1.9-1.3 1.5 1.7z"/>
<path fill="#49c888" d="M349.3 445.4l-1.5-1.6 1.9-.5 1.5 1.6z"/>
<path fill="#72c767" d="M266.6 440.7l-1.5-.7 1.9-1.3 1.5 .7z"/>
<path fill="#b2c639" d="M315.3 432.9l-1.4-1.4 1.9-1.6 1.5 1.6z"/>
<path fill="#5cc879" d="M261.3 443.3l-1.5-.7 1.9-1.7 1.5 .7z"/>
<path fill="#40c890" d="M352.7 446.5l-1.5-1.6 1.9-.6 1.5 1.7z"/>
<path fill="#31c4a2" d="M254 449.8l-1.4-.7 1.9-2.7 1.5 .6z"/>
<path fill="#95c74b" d="M292.6 436.7l-1.4-.7 1.9-.9 1.5 .8z"/>
<path fill="#9dc744" d="M301.3 435.8l-1.4-.9 1.9-1.2 1.5 1z"/>
<path fill="#37c897" d="M356 447.6l-1.4-1.6 1.9-.6 1.5 1.6z"/>
<path fill="#13afd8" d="M248.3 461.8l-1.5-.7 1.9-4.7 1.5 .6z"/>
<path fill="#34c69b" d="M359.4 448.6l-1.4-1.6 1.9-.5 1.5 1.6z"/>
<path fill="#8fc750" d="M284 437.5l-1.5-.7 1.9-.8 1.5 .8z"/>
<path fill="#b7c639" d="M327.4 432.1l-1.4-1.4 1.9-1.2 1.4 1.6z"/>
<path fill="#85c758" d="M275.3 438.7l-1.5-.8 1.9-.9 1.5 .7z"/>
<path fill="#23bcb9" d="M376.4 455l-1.5-2 1.9-.5 1.5 1.9z"/>
<path fill="#32c5a0" d="M362.8 449.7l-1.4-1.6 1.9-.6 1.4 1.6z"/>
<path fill="#20babe" d="M379.8 456.1l-1.5-1.7 1.9-.6 1.5 1.7z"/>
<path fill="#aac73a" d="M310 434.3l-1.4-1.1 1.9-1.5 1.5 1.3z"/>
<path fill="#27beb2" d="M373 453.6l-1.5-2 1.9-.6 1.5 2z"/>
<path fill="#28bfb1" d="M252.1 453.1l-1.5-.7 2-3.3 1.4 .7z"/>
<path fill="#93c74d" d="M337.6 436.8l-1.5-4 1.9-.8 1.5 4.2z"/>
<path fill="#2fc3a5" d="M366.2 450.8l-1.5-1.7 2-.6 1.4 1.7z"/>
<path fill="#1db8c3" d="M250.2 457l-1.5-.6 1.9-4 1.5 .7z"/>
<path fill="#2bc1ab" d="M369.6 452.1l-1.5-1.9 1.9-.5 1.5 1.9z"/>
<path fill="#b2c639" d="M318.7 433l-1.4-1.5 1.9-1.5 1.4 1.7z"/>
<path fill="#1eb9c1" d="M383.2 456.8l-1.5-1.3 1.9-.6 1.5 1.3z"/>
<path fill="#6ac76e" d="M339.1 441.7l-1.5-4.9 1.9-.6 1.5 4.9z"/>
<path fill="#b5c639" d="M330.8 432.6l-1.5-1.5 2-1.1 1.4 1.6z"/>
<path fill="#97c749" d="M296 436.7l-1.4-.8 1.9-.9 1.5 .9z"/>
<path fill="#a0c742" d="M304.7 435.6l-1.4-.9 1.9-1.2 1.4 1z"/>
<path fill="#7ac761" d="M270 440.1l-1.5-.7 1.9-1.1 1.5 .7z"/>
<path fill="#91c74e" d="M287.3 437.5l-1.4-.7 1.9-.8 1.5 .7z"/>
<path fill="#4dc885" d="M259.3 445.3l-1.4-.7 1.9-2 1.5 .7z"/>
<path fill="#b0c739" d="M334.2 433.6l-1.5-2 1.9-.9 1.5 2.1z"/>
<path fill="#89c755" d="M278.6 438.5l-1.4-.8 1.9-.9 1.5 .8z"/>
<path fill="#b3c639" d="M322.1 433.1l-1.5-1.4 2-1.4 1.4 1.6z"/>
<path fill="#acc739" d="M313.4 434.2l-1.4-1.2 1.9-1.5 1.4 1.4z"/>
<path fill="#3e26a8" d="M250.4 499.8l-1.5-.8 1.9-29.4 1.5 .7z"/>
<path fill="#68c76f" d="M264.6 442.2l-1.4-.6 1.9-1.6 1.5 .7z"/>
<path fill="#52c881" d="M344 445l-1.5-1.7 1.9-.5 1.5 1.6z"/>
<path fill="#5bc87a" d="M340.6 443.9l-1.5-2.2 1.9-.6 1.5 2.2z"/>
<path fill="#99c748" d="M299.4 436.7l-1.4-.8 1.9-1 1.4 .9z"/>
<path fill="#49c888" d="M347.4 446l-1.5-1.6 1.9-.6 1.5 1.6z"/>
<path fill="#92c74d" d="M290.7 437.5l-1.4-.8 1.9-.7 1.4 .7z"/>
<path fill="#209ce7" d="M247.9 468.2l-1.5-.7 1.9-5.7 1.5 .6z"/>
<path fill="#a3c73f" d="M308.1 435.5l-1.5-1 2-1.3 1.4 1.1z"/>
<path fill="#40c890" d="M350.7 447.1l-1.4-1.7 1.9-.5 1.5 1.6z"/>
<path fill="#b3c639" d="M325.5 433.3l-1.5-1.4 2-1.2 1.4 1.4z"/>
<path fill="#80c75c" d="M273.3 439.7l-1.4-.7 1.9-1.1 1.5 .8z"/>
<path fill="#3bc894" d="M257.4 447.6l-1.4-.6 1.9-2.4 1.4 .7z"/>
<path fill="#37c897" d="M354.1 448.2l-1.4-1.7 1.9-.5 1.4 1.6z"/>
<path fill="#8cc752" d="M282 438.3l-1.4-.7 1.9-.8 1.5 .7z"/>
<path fill="#adc739" d="M316.8 434.3l-1.5-1.4 2-1.4 1.4 1.5z"/>
<path fill="#34c69b" d="M357.5 449.2l-1.5-1.6 2-.6 1.4 1.6z"/>
<path fill="#91c74e" d="M335.7 437.5l-1.5-3.9 1.9-.8 1.5 4z"/>
<path fill="#23bcb9" d="M374.5 455.5l-1.5-1.9 1.9-.6 1.5 2z"/>
<path fill="#32c5a0" d="M360.9 450.2l-1.5-1.6 2-.5 1.4 1.6z"/>
<path fill="#20babe" d="M377.9 456.6l-1.5-1.6 1.9-.6 1.5 1.7z"/>
<path fill="#27beb2" d="M371.1 454.2l-1.5-2.1 1.9-.5 1.5 2z"/>
<path fill="#2fc3a5" d="M364.3 451.4l-1.5-1.7 1.9-.6 1.5 1.7z"/>
<path fill="#2bc1ab" d="M367.7 452.7l-1.5-1.9 1.9-.6 1.5 1.9z"/>
<path fill="#b2c639" d="M328.9 433.6l-1.5-1.5 1.9-1 1.5 1.5z"/>
<path fill="#72c767" d="M268 441.4l-1.4-.7 1.9-1.3 1.5 .7z"/>
<path fill="#1eb9c1" d="M381.3 457.3l-1.5-1.2 1.9-.6 1.5 1.3z"/>
<path fill="#9cc746" d="M302.8 436.6l-1.5-.8 2-1.1 1.4 .9z"/>
<path fill="#5dc879" d="M262.7 443.9l-1.4-.6 1.9-1.7 1.4 .6z"/>
<path fill="#94c74b" d="M294.1 437.5l-1.5-.8 2-.8 1.4 .8z"/>
<path fill="#6ac76e" d="M337.2 442.2l-1.5-4.7 1.9-.7 1.5 4.9z"/>
<path fill="#31c4a1" d="M255.5 450.4l-1.5-.6 2-2.8 1.4 .6z"/>
<path fill="#a6c73d" d="M311.5 435.4l-1.5-1.1 2-1.3 1.4 1.2z"/>
<path fill="#aec739" d="M320.2 434.3l-1.5-1.3 1.9-1.3 1.5 1.4z"/>
<path fill="#13afd8" d="M249.8 462.4l-1.5-.6 1.9-4.8 1.5 .7z"/>
<path fill="#aec739" d="M332.3 434.4l-1.5-1.8 1.9-1 1.5 2z"/>
<path fill="#8ec750" d="M285.4 438.3l-1.4-.8 1.9-.7 1.4 .7z"/>
<path fill="#85c758" d="M276.7 439.4l-1.4-.7 1.9-1 1.4 .8z"/>
<path fill="#1db8c2" d="M384.7 457.8l-1.5-1 1.9-.6 1.5 1z"/>
<path fill="#28bfb0" d="M253.6 453.7l-1.5-.6 1.9-3.3 1.5 .6z"/>
<path fill="#1db8c2" d="M251.7 457.7l-1.5-.7 1.9-3.9 1.5 .6z"/>
<path fill="#96c74a" d="M297.5 437.6l-1.5-.9 2-.8 1.4 .8z"/>
<path fill="#9ec743" d="M306.2 436.6l-1.5-1 1.9-1.1 1.5 1z"/>
<path fill="#afc739" d="M323.6 434.4l-1.5-1.3 1.9-1.2 1.5 1.4z"/>
<path fill="#a8c73c" d="M314.9 435.4l-1.5-1.2 1.9-1.3 1.5 1.4z"/>
<path fill="#52c881" d="M342 445.5l-1.4-1.6 1.9-.6 1.5 1.7z"/>
<path fill="#7ac761" d="M271.4 440.8l-1.4-.7 1.9-1.1 1.4 .7z"/>
<path fill="#5bc87a" d="M338.7 444.4l-1.5-2.2 1.9-.5 1.5 2.2z"/>
<path fill="#90c74f" d="M288.8 438.3l-1.5-.8 2-.8 1.4 .8z"/>
<path fill="#49c888" d="M345.4 446.6l-1.4-1.6 1.9-.6 1.5 1.6z"/>
<path fill="#4ec884" d="M260.8 445.9l-1.5-.6 2-2 1.4 .6z"/>
<path fill="#89c755" d="M280.1 439.2l-1.5-.7 2-.9 1.4 .7z"/>
<path fill="#40c890" d="M348.8 447.7l-1.4-1.7 1.9-.6 1.4 1.7z"/>
<path fill="#3e26a8" d="M251.9 500.6l-1.5-.8 1.9-29.5 1.5 .7z"/>
<path fill="#69c76e" d="M266.1 442.9l-1.5-.7 2-1.5 1.4 .7z"/>
<path fill="#37c897" d="M352.2 448.7l-1.5-1.6 2-.6 1.4 1.7z"/>
<path fill="#34c69b" d="M355.6 449.7l-1.5-1.5 1.9-.6 1.5 1.6z"/>
<path fill="#afc739" d="M327 434.6l-1.5-1.3 1.9-1.2 1.5 1.5z"/>
<path fill="#90c74f" d="M333.8 438.3l-1.5-3.9 1.9-.8 1.5 3.9z"/>
<path fill="#23bcb9" d="M372.6 456.1l-1.5-1.9 1.9-.6 1.5 1.9z"/>
<path fill="#32c5a0" d="M359 450.8l-1.5-1.6 1.9-.6 1.5 1.6z"/>
<path fill="#98c748" d="M300.9 437.6l-1.5-.9 1.9-.9 1.5 .8z"/>
<path fill="#20babe" d="M376 457.2l-1.5-1.7 1.9-.5 1.5 1.6z"/>
<path fill="#a0c742" d="M309.6 436.6l-1.5-1.1 1.9-1.2 1.5 1.1z"/>
<path fill="#aac73a" d="M318.3 435.5l-1.5-1.2 1.9-1.3 1.5 1.3z"/>
<path fill="#27beb2" d="M369.2 454.7l-1.5-2 1.9-.6 1.5 2.1z"/>
<path fill="#2fc3a5" d="M362.4 451.9l-1.5-1.7 1.9-.5 1.5 1.7z"/>
<path fill="#2bc1ab" d="M365.8 453.3l-1.5-1.9 1.9-.6 1.5 1.9z"/>
<path fill="#92c74d" d="M292.2 438.3l-1.5-.8 1.9-.8 1.5 .8z"/>
<path fill="#1eb9c1" d="M379.4 457.9l-1.5-1.3 1.9-.5 1.5 1.2z"/>
<path fill="#209ce6" d="M249.4 468.9l-1.5-.7 1.9-5.8 1.5 .7z"/>
<path fill="#abc739" d="M330.4 435.3l-1.5-1.7 1.9-1 1.5 1.8z"/>
<path fill="#6ac76e" d="M335.3 442.8l-1.5-4.5 1.9-.8 1.5 4.7z"/>
<path fill="#81c75b" d="M274.8 440.4l-1.5-.7 2-1 1.4 .7z"/>
<path fill="#8cc752" d="M283.5 439.1l-1.5-.8 2-.8 1.4 .8z"/>
<path fill="#3cc893" d="M258.9 448.3l-1.5-.7 1.9-2.3 1.5 .6z"/>
<path fill="#1db8c2" d="M382.7 458.4l-1.4-1.1 1.9-.5 1.5 1z"/>
<path fill="#abc739" d="M321.7 435.5l-1.5-1.2 1.9-1.2 1.5 1.3z"/>
<path fill="#9ac747" d="M304.3 437.5l-1.5-.9 1.9-1 1.5 1z"/>
<path fill="#a2c740" d="M313 436.6l-1.5-1.2 1.9-1.2 1.5 1.2z"/>
<path fill="#73c766" d="M269.5 442.1l-1.5-.7 2-1.3 1.4 .7z"/>
<path fill="#94c74c" d="M295.6 438.3l-1.5-.8 1.9-.8 1.5 .9z"/>
<path fill="#5ec878" d="M264.2 444.6l-1.5-.7 1.9-1.7 1.5 .7z"/>
<path fill="#32c5a0" d="M257 451.1l-1.5-.7 1.9-2.8 1.5 .7z"/>
<path fill="#1db8c3" d="M386.1 458.8l-1.4-1 1.9-.6 1.4 1z"/>
<path fill="#8ec750" d="M286.9 439.1l-1.5-.8 1.9-.8 1.5 .8z"/>
<path fill="#13afd8" d="M251.3 463.1l-1.5-.7 1.9-4.7 1.5 .6z"/>
<path fill="#52c882" d="M340.1 446.1l-1.4-1.7 1.9-.5 1.4 1.6z"/>
<path fill="#5bc87a" d="M336.7 445l-1.4-2.2 1.9-.6 1.5 2.2z"/>
<path fill="#85c757" d="M278.2 440.1l-1.5-.7 1.9-.9 1.5 .7z"/>
<path fill="#49c888" d="M343.5 447.1l-1.5-1.6 2-.5 1.4 1.6z"/>
<path fill="#acc739" d="M325.1 435.7l-1.5-1.3 1.9-1.1 1.5 1.3z"/>
<path fill="#40c890" d="M346.9 448.2l-1.5-1.6 2-.6 1.4 1.7z"/>
<path fill="#29bfaf" d="M255.1 454.4l-1.5-.7 1.9-3.3 1.5 .7z"/>
<path fill="#a4c73f" d="M316.4 436.6l-1.5-1.2 1.9-1.1 1.5 1.2z"/>
<path fill="#1eb9c2" d="M253.2 458.3l-1.5-.6 1.9-4 1.5 .7z"/>
<path fill="#9cc745" d="M307.7 437.5l-1.5-.9 1.9-1.1 1.5 1.1z"/>
<path fill="#37c897" d="M350.3 449.3l-1.5-1.6 1.9-.6 1.5 1.6z"/>
<path fill="#8ec751" d="M331.9 439l-1.5-3.7 1.9-.9 1.5 3.9z"/>
<path fill="#95c74b" d="M299 438.4l-1.5-.8 1.9-.9 1.5 .9z"/>
<path fill="#34c69b" d="M353.7 450.3l-1.5-1.6 1.9-.5 1.5 1.5z"/>
<path fill="#23bcb9" d="M370.7 456.7l-1.5-2 1.9-.5 1.5 1.9z"/>
<path fill="#32c5a0" d="M357.1 451.4l-1.5-1.7 1.9-.5 1.5 1.6z"/>
<path fill="#20babe" d="M374 457.8l-1.4-1.7 1.9-.6 1.5 1.7z"/>
<path fill="#a8c73c" d="M328.5 436.2l-1.5-1.6 1.9-1 1.5 1.7z"/>
<path fill="#90c74f" d="M290.3 439.1l-1.5-.8 1.9-.8 1.5 .8z"/>
<path fill="#7bc760" d="M272.9 441.5l-1.5-.7 1.9-1.1 1.5 .7z"/>
<path fill="#27beb2" d="M367.3 455.3l-1.5-2 1.9-.6 1.5 2z"/>
<path fill="#2fc3a5" d="M360.5 452.5l-1.5-1.7 1.9-.6 1.5 1.7z"/>
<path fill="#2bc1ab" d="M363.9 453.8l-1.5-1.9 1.9-.5 1.5 1.9z"/>
<path fill="#4fc883" d="M262.3 446.6l-1.5-.7 1.9-2 1.5 .7z"/>
<path fill="#89c754" d="M281.6 439.9l-1.5-.7 1.9-.9 1.5 .8z"/>
<path fill="#1eb9c1" d="M377.4 458.5l-1.4-1.3 1.9-.6 1.5 1.3z"/>
<path fill="#6ac76e" d="M333.4 443.4l-1.5-4.4 1.9-.7 1.5 4.5z"/>
<path fill="#3e26a8" d="M253.4 501.3l-1.5-.7 1.9-29.6 1.5 .7z"/>
<path fill="#6ac76e" d="M267.6 443.6l-1.5-.7 1.9-1.5 1.5 .7z"/>
<path fill="#a6c73d" d="M319.8 436.6l-1.5-1.1 1.9-1.2 1.5 1.2z"/>
<path fill="#9ec744" d="M311.1 437.6l-1.5-1 1.9-1.2 1.5 1.2z"/>
<path fill="#97c749" d="M302.4 438.4l-1.5-.8 1.9-1 1.5 .9z"/>
<path fill="#1db8c2" d="M380.8 458.9l-1.4-1 1.9-.6 1.4 1.1z"/>
<path fill="#92c74d" d="M293.7 439.1l-1.5-.8 1.9-.8 1.5 .8z"/>
<path fill="#1f9ce6" d="M250.8 469.6l-1.4-.7 1.9-5.8 1.4 .7z"/>
<path fill="#81c75b" d="M276.3 441.1l-1.5-.7 1.9-1 1.5 .7z"/>
<path fill="#8cc752" d="M285 439.9l-1.5-.8 1.9-.8 1.5 .8z"/>
<path fill="#3ec892" d="M260.4 448.9l-1.5-.6 1.9-2.4 1.5 .7z"/>
<path fill="#a7c73c" d="M323.2 436.7l-1.5-1.2 1.9-1.1 1.5 1.3z"/>
<path fill="#1db8c3" d="M384.2 459.3l-1.5-.9 2-.6 1.4 1z"/>
<path fill="#52c882" d="M338.2 446.7l-1.5-1.7 2-.6 1.4 1.7z"/>
<path fill="#a0c742" d="M314.5 437.6l-1.5-1 1.9-1.2 1.5 1.2z"/>
<path fill="#5bc87a" d="M334.8 445.6l-1.4-2.2 1.9-.6 1.4 2.2z"/>
<path fill="#49c888" d="M341.6 447.7l-1.5-1.6 1.9-.6 1.5 1.6z"/>
<path fill="#99c748" d="M305.8 438.5l-1.5-1 1.9-.9 1.5 .9z"/>
<path fill="#8cc752" d="M330 439.8l-1.5-3.6 1.9-.9 1.5 3.7z"/>
<path fill="#40c890" d="M345 448.8l-1.5-1.7 1.9-.5 1.5 1.6z"/>
<path fill="#93c74c" d="M297.1 439.2l-1.5-.9 1.9-.7 1.5 .8z"/>
<path fill="#74c766" d="M271 442.8l-1.5-.7 1.9-1.3 1.5 .7z"/>
<path fill="#37c897" d="M348.4 449.8l-1.5-1.6 1.9-.5 1.5 1.6z"/>
<path fill="#5fc877" d="M265.7 445.3l-1.5-.7 1.9-1.7 1.5 .7z"/>
<path fill="#a4c73f" d="M326.6 437.1l-1.5-1.4 1.9-1.1 1.5 1.6z"/>
<path fill="#1cb8c4" d="M387.6 459.7l-1.5-.9 1.9-.6 1.5 1z"/>
<path fill="#34c69b" d="M351.8 450.9l-1.5-1.6 1.9-.6 1.5 1.6z"/>
<path fill="#8ec750" d="M288.4 439.8l-1.5-.7 1.9-.8 1.5 .8z"/>
<path fill="#32c5a0" d="M258.5 451.7l-1.5-.6 1.9-2.8 1.5 .6z"/>
<path fill="#23bcb9" d="M368.7 457.2l-1.4-1.9 1.9-.6 1.5 2z"/>
<path fill="#32c5a0" d="M355.2 451.9l-1.5-1.6 1.9-.6 1.5 1.7z"/>
<path fill="#20babe" d="M372.1 458.3l-1.4-1.6 1.9-.6 1.4 1.7z"/>
<path fill="#13b0d7" d="M252.7 463.8l-1.4-.7 1.9-4.8 1.5 .7z"/>
<path fill="#86c757" d="M279.7 440.9l-1.5-.8 1.9-.9 1.5 .7z"/>
<path fill="#27beb2" d="M365.4 455.8l-1.5-2 1.9-.5 1.5 2z"/>
<path fill="#2fc3a5" d="M358.6 453.1l-1.5-1.7 1.9-.6 1.5 1.7z"/>
<path fill="#a1c741" d="M317.9 437.6l-1.5-1 1.9-1.1 1.5 1.1z"/>
<path fill="#2bc1ab" d="M362 454.4l-1.5-1.9 1.9-.6 1.5 1.9z"/>
<path fill="#6ac76e" d="M331.4 443.9l-1.4-4.1 1.9-.8 1.5 4.4z"/>
<path fill="#9ac747" d="M309.2 438.5l-1.5-1 1.9-.9 1.5 1z"/>
<path fill="#1eb9c1" d="M375.5 459l-1.5-1.2 2-.6 1.4 1.3z"/>
<path fill="#29bfaf" d="M256.6 455l-1.5-.6 1.9-3.3 1.5 .6z"/>
<path fill="#95c74b" d="M300.5 439.2l-1.5-.8 1.9-.8 1.5 .8z"/>
<path fill="#1eb9c1" d="M254.7 459l-1.5-.7 1.9-3.9 1.5 .6z"/>
<path fill="#1db8c2" d="M378.9 459.5l-1.5-1 2-.6 1.4 1z"/>
<path fill="#90c74f" d="M291.8 439.8l-1.5-.7 1.9-.8 1.5 .8z"/>
<path fill="#7bc760" d="M274.4 442.3l-1.5-.8 1.9-1.1 1.5 .7z"/>
<path fill="#a2c740" d="M321.3 437.7l-1.5-1.1 1.9-1.1 1.5 1.2z"/>
<path fill="#89c754" d="M283.1 440.7l-1.5-.8 1.9-.8 1.5 .8z"/>
<path fill="#50c882" d="M263.8 447.2l-1.5-.6 1.9-2 1.5 .7z"/>
<path fill="#9cc746" d="M312.6 438.5l-1.5-.9 1.9-1 1.5 1z"/>
<path fill="#3e26a8" d="M254.8 502.1l-1.4-.8 1.9-29.6 1.4 .7z"/>
<path fill="#6bc76d" d="M269.1 444.3l-1.5-.7 1.9-1.5 1.5 .7z"/>
<path fill="#96c74a" d="M303.9 439.3l-1.5-.9 1.9-.9 1.5 1z"/>
<path fill="#1db8c3" d="M382.3 459.9l-1.5-1 1.9-.5 1.5 .9z"/>
<path fill="#52c882" d="M336.3 447.2l-1.5-1.6 1.9-.6 1.5 1.7z"/>
<path fill="#5bc87a" d="M332.9 446.1l-1.5-2.2 2-.5 1.4 2.2z"/>
<path fill="#8ac754" d="M328 440.5l-1.4-3.4 1.9-.9 1.5 3.6z"/>
<path fill="#49c888" d="M339.7 448.3l-1.5-1.6 1.9-.6 1.5 1.6z"/>
<path fill="#92c74e" d="M295.2 439.9l-1.5-.8 1.9-.8 1.5 .9z"/>
<path fill="#a1c741" d="M324.7 438.1l-1.5-1.4 1.9-1 1.5 1.4z"/>
<path fill="#40c890" d="M343.1 449.4l-1.5-1.7 1.9-.6 1.5 1.7z"/>
<path fill="#37c897" d="M346.5 450.4l-1.5-1.6 1.9-.6 1.5 1.6z"/>
<path fill="#1f9ce6" d="M252.3 470.3l-1.5-.7 1.9-5.8 1.5 .6z"/>
<path fill="#1cb8c4" d="M385.7 460.3l-1.5-1 1.9-.5 1.5 .9z"/>
<path fill="#8cc752" d="M286.5 440.6l-1.5-.7 1.9-.8 1.5 .7z"/>
<path fill="#81c75b" d="M277.8 441.9l-1.5-.8 1.9-1 1.5 .8z"/>
<path fill="#9dc744" d="M316 438.6l-1.5-1 1.9-1 1.5 1z"/>
<path fill="#34c69b" d="M349.9 451.4l-1.5-1.6 1.9-.5 1.5 1.6z"/>
<path fill="#3fc891" d="M261.9 449.6l-1.5-.7 1.9-2.3 1.5 .6z"/>
<path fill="#23bcb9" d="M366.8 457.8l-1.4-2 1.9-.5 1.4 1.9z"/>
<path fill="#32c5a0" d="M353.3 452.5l-1.5-1.6 1.9-.6 1.5 1.6z"/>
<path fill="#97c749" d="M307.3 439.4l-1.5-.9 1.9-1 1.5 1z"/>
<path fill="#20babe" d="M370.2 458.9l-1.5-1.7 2-.5 1.4 1.6z"/>
<path fill="#27beb2" d="M363.4 456.4l-1.4-2 1.9-.6 1.5 2z"/>
<path fill="#2fc3a5" d="M356.7 453.6l-1.5-1.7 1.9-.5 1.5 1.7z"/>
<path fill="#2bc1ab" d="M360 455l-1.4-1.9 1.9-.6 1.5 1.9z"/>
<path fill="#6ac76e" d="M329.5 444.5l-1.5-4 2-.7 1.4 4.1z"/>
<path fill="#1eb9c1" d="M373.6 459.6l-1.5-1.3 1.9-.5 1.5 1.2z"/>
<path fill="#93c74d" d="M298.6 440l-1.5-.8 1.9-.8 1.5 .8z"/>
<path fill="#1bb7c6" d="M389.1 460.8l-1.5-1.1 1.9-.5 1.5 1z"/>
<path fill="#74c765" d="M272.5 443.5l-1.5-.7 1.9-1.3 1.5 .8z"/>
<path fill="#60c876" d="M267.2 445.9l-1.5-.6 1.9-1.7 1.5 .7z"/>
<path fill="#9fc743" d="M319.4 438.6l-1.5-1 1.9-1 1.5 1.1z"/>
<path fill="#8ec750" d="M289.9 440.6l-1.5-.8 1.9-.7 1.5 .7z"/>
<path fill="#1db8c2" d="M377 460.1l-1.5-1.1 1.9-.5 1.5 1z"/>
<path fill="#32c59f" d="M260 452.3l-1.5-.6 1.9-2.8 1.5 .7z"/>
<path fill="#86c757" d="M281.2 441.6l-1.5-.7 1.9-1 1.5 .8z"/>
<path fill="#12b0d7" d="M254.2 464.4l-1.5-.6 2-4.8 1.4 .6z"/>
<path fill="#99c748" d="M310.7 439.4l-1.5-.9 1.9-.9 1.5 .9z"/>
<path fill="#94c74c" d="M302 440l-1.5-.8 1.9-.8 1.5 .9z"/>
<path fill="#2ac0ae" d="M258 455.6l-1.4-.6 1.9-3.3 1.5 .6z"/>
<path fill="#1eb9c0" d="M256.1 459.6l-1.4-.6 1.9-4 1.4 .6z"/>
<path fill="#88c755" d="M326.1 441.3l-1.4-3.2 1.9-1 1.4 3.4z"/>
<path fill="#1db8c3" d="M380.4 460.5l-1.5-1 1.9-.6 1.5 1z"/>
<path fill="#9ec744" d="M322.7 438.9l-1.4-1.2 1.9-1 1.5 1.4z"/>
<path fill="#52c882" d="M334.4 447.8l-1.5-1.7 1.9-.5 1.5 1.6z"/>
<path fill="#5bc87a" d="M331 446.7l-1.5-2.2 1.9-.6 1.5 2.2z"/>
<path fill="#90c74f" d="M293.3 440.6l-1.5-.8 1.9-.7 1.5 .8z"/>
<path fill="#49c888" d="M337.8 448.8l-1.5-1.6 1.9-.5 1.5 1.6z"/>
<path fill="#7cc75f" d="M275.9 443l-1.5-.7 1.9-1.2 1.5 .8z"/>
<path fill="#40c890" d="M341.2 449.9l-1.5-1.6 1.9-.6 1.5 1.7z"/>
<path fill="#9ac747" d="M314 439.5l-1.4-1 1.9-.9 1.5 1z"/>
<path fill="#8ac754" d="M284.6 441.4l-1.5-.7 1.9-.8 1.5 .7z"/>
<path fill="#37c897" d="M344.6 451l-1.5-1.6 1.9-.6 1.5 1.6z"/>
<path fill="#52c882" d="M265.3 447.9l-1.5-.7 1.9-1.9 1.5 .6z"/>
<path fill="#3e26a8" d="M256.3 502.8l-1.5-.7 1.9-29.7 1.5 .7z"/>
<path fill="#1cb8c4" d="M383.8 460.9l-1.5-1 1.9-.6 1.5 1z"/>
<path fill="#95c74b" d="M305.4 440.1l-1.5-.8 1.9-.8 1.5 .9z"/>
<path fill="#34c69b" d="M348 452l-1.5-1.6 1.9-.6 1.5 1.6z"/>
<path fill="#6cc76c" d="M270.6 444.9l-1.5-.6 1.9-1.5 1.5 .7z"/>
<path fill="#23bcb9" d="M364.9 458.4l-1.5-2 2-.6 1.4 2z"/>
<path fill="#32c5a0" d="M351.4 453.1l-1.5-1.7 1.9-.5 1.5 1.6z"/>
<path fill="#20babe" d="M368.3 459.5l-1.5-1.7 1.9-.6 1.5 1.7z"/>
<path fill="#27beb2" d="M361.5 457l-1.5-2 2-.6 1.4 2z"/>
<path fill="#69c76e" d="M327.6 445.1l-1.5-3.8 1.9-.8 1.5 4z"/>
<path fill="#2fc3a5" d="M354.7 454.2l-1.4-1.7 1.9-.6 1.5 1.7z"/>
<path fill="#2bc1ab" d="M358.1 455.5l-1.4-1.9 1.9-.5 1.4 1.9z"/>
<path fill="#91c74e" d="M296.7 440.7l-1.5-.8 1.9-.7 1.5 .8z"/>
<path fill="#1eb9c1" d="M371.7 460.2l-1.5-1.3 1.9-.6 1.5 1.3z"/>
<path fill="#1bb7c6" d="M387.2 461.3l-1.5-1 1.9-.6 1.5 1.1z"/>
<path fill="#9bc746" d="M317.4 439.5l-1.4-.9 1.9-1 1.5 1z"/>
<path fill="#8cc752" d="M288 441.4l-1.5-.8 1.9-.8 1.5 .8z"/>
<path fill="#1f9de6" d="M253.8 471l-1.5-.7 1.9-5.9 1.5 .7z"/>
<path fill="#82c75b" d="M279.3 442.6l-1.5-.7 1.9-1 1.5 .7z"/>
<path fill="#96c74a" d="M308.7 440.2l-1.4-.8 1.9-.9 1.5 .9z"/>
<path fill="#1db8c2" d="M375.1 460.6l-1.5-1 1.9-.6 1.5 1.1z"/>
<path fill="#40c890" d="M263.4 450.2l-1.5-.6 1.9-2.4 1.5 .7z"/>
<path fill="#1ab6c8" d="M390.6 462l-1.5-1.2 1.9-.6 1.5 1.2z"/>
<path fill="#92c74d" d="M300 440.8l-1.4-.8 1.9-.8 1.5 .8z"/>
<path fill="#86c757" d="M324.2 442l-1.5-3.1 2-.8 1.4 3.2z"/>
<path fill="#9bc746" d="M320.8 439.8l-1.4-1.2 1.9-.9 1.4 1.2z"/>
<path fill="#75c765" d="M274 444.2l-1.5-.7 1.9-1.2 1.5 .7z"/>
<path fill="#1db8c3" d="M378.5 461l-1.5-.9 1.9-.6 1.5 1z"/>
<path fill="#61c875" d="M268.7 446.6l-1.5-.7 1.9-1.6 1.5 .6z"/>
<path fill="#52c882" d="M332.5 448.4l-1.5-1.7 1.9-.6 1.5 1.7z"/>
<path fill="#8ec750" d="M291.4 441.4l-1.5-.8 1.9-.8 1.5 .8z"/>
<path fill="#5bc87a" d="M329.1 447.3l-1.5-2.2 1.9-.6 1.5 2.2z"/>
<path fill="#97c749" d="M312.1 440.3l-1.4-.9 1.9-.9 1.4 1z"/>
<path fill="#49c888" d="M335.9 449.4l-1.5-1.6 1.9-.6 1.5 1.6z"/>
<path fill="#86c757" d="M282.7 442.3l-1.5-.7 1.9-.9 1.5 .7z"/>
<path fill="#33c59e" d="M261.4 452.9l-1.4-.6 1.9-2.7 1.5 .6z"/>
<path fill="#12b0d7" d="M255.7 465.1l-1.5-.7 1.9-4.8 1.5 .6z"/>
<path fill="#40c890" d="M339.3 450.5l-1.5-1.7 1.9-.5 1.5 1.6z"/>
<path fill="#37c897" d="M342.7 451.5l-1.5-1.6 1.9-.5 1.5 1.6z"/>
<path fill="#93c74c" d="M303.4 440.9l-1.4-.9 1.9-.7 1.5 .8z"/>
<path fill="#1cb8c4" d="M381.9 461.4l-1.5-.9 1.9-.6 1.5 1z"/>
<path fill="#34c69b" d="M346 452.6l-1.4-1.6 1.9-.6 1.5 1.6z"/>
<path fill="#2ac0ad" d="M259.5 456.2l-1.5-.6 2-3.3 1.4 .6z"/>
<path fill="#1fb9c0" d="M257.6 460.2l-1.5-.6 1.9-4 1.5 .6z"/>
<path fill="#23bcb9" d="M363 458.9l-1.5-1.9 1.9-.6 1.5 2z"/>
<path fill="#32c5a0" d="M349.4 453.6l-1.4-1.6 1.9-.6 1.5 1.7z"/>
<path fill="#20babe" d="M366.4 460l-1.5-1.6 1.9-.6 1.5 1.7z"/>
<path fill="#69c76e" d="M325.7 445.6l-1.5-3.6 1.9-.7 1.5 3.8z"/>
<path fill="#90c74f" d="M294.7 441.4l-1.4-.8 1.9-.7 1.5 .8z"/>
<path fill="#27beb2" d="M359.6 457.5l-1.5-2 1.9-.5 1.5 2z"/>
<path fill="#2fc3a5" d="M352.8 454.8l-1.4-1.7 1.9-.6 1.4 1.7z"/>
<path fill="#98c748" d="M315.5 440.4l-1.5-.9 2-.9 1.4 .9z"/>
<path fill="#2bc1ab" d="M356.2 456.1l-1.5-1.9 2-.6 1.4 1.9z"/>
<path fill="#7cc75f" d="M277.4 443.7l-1.5-.7 1.9-1.1 1.5 .7z"/>
<path fill="#1eb9c1" d="M369.8 460.7l-1.5-1.2 1.9-.6 1.5 1.3z"/>
<path fill="#1bb7c6" d="M385.3 461.9l-1.5-1 1.9-.6 1.5 1z"/>
<path fill="#8ac754" d="M286 442.2l-1.4-.8 1.9-.8 1.5 .8z"/>
<path fill="#94c74c" d="M306.8 441l-1.4-.9 1.9-.7 1.4 .8z"/>
<path fill="#53c881" d="M266.7 448.5l-1.4-.6 1.9-2 1.5 .7z"/>
<path fill="#3e26a8" d="M257.8 503.6l-1.5-.8 1.9-29.7 1.5 .7z"/>
<path fill="#6cc76c" d="M272 445.6l-1.4-.7 1.9-1.4 1.5 .7z"/>
<path fill="#1db8c2" d="M373.2 461.2l-1.5-1 1.9-.6 1.5 1z"/>
<path fill="#1ab6c8" d="M388.7 462.5l-1.5-1.2 1.9-.5 1.5 1.2z"/>
<path fill="#91c74e" d="M298.1 441.5l-1.4-.8 1.9-.7 1.4 .8z"/>
<path fill="#98c748" d="M318.9 440.6l-1.5-1.1 2-.9 1.4 1.2z"/>
<path fill="#85c758" d="M322.3 442.7l-1.5-2.9 1.9-.9 1.5 3.1z"/>
<path fill="#18b5cc" d="M392.1 463.4l-1.5-1.4 1.9-.6 1.5 1.4z"/>
<path fill="#8cc752" d="M289.4 442.1l-1.4-.7 1.9-.8 1.5 .8z"/>
<path fill="#95c74b" d="M310.2 441.1l-1.5-.9 2-.8 1.4 .9z"/>
<path fill="#82c75a" d="M280.7 443.3l-1.4-.7 1.9-1 1.5 .7z"/>
<path fill="#1f9de6" d="M255.3 471.7l-1.5-.7 1.9-5.9 1.5 .6z"/>
<path fill="#1db8c3" d="M376.6 461.6l-1.5-1 1.9-.5 1.5 .9z"/>
<path fill="#52c882" d="M330.6 448.9l-1.5-1.6 1.9-.6 1.5 1.7z"/>
<path fill="#5bc87a" d="M327.2 447.8l-1.5-2.2 1.9-.5 1.5 2.2z"/>
<path fill="#49c888" d="M334 450l-1.5-1.6 1.9-.6 1.5 1.6z"/>
<path fill="#41c88f" d="M264.8 450.8l-1.4-.6 1.9-2.3 1.4 .6z"/>
<path fill="#40c890" d="M337.4 451.1l-1.5-1.7 1.9-.6 1.5 1.7z"/>
<path fill="#92c74d" d="M301.5 441.6l-1.5-.8 2-.8 1.4 .9z"/>
<path fill="#37c897" d="M340.7 452.1l-1.4-1.6 1.9-.6 1.5 1.6z"/>
<path fill="#1cb8c4" d="M380 462l-1.5-1 1.9-.5 1.5 .9z"/>
<path fill="#76c764" d="M275.4 444.9l-1.4-.7 1.9-1.2 1.5 .7z"/>
<path fill="#34c69b" d="M344.1 453.1l-1.4-1.6 1.9-.5 1.4 1.6z"/>
<path fill="#96c74a" d="M313.6 441.2l-1.5-.9 1.9-.8 1.5 .9z"/>
<path fill="#8ec751" d="M292.8 442.1l-1.4-.7 1.9-.8 1.4 .8z"/>
<path fill="#62c875" d="M270.1 447.3l-1.4-.7 1.9-1.7 1.4 .7z"/>
<path fill="#69c76e" d="M323.8 446.2l-1.5-3.5 1.9-.7 1.5 3.6z"/>
<path fill="#23bcb9" d="M361.1 459.5l-1.5-2 1.9-.5 1.5 1.9z"/>
<path fill="#32c5a0" d="M347.5 454.2l-1.5-1.6 2-.6 1.4 1.6z"/>
<path fill="#20babe" d="M364.5 460.6l-1.5-1.7 1.9-.5 1.5 1.6z"/>
<path fill="#27beb2" d="M357.7 458.1l-1.5-2 1.9-.6 1.5 2z"/>
<path fill="#2fc3a5" d="M350.9 455.3l-1.5-1.7 2-.5 1.4 1.7z"/>
<path fill="#2bc1ab" d="M354.3 456.7l-1.5-1.9 1.9-.6 1.5 1.9z"/>
<path fill="#86c757" d="M284.1 443.1l-1.4-.8 1.9-.9 1.4 .8z"/>
<path fill="#33c69d" d="M262.9 453.6l-1.5-.7 2-2.7 1.4 .6z"/>
<path fill="#1eb9c1" d="M367.9 461.3l-1.5-1.3 1.9-.5 1.5 1.2z"/>
<path fill="#12b1d6" d="M257.2 465.7l-1.5-.6 1.9-4.9 1.5 .7z"/>
<path fill="#1bb7c6" d="M383.4 462.5l-1.5-1.1 1.9-.5 1.5 1z"/>
<path fill="#93c74d" d="M304.9 441.7l-1.5-.8 2-.8 1.4 .9z"/>
<path fill="#2ac0ac" d="M261 456.9l-1.5-.7 1.9-3.3 1.5 .7z"/>
<path fill="#96c74a" d="M317 441.4l-1.5-1 1.9-.9 1.5 1.1z"/>
<path fill="#1db8c2" d="M371.3 461.8l-1.5-1.1 1.9-.5 1.5 1z"/>
<path fill="#1fb9bf" d="M259.1 460.9l-1.5-.7 1.9-4 1.5 .7z"/>
<path fill="#90c74f" d="M296.2 442.2l-1.5-.8 2-.7 1.4 .8z"/>
<path fill="#83c759" d="M320.4 443.4l-1.5-2.8 1.9-.8 1.5 2.9z"/>
<path fill="#1ab6c8" d="M386.8 463.1l-1.5-1.2 1.9-.6 1.5 1.2z"/>
<path fill="#7dc75e" d="M278.8 444.4l-1.4-.7 1.9-1.1 1.4 .7z"/>
<path fill="#3e26a8" d="M403.9 505.9l-1.5-12.1 1.9-.6 1.5 12.1z"/>
<path fill="#8ac754" d="M287.5 442.9l-1.5-.7 2-.8 1.4 .7z"/>
<path fill="#93c74c" d="M308.3 441.8l-1.5-.8 1.9-.8 1.5 .9z"/>
<path fill="#18b5cc" d="M390.1 463.9l-1.4-1.4 1.9-.5 1.5 1.4z"/>
<path fill="#3e26a8" d="M259.3 504.3l-1.5-.7 1.9-29.8 1.5 .7z"/>
<path fill="#54c880" d="M268.2 449.2l-1.5-.7 2-1.9 1.4 .7z"/>
<path fill="#1db8c3" d="M374.7 462.2l-1.5-1 1.9-.6 1.5 1z"/>
<path fill="#52c882" d="M328.7 449.5l-1.5-1.7 1.9-.5 1.5 1.6z"/>
<path fill="#5bc87a" d="M325.3 448.4l-1.5-2.2 1.9-.6 1.5 2.2z"/>
<path fill="#6dc76b" d="M273.5 446.3l-1.5-.7 2-1.4 1.4 .7z"/>
<path fill="#15b3d0" d="M393.5 465l-1.4-1.6 1.9-.6 1.4 1.6z"/>
<path fill="#49c888" d="M332 450.5l-1.4-1.6 1.9-.5 1.5 1.6z"/>
<path fill="#91c74e" d="M299.6 442.3l-1.5-.8 1.9-.7 1.5 .8z"/>
<path fill="#40c890" d="M335.4 451.6l-1.4-1.6 1.9-.6 1.5 1.7z"/>
<path fill="#37c897" d="M338.8 452.7l-1.4-1.6 1.9-.6 1.4 1.6z"/>
<path fill="#1cb8c4" d="M378.1 462.6l-1.5-1 1.9-.6 1.5 1z"/>
<path fill="#94c74c" d="M311.7 441.9l-1.5-.8 1.9-.8 1.5 .9z"/>
<path fill="#34c69b" d="M342.2 453.7l-1.5-1.6 2-.6 1.4 1.6z"/>
<path fill="#8cc752" d="M290.9 442.9l-1.5-.8 2-.7 1.4 .7z"/>
<path fill="#82c75a" d="M282.2 444l-1.5-.7 2-1 1.4 .8z"/>
<path fill="#69c76e" d="M321.9 446.8l-1.5-3.4 1.9-.7 1.5 3.5z"/>
<path fill="#1f9de6" d="M256.7 472.4l-1.4-.7 1.9-6 1.5 .7z"/>
<path fill="#23bcb9" d="M359.2 460l-1.5-1.9 1.9-.6 1.5 2z"/>
<path fill="#32c5a0" d="M345.6 454.8l-1.5-1.7 1.9-.5 1.5 1.6z"/>
<path fill="#20babe" d="M362.6 461.2l-1.5-1.7 1.9-.6 1.5 1.7z"/>
<path fill="#27beb2" d="M355.8 458.7l-1.5-2 1.9-.6 1.5 2z"/>
<path fill="#2fc3a5" d="M349 455.9l-1.5-1.7 1.9-.6 1.5 1.7z"/>
<path fill="#2bc1ab" d="M352.4 457.2l-1.5-1.9 1.9-.5 1.5 1.9z"/>
<path fill="#42c88e" d="M266.3 451.5l-1.5-.7 1.9-2.3 1.5 .7z"/>
<path fill="#91c74e" d="M303 442.4l-1.5-.8 1.9-.7 1.5 .8z"/>
<path fill="#1eb9c1" d="M366 461.9l-1.5-1.3 1.9-.6 1.5 1.3z"/>
<path fill="#1bb7c6" d="M381.4 463l-1.4-1 1.9-.6 1.5 1.1z"/>
<path fill="#94c74b" d="M315.1 442.1l-1.5-.9 1.9-.8 1.5 1z"/>
<path fill="#76c764" d="M276.9 445.6l-1.5-.7 2-1.2 1.4 .7z"/>
<path fill="#8ec751" d="M294.3 442.9l-1.5-.8 1.9-.7 1.5 .8z"/>
<path fill="#82c75a" d="M318.5 444.1l-1.5-2.7 1.9-.8 1.5 2.8z"/>
<path fill="#1db8c2" d="M369.4 462.3l-1.5-1 1.9-.6 1.5 1.1z"/>
<path fill="#62c874" d="M271.6 447.9l-1.5-.6 1.9-1.7 1.5 .7z"/>
<path fill="#1ab6c8" d="M384.8 463.6l-1.4-1.1 1.9-.6 1.5 1.2z"/>
<path fill="#87c757" d="M285.6 443.8l-1.5-.7 1.9-.9 1.5 .7z"/>
<path fill="#3e26a8" d="M402 506.4l-1.5-12.1 1.9-.5 1.5 12.1z"/>
<path fill="#92c74d" d="M306.4 442.5l-1.5-.8 1.9-.7 1.5 .8z"/>
<path fill="#34c69d" d="M264.4 454.2l-1.5-.6 1.9-2.8 1.5 .7z"/>
<path fill="#12b1d6" d="M258.7 466.4l-1.5-.7 1.9-4.8 1.5 .6z"/>
<path fill="#18b5cc" d="M388.2 464.5l-1.4-1.4 1.9-.6 1.4 1.4z"/>
<path fill="#1db8c3" d="M372.8 462.7l-1.5-.9 1.9-.6 1.5 1z"/>
<path fill="#52c882" d="M326.7 450.1l-1.4-1.7 1.9-.6 1.5 1.7z"/>
<path fill="#5bc87a" d="M323.4 449l-1.5-2.2 1.9-.6 1.5 2.2z"/>
<path fill="#15b3d0" d="M391.6 465.5l-1.5-1.6 2-.5 1.4 1.6z"/>
<path fill="#8fc750" d="M297.7 443l-1.5-.8 1.9-.7 1.5 .8z"/>
<path fill="#49c888" d="M330.1 451.1l-1.4-1.6 1.9-.6 1.4 1.6z"/>
<path fill="#2bc1ac" d="M262.5 457.5l-1.5-.6 1.9-3.3 1.5 .6z"/>
<path fill="#12b1d6" d="M395 466.7l-1.5-1.7 1.9-.6 1.5 1.8z"/>
<path fill="#20babe" d="M260.6 461.5l-1.5-.6 1.9-4 1.5 .6z"/>
<path fill="#40c890" d="M333.5 452.2l-1.5-1.7 2-.5 1.4 1.6z"/>
<path fill="#7dc75e" d="M280.3 445.1l-1.5-.7 1.9-1.1 1.5 .7z"/>
<path fill="#37c897" d="M336.9 453.2l-1.5-1.6 2-.5 1.4 1.6z"/>
<path fill="#93c74d" d="M309.8 442.6l-1.5-.8 1.9-.7 1.5 .8z"/>
<path fill="#8ac754" d="M289 443.7l-1.5-.8 1.9-.8 1.5 .8z"/>
<path fill="#1cb8c4" d="M376.1 463.1l-1.4-.9 1.9-.6 1.5 1z"/>
<path fill="#34c69b" d="M340.3 454.3l-1.5-1.6 1.9-.6 1.5 1.6z"/>
<path fill="#3e26a8" d="M260.8 505.1l-1.5-.8 1.9-29.8 1.5 .7z"/>
<path fill="#69c76e" d="M320 447.3l-1.5-3.2 1.9-.7 1.5 3.4z"/>
<path fill="#55c87f" d="M269.7 449.8l-1.5-.6 1.9-1.9 1.5 .6z"/>
<path fill="#23bcb9" d="M357.3 460.6l-1.5-1.9 1.9-.6 1.5 1.9z"/>
<path fill="#32c5a0" d="M343.7 455.3l-1.5-1.6 1.9-.6 1.5 1.7z"/>
<path fill="#20babe" d="M360.7 461.7l-1.5-1.7 1.9-.5 1.5 1.7z"/>
<path fill="#6ec76b" d="M275 447l-1.5-.7 1.9-1.4 1.5 .7z"/>
<path fill="#27beb2" d="M353.9 459.2l-1.5-2 1.9-.5 1.5 2z"/>
<path fill="#2fc3a5" d="M347.1 456.4l-1.5-1.6 1.9-.6 1.5 1.7z"/>
<path fill="#2bc1ab" d="M350.5 457.8l-1.5-1.9 1.9-.6 1.5 1.9z"/>
<path fill="#90c74f" d="M301.1 443.1l-1.5-.8 1.9-.7 1.5 .8z"/>
<path fill="#1eb9c1" d="M364.1 462.4l-1.5-1.2 1.9-.6 1.5 1.3z"/>
<path fill="#1bb7c6" d="M379.5 463.6l-1.4-1 1.9-.6 1.4 1z"/>
<path fill="#93c74d" d="M313.2 442.8l-1.5-.9 1.9-.7 1.5 .9z"/>
<path fill="#8cc752" d="M292.4 443.6l-1.5-.7 1.9-.8 1.5 .8z"/>
<path fill="#81c75b" d="M316.6 444.8l-1.5-2.7 1.9-.7 1.5 2.7z"/>
<path fill="#83c75a" d="M283.7 444.7l-1.5-.7 1.9-.9 1.5 .7z"/>
<path fill="#1db8c2" d="M367.4 462.9l-1.4-1 1.9-.6 1.5 1z"/>
<path fill="#1f9de5" d="M258.2 473.1l-1.5-.7 2-6 1.4 .6z"/>
<path fill="#1ab6c8" d="M382.9 464.2l-1.5-1.2 2-.5 1.4 1.1z"/>
<path fill="#4752f3" d="M402.4 493.8l-1.5-10.1 1.9-.6 1.5 10.1z"/>
<path fill="#91c74e" d="M304.5 443.2l-1.5-.8 1.9-.7 1.5 .8z"/>
<path fill="#3e26a8" d="M400.1 507l-1.5-12.1 1.9-.6 1.5 12.1z"/>
<path fill="#44c88d" d="M267.8 452.1l-1.5-.6 1.9-2.3 1.5 .6z"/>
<path fill="#18b5cc" d="M386.3 465.1l-1.5-1.5 2-.5 1.4 1.4z"/>
<path fill="#1db8c3" d="M370.8 463.3l-1.4-1 1.9-.5 1.5 .9z"/>
<path fill="#77c763" d="M278.4 446.3l-1.5-.7 1.9-1.2 1.5 .7z"/>
<path fill="#51c882" d="M324.8 450.6l-1.4-1.6 1.9-.6 1.4 1.7z"/>
<path fill="#8ec751" d="M295.8 443.7l-1.5-.8 1.9-.7 1.5 .8z"/>
<path fill="#5ac87a" d="M321.4 449.6l-1.4-2.3 1.9-.5 1.5 2.2z"/>
<path fill="#15b3d0" d="M389.7 466.1l-1.5-1.6 1.9-.6 1.5 1.6z"/>
<path fill="#15acda" d="M396.5 468.9l-1.5-2.2 1.9-.5 1.5 2.2z"/>
<path fill="#49c888" d="M328.2 451.7l-1.5-1.6 2-.6 1.4 1.6z"/>
<path fill="#12b1d6" d="M393.1 467.3l-1.5-1.8 1.9-.5 1.5 1.7z"/>
<path fill="#63c873" d="M273.1 448.6l-1.5-.7 1.9-1.6 1.5 .7z"/>
<path fill="#87c756" d="M287.1 444.5l-1.5-.7 1.9-.9 1.5 .8z"/>
<path fill="#40c890" d="M331.6 452.8l-1.5-1.7 1.9-.6 1.5 1.7z"/>
<path fill="#92c74e" d="M307.9 443.3l-1.5-.8 1.9-.7 1.5 .8z"/>
<path fill="#37c897" d="M335 453.8l-1.5-1.6 1.9-.6 1.5 1.6z"/>
<path fill="#34c69c" d="M265.9 454.8l-1.5-.6 1.9-2.7 1.5 .6z"/>
<path fill="#1cb8c4" d="M374.2 463.7l-1.4-1 1.9-.5 1.4 .9z"/>
<path fill="#12b1d6" d="M260.1 467l-1.4-.6 1.9-4.9 1.4 .6z"/>
<path fill="#34c69b" d="M338.4 454.8l-1.5-1.6 1.9-.5 1.5 1.6z"/>
<path fill="#69c76e" d="M318 447.9l-1.4-3.1 1.9-.7 1.5 3.2z"/>
<path fill="#23bcb9" d="M355.4 461.2l-1.5-2 1.9-.5 1.5 1.9z"/>
<path fill="#32c5a0" d="M341.8 455.9l-1.5-1.6 1.9-.6 1.5 1.6z"/>
<path fill="#20babe" d="M358.8 462.3l-1.5-1.7 1.9-.6 1.5 1.7z"/>
<path fill="#27beb2" d="M352 459.8l-1.5-2 1.9-.6 1.5 2z"/>
<path fill="#8fc750" d="M299.2 443.7l-1.5-.7 1.9-.7 1.5 .8z"/>
<path fill="#2fc3a5" d="M345.2 457l-1.5-1.7 1.9-.5 1.5 1.6z"/>
<path fill="#2bc1ab" d="M348.6 458.3l-1.5-1.9 1.9-.5 1.5 1.9z"/>
<path fill="#2bc1ab" d="M264 458.1l-1.5-.6 1.9-3.3 1.5 .6z"/>
<path fill="#1eb9c1" d="M362.1 463l-1.4-1.3 1.9-.5 1.5 1.2z"/>
<path fill="#20babe" d="M262 462.1l-1.4-.6 1.9-4 1.5 .6z"/>
<path fill="#1bb7c6" d="M377.6 464.2l-1.5-1.1 2-.5 1.4 1z"/>
<path fill="#92c74d" d="M311.3 443.5l-1.5-.9 1.9-.7 1.5 .9z"/>
<path fill="#7ec75e" d="M281.8 445.8l-1.5-.7 1.9-1.1 1.5 .7z"/>
<path fill="#8ac754" d="M290.5 444.4l-1.5-.7 1.9-.8 1.5 .7z"/>
<path fill="#80c75c" d="M314.7 445.4l-1.5-2.6 1.9-.7 1.5 2.7z"/>
<path fill="#3e26a8" d="M262.2 505.9l-1.4-.8 1.9-29.9 1.4 .7z"/>
<path fill="#1db8c2" d="M365.5 463.5l-1.4-1.1 1.9-.5 1.4 1z"/>
<path fill="#337cf6" d="M400.9 483.7l-1.5-5.9 2-.6 1.4 5.9z"/>
<path fill="#56c87e" d="M271.2 450.5l-1.5-.7 1.9-1.9 1.5 .7z"/>
<path fill="#1ca2e2" d="M398 472.4l-1.5-3.5 1.9-.5 1.5 3.5z"/>
<path fill="#1ab6c8" d="M381 464.8l-1.5-1.2 1.9-.6 1.5 1.2z"/>
<path fill="#6fc76a" d="M276.5 447.7l-1.5-.7 1.9-1.4 1.5 .7z"/>
<path fill="#4752f3" d="M400.5 494.3l-1.5-10.1 1.9-.5 1.5 10.1z"/>
<path fill="#90c74f" d="M302.6 443.8l-1.5-.7 1.9-.7 1.5 .8z"/>
<path fill="#3e26a8" d="M398.2 507.6l-1.5-12.1 1.9-.6 1.5 12.1z"/>
<path fill="#2791ef" d="M399.4 477.8l-1.4-5.4 1.9-.5 1.5 5.3z"/>
<path fill="#18b5cc" d="M384.4 465.6l-1.5-1.4 1.9-.6 1.5 1.5z"/>
<path fill="#8cc752" d="M293.9 444.4l-1.5-.8 1.9-.7 1.5 .8z"/>
<path fill="#1db8c3" d="M368.9 463.9l-1.5-1 2-.6 1.4 1z"/>
<path fill="#51c882" d="M322.9 451.2l-1.5-1.6 2-.6 1.4 1.6z"/>
<path fill="#5ac87a" d="M319.5 450.1l-1.5-2.2 2-.6 1.4 2.3z"/>
<path fill="#83c759" d="M285.2 445.5l-1.5-.8 1.9-.9 1.5 .7z"/>
<path fill="#15b3d0" d="M387.8 466.7l-1.5-1.6 1.9-.6 1.5 1.6z"/>
<path fill="#15acda" d="M394.6 469.5l-1.5-2.2 1.9-.6 1.5 2.2z"/>
<path fill="#49c888" d="M326.3 452.2l-1.5-1.6 1.9-.5 1.5 1.6z"/>
<path fill="#1f9ee5" d="M259.7 473.8l-1.5-.7 1.9-6.1 1.5 .7z"/>
<path fill="#12b1d6" d="M391.2 467.9l-1.5-1.8 1.9-.6 1.5 1.8z"/>
<path fill="#91c74e" d="M306 444l-1.5-.8 1.9-.7 1.5 .8z"/>
<path fill="#40c890" d="M329.7 453.3l-1.5-1.6 1.9-.6 1.5 1.7z"/>
<path fill="#37c897" d="M333.1 454.4l-1.5-1.6 1.9-.6 1.5 1.6z"/>
<path fill="#45c88c" d="M269.3 452.7l-1.5-.6 1.9-2.3 1.5 .7z"/>
<path fill="#1cb8c4" d="M372.3 464.2l-1.5-.9 2-.6 1.4 1z"/>
<path fill="#69c76f" d="M316.1 448.5l-1.4-3.1 1.9-.6 1.4 3.1z"/>
<path fill="#34c69b" d="M336.5 455.4l-1.5-1.6 1.9-.6 1.5 1.6z"/>
<path fill="#23bcb9" d="M353.4 461.7l-1.4-1.9 1.9-.6 1.5 2z"/>
<path fill="#78c763" d="M279.9 447l-1.5-.7 1.9-1.2 1.5 .7z"/>
<path fill="#32c5a0" d="M339.9 456.5l-1.5-1.7 1.9-.5 1.5 1.6z"/>
<path fill="#8ec751" d="M297.3 444.4l-1.5-.7 1.9-.7 1.5 .7z"/>
<path fill="#20babe" d="M356.8 462.8l-1.4-1.6 1.9-.6 1.5 1.7z"/>
<path fill="#27beb2" d="M350.1 460.4l-1.5-2.1 1.9-.5 1.5 2z"/>
<path fill="#2fc3a5" d="M343.3 457.6l-1.5-1.7 1.9-.6 1.5 1.7z"/>
<path fill="#2bc1ab" d="M346.7 458.9l-1.5-1.9 1.9-.6 1.5 1.9z"/>
<path fill="#64c772" d="M274.6 449.3l-1.5-.7 1.9-1.6 1.5 .7z"/>
<path fill="#87c756" d="M288.6 445.3l-1.5-.8 1.9-.8 1.5 .7z"/>
<path fill="#1eb9c1" d="M360.2 463.5l-1.4-1.2 1.9-.6 1.4 1.3z"/>
<path fill="#91c74e" d="M309.4 444.1l-1.5-.8 1.9-.7 1.5 .9z"/>
<path fill="#1bb7c6" d="M375.7 464.7l-1.5-1 1.9-.6 1.5 1.1z"/>
<path fill="#80c75c" d="M312.7 446.1l-1.4-2.6 1.9-.7 1.5 2.6z"/>
<path fill="#35c69b" d="M267.4 455.5l-1.5-.7 1.9-2.7 1.5 .6z"/>
<path fill="#12b2d5" d="M261.6 467.7l-1.5-.7 1.9-4.9 1.5 .6z"/>
<path fill="#1db8c2" d="M363.6 464l-1.5-1 2-.6 1.4 1.1z"/>
<path fill="#337cf6" d="M399 484.2l-1.5-5.8 1.9-.6 1.5 5.9z"/>
<path fill="#1ca2e2" d="M396.1 473l-1.5-3.5 1.9-.6 1.5 3.5z"/>
<path fill="#8fc750" d="M300.7 444.5l-1.5-.8 1.9-.6 1.5 .7z"/>
<path fill="#1ab6c8" d="M379.1 465.3l-1.5-1.1 1.9-.6 1.5 1.2z"/>
<path fill="#4752f3" d="M398.6 494.9l-1.5-10.1 1.9-.6 1.5 10.1z"/>
<path fill="#3e26a8" d="M396.2 508.1l-1.4-12.1 1.9-.5 1.5 12.1z"/>
<path fill="#2cc1aa" d="M265.4 458.7l-1.4-.6 1.9-3.3 1.5 .7z"/>
<path fill="#21babd" d="M263.5 462.7l-1.5-.6 2-4 1.4 .6z"/>
<path fill="#7ec75d" d="M283.3 446.5l-1.5-.7 1.9-1.1 1.5 .8z"/>
<path fill="#8ac754" d="M292 445.2l-1.5-.8 1.9-.8 1.5 .8z"/>
<path fill="#2791ef" d="M397.5 478.4l-1.4-5.4 1.9-.6 1.4 5.4z"/>
<path fill="#18b5cc" d="M382.5 466.2l-1.5-1.4 1.9-.6 1.5 1.4z"/>
<path fill="#1db8c3" d="M367 464.4l-1.5-.9 1.9-.6 1.5 1z"/>
<path fill="#51c882" d="M321 451.8l-1.5-1.7 1.9-.5 1.5 1.6z"/>
<path fill="#3e26a8" d="M263.7 506.6l-1.5-.7 1.9-30 1.5 .7z"/>
<path fill="#5ac87b" d="M317.6 450.7l-1.5-2.2 1.9-.6 1.5 2.2z"/>
<path fill="#15b3d0" d="M385.9 467.2l-1.5-1.6 1.9-.5 1.5 1.6z"/>
<path fill="#15acda" d="M392.7 470.1l-1.5-2.2 1.9-.6 1.5 2.2z"/>
<path fill="#49c888" d="M324.4 452.8l-1.5-1.6 1.9-.6 1.5 1.6z"/>
<path fill="#12b1d6" d="M389.3 468.4l-1.5-1.7 1.9-.6 1.5 1.8z"/>
<path fill="#57c87d" d="M272.7 451.1l-1.5-.6 1.9-1.9 1.5 .7z"/>
<path fill="#90c74f" d="M304 444.6l-1.4-.8 1.9-.6 1.5 .8z"/>
<path fill="#70c769" d="M278 448.3l-1.5-.6 1.9-1.4 1.5 .7z"/>
<path fill="#40c890" d="M327.8 453.9l-1.5-1.7 1.9-.5 1.5 1.6z"/>
<path fill="#37c897" d="M331.2 454.9l-1.5-1.6 1.9-.5 1.5 1.6z"/>
<path fill="#1cb8c4" d="M370.4 464.8l-1.5-.9 1.9-.6 1.5 .9z"/>
<path fill="#69c76f" d="M314.2 449.1l-1.5-3 2-.7 1.4 3.1z"/>
<path fill="#34c69b" d="M334.6 456l-1.5-1.6 1.9-.6 1.5 1.6z"/>
<path fill="#8cc752" d="M295.4 445.2l-1.5-.8 1.9-.7 1.5 .7z"/>
<path fill="#32c5a0" d="M338 457l-1.5-1.6 1.9-.6 1.5 1.7z"/>
<path fill="#23bcb9" d="M351.5 462.3l-1.4-1.9 1.9-.6 1.4 1.9z"/>
<path fill="#20babe" d="M354.9 463.4l-1.5-1.7 2-.5 1.4 1.6z"/>
<path fill="#83c759" d="M286.7 446.2l-1.5-.7 1.9-1 1.5 .8z"/>
<path fill="#27beb2" d="M348.1 460.9l-1.4-2 1.9-.6 1.5 2.1z"/>
<path fill="#2fc3a5" d="M341.4 458.1l-1.5-1.6 1.9-.6 1.5 1.7z"/>
<path fill="#2bc1ab" d="M344.8 459.5l-1.5-1.9 1.9-.6 1.5 1.9z"/>
<path fill="#1e9ee5" d="M261.2 474.5l-1.5-.7 1.9-6.1 1.5 .6z"/>
<path fill="#90c74f" d="M307.4 444.8l-1.4-.8 1.9-.7 1.5 .8z"/>
<path fill="#1eb9c1" d="M358.3 464.1l-1.5-1.3 2-.5 1.4 1.2z"/>
<path fill="#1bb7c6" d="M373.8 465.3l-1.5-1.1 1.9-.5 1.5 1z"/>
<path fill="#7fc75d" d="M310.8 446.7l-1.4-2.6 1.9-.6 1.4 2.6z"/>
<path fill="#46c88b" d="M270.7 453.4l-1.4-.7 1.9-2.2 1.5 .6z"/>
<path fill="#8ec751" d="M298.7 445.2l-1.4-.8 1.9-.7 1.5 .8z"/>
<path fill="#1db8c2" d="M361.7 464.6l-1.5-1.1 1.9-.5 1.5 1z"/>
<path fill="#337cf6" d="M397.1 484.8l-1.5-5.9 1.9-.5 1.5 5.8z"/>
<path fill="#78c762" d="M281.4 447.7l-1.5-.7 1.9-1.2 1.5 .7z"/>
<path fill="#1ca2e2" d="M394.1 473.6l-1.4-3.5 1.9-.6 1.5 3.5z"/>
<path fill="#1ab6c8" d="M377.2 465.9l-1.5-1.2 1.9-.5 1.5 1.1z"/>
<path fill="#4752f3" d="M396.7 495.5l-1.5-10.1 1.9-.6 1.5 10.1z"/>
<path fill="#87c756" d="M290 446l-1.4-.7 1.9-.9 1.5 .8z"/>
<path fill="#65c772" d="M276 449.9l-1.4-.6 1.9-1.6 1.5 .6z"/>
<path fill="#3e26a8" d="M394.3 508.7l-1.5-12.1 2-.6 1.4 12.1z"/>
<path fill="#2791ef" d="M395.6 478.9l-1.5-5.3 2-.6 1.4 5.4z"/>
<path fill="#18b5cc" d="M380.6 466.7l-1.5-1.4 1.9-.5 1.5 1.4z"/>
<path fill="#1db8c3" d="M365.1 465l-1.5-1 1.9-.5 1.5 .9z"/>
<path fill="#51c882" d="M319.1 452.4l-1.5-1.7 1.9-.6 1.5 1.7z"/>
<path fill="#5ac87b" d="M315.7 451.3l-1.5-2.2 1.9-.6 1.5 2.2z"/>
<path fill="#35c79a" d="M268.8 456.1l-1.4-.6 1.9-2.8 1.4 .7z"/>
<path fill="#13b2d4" d="M263.1 468.3l-1.5-.6 1.9-5 1.5 .7z"/>
<path fill="#15b3d0" d="M384 467.8l-1.5-1.6 1.9-.6 1.5 1.6z"/>
<path fill="#15acda" d="M390.8 470.6l-1.5-2.2 1.9-.5 1.5 2.2z"/>
<path fill="#49c889" d="M322.5 453.4l-1.5-1.6 1.9-.6 1.5 1.6z"/>
<path fill="#8fc750" d="M302.1 445.3l-1.4-.8 1.9-.7 1.4 .8z"/>
<path fill="#12b1d6" d="M387.4 469l-1.5-1.8 1.9-.5 1.5 1.7z"/>
<path fill="#40c890" d="M325.9 454.5l-1.5-1.7 1.9-.6 1.5 1.7z"/>
<path fill="#37c897" d="M329.3 455.5l-1.5-1.6 1.9-.6 1.5 1.6z"/>
<path fill="#69c76f" d="M312.3 449.7l-1.5-3 1.9-.6 1.5 3z"/>
<path fill="#7fc75d" d="M284.7 447.2l-1.4-.7 1.9-1 1.5 .7z"/>
<path fill="#2cc1a9" d="M266.9 459.3l-1.5-.6 2-3.2 1.4 .6z"/>
<path fill="#8ac754" d="M293.4 445.9l-1.4-.7 1.9-.8 1.5 .8z"/>
<path fill="#1cb8c4" d="M368.5 465.4l-1.5-1 1.9-.5 1.5 .9z"/>
<path fill="#21bbbc" d="M265 463.4l-1.5-.7 1.9-4 1.5 .6z"/>
<path fill="#34c69b" d="M332.7 456.5l-1.5-1.6 1.9-.5 1.5 1.6z"/>
<path fill="#32c5a0" d="M336.1 457.6l-1.5-1.6 1.9-.6 1.5 1.6z"/>
<path fill="#23bcb9" d="M349.6 462.9l-1.5-2 2-.5 1.4 1.9z"/>
<path fill="#20babe" d="M353 464l-1.5-1.7 1.9-.6 1.5 1.7z"/>
<path fill="#3e26a8" d="M265.2 507.4l-1.5-.8 1.9-30 1.5 .6z"/>
<path fill="#27beb2" d="M346.2 461.5l-1.4-2 1.9-.6 1.4 2z"/>
<path fill="#2fc3a5" d="M339.4 458.7l-1.4-1.7 1.9-.5 1.5 1.6z"/>
<path fill="#2bc1ab" d="M342.8 460l-1.4-1.9 1.9-.5 1.5 1.9z"/>
<path fill="#8fc750" d="M305.5 445.4l-1.5-.8 2-.6 1.4 .8z"/>
<path fill="#58c87c" d="M274.1 451.8l-1.4-.7 1.9-1.8 1.4 .6z"/>
<path fill="#1eb9c1" d="M356.4 464.7l-1.5-1.3 1.9-.6 1.5 1.3z"/>
<path fill="#70c769" d="M279.4 449l-1.4-.7 1.9-1.3 1.5 .7z"/>
<path fill="#7ec75d" d="M308.9 447.3l-1.5-2.5 2-.7 1.4 2.6z"/>
<path fill="#1bb7c6" d="M371.9 465.8l-1.5-1 1.9-.6 1.5 1.1z"/>
<path fill="#8cc752" d="M296.8 445.9l-1.4-.7 1.9-.8 1.4 .8z"/>
<path fill="#1db8c2" d="M359.8 465.2l-1.5-1.1 1.9-.6 1.5 1.1z"/>
<path fill="#337cf6" d="M395.2 485.4l-1.5-5.9 1.9-.6 1.5 5.9z"/>
<path fill="#1ca2e2" d="M392.2 474.1l-1.4-3.5 1.9-.5 1.4 3.5z"/>
<path fill="#84c759" d="M288.1 446.9l-1.4-.7 1.9-.9 1.4 .7z"/>
<path fill="#1ab6c8" d="M375.3 466.5l-1.5-1.2 1.9-.6 1.5 1.2z"/>
<path fill="#4752f3" d="M394.8 496l-1.5-10.1 1.9-.5 1.5 10.1z"/>
<path fill="#1e9ee5" d="M262.7 475.2l-1.5-.7 1.9-6.2 1.5 .7z"/>
<path fill="#3e26a8" d="M392.4 509.3l-1.5-12.1 1.9-.6 1.5 12.1z"/>
<path fill="#2791ef" d="M393.7 479.5l-1.5-5.4 1.9-.5 1.5 5.3z"/>
<path fill="#18b5cc" d="M378.7 467.3l-1.5-1.4 1.9-.6 1.5 1.4z"/>
<path fill="#1db8c3" d="M363.2 465.5l-1.5-.9 1.9-.6 1.5 1z"/>
<path fill="#51c882" d="M317.2 452.9l-1.5-1.6 1.9-.6 1.5 1.7z"/>
<path fill="#48c88a" d="M272.2 454l-1.5-.6 2-2.3 1.4 .7z"/>
<path fill="#5ac87b" d="M313.8 451.9l-1.5-2.2 1.9-.6 1.5 2.2z"/>
<path fill="#8dc751" d="M300.2 446l-1.5-.8 2-.7 1.4 .8z"/>
<path fill="#15b3d0" d="M382.1 468.3l-1.5-1.6 1.9-.5 1.5 1.6z"/>
<path fill="#15acda" d="M388.8 471.2l-1.4-2.2 1.9-.6 1.5 2.2z"/>
<path fill="#49c889" d="M320.6 453.9l-1.5-1.5 1.9-.6 1.5 1.6z"/>
<path fill="#79c762" d="M282.8 448.4l-1.4-.7 1.9-1.2 1.4 .7z"/>
<path fill="#12b1d6" d="M385.4 469.5l-1.4-1.7 1.9-.6 1.5 1.8z"/>
<path fill="#40c890" d="M324 455l-1.5-1.6 1.9-.6 1.5 1.7z"/>
<path fill="#87c756" d="M291.5 446.8l-1.5-.8 2-.8 1.4 .7z"/>
<path fill="#37c897" d="M327.4 456.1l-1.5-1.6 1.9-.6 1.5 1.6z"/>
<path fill="#66c771" d="M277.5 450.6l-1.5-.7 2-1.6 1.4 .7z"/>
<path fill="#68c76f" d="M310.4 450.3l-1.5-3 1.9-.6 1.5 3z"/>
<path fill="#1cb8c4" d="M366.6 465.9l-1.5-.9 1.9-.6 1.5 1z"/>
<path fill="#34c69b" d="M330.8 457.1l-1.5-1.6 1.9-.6 1.5 1.6z"/>
<path fill="#32c5a0" d="M334.1 458.1l-1.4-1.6 1.9-.5 1.5 1.6z"/>
<path fill="#23bcb9" d="M347.7 463.4l-1.5-1.9 1.9-.6 1.5 2z"/>
<path fill="#20babe" d="M351.1 464.5l-1.5-1.6 1.9-.6 1.5 1.7z"/>
<path fill="#27beb2" d="M344.3 462.1l-1.5-2.1 2-.5 1.4 2z"/>
<path fill="#35c79a" d="M270.3 456.7l-1.5-.6 1.9-2.7 1.5 .6z"/>
<path fill="#8ec750" d="M303.6 446.1l-1.5-.8 1.9-.7 1.5 .8z"/>
<path fill="#2fc3a5" d="M337.5 459.3l-1.4-1.7 1.9-.6 1.4 1.7z"/>
<path fill="#13b2d4" d="M264.6 469l-1.5-.7 1.9-4.9 1.5 .6z"/>
<path fill="#2bc1ab" d="M340.9 460.6l-1.5-1.9 2-.6 1.4 1.9z"/>
<path fill="#1eb9c1" d="M354.5 465.2l-1.5-1.2 1.9-.6 1.5 1.3z"/>
<path fill="#7ec75e" d="M307 447.9l-1.5-2.5 1.9-.6 1.5 2.5z"/>
<path fill="#1bb7c6" d="M370 466.4l-1.5-1 1.9-.6 1.5 1z"/>
<path fill="#8ac754" d="M294.9 446.7l-1.5-.8 2-.7 1.4 .7z"/>
<path fill="#7fc75d" d="M286.2 447.9l-1.5-.7 2-1 1.4 .7z"/>
<path fill="#2dc2a9" d="M268.4 460l-1.5-.7 1.9-3.2 1.5 .6z"/>
<path fill="#21bbbb" d="M266.5 464l-1.5-.6 1.9-4.1 1.5 .7z"/>
<path fill="#1db8c2" d="M357.9 465.7l-1.5-1 1.9-.6 1.5 1.1z"/>
<path fill="#337cf6" d="M393.3 485.9l-1.5-5.9 1.9-.5 1.5 5.9z"/>
<path fill="#1ca2e2" d="M390.3 474.7l-1.5-3.5 2-.6 1.4 3.5z"/>
<path fill="#3e26a8" d="M266.7 508.1l-1.5-.7 1.9-30.2 1.5 .7z"/>
<path fill="#1ab6c8" d="M373.4 467l-1.5-1.2 1.9-.5 1.5 1.2z"/>
<path fill="#4752f3" d="M392.8 496.6l-1.4-10.1 1.9-.6 1.5 10.1z"/>
<path fill="#3e26a8" d="M390.5 509.8l-1.5-12.1 1.9-.5 1.5 12.1z"/>
<path fill="#59c87b" d="M275.6 452.4l-1.5-.6 1.9-1.9 1.5 .7z"/>
<path fill="#71c768" d="M280.9 449.7l-1.5-.7 2-1.3 1.4 .7z"/>
<path fill="#2791ef" d="M391.8 480l-1.5-5.3 1.9-.6 1.5 5.4z"/>
<path fill="#18b5cc" d="M376.8 467.9l-1.5-1.4 1.9-.6 1.5 1.4z"/>
<path fill="#1db8c3" d="M361.3 466.1l-1.5-.9 1.9-.6 1.5 .9z"/>
<path fill="#51c882" d="M315.3 453.5l-1.5-1.6 1.9-.6 1.5 1.6z"/>
<path fill="#8cc752" d="M298.3 446.7l-1.5-.8 1.9-.7 1.5 .8z"/>
<path fill="#5ac87b" d="M311.9 452.5l-1.5-2.2 1.9-.6 1.5 2.2z"/>
<path fill="#15b3d0" d="M380.1 468.9l-1.4-1.6 1.9-.6 1.5 1.6z"/>
<path fill="#15acda" d="M386.9 471.8l-1.5-2.3 2-.5 1.4 2.2z"/>
<path fill="#49c889" d="M318.7 454.5l-1.5-1.6 1.9-.5 1.5 1.5z"/>
<path fill="#84c759" d="M289.6 447.7l-1.5-.8 1.9-.9 1.5 .8z"/>
<path fill="#12b1d6" d="M383.5 470.1l-1.4-1.8 1.9-.5 1.4 1.7z"/>
<path fill="#40c890" d="M322.1 455.6l-1.5-1.7 1.9-.5 1.5 1.6z"/>
<path fill="#37c897" d="M325.4 456.6l-1.4-1.6 1.9-.5 1.5 1.6z"/>
<path fill="#1e9ee5" d="M264.1 475.9l-1.4-.7 1.9-6.2 1.5 .6z"/>
<path fill="#68c770" d="M308.5 450.9l-1.5-3 1.9-.6 1.5 3z"/>
<path fill="#1cb8c4" d="M364.7 466.5l-1.5-1 1.9-.5 1.5 .9z"/>
<path fill="#34c69b" d="M328.8 457.7l-1.4-1.6 1.9-.6 1.5 1.6z"/>
<path fill="#32c5a0" d="M332.2 458.7l-1.4-1.6 1.9-.6 1.4 1.6z"/>
<path fill="#23bcb9" d="M345.8 464l-1.5-1.9 1.9-.6 1.5 1.9z"/>
<path fill="#20babe" d="M349.2 465.1l-1.5-1.7 1.9-.5 1.5 1.6z"/>
<path fill="#8dc751" d="M301.7 446.8l-1.5-.8 1.9-.7 1.5 .8z"/>
<path fill="#49c889" d="M273.7 454.6l-1.5-.6 1.9-2.2 1.5 .6z"/>
<path fill="#27beb2" d="M342.4 462.6l-1.5-2 1.9-.6 1.5 2.1z"/>
<path fill="#2fc3a5" d="M335.6 459.8l-1.5-1.7 2-.5 1.4 1.7z"/>
<path fill="#2bc1ab" d="M339 461.2l-1.5-1.9 1.9-.6 1.5 1.9z"/>
<path fill="#79c761" d="M284.3 449.1l-1.5-.7 1.9-1.2 1.5 .7z"/>
<path fill="#7dc75e" d="M305.1 448.6l-1.5-2.5 1.9-.7 1.5 2.5z"/>
<path fill="#1eb9c1" d="M352.6 465.8l-1.5-1.3 1.9-.5 1.5 1.2z"/>
<path fill="#1bb7c6" d="M368.1 467l-1.5-1.1 1.9-.5 1.5 1z"/>
<path fill="#88c756" d="M293 447.5l-1.5-.7 1.9-.9 1.5 .8z"/>
<path fill="#67c770" d="M279 451.3l-1.5-.7 1.9-1.6 1.5 .7z"/>
<path fill="#1db8c2" d="M356 466.3l-1.5-1.1 1.9-.5 1.5 1z"/>
<path fill="#337cf6" d="M391.4 486.5l-1.5-5.9 1.9-.6 1.5 5.9z"/>
<path fill="#1ca2e2" d="M388.4 475.3l-1.5-3.5 1.9-.6 1.5 3.5z"/>
<path fill="#1ab6c8" d="M371.4 467.6l-1.4-1.2 1.9-.6 1.5 1.2z"/>
<path fill="#4752f3" d="M390.9 497.2l-1.4-10.1 1.9-.6 1.4 10.1z"/>
<path fill="#36c799" d="M271.8 457.3l-1.5-.6 1.9-2.7 1.5 .6z"/>
<path fill="#13b2d3" d="M266.1 469.6l-1.5-.6 1.9-5 1.5 .6z"/>
<path fill="#3e26a8" d="M388.6 510.4l-1.5-12.1 1.9-.6 1.5 12.1z"/>
<path fill="#2791ef" d="M389.9 480.6l-1.5-5.3 1.9-.6 1.5 5.3z"/>
<path fill="#18b5cc" d="M374.8 468.4l-1.4-1.4 1.9-.5 1.5 1.4z"/>
<path fill="#8ac754" d="M296.4 447.4l-1.5-.7 1.9-.8 1.5 .8z"/>
<path fill="#80c75c" d="M287.7 448.7l-1.5-.8 1.9-1 1.5 .8z"/>
<path fill="#51c882" d="M313.4 454.1l-1.5-1.6 1.9-.6 1.5 1.6z"/>
<path fill="#1db8c3" d="M359.4 466.7l-1.5-1 1.9-.5 1.5 .9z"/>
<path fill="#59c87b" d="M310 453.1l-1.5-2.2 1.9-.6 1.5 2.2z"/>
<path fill="#2dc2a8" d="M269.9 460.6l-1.5-.6 1.9-3.3 1.5 .6z"/>
<path fill="#15b3d0" d="M378.2 469.5l-1.4-1.6 1.9-.6 1.4 1.6z"/>
<path fill="#15acda" d="M385 472.3l-1.5-2.2 1.9-.6 1.5 2.3z"/>
<path fill="#49c889" d="M316.8 455.1l-1.5-1.6 1.9-.6 1.5 1.6z"/>
<path fill="#2bb" d="M268 464.6l-1.5-.6 1.9-4 1.5 .6z"/>
<path fill="#3e26a8" d="M268.1 508.9l-1.4-.8 1.9-30.2 1.5 .7z"/>
<path fill="#12b1d6" d="M381.6 470.7l-1.5-1.8 2-.6 1.4 1.8z"/>
<path fill="#40c890" d="M320.1 456.2l-1.4-1.7 1.9-.6 1.5 1.7z"/>
<path fill="#67c770" d="M306.6 451.5l-1.5-2.9 1.9-.7 1.5 3z"/>
<path fill="#37c897" d="M323.5 457.2l-1.4-1.6 1.9-.6 1.4 1.6z"/>
<path fill="#5bc87a" d="M277.1 453.1l-1.5-.7 1.9-1.8 1.5 .7z"/>
<path fill="#72c767" d="M282.4 450.4l-1.5-.7 1.9-1.3 1.5 .7z"/>
<path fill="#1cb8c4" d="M362.8 467.1l-1.5-1 1.9-.6 1.5 1z"/>
<path fill="#34c69c" d="M326.9 458.2l-1.5-1.6 2-.5 1.4 1.6z"/>
<path fill="#8cc752" d="M299.8 447.5l-1.5-.8 1.9-.7 1.5 .8z"/>
<path fill="#32c5a0" d="M330.3 459.3l-1.5-1.6 2-.6 1.4 1.6z"/>
<path fill="#23bcb9" d="M343.9 464.6l-1.5-2 1.9-.5 1.5 1.9z"/>
<path fill="#20babe" d="M347.3 465.7l-1.5-1.7 1.9-.6 1.5 1.7z"/>
<path fill="#27beb2" d="M340.5 463.2l-1.5-2 1.9-.6 1.5 2z"/>
<path fill="#2fc3a5" d="M333.7 460.4l-1.5-1.7 1.9-.6 1.5 1.7z"/>
<path fill="#2bc1ac" d="M337.1 461.7l-1.5-1.9 1.9-.5 1.5 1.9z"/>
<path fill="#84c758" d="M291.1 448.4l-1.5-.7 1.9-.9 1.5 .7z"/>
<path fill="#7cc75f" d="M303.2 449.2l-1.5-2.4 1.9-.7 1.5 2.5z"/>
<path fill="#1eb9c1" d="M350.7 466.4l-1.5-1.3 1.9-.6 1.5 1.3z"/>
<path fill="#1bb7c6" d="M366.1 467.5l-1.4-1 1.9-.6 1.5 1.1z"/>
<path fill="#1e9fe4" d="M265.6 476.6l-1.5-.7 2-6.3 1.4 .6z"/>
<path fill="#1db8c2" d="M354.1 466.8l-1.5-1 1.9-.6 1.5 1.1z"/>
<path fill="#337cf6" d="M389.5 487.1l-1.5-5.9 1.9-.6 1.5 5.9z"/>
<path fill="#1ca2e2" d="M386.5 475.8l-1.5-3.5 1.9-.5 1.5 3.5z"/>
<path fill="#1ab6c8" d="M369.5 468.2l-1.4-1.2 1.9-.6 1.4 1.2z"/>
<path fill="#4ac888" d="M275.2 455.3l-1.5-.7 1.9-2.2 1.5 .7z"/>
<path fill="#4752f3" d="M389 497.7l-1.5-10.1 2-.5 1.4 10.1z"/>
<path fill="#7ac761" d="M285.8 449.8l-1.5-.7 1.9-1.2 1.5 .8z"/>
<path fill="#3e26a8" d="M386.7 511l-1.5-12.1 1.9-.6 1.5 12.1z"/>
<path fill="#88c756" d="M294.5 448.2l-1.5-.7 1.9-.8 1.5 .7z"/>
<path fill="#2791ef" d="M388 481.2l-1.5-5.4 1.9-.5 1.5 5.3z"/>
<path fill="#18b5cc" d="M372.9 469l-1.5-1.4 2-.6 1.4 1.4z"/>
<path fill="#68c76f" d="M280.5 451.9l-1.5-.6 1.9-1.6 1.5 .7z"/>
<path fill="#50c883" d="M311.4 454.7l-1.4-1.6 1.9-.6 1.5 1.6z"/>
<path fill="#59c87c" d="M308.1 453.7l-1.5-2.2 1.9-.6 1.5 2.2z"/>
<path fill="#1db8c3" d="M357.4 467.2l-1.4-.9 1.9-.6 1.5 1z"/>
<path fill="#15b3d0" d="M376.3 470l-1.5-1.6 2-.5 1.4 1.6z"/>
<path fill="#48c889" d="M314.8 455.7l-1.4-1.6 1.9-.6 1.5 1.6z"/>
<path fill="#15acda" d="M383.1 472.9l-1.5-2.2 1.9-.6 1.5 2.2z"/>
<path fill="#12b1d6" d="M379.7 471.2l-1.5-1.7 1.9-.6 1.5 1.8z"/>
<path fill="#3fc890" d="M318.2 456.8l-1.4-1.7 1.9-.6 1.4 1.7z"/>
<path fill="#66c771" d="M304.7 452.1l-1.5-2.9 1.9-.6 1.5 2.9z"/>
<path fill="#36c898" d="M273.3 457.9l-1.5-.6 1.9-2.7 1.5 .7z"/>
<path fill="#14b3d2" d="M267.5 470.2l-1.4-.6 1.9-5 1.4 .6z"/>
<path fill="#37c897" d="M321.6 457.8l-1.5-1.6 2-.6 1.4 1.6z"/>
<path fill="#1cb8c4" d="M360.8 467.6l-1.4-.9 1.9-.6 1.5 1z"/>
<path fill="#34c69c" d="M325 458.8l-1.5-1.6 1.9-.6 1.5 1.6z"/>
<path fill="#8ac754" d="M297.9 448.2l-1.5-.8 1.9-.7 1.5 .8z"/>
<path fill="#80c75c" d="M289.2 449.4l-1.5-.7 1.9-1 1.5 .7z"/>
<path fill="#32c5a0" d="M328.4 459.9l-1.5-1.7 1.9-.5 1.5 1.6z"/>
<path fill="#23bcb9" d="M342 465.1l-1.5-1.9 1.9-.6 1.5 2z"/>
<path fill="#20babe" d="M345.4 466.2l-1.5-1.6 1.9-.6 1.5 1.7z"/>
<path fill="#27beb2" d="M338.6 463.8l-1.5-2.1 1.9-.5 1.5 2z"/>
<path fill="#7bc760" d="M301.3 449.9l-1.5-2.4 1.9-.7 1.5 2.4z"/>
<path fill="#2fc3a5" d="M331.8 461l-1.5-1.7 1.9-.6 1.5 1.7z"/>
<path fill="#2ec2a7" d="M271.4 461.2l-1.5-.6 1.9-3.3 1.5 .6z"/>
<path fill="#2bc1ac" d="M335.2 462.3l-1.5-1.9 1.9-.6 1.5 1.9z"/>
<path fill="#3e26a8" d="M269.6 509.6l-1.5-.7 2-30.3 1.4 .7z"/>
<path fill="#22bbba" d="M269.4 465.2l-1.4-.6 1.9-4 1.5 .6z"/>
<path fill="#1eb9c1" d="M348.8 466.9l-1.5-1.2 1.9-.6 1.5 1.3z"/>
<path fill="#1bb7c6" d="M364.2 468.1l-1.4-1 1.9-.6 1.4 1z"/>
<path fill="#73c767" d="M283.9 451.1l-1.5-.7 1.9-1.3 1.5 .7z"/>
<path fill="#5cc879" d="M278.6 453.7l-1.5-.6 1.9-1.8 1.5 .6z"/>
<path fill="#1db8c2" d="M352.1 467.4l-1.4-1 1.9-.6 1.5 1z"/>
<path fill="#337cf6" d="M387.5 487.6l-1.4-5.9 1.9-.5 1.5 5.9z"/>
<path fill="#1ca2e2" d="M384.6 476.4l-1.5-3.5 1.9-.6 1.5 3.5z"/>
<path fill="#1ab6c8" d="M367.6 468.7l-1.5-1.2 2-.5 1.4 1.2z"/>
<path fill="#4752f3" d="M387.1 498.3l-1.5-10.1 1.9-.6 1.5 10.1z"/>
<path fill="#85c758" d="M292.6 449.1l-1.5-.7 1.9-.9 1.5 .7z"/>
<path fill="#3e26a8" d="M384.8 511.5l-1.5-12.1 1.9-.5 1.5 12.1z"/>
<path fill="#2791ef" d="M386.1 481.7l-1.5-5.3 1.9-.6 1.5 5.4z"/>
<path fill="#18b5cc" d="M371 469.6l-1.5-1.4 1.9-.6 1.5 1.4z"/>
<path fill="#50c883" d="M309.5 455.3l-1.4-1.6 1.9-.6 1.4 1.6z"/>
<path fill="#58c87d" d="M306.1 454.3l-1.4-2.2 1.9-.6 1.5 2.2z"/>
<path fill="#1e9fe4" d="M267.1 477.2l-1.5-.6 1.9-6.4 1.5 .7z"/>
<path fill="#1db8c3" d="M355.5 467.8l-1.4-1 1.9-.5 1.4 .9z"/>
<path fill="#48c889" d="M312.9 456.3l-1.5-1.6 2-.6 1.4 1.6z"/>
<path fill="#15b3d0" d="M374.4 470.6l-1.5-1.6 1.9-.6 1.5 1.6z"/>
<path fill="#15acda" d="M381.2 473.5l-1.5-2.3 1.9-.5 1.5 2.2z"/>
<path fill="#12b1d6" d="M377.8 471.8l-1.5-1.8 1.9-.5 1.5 1.7z"/>
<path fill="#3fc890" d="M316.3 457.4l-1.5-1.7 2-.6 1.4 1.7z"/>
<path fill="#65c772" d="M302.8 452.8l-1.5-2.9 1.9-.7 1.5 2.9z"/>
<path fill="#4bc887" d="M276.7 455.9l-1.5-.6 1.9-2.2 1.5 .6z"/>
<path fill="#7bc760" d="M287.3 450.5l-1.5-.7 1.9-1.1 1.5 .7z"/>
<path fill="#37c897" d="M319.7 458.4l-1.5-1.6 1.9-.6 1.5 1.6z"/>
<path fill="#88c756" d="M296 449l-1.5-.8 1.9-.8 1.5 .8z"/>
<path fill="#1cb8c4" d="M358.9 468.2l-1.5-1 2-.5 1.4 .9z"/>
<path fill="#34c69c" d="M323.1 459.4l-1.5-1.6 1.9-.6 1.5 1.6z"/>
<path fill="#69c76e" d="M282 452.6l-1.5-.7 1.9-1.5 1.5 .7z"/>
<path fill="#32c5a0" d="M326.5 460.4l-1.5-1.6 1.9-.6 1.5 1.7z"/>
<path fill="#23bcb9" d="M340.1 465.7l-1.5-1.9 1.9-.6 1.5 1.9z"/>
<path fill="#79c762" d="M299.4 450.6l-1.5-2.4 1.9-.7 1.5 2.4z"/>
<path fill="#20babe" d="M343.4 466.8l-1.4-1.7 1.9-.5 1.5 1.6z"/>
<path fill="#27beb2" d="M336.7 464.3l-1.5-2 1.9-.6 1.5 2.1z"/>
<path fill="#2fc3a5" d="M329.9 461.5l-1.5-1.6 1.9-.6 1.5 1.7z"/>
<path fill="#2bc1ac" d="M333.3 462.9l-1.5-1.9 1.9-.6 1.5 1.9z"/>
<path fill="#1eb9c1" d="M346.8 467.5l-1.4-1.3 1.9-.5 1.5 1.2z"/>
<path fill="#1bb7c6" d="M362.3 468.7l-1.5-1.1 2-.5 1.4 1z"/>
<path fill="#37c897" d="M274.8 458.5l-1.5-.6 1.9-2.6 1.5 .6z"/>
<path fill="#14b3d2" d="M269 470.9l-1.5-.7 1.9-5 1.5 .6z"/>
<path fill="#81c75c" d="M290.7 450.1l-1.5-.7 1.9-1 1.5 .7z"/>
<path fill="#1db8c2" d="M350.2 468l-1.4-1.1 1.9-.5 1.4 1z"/>
<path fill="#337cf6" d="M385.6 488.2l-1.4-5.9 1.9-.6 1.4 5.9z"/>
<path fill="#1ca2e2" d="M382.7 476.9l-1.5-3.4 1.9-.6 1.5 3.5z"/>
<path fill="#1ab6c8" d="M365.7 469.3l-1.5-1.2 1.9-.6 1.5 1.2z"/>
<path fill="#4752f3" d="M385.2 498.9l-1.5-10.1 1.9-.6 1.5 10.1z"/>
<path fill="#3e26a8" d="M271.1 510.4l-1.5-.8 1.9-30.3 1.5 .6z"/>
<path fill="#2ec3a6" d="M272.8 461.8l-1.4-.6 1.9-3.3 1.5 .6z"/>
<path fill="#23bcb9" d="M270.9 465.8l-1.5-.6 2-4 1.4 .6z"/>
<path fill="#3e26a8" d="M382.8 512.1l-1.4-12.1 1.9-.6 1.5 12.1z"/>
<path fill="#2791ef" d="M384.2 482.3l-1.5-5.4 1.9-.5 1.5 5.3z"/>
<path fill="#57c87d" d="M304.2 455l-1.4-2.2 1.9-.7 1.4 2.2z"/>
<path fill="#4fc884" d="M307.6 456l-1.5-1.7 2-.6 1.4 1.6z"/>
<path fill="#18b5cc" d="M369.1 470.1l-1.5-1.4 1.9-.5 1.5 1.4z"/>
<path fill="#73c766" d="M285.4 451.8l-1.5-.7 1.9-1.3 1.5 .7z"/>
<path fill="#1db8c3" d="M353.6 468.4l-1.5-1 2-.6 1.4 1z"/>
<path fill="#5dc878" d="M280.1 454.4l-1.5-.7 1.9-1.8 1.5 .7z"/>
<path fill="#47c88a" d="M311 456.9l-1.5-1.6 1.9-.6 1.5 1.6z"/>
<path fill="#15b3d0" d="M372.5 471.2l-1.5-1.6 1.9-.6 1.5 1.6z"/>
<path fill="#15acda" d="M379.3 474l-1.5-2.2 1.9-.6 1.5 2.3z"/>
<path fill="#12b1d6" d="M375.9 472.4l-1.5-1.8 1.9-.6 1.5 1.8z"/>
<path fill="#64c873" d="M300.8 453.5l-1.4-2.9 1.9-.7 1.5 2.9z"/>
<path fill="#3fc891" d="M314.4 457.9l-1.5-1.6 1.9-.6 1.5 1.7z"/>
<path fill="#85c758" d="M294.1 449.9l-1.5-.8 1.9-.9 1.5 .8z"/>
<path fill="#37c897" d="M317.8 459l-1.5-1.6 1.9-.6 1.5 1.6z"/>
<path fill="#1cb8c4" d="M357 468.8l-1.5-1 1.9-.6 1.5 1z"/>
<path fill="#34c69c" d="M321.2 460l-1.5-1.6 1.9-.6 1.5 1.6z"/>
<path fill="#77c763" d="M297.4 451.4l-1.4-2.4 1.9-.8 1.5 2.4z"/>
<path fill="#1d9fe4" d="M268.6 477.9l-1.5-.7 1.9-6.3 1.5 .6z"/>
<path fill="#32c5a0" d="M324.6 461l-1.5-1.6 1.9-.6 1.5 1.6z"/>
<path fill="#23bcb9" d="M338.1 466.3l-1.4-2 1.9-.5 1.5 1.9z"/>
<path fill="#20babe" d="M341.5 467.4l-1.4-1.7 1.9-.6 1.4 1.7z"/>
<path fill="#27beb2" d="M334.8 464.9l-1.5-2 1.9-.6 1.5 2z"/>
<path fill="#2fc3a5" d="M328 462.1l-1.5-1.7 1.9-.5 1.5 1.6z"/>
<path fill="#2bc1ac" d="M331.4 463.4l-1.5-1.9 1.9-.5 1.5 1.9z"/>
<path fill="#1eb9c1" d="M344.9 468.1l-1.5-1.3 2-.6 1.4 1.3z"/>
<path fill="#7bc760" d="M288.8 451.2l-1.5-.7 1.9-1.1 1.5 .7z"/>
<path fill="#1bb7c6" d="M360.4 469.2l-1.5-1 1.9-.6 1.5 1.1z"/>
<path fill="#4dc886" d="M278.1 456.5l-1.4-.6 1.9-2.2 1.5 .7z"/>
<path fill="#6ac76e" d="M283.4 453.2l-1.4-.6 1.9-1.5 1.5 .7z"/>
<path fill="#1db8c2" d="M348.3 468.5l-1.5-1 2-.6 1.4 1.1z"/>
<path fill="#337cf6" d="M383.7 488.8l-1.5-5.9 2-.6 1.4 5.9z"/>
<path fill="#1ca2e2" d="M380.8 477.5l-1.5-3.5 1.9-.5 1.5 3.4z"/>
<path fill="#1ab6c8" d="M363.8 469.9l-1.5-1.2 1.9-.6 1.5 1.2z"/>
<path fill="#4752f3" d="M383.3 499.4l-1.5-10.1 1.9-.5 1.5 10.1z"/>
<path fill="#3e26a8" d="M380.9 512.6l-1.4-12.1 1.9-.5 1.4 12.1z"/>
<path fill="#55c87e" d="M302.3 455.7l-1.5-2.2 2-.7 1.4 2.2z"/>
<path fill="#4ec884" d="M305.7 456.6l-1.5-1.6 1.9-.7 1.5 1.7z"/>
<path fill="#2791ef" d="M382.2 482.9l-1.4-5.4 1.9-.6 1.5 5.4z"/>
<path fill="#18b5cc" d="M367.2 470.7l-1.5-1.4 1.9-.6 1.5 1.4z"/>
<path fill="#38c896" d="M276.2 459.2l-1.4-.7 1.9-2.6 1.4 .6z"/>
<path fill="#15b3d1" d="M270.5 471.5l-1.5-.6 1.9-5.1 1.5 .6z"/>
<path fill="#1db8c3" d="M351.7 468.9l-1.5-.9 1.9-.6 1.5 1z"/>
<path fill="#47c88a" d="M309.1 457.5l-1.5-1.5 1.9-.7 1.5 1.6z"/>
<path fill="#81c75b" d="M292.1 450.8l-1.4-.7 1.9-1 1.5 .8z"/>
<path fill="#15b3d0" d="M370.6 471.7l-1.5-1.6 1.9-.5 1.5 1.6z"/>
<path fill="#62c874" d="M298.9 454.3l-1.5-2.9 2-.8 1.4 2.9z"/>
<path fill="#15acda" d="M377.4 474.6l-1.5-2.2 1.9-.6 1.5 2.2z"/>
<path fill="#3e26a8" d="M272.6 511.2l-1.5-.8 1.9-30.5 1.5 1.6z"/>
<path fill="#12b1d6" d="M374 472.9l-1.5-1.7 1.9-.6 1.5 1.8z"/>
<path fill="#3ec891" d="M312.5 458.6l-1.5-1.7 1.9-.6 1.5 1.6z"/>
<path fill="#37c897" d="M315.9 459.5l-1.5-1.6 1.9-.5 1.5 1.6z"/>
<path fill="#2fc3a5" d="M274.3 462.4l-1.5-.6 2-3.3 1.4 .7z"/>
<path fill="#74c766" d="M295.5 452.3l-1.4-2.4 1.9-.9 1.4 2.4z"/>
<path fill="#23bcb8" d="M272.4 466.4l-1.5-.6 1.9-4 1.5 .6z"/>
<path fill="#1cb8c4" d="M355.1 469.3l-1.5-.9 1.9-.6 1.5 1z"/>
<path fill="#34c69c" d="M319.3 460.5l-1.5-1.5 1.9-.6 1.5 1.6z"/>
<path fill="#74c766" d="M286.8 452.4l-1.4-.6 1.9-1.3 1.5 .7z"/>
<path fill="#32c5a0" d="M322.7 461.6l-1.5-1.6 1.9-.6 1.5 1.6z"/>
<path fill="#23bcb9" d="M336.2 466.8l-1.4-1.9 1.9-.6 1.4 2z"/>
<path fill="#5ec878" d="M281.5 455l-1.4-.6 1.9-1.8 1.4 .6z"/>
<path fill="#20babe" d="M339.6 467.9l-1.5-1.6 2-.6 1.4 1.7z"/>
<path fill="#27beb2" d="M332.8 465.5l-1.4-2.1 1.9-.5 1.5 2z"/>
<path fill="#2fc3a5" d="M326.1 462.7l-1.5-1.7 1.9-.6 1.5 1.7z"/>
<path fill="#2bc1ac" d="M329.4 464l-1.4-1.9 1.9-.6 1.5 1.9z"/>
<path fill="#1eb9c1" d="M343 468.6l-1.5-1.2 1.9-.6 1.5 1.3z"/>
<path fill="#1bb7c6" d="M358.5 469.8l-1.5-1 1.9-.6 1.5 1z"/>
<path fill="#1db8c2" d="M346.4 469.1l-1.5-1 1.9-.6 1.5 1z"/>
<path fill="#1d9fe4" d="M270.1 478.6l-1.5-.7 1.9-6.4 1.5 .6z"/>
<path fill="#337cf6" d="M381.8 489.3l-1.5-5.9 1.9-.5 1.5 5.9z"/>
<path fill="#1ca2e2" d="M378.8 478.1l-1.4-3.5 1.9-.6 1.5 3.5z"/>
<path fill="#1ab6c8" d="M361.9 470.4l-1.5-1.2 1.9-.5 1.5 1.2z"/>
<path fill="#4752f3" d="M381.4 500l-1.5-10.1 1.9-.6 1.5 10.1z"/>
<path fill="#54c880" d="M300.4 456.4l-1.5-2.1 1.9-.8 1.5 2.2z"/>
<path fill="#3e26a8" d="M379 513.2l-1.5-12.1 2-.6 1.4 12.1z"/>
<path fill="#4dc885" d="M303.8 457.3l-1.5-1.6 1.9-.7 1.5 1.6z"/>
<path fill="#7cc75f" d="M290.2 451.9l-1.4-.7 1.9-1.1 1.4 .7z"/>
<path fill="#2791ef" d="M380.3 483.4l-1.5-5.3 2-.6 1.4 5.4z"/>
<path fill="#4ec884" d="M279.6 457.2l-1.5-.7 2-2.1 1.4 .6z"/>
<path fill="#18b5cc" d="M365.3 471.3l-1.5-1.4 1.9-.6 1.5 1.4z"/>
<path fill="#5fc877" d="M297 455.1l-1.5-2.8 1.9-.9 1.5 2.9z"/>
<path fill="#1db8c3" d="M349.8 469.5l-1.5-1 1.9-.5 1.5 .9z"/>
<path fill="#46c88b" d="M307.2 458.2l-1.5-1.6 1.9-.6 1.5 1.5z"/>
<path fill="#15b3d0" d="M368.7 472.3l-1.5-1.6 1.9-.6 1.5 1.6z"/>
<path fill="#15acda" d="M375.5 475.1l-1.5-2.2 1.9-.5 1.5 2.2z"/>
<path fill="#6bc76d" d="M284.9 453.9l-1.5-.7 2-1.4 1.4 .6z"/>
<path fill="#3ec892" d="M310.6 459.2l-1.5-1.7 1.9-.6 1.5 1.7z"/>
<path fill="#12b1d6" d="M372.1 473.5l-1.5-1.8 1.9-.5 1.5 1.7z"/>
<path fill="#70c769" d="M293.6 453.2l-1.5-2.4 2-.9 1.4 2.4z"/>
<path fill="#37c898" d="M314 460.1l-1.5-1.5 1.9-.7 1.5 1.6z"/>
<path fill="#1cb8c4" d="M353.2 469.9l-1.5-1 1.9-.5 1.5 .9z"/>
<path fill="#34c69c" d="M317.4 461.1l-1.5-1.6 1.9-.5 1.5 1.5z"/>
<path fill="#3e26a8" d="M274.1 511.9l-1.5-.7 1.9-29.7 1.5 1.9z"/>
<path fill="#39c895" d="M277.7 459.8l-1.5-.6 1.9-2.7 1.5 .7z"/>
<path fill="#31c5a0" d="M320.8 462.2l-1.5-1.7 1.9-.5 1.5 1.6z"/>
<path fill="#15b3d0" d="M272 472.1l-1.5-.6 1.9-5.1 1.5 .6z"/>
<path fill="#23bcb9" d="M334.3 467.4l-1.5-1.9 2-.6 1.4 1.9z"/>
<path fill="#20babe" d="M337.7 468.5l-1.5-1.7 1.9-.5 1.5 1.6z"/>
<path fill="#27beb2" d="M330.9 466l-1.5-2 2-.6 1.4 2.1z"/>
<path fill="#2fc3a5" d="M324.1 463.3l-1.4-1.7 1.9-.6 1.5 1.7z"/>
<path fill="#2bc1ac" d="M327.5 464.6l-1.4-1.9 1.9-.6 1.4 1.9z"/>
<path fill="#1eb9c1" d="M341.1 469.2l-1.5-1.3 1.9-.5 1.5 1.2z"/>
<path fill="#1bb7c6" d="M356.6 470.4l-1.5-1.1 1.9-.5 1.5 1z"/>
<path fill="#2fc3a4" d="M275.8 463l-1.5-.6 1.9-3.2 1.5 .6z"/>
<path fill="#24bcb7" d="M273.9 467l-1.5-.6 1.9-4 1.5 .6z"/>
<path fill="#75c765" d="M288.3 453.1l-1.5-.7 2-1.2 1.4 .7z"/>
<path fill="#1db8c2" d="M344.5 469.7l-1.5-1.1 1.9-.5 1.5 1z"/>
<path fill="#337cf6" d="M379.9 489.9l-1.5-5.9 1.9-.6 1.5 5.9z"/>
<path fill="#1ca2e2" d="M376.9 478.6l-1.4-3.5 1.9-.5 1.4 3.5z"/>
<path fill="#5fc877" d="M283 455.7l-1.5-.7 1.9-1.8 1.5 .7z"/>
<path fill="#1ab6c8" d="M360 471l-1.5-1.2 1.9-.6 1.5 1.2z"/>
<path fill="#51c882" d="M298.5 457.2l-1.5-2.1 1.9-.8 1.5 2.1z"/>
<path fill="#4752f3" d="M379.5 500.5l-1.5-10.1 1.9-.5 1.5 10.1z"/>
<path fill="#4bc887" d="M301.9 458l-1.5-1.6 1.9-.7 1.5 1.6z"/>
<path fill="#3e26a8" d="M377.1 513.8l-1.5-12.1 1.9-.6 1.5 12.1z"/>
<path fill="#5cc879" d="M295.1 456l-1.5-2.8 1.9-.9 1.5 2.8z"/>
<path fill="#2791ef" d="M378.4 484l-1.5-5.4 1.9-.5 1.5 5.3z"/>
<path fill="#18b5cc" d="M363.4 471.8l-1.5-1.4 1.9-.5 1.5 1.4z"/>
<path fill="#45c88c" d="M305.3 458.9l-1.5-1.6 1.9-.7 1.5 1.6z"/>
<path fill="#6cc76c" d="M291.7 454.2l-1.5-2.3 1.9-1.1 1.5 2.4z"/>
<path fill="#1db8c3" d="M347.9 470.1l-1.5-1 1.9-.6 1.5 1z"/>
<path fill="#15b3d0" d="M366.8 472.9l-1.5-1.6 1.9-.6 1.5 1.6z"/>
<path fill="#15acda" d="M373.5 475.7l-1.4-2.2 1.9-.6 1.5 2.2z"/>
<path fill="#3dc892" d="M308.7 459.8l-1.5-1.6 1.9-.7 1.5 1.7z"/>
<path fill="#1da0e4" d="M271.5 479.3l-1.4-.7 1.9-6.5 1.4 .7z"/>
<path fill="#12b1d6" d="M370.2 474.1l-1.5-1.8 1.9-.6 1.5 1.8z"/>
<path fill="#37c898" d="M312.1 460.8l-1.5-1.6 1.9-.6 1.5 1.5z"/>
<path fill="#34c69c" d="M315.4 461.7l-1.4-1.6 1.9-.6 1.5 1.6z"/>
<path fill="#1cb8c4" d="M351.3 470.5l-1.5-1 1.9-.6 1.5 1z"/>
<path fill="#4fc883" d="M281.1 457.8l-1.5-.6 1.9-2.2 1.5 .7z"/>
<path fill="#31c5a1" d="M318.8 462.7l-1.4-1.6 1.9-.6 1.5 1.7z"/>
<path fill="#23bcb9" d="M332.4 468l-1.5-2 1.9-.5 1.5 1.9z"/>
<path fill="#20babe" d="M335.8 469.1l-1.5-1.7 1.9-.6 1.5 1.7z"/>
<path fill="#27beb2" d="M329 466.6l-1.5-2 1.9-.6 1.5 2z"/>
<path fill="#2ec3a6" d="M322.2 463.8l-1.4-1.6 1.9-.6 1.4 1.7z"/>
<path fill="#2bc1ac" d="M325.6 465.2l-1.5-1.9 2-.6 1.4 1.9z"/>
<path fill="#6cc76c" d="M286.4 454.6l-1.5-.7 1.9-1.5 1.5 .7z"/>
<path fill="#3e26a8" d="M275.5 512.7l-1.4-.8 1.9-28.5 1.5 1.4z"/>
<path fill="#1eb9c1" d="M339.2 469.8l-1.5-1.3 1.9-.6 1.5 1.3z"/>
<path fill="#1bb7c6" d="M354.7 470.9l-1.5-1 1.9-.6 1.5 1.1z"/>
<path fill="#4ec884" d="M296.6 458.1l-1.5-2.1 1.9-.9 1.5 2.1z"/>
<path fill="#1db8c2" d="M342.6 470.2l-1.5-1 1.9-.6 1.5 1.1z"/>
<path fill="#337cf6" d="M378 490.4l-1.5-5.8 1.9-.6 1.5 5.9z"/>
<path fill="#1ca2e2" d="M375 479.2l-1.5-3.5 2-.6 1.4 3.5z"/>
<path fill="#3bc894" d="M279.2 460.4l-1.5-.6 1.9-2.6 1.5 .6z"/>
<path fill="#57c87d" d="M293.2 457l-1.5-2.8 1.9-1 1.5 2.8z"/>
<path fill="#16b4cf" d="M273.4 472.8l-1.4-.7 1.9-5.1 1.5 .6z"/>
<path fill="#49c889" d="M300 458.8l-1.5-1.6 1.9-.8 1.5 1.6z"/>
<path fill="#1ab6c8" d="M358.1 471.5l-1.5-1.1 1.9-.6 1.5 1.2z"/>
<path fill="#4752f3" d="M377.5 501.1l-1.4-10.1 1.9-.6 1.5 10.1z"/>
<path fill="#65c772" d="M289.8 455.4l-1.5-2.3 1.9-1.2 1.5 2.3z"/>
<path fill="#3e26a8" d="M375.2 514.3l-1.5-12.1 1.9-.5 1.5 12.1z"/>
<path fill="#43c88d" d="M303.4 459.6l-1.5-1.6 1.9-.7 1.5 1.6z"/>
<path fill="#2791ef" d="M376.5 484.6l-1.5-5.4 1.9-.6 1.5 5.4z"/>
<path fill="#18b5cc" d="M361.5 472.4l-1.5-1.4 1.9-.6 1.5 1.4z"/>
<path fill="#1db8c3" d="M346 470.6l-1.5-.9 1.9-.6 1.5 1z"/>
<path fill="#30c3a4" d="M277.3 463.6l-1.5-.6 1.9-3.2 1.5 .6z"/>
<path fill="#24bdb7" d="M275.4 467.6l-1.5-.6 1.9-4 1.5 .6z"/>
<path fill="#3cc893" d="M306.8 460.5l-1.5-1.6 1.9-.7 1.5 1.6z"/>
<path fill="#15b3d0" d="M364.8 473.4l-1.4-1.6 1.9-.5 1.5 1.6z"/>
<path fill="#15acda" d="M371.6 476.3l-1.4-2.2 1.9-.6 1.4 2.2z"/>
<path fill="#12b1d6" d="M368.2 474.6l-1.4-1.7 1.9-.6 1.5 1.8z"/>
<path fill="#60c876" d="M284.5 456.3l-1.5-.6 1.9-1.8 1.5 .7z"/>
<path fill="#36c898" d="M310.1 461.4l-1.4-1.6 1.9-.6 1.5 1.6z"/>
<path fill="#34c69c" d="M313.5 462.3l-1.4-1.5 1.9-.7 1.4 1.6z"/>
<path fill="#1cb8c4" d="M349.4 471l-1.5-.9 1.9-.6 1.5 1z"/>
<path fill="#31c4a1" d="M316.9 463.3l-1.5-1.6 2-.6 1.4 1.6z"/>
<path fill="#23bcb9" d="M330.5 468.5l-1.5-1.9 1.9-.6 1.5 2z"/>
<path fill="#20babe" d="M333.9 469.6l-1.5-1.6 1.9-.6 1.5 1.7z"/>
<path fill="#27beb2" d="M327.1 467.2l-1.5-2 1.9-.6 1.5 2z"/>
<path fill="#2ec3a6" d="M320.3 464.4l-1.5-1.7 2-.5 1.4 1.6z"/>
<path fill="#2bc1ac" d="M323.7 465.7l-1.5-1.9 1.9-.5 1.5 1.9z"/>
<path fill="#1da0e3" d="M273 479.9l-1.5-.6 1.9-6.5 1.5 .6z"/>
<path fill="#1eb9c1" d="M337.3 470.3l-1.5-1.2 1.9-.6 1.5 1.3z"/>
<path fill="#1bb7c6" d="M352.8 471.5l-1.5-1 1.9-.6 1.5 1z"/>
<path fill="#4ac888" d="M294.7 459.1l-1.5-2.1 1.9-1 1.5 2.1z"/>
<path fill="#5dc879" d="M287.9 456.8l-1.5-2.2 1.9-1.5 1.5 2.3z"/>
<path fill="#51c882" d="M291.3 458.2l-1.5-2.8 1.9-1.2 1.5 2.8z"/>
<path fill="#46c88b" d="M298.1 459.7l-1.5-1.6 1.9-.9 1.5 1.6z"/>
<path fill="#51c882" d="M282.6 458.4l-1.5-.6 1.9-2.1 1.5 .6z"/>
<path fill="#1db8c2" d="M340.7 470.8l-1.5-1 1.9-.6 1.5 1z"/>
<path fill="#337cf6" d="M376.1 491l-1.5-5.9 1.9-.5 1.5 5.8z"/>
<path fill="#1ca2e2" d="M373.1 479.8l-1.5-3.5 1.9-.6 1.5 3.5z"/>
<path fill="#3e26a8" d="M277 513.4l-1.5-.7 2-27.9 1.4 1.2z"/>
<path fill="#1ab6c8" d="M356.2 472.1l-1.5-1.2 1.9-.5 1.5 1.1z"/>
<path fill="#4752f3" d="M375.6 501.7l-1.4-10.1 1.9-.6 1.4 10.1z"/>
<path fill="#41c88f" d="M301.4 460.4l-1.4-1.6 1.9-.8 1.5 1.6z"/>
<path fill="#3e26a8" d="M373.3 514.9l-1.5-12.1 1.9-.6 1.5 12.1z"/>
<path fill="#2791ef" d="M374.6 485.1l-1.5-5.3 1.9-.6 1.5 5.4z"/>
<path fill="#18b5cc" d="M359.5 473l-1.4-1.5 1.9-.5 1.5 1.4z"/>
<path fill="#1db8c3" d="M344.1 471.2l-1.5-1 1.9-.5 1.5 .9z"/>
<path fill="#3bc894" d="M304.8 461.2l-1.4-1.6 1.9-.7 1.5 1.6z"/>
<path fill="#15b3d0" d="M362.9 474l-1.4-1.6 1.9-.6 1.4 1.6z"/>
<path fill="#15acda" d="M369.7 476.8l-1.5-2.2 2-.5 1.4 2.2z"/>
<path fill="#12b1d6" d="M366.3 475.2l-1.5-1.8 2-.5 1.4 1.7z"/>
<path fill="#36c799" d="M308.2 462.1l-1.4-1.6 1.9-.7 1.4 1.6z"/>
<path fill="#3cc893" d="M280.7 461l-1.5-.6 1.9-2.6 1.5 .6z"/>
<path fill="#16b4cf" d="M274.9 473.4l-1.5-.6 2-5.2 1.4 .6z"/>
<path fill="#34c69d" d="M311.6 463l-1.5-1.6 2-.6 1.4 1.5z"/>
<path fill="#52c882" d="M286 458.5l-1.5-2.2 1.9-1.7 1.5 2.2z"/>
<path fill="#1cb8c4" d="M347.5 471.6l-1.5-1 1.9-.5 1.5 .9z"/>
<path fill="#31c4a1" d="M315 463.9l-1.5-1.6 1.9-.6 1.5 1.6z"/>
<path fill="#49c888" d="M289.4 459.5l-1.5-2.7 1.9-1.4 1.5 2.8z"/>
<path fill="#23bcb9" d="M328.6 469.1l-1.5-1.9 1.9-.6 1.5 1.9z"/>
<path fill="#20babe" d="M332 470.2l-1.5-1.7 1.9-.5 1.5 1.6z"/>
<path fill="#30c4a3" d="M278.8 464.2l-1.5-.6 1.9-3.2 1.5 .6z"/>
<path fill="#27beb3" d="M325.2 467.7l-1.5-2 1.9-.5 1.5 2z"/>
<path fill="#2ec3a6" d="M318.4 465l-1.5-1.7 1.9-.6 1.5 1.7z"/>
<path fill="#44c88c" d="M292.8 460.2l-1.5-2 1.9-1.2 1.5 2.1z"/>
<path fill="#25bdb6" d="M276.8 468.2l-1.4-.6 1.9-4 1.5 .6z"/>
<path fill="#2bc0ac" d="M321.8 466.3l-1.5-1.9 1.9-.6 1.5 1.9z"/>
<path fill="#1eb9c1" d="M335.4 470.9l-1.5-1.3 1.9-.5 1.5 1.2z"/>
<path fill="#1bb7c6" d="M350.8 472.1l-1.4-1.1 1.9-.5 1.5 1z"/>
<path fill="#42c88e" d="M296.1 460.7l-1.4-1.6 1.9-1 1.5 1.6z"/>
<path fill="#1f9de6" d="M274.5 481.5l-1.5-1.6 1.9-6.5 1.5 1.7z"/>
<path fill="#1db8c2" d="M338.8 471.4l-1.5-1.1 1.9-.5 1.5 1z"/>
<path fill="#337cf6" d="M374.2 491.6l-1.5-5.9 1.9-.6 1.5 5.9z"/>
<path fill="#1ca2e2" d="M371.2 480.3l-1.5-3.5 1.9-.5 1.5 3.5z"/>
<path fill="#1ab6c8" d="M354.2 472.7l-1.4-1.2 1.9-.6 1.5 1.2z"/>
<path fill="#3ec891" d="M299.5 461.2l-1.4-1.5 1.9-.9 1.4 1.6z"/>
<path fill="#4752f3" d="M373.7 502.2l-1.5-10.1 2-.5 1.4 10.1z"/>
<path fill="#43c88e" d="M284.1 460.5l-1.5-2.1 1.9-2.1 1.5 2.2z"/>
<path fill="#3e26a8" d="M371.4 515.5l-1.5-12.1 1.9-.6 1.5 12.1z"/>
<path fill="#2791ef" d="M372.7 485.7l-1.5-5.4 1.9-.5 1.5 5.3z"/>
<path fill="#39c896" d="M302.9 462l-1.5-1.6 2-.8 1.4 1.6z"/>
<path fill="#18b5cc" d="M357.6 473.5l-1.4-1.4 1.9-.6 1.4 1.5z"/>
<path fill="#1db8c3" d="M342.2 471.8l-1.5-1 1.9-.6 1.5 1z"/>
<path fill="#3e26a8" d="M278.5 514.2l-1.5-.8 1.9-27.4 1.5 1.1z"/>
<path fill="#15b3d0" d="M361 474.6l-1.5-1.6 2-.6 1.4 1.6z"/>
<path fill="#3fc891" d="M287.4 461.1l-1.4-2.6 1.9-1.7 1.5 2.7z"/>
<path fill="#15acda" d="M367.8 477.4l-1.5-2.2 1.9-.6 1.5 2.2z"/>
<path fill="#36c79a" d="M306.3 462.8l-1.5-1.6 2-.7 1.4 1.6z"/>
<path fill="#12b1d6" d="M364.4 475.8l-1.5-1.8 1.9-.6 1.5 1.8z"/>
<path fill="#3dc893" d="M290.8 461.5l-1.4-2 1.9-1.3 1.5 2z"/>
<path fill="#33c69d" d="M309.7 463.6l-1.5-1.5 1.9-.7 1.5 1.6z"/>
<path fill="#1cb8c4" d="M345.5 472.2l-1.4-1 1.9-.6 1.5 1z"/>
<path fill="#35c69b" d="M282.1 463l-1.4-2 1.9-2.6 1.5 2.1z"/>
<path fill="#31c4a1" d="M313.1 464.6l-1.5-1.6 1.9-.7 1.5 1.6z"/>
<path fill="#13b2d4" d="M276.4 475.1l-1.5-1.7 1.9-5.2 1.5 1.9z"/>
<path fill="#23bcb9" d="M326.7 469.7l-1.5-2 1.9-.5 1.5 1.9z"/>
<path fill="#20babe" d="M330.1 470.8l-1.5-1.7 1.9-.6 1.5 1.7z"/>
<path fill="#2ec3a6" d="M316.5 465.6l-1.5-1.7 1.9-.6 1.5 1.7z"/>
<path fill="#27beb3" d="M323.3 468.3l-1.5-2 1.9-.6 1.5 2z"/>
<path fill="#3cc893" d="M294.2 461.8l-1.4-1.6 1.9-1.1 1.4 1.6z"/>
<path fill="#2bc0ac" d="M319.9 466.9l-1.5-1.9 1.9-.6 1.5 1.9z"/>
<path fill="#1eb9c1" d="M333.5 471.5l-1.5-1.3 1.9-.6 1.5 1.3z"/>
<path fill="#1bb7c6" d="M348.9 472.6l-1.4-1 1.9-.6 1.4 1.1z"/>
<path fill="#2cc1a9" d="M280.2 466.2l-1.4-2 1.9-3.2 1.4 2z"/>
<path fill="#21bbbc" d="M278.3 470.1l-1.5-1.9 2-4 1.4 2z"/>
<path fill="#35c79a" d="M285.5 463.1l-1.4-2.6 1.9-2 1.4 2.6z"/>
<path fill="#3ac894" d="M297.6 462.1l-1.5-1.4 2-1 1.4 1.5z"/>
<path fill="#2299e9" d="M276 483.4l-1.5-1.9 1.9-6.4 1.5 2z"/>
<path fill="#1db8c2" d="M336.8 471.9l-1.4-1 1.9-.6 1.5 1.1z"/>
<path fill="#337cf6" d="M372.2 492.1l-1.4-5.8 1.9-.6 1.5 5.9z"/>
<path fill="#1ca2e2" d="M369.3 480.9l-1.5-3.5 1.9-.6 1.5 3.5z"/>
<path fill="#1ab6c8" d="M352.3 473.2l-1.5-1.1 2-.6 1.4 1.2z"/>
<path fill="#4752f3" d="M371.8 502.8l-1.5-10.1 1.9-.6 1.5 10.1z"/>
<path fill="#3e26a8" d="M369.5 516l-1.5-12.1 1.9-.5 1.5 12.1z"/>
<path fill="#37c898" d="M301 462.8l-1.5-1.6 1.9-.8 1.5 1.6z"/>
<path fill="#36c799" d="M288.9 463.1l-1.5-2 2-1.6 1.4 2z"/>
<path fill="#2791ef" d="M370.8 486.3l-1.5-5.4 1.9-.6 1.5 5.4z"/>
<path fill="#18b5cc" d="M355.7 474.1l-1.5-1.4 2-.6 1.4 1.4z"/>
<path fill="#1db8c3" d="M340.2 472.3l-1.4-.9 1.9-.6 1.5 1z"/>
<path fill="#35c79b" d="M304.4 463.5l-1.5-1.5 1.9-.8 1.5 1.6z"/>
<path fill="#15b3d0" d="M359.1 475.1l-1.5-1.6 1.9-.5 1.5 1.6z"/>
<path fill="#15acda" d="M365.9 478l-1.5-2.2 1.9-.6 1.5 2.2z"/>
<path fill="#12b1d6" d="M362.5 476.3l-1.5-1.7 1.9-.6 1.5 1.8z"/>
<path fill="#2fc3a5" d="M283.6 465.5l-1.5-2.5 2-2.5 1.4 2.6z"/>
<path fill="#33c69e" d="M307.8 464.3l-1.5-1.5 1.9-.7 1.5 1.5z"/>
<path fill="#37c898" d="M292.3 463l-1.5-1.5 2-1.3 1.4 1.6z"/>
<path fill="#1cb8c4" d="M343.6 472.7l-1.4-.9 1.9-.6 1.4 1z"/>
<path fill="#31c4a2" d="M311.2 465.2l-1.5-1.6 1.9-.6 1.5 1.6z"/>
<path fill="#14aed9" d="M277.9 477.1l-1.5-2 1.9-5 1.5 2.2z"/>
<path fill="#3e26a8" d="M280 515l-1.5-.8 1.9-27.1 1.5 1.1z"/>
<path fill="#23bcb9" d="M324.8 470.2l-1.5-1.9 1.9-.6 1.5 2z"/>
<path fill="#20babe" d="M328.2 471.3l-1.5-1.6 1.9-.6 1.5 1.7z"/>
<path fill="#2ec2a6" d="M314.6 466.2l-1.5-1.6 1.9-.7 1.5 1.7z"/>
<path fill="#27beb3" d="M321.4 468.9l-1.5-2 1.9-.6 1.5 2z"/>
<path fill="#2bc0ac" d="M318 467.5l-1.5-1.9 1.9-.6 1.5 1.9z"/>
<path fill="#27beb2" d="M281.7 468.5l-1.5-2.3 1.9-3.2 1.5 2.5z"/>
<path fill="#1eb9c1" d="M331.5 472l-1.4-1.2 1.9-.6 1.5 1.3z"/>
<path fill="#37c898" d="M295.7 463.2l-1.5-1.4 1.9-1.1 1.5 1.4z"/>
<path fill="#1db8c4" d="M279.8 472.3l-1.5-2.2 1.9-3.9 1.5 2.3z"/>
<path fill="#31c4a1" d="M287 465l-1.5-1.9 1.9-2 1.5 2z"/>
<path fill="#1bb7c6" d="M347 473.2l-1.5-1 2-.6 1.4 1z"/>
<path fill="#1db8c2" d="M334.9 472.5l-1.4-1 1.9-.6 1.4 1z"/>
<path fill="#337cf6" d="M370.3 492.7l-1.5-5.9 2-.5 1.4 5.8z"/>
<path fill="#1ca2e2" d="M367.4 481.5l-1.5-3.5 1.9-.6 1.5 3.5z"/>
<path fill="#2396eb" d="M277.5 484.8l-1.5-1.4 1.9-6.3 1.5 1.6z"/>
<path fill="#36c79a" d="M299.1 463.7l-1.5-1.6 1.9-.9 1.5 1.6z"/>
<path fill="#1ab6c8" d="M350.4 473.8l-1.5-1.2 1.9-.5 1.5 1.1z"/>
<path fill="#4752f3" d="M369.9 503.4l-1.5-10.1 1.9-.6 1.5 10.1z"/>
<path fill="#3e26a8" d="M367.6 516.6l-1.5-12.1 1.9-.6 1.5 12.1z"/>
<path fill="#2791ef" d="M368.8 486.8l-1.4-5.3 1.9-.6 1.5 5.4z"/>
<path fill="#18b5cc" d="M353.8 474.6l-1.5-1.4 1.9-.5 1.5 1.4z"/>
<path fill="#33c69d" d="M290.4 464.6l-1.5-1.5 1.9-1.6 1.5 1.5z"/>
<path fill="#34c69c" d="M302.5 464.3l-1.5-1.5 1.9-.8 1.5 1.5z"/>
<path fill="#1db8c3" d="M338.3 472.9l-1.5-1 2-.5 1.4 .9z"/>
<path fill="#2cc1aa" d="M285.1 467.3l-1.5-1.8 1.9-2.4 1.5 1.9z"/>
<path fill="#15b3d0" d="M357.2 475.7l-1.5-1.6 1.9-.6 1.5 1.6z"/>
<path fill="#15acda" d="M364 478.5l-1.5-2.2 1.9-.5 1.5 2.2z"/>
<path fill="#12b1d6" d="M360.6 476.9l-1.5-1.8 1.9-.5 1.5 1.7z"/>
<path fill="#32c59f" d="M305.9 465l-1.5-1.5 1.9-.7 1.5 1.5z"/>
<path fill="#30c4a2" d="M309.3 465.9l-1.5-1.6 1.9-.7 1.5 1.6z"/>
<path fill="#1cb8c4" d="M341.7 473.3l-1.5-1 2-.5 1.4 .9z"/>
<path fill="#16abdb" d="M279.4 478.7l-1.5-1.6 1.9-4.8 1.5 1.6z"/>
<path fill="#34c69c" d="M293.8 464.5l-1.5-1.5 1.9-1.2 1.5 1.4z"/>
<path fill="#23bcb9" d="M322.8 470.8l-1.4-1.9 1.9-.6 1.5 1.9z"/>
<path fill="#2ec2a7" d="M312.7 466.9l-1.5-1.7 1.9-.6 1.5 1.6z"/>
<path fill="#24bcb7" d="M283.2 470.2l-1.5-1.7 1.9-3 1.5 1.8z"/>
<path fill="#20babe" d="M326.2 471.9l-1.4-1.7 1.9-.5 1.5 1.6z"/>
<path fill="#26beb3" d="M319.5 469.5l-1.5-2 1.9-.6 1.5 2z"/>
<path fill="#2ac0ac" d="M316.1 468.1l-1.5-1.9 1.9-.6 1.5 1.9z"/>
<path fill="#1ab6c8" d="M281.3 473.9l-1.5-1.6 1.9-3.8 1.5 1.7z"/>
<path fill="#1eb9c1" d="M329.6 472.6l-1.4-1.3 1.9-.5 1.4 1.2z"/>
<path fill="#1bb7c6" d="M345.1 473.7l-1.5-1 1.9-.5 1.5 1z"/>
<path fill="#2fc3a4" d="M288.5 466.4l-1.5-1.4 1.9-1.9 1.5 1.5z"/>
<path fill="#3e26a8" d="M281.5 515.7l-1.5-.7 1.9-26.8 1.5 1.2z"/>
<path fill="#34c69c" d="M297.2 464.7l-1.5-1.5 1.9-1.1 1.5 1.6z"/>
<path fill="#1db8c2" d="M333 473.1l-1.5-1.1 2-.5 1.4 1z"/>
<path fill="#337cf6" d="M368.4 493.3l-1.5-5.9 1.9-.6 1.5 5.9z"/>
<path fill="#1ca2e2" d="M365.5 482l-1.5-3.5 1.9-.5 1.5 3.5z"/>
<path fill="#1ab6c8" d="M348.5 474.4l-1.5-1.2 1.9-.6 1.5 1.2z"/>
<path fill="#4752f3" d="M368 503.9l-1.5-10.1 1.9-.5 1.5 10.1z"/>
<path fill="#3e26a8" d="M365.6 517.2l-1.4-12.1 1.9-.6 1.5 12.1z"/>
<path fill="#33c69e" d="M300.6 465.2l-1.5-1.5 1.9-.9 1.5 1.5z"/>
<path fill="#2495ec" d="M278.9 486l-1.4-1.2 1.9-6.1 1.4 1.2z"/>
<path fill="#2791ef" d="M366.9 487.4l-1.4-5.4 1.9-.5 1.4 5.3z"/>
<path fill="#18b5cc" d="M351.9 475.2l-1.5-1.4 1.9-.6 1.5 1.4z"/>
<path fill="#1db8c3" d="M336.4 473.5l-1.5-1 1.9-.6 1.5 1z"/>
<path fill="#15b3d0" d="M355.3 476.2l-1.5-1.6 1.9-.5 1.5 1.6z"/>
<path fill="#32c5a0" d="M304 465.8l-1.5-1.5 1.9-.8 1.5 1.5z"/>
<path fill="#15acda" d="M362.1 479.1l-1.5-2.2 1.9-.6 1.5 2.2z"/>
<path fill="#31c4a1" d="M291.9 465.9l-1.5-1.3 1.9-1.6 1.5 1.5z"/>
<path fill="#2ac0ae" d="M286.6 468.7l-1.5-1.4 1.9-2.3 1.5 1.4z"/>
<path fill="#12b1d6" d="M358.7 477.4l-1.5-1.7 1.9-.6 1.5 1.8z"/>
<path fill="#30c4a3" d="M307.4 466.6l-1.5-1.6 1.9-.7 1.5 1.6z"/>
<path fill="#1cb8c4" d="M339.8 473.8l-1.5-.9 1.9-.6 1.5 1z"/>
<path fill="#2dc2a7" d="M310.8 467.5l-1.5-1.6 1.9-.7 1.5 1.7z"/>
<path fill="#23bcb9" d="M320.9 471.4l-1.4-1.9 1.9-.6 1.4 1.9z"/>
<path fill="#20babe" d="M324.3 472.5l-1.5-1.7 2-.6 1.4 1.7z"/>
<path fill="#26beb3" d="M317.5 470.1l-1.4-2 1.9-.6 1.5 2z"/>
<path fill="#2ac0ad" d="M314.2 468.7l-1.5-1.8 1.9-.7 1.5 1.9z"/>
<path fill="#32c5a0" d="M295.3 466l-1.5-1.5 1.9-1.3 1.5 1.5z"/>
<path fill="#17a9dc" d="M280.8 479.9l-1.4-1.2 1.9-4.8 1.5 1.3z"/>
<path fill="#22bbba" d="M284.7 471.5l-1.5-1.3 1.9-2.9 1.5 1.4z"/>
<path fill="#1eb9c1" d="M327.7 473.2l-1.5-1.3 2-.6 1.4 1.3z"/>
<path fill="#1bb7c6" d="M343.2 474.3l-1.5-1 1.9-.6 1.5 1z"/>
<path fill="#18b5cb" d="M282.8 475.2l-1.5-1.3 1.9-3.7 1.5 1.3z"/>
<path fill="#1db8c2" d="M331.1 473.6l-1.5-1 1.9-.6 1.5 1.1z"/>
<path fill="#2dc2a8" d="M290 467.8l-1.5-1.4 1.9-1.8 1.5 1.3z"/>
<path fill="#337cf6" d="M366.5 493.8l-1.5-5.9 1.9-.5 1.5 5.9z"/>
<path fill="#32c5a0" d="M298.7 466.2l-1.5-1.5 1.9-1 1.5 1.5z"/>
<path fill="#1ca2e2" d="M363.5 482.6l-1.4-3.5 1.9-.6 1.5 3.5z"/>
<path fill="#1ab6c8" d="M346.6 474.9l-1.5-1.2 1.9-.5 1.5 1.2z"/>
<path fill="#4752f3" d="M366.1 504.5l-1.5-10.1 1.9-.6 1.5 10.1z"/>
<path fill="#3e26a8" d="M363.7 517.7l-1.5-12.1 2-.5 1.4 12.1z"/>
<path fill="#3e26a8" d="M282.9 516.5l-1.4-.8 1.9-26.3 1.4 1.1z"/>
<path fill="#2791ef" d="M365 487.9l-1.5-5.3 2-.6 1.4 5.4z"/>
<path fill="#18b5cc" d="M350 475.8l-1.5-1.4 1.9-.6 1.5 1.4z"/>
<path fill="#31c4a2" d="M302.1 466.7l-1.5-1.5 1.9-.9 1.5 1.5z"/>
<path fill="#1db8c3" d="M334.5 474l-1.5-.9 1.9-.6 1.5 1z"/>
<path fill="#15b3d0" d="M353.4 476.8l-1.5-1.6 1.9-.6 1.5 1.6z"/>
<path fill="#15acda" d="M360.2 479.7l-1.5-2.3 1.9-.5 1.5 2.2z"/>
<path fill="#12b1d6" d="M356.8 478l-1.5-1.8 1.9-.5 1.5 1.7z"/>
<path fill="#2594ed" d="M280.4 487.1l-1.5-1.1 1.9-6.1 1.5 1.1z"/>
<path fill="#2fc3a4" d="M305.5 467.4l-1.5-1.6 1.9-.8 1.5 1.6z"/>
<path fill="#2fc3a5" d="M293.4 467.4l-1.5-1.5 1.9-1.4 1.5 1.5z"/>
<path fill="#28bfb1" d="M288.1 470l-1.5-1.3 1.9-2.3 1.5 1.4z"/>
<path fill="#1cb8c4" d="M337.9 474.4l-1.5-.9 1.9-.6 1.5 .9z"/>
<path fill="#2dc2a8" d="M308.8 468.3l-1.4-1.7 1.9-.7 1.5 1.6z"/>
<path fill="#23bcba" d="M319 472l-1.5-1.9 2-.6 1.4 1.9z"/>
<path fill="#2ac0ad" d="M312.2 469.4l-1.4-1.9 1.9-.6 1.5 1.8z"/>
<path fill="#26beb3" d="M315.6 470.7l-1.4-2 1.9-.6 1.4 2z"/>
<path fill="#20babe" d="M322.4 473.1l-1.5-1.7 1.9-.6 1.5 1.7z"/>
<path fill="#1eb9c1" d="M325.8 473.8l-1.5-1.3 1.9-.6 1.5 1.3z"/>
<path fill="#1bb7c6" d="M341.3 474.9l-1.5-1.1 1.9-.5 1.5 1z"/>
<path fill="#30c3a4" d="M296.8 467.4l-1.5-1.4 1.9-1.3 1.5 1.5z"/>
<path fill="#21babd" d="M286.2 472.8l-1.5-1.3 1.9-2.8 1.5 1.3z"/>
<path fill="#18a8dd" d="M282.3 481l-1.5-1.1 2-4.7 1.4 1.2z"/>
<path fill="#1db8c2" d="M329.2 474.2l-1.5-1 1.9-.6 1.5 1z"/>
<path fill="#337cf6" d="M364.6 494.4l-1.5-5.9 1.9-.6 1.5 5.9z"/>
<path fill="#1ca2e2" d="M361.6 483.2l-1.4-3.5 1.9-.6 1.4 3.5z"/>
<path fill="#1ab6c8" d="M344.7 475.5l-1.5-1.2 1.9-.6 1.5 1.2z"/>
<path fill="#4752f3" d="M364.2 505.1l-1.5-10.1 1.9-.6 1.5 10.1z"/>
<path fill="#17b4ce" d="M284.2 476.4l-1.4-1.2 1.9-3.7 1.5 1.3z"/>
<path fill="#2fc3a4" d="M300.2 467.7l-1.5-1.5 1.9-1 1.5 1.5z"/>
<path fill="#3e26a8" d="M361.8 518.3l-1.5-12.1 1.9-.6 1.5 12.1z"/>
<path fill="#2bc1ab" d="M291.5 469.2l-1.5-1.4 1.9-1.9 1.5 1.5z"/>
<path fill="#2791ef" d="M363.1 488.5l-1.5-5.3 1.9-.6 1.5 5.3z"/>
<path fill="#18b5cc" d="M348.1 476.3l-1.5-1.4 1.9-.5 1.5 1.4z"/>
<path fill="#1db8c3" d="M332.6 474.6l-1.5-1 1.9-.5 1.5 .9z"/>
<path fill="#15b3d0" d="M351.5 477.4l-1.5-1.6 1.9-.6 1.5 1.6z"/>
<path fill="#15acda" d="M358.2 480.2l-1.4-2.2 1.9-.6 1.5 2.3z"/>
<path fill="#2ec3a6" d="M303.5 468.3l-1.4-1.6 1.9-.9 1.5 1.6z"/>
<path fill="#12b1d6" d="M354.8 478.6l-1.4-1.8 1.9-.6 1.5 1.8z"/>
<path fill="#3e26a8" d="M284.4 517.2l-1.5-.7 1.9-26 1.5 1.1z"/>
<path fill="#2cc1a9" d="M306.9 469l-1.4-1.6 1.9-.8 1.4 1.7z"/>
<path fill="#1cb8c4" d="M336 475l-1.5-1 1.9-.5 1.5 .9z"/>
<path fill="#29c0ae" d="M310.3 470.1l-1.5-1.8 2-.8 1.4 1.9z"/>
<path fill="#22bbba" d="M317.1 472.6l-1.5-1.9 1.9-.6 1.5 1.9z"/>
<path fill="#2dc2a8" d="M294.8 468.8l-1.4-1.4 1.9-1.4 1.5 1.4z"/>
<path fill="#26beb4" d="M313.7 471.4l-1.5-2 2-.7 1.4 2z"/>
<path fill="#20babe" d="M320.5 473.7l-1.5-1.7 1.9-.6 1.5 1.7z"/>
<path fill="#2692ee" d="M281.9 488.2l-1.5-1.1 1.9-6.1 1.5 1.2z"/>
<path fill="#26bdb4" d="M289.5 471.4l-1.4-1.4 1.9-2.2 1.5 1.4z"/>
<path fill="#1eb9c1" d="M323.9 474.3l-1.5-1.2 1.9-.6 1.5 1.3z"/>
<path fill="#1bb7c6" d="M339.4 475.4l-1.5-1 1.9-.6 1.5 1.1z"/>
<path fill="#2dc2a7" d="M298.2 468.9l-1.4-1.5 1.9-1.2 1.5 1.5z"/>
<path fill="#1db8c2" d="M327.3 474.8l-1.5-1 1.9-.6 1.5 1z"/>
<path fill="#337cf6" d="M362.7 495l-1.5-5.9 1.9-.6 1.5 5.9z"/>
<path fill="#1ca2e2" d="M359.7 483.7l-1.5-3.5 2-.5 1.4 3.5z"/>
<path fill="#1ab6c8" d="M342.8 476.1l-1.5-1.2 1.9-.6 1.5 1.2z"/>
<path fill="#4752f3" d="M362.2 505.6l-1.4-10.1 1.9-.5 1.5 10.1z"/>
<path fill="#1fb9c0" d="M287.6 474.1l-1.4-1.3 1.9-2.8 1.4 1.4z"/>
<path fill="#3e26a8" d="M359.9 518.9l-1.5-12.1 1.9-.6 1.5 12.1z"/>
<path fill="#19a6de" d="M283.8 482.2l-1.5-1.2 1.9-4.6 1.5 1.2z"/>
<path fill="#2791ef" d="M361.2 489.1l-1.5-5.4 1.9-.5 1.5 5.3z"/>
<path fill="#18b5cc" d="M346.2 476.9l-1.5-1.4 1.9-.6 1.5 1.4z"/>
<path fill="#2dc2a8" d="M301.6 469.2l-1.4-1.5 1.9-1 1.4 1.6z"/>
<path fill="#15b3d0" d="M285.7 477.6l-1.5-1.2 2-3.6 1.4 1.3z"/>
<path fill="#1db8c3" d="M330.7 475.2l-1.5-1 1.9-.6 1.5 1z"/>
<path fill="#29bfaf" d="M292.9 470.6l-1.4-1.4 1.9-1.8 1.4 1.4z"/>
<path fill="#15b3d0" d="M349.5 477.9l-1.4-1.6 1.9-.5 1.5 1.6z"/>
<path fill="#15acda" d="M356.3 480.8l-1.5-2.2 2-.6 1.4 2.2z"/>
<path fill="#12b1d6" d="M352.9 479.1l-1.4-1.7 1.9-.6 1.4 1.8z"/>
<path fill="#2bc1ab" d="M305 469.9l-1.5-1.6 2-.9 1.4 1.6z"/>
<path fill="#29bfaf" d="M308.4 470.8l-1.5-1.8 1.9-.7 1.5 1.8z"/>
<path fill="#1cb8c4" d="M334.1 475.6l-1.5-1 1.9-.6 1.5 1z"/>
<path fill="#25bdb5" d="M311.8 472.1l-1.5-2 1.9-.7 1.5 2z"/>
<path fill="#22bbba" d="M315.2 473.3l-1.5-1.9 1.9-.7 1.5 1.9z"/>
<path fill="#1fbabf" d="M318.6 474.3l-1.5-1.7 1.9-.6 1.5 1.7z"/>
<path fill="#2bc0ac" d="M296.3 470.3l-1.5-1.5 2-1.4 1.4 1.5z"/>
<path fill="#3e26a8" d="M285.9 518l-1.5-.8 1.9-25.6 1.5 1.2z"/>
<path fill="#1eb9c1" d="M322 474.9l-1.5-1.2 1.9-.6 1.5 1.2z"/>
<path fill="#1bb7c6" d="M337.5 476l-1.5-1 1.9-.6 1.5 1z"/>
<path fill="#24bcb7" d="M291 472.7l-1.5-1.3 2-2.2 1.4 1.4z"/>
<path fill="#2791ef" d="M283.4 489.4l-1.5-1.2 1.9-6 1.5 1.2z"/>
<path fill="#1db8c2" d="M325.4 475.4l-1.5-1.1 1.9-.5 1.5 1z"/>
<path fill="#337cf6" d="M360.8 495.5l-1.5-5.9 1.9-.5 1.5 5.9z"/>
<path fill="#1ca2e2" d="M357.8 484.3l-1.5-3.5 1.9-.6 1.5 3.5z"/>
<path fill="#1ab6c8" d="M340.8 476.6l-1.4-1.2 1.9-.5 1.5 1.2z"/>
<path fill="#4752f3" d="M360.3 506.2l-1.4-10.1 1.9-.6 1.4 10.1z"/>
<path fill="#2bc1ab" d="M299.7 470.4l-1.5-1.5 2-1.2 1.4 1.5z"/>
<path fill="#3e26a8" d="M358 519.4l-1.5-12.1 1.9-.5 1.5 12.1z"/>
<path fill="#2791ef" d="M359.3 489.6l-1.5-5.3 1.9-.6 1.5 5.4z"/>
<path fill="#18b5cc" d="M344.2 477.5l-1.4-1.4 1.9-.6 1.5 1.4z"/>
<path fill="#1db8c3" d="M289.1 475.4l-1.5-1.3 1.9-2.7 1.5 1.3z"/>
<path fill="#1db8c3" d="M328.8 475.7l-1.5-.9 1.9-.6 1.5 1z"/>
<path fill="#2ac0ad" d="M303.1 470.8l-1.5-1.6 1.9-.9 1.5 1.6z"/>
<path fill="#15b3d0" d="M347.6 478.5l-1.4-1.6 1.9-.6 1.4 1.6z"/>
<path fill="#15acda" d="M354.4 481.4l-1.5-2.3 1.9-.5 1.5 2.2z"/>
<path fill="#1aa5e0" d="M285.3 483.4l-1.5-1.2 1.9-4.6 1.5 1.3z"/>
<path fill="#12b1d6" d="M351 479.7l-1.5-1.8 2-.5 1.4 1.7z"/>
<path fill="#27beb2" d="M294.4 471.9l-1.5-1.3 1.9-1.8 1.5 1.5z"/>
<path fill="#14b2d3" d="M287.2 478.9l-1.5-1.3 1.9-3.5 1.5 1.3z"/>
<path fill="#28bfb0" d="M306.5 471.7l-1.5-1.8 1.9-.9 1.5 1.8z"/>
<path fill="#25bdb6" d="M309.9 472.8l-1.5-2 1.9-.7 1.5 2z"/>
<path fill="#1cb8c4" d="M332.2 476.1l-1.5-.9 1.9-.6 1.5 1z"/>
<path fill="#2bb" d="M313.3 474l-1.5-1.9 1.9-.7 1.5 1.9z"/>
<path fill="#1fb9bf" d="M316.7 474.9l-1.5-1.6 1.9-.7 1.5 1.7z"/>
<path fill="#1eb9c1" d="M320.1 475.5l-1.5-1.2 1.9-.6 1.5 1.2z"/>
<path fill="#1bb7c6" d="M335.5 476.6l-1.4-1 1.9-.6 1.5 1z"/>
<path fill="#28bfb0" d="M297.8 471.7l-1.5-1.4 1.9-1.4 1.5 1.5z"/>
<path fill="#1db8c3" d="M323.5 476l-1.5-1.1 1.9-.6 1.5 1.1z"/>
<path fill="#22bbba" d="M292.5 474l-1.5-1.3 1.9-2.1 1.5 1.3z"/>
<path fill="#337cf6" d="M358.9 496.1l-1.5-5.9 1.9-.6 1.5 5.9z"/>
<path fill="#3e26a8" d="M287.4 518.8l-1.5-.8 1.9-25.2 1.5 1.2z"/>
<path fill="#1ca2e2" d="M355.9 484.8l-1.5-3.4 1.9-.6 1.5 3.5z"/>
<path fill="#1ab6c8" d="M338.9 477.2l-1.4-1.2 1.9-.6 1.4 1.2z"/>
<path fill="#4752f3" d="M358.4 506.8l-1.5-10.1 2-.6 1.4 10.1z"/>
<path fill="#2890f0" d="M284.8 490.5l-1.4-1.1 1.9-6 1.5 1.2z"/>
<path fill="#3e26a8" d="M356.1 520l-1.5-12.1 1.9-.6 1.5 12.1z"/>
<path fill="#28bfb0" d="M301.2 471.9l-1.5-1.5 1.9-1.2 1.5 1.6z"/>
<path fill="#2791ef" d="M357.4 490.2l-1.5-5.4 1.9-.5 1.5 5.3z"/>
<path fill="#18b5cc" d="M342.3 478l-1.5-1.4 2-.5 1.4 1.4z"/>
<path fill="#1db8c4" d="M326.8 476.3l-1.4-.9 1.9-.6 1.5 .9z"/>
<path fill="#15b3d0" d="M345.7 479.1l-1.5-1.6 2-.6 1.4 1.6z"/>
<path fill="#15acda" d="M352.5 481.9l-1.5-2.2 1.9-.6 1.5 2.3z"/>
<path fill="#27beb2" d="M304.6 472.6l-1.5-1.8 1.9-.9 1.5 1.8z"/>
<path fill="#12b1d6" d="M349.1 480.3l-1.5-1.8 1.9-.6 1.5 1.8z"/>
<path fill="#1bb7c6" d="M290.6 476.7l-1.5-1.3 1.9-2.7 1.5 1.3z"/>
<path fill="#24bcb7" d="M308 473.6l-1.5-1.9 1.9-.9 1.5 2z"/>
<path fill="#21bbbc" d="M311.4 474.7l-1.5-1.9 1.9-.7 1.5 1.9z"/>
<path fill="#1cb8c5" d="M330.2 476.7l-1.4-1 1.9-.5 1.5 .9z"/>
<path fill="#1ba3e1" d="M286.8 484.6l-1.5-1.2 1.9-4.5 1.5 1.2z"/>
<path fill="#25bdb5" d="M295.9 473.3l-1.5-1.4 1.9-1.6 1.5 1.4z"/>
<path fill="#1fb9c0" d="M314.8 475.6l-1.5-1.6 1.9-.7 1.5 1.6z"/>
<path fill="#12b1d5" d="M288.7 480.1l-1.5-1.2 1.9-3.5 1.5 1.3z"/>
<path fill="#1eb9c2" d="M318.2 476.2l-1.5-1.3 1.9-.6 1.5 1.2z"/>
<path fill="#1bb7c6" d="M333.6 477.1l-1.4-1 1.9-.5 1.4 1z"/>
<path fill="#26beb4" d="M299.3 473.2l-1.5-1.5 1.9-1.3 1.5 1.5z"/>
<path fill="#1db8c3" d="M321.5 476.6l-1.4-1.1 1.9-.6 1.5 1.1z"/>
<path fill="#337cf6" d="M356.9 496.7l-1.4-5.9 1.9-.6 1.5 5.9z"/>
<path fill="#1ca2e2" d="M354 485.4l-1.5-3.5 1.9-.5 1.5 3.4z"/>
<path fill="#1ab6c8" d="M337 477.8l-1.5-1.2 2-.6 1.4 1.2z"/>
<path fill="#4752f3" d="M356.5 507.3l-1.5-10.1 1.9-.5 1.5 10.1z"/>
<path fill="#3e26a8" d="M354.2 520.5l-1.5-12 1.9-.6 1.5 12.1z"/>
<path fill="#20babd" d="M294 475.4l-1.5-1.4 1.9-2.1 1.5 1.4z"/>
<path fill="#2791ef" d="M355.5 490.8l-1.5-5.4 1.9-.6 1.5 5.4z"/>
<path fill="#18b5cc" d="M340.4 478.6l-1.5-1.4 1.9-.6 1.5 1.4z"/>
<path fill="#25bdb5" d="M302.7 473.7l-1.5-1.8 1.9-1.1 1.5 1.8z"/>
<path fill="#1db8c4" d="M324.9 476.9l-1.4-.9 1.9-.6 1.4 .9z"/>
<path fill="#3e26a8" d="M288.9 519.5l-1.5-.7 1.9-24.8 1.5 1.4z"/>
<path fill="#298ef1" d="M286.3 491.6l-1.5-1.1 2-5.9 1.4 1.1z"/>
<path fill="#15b3d0" d="M343.8 479.6l-1.5-1.6 1.9-.5 1.5 1.6z"/>
<path fill="#15acda" d="M350.6 482.5l-1.5-2.2 1.9-.6 1.5 2.2z"/>
<path fill="#23bcb9" d="M306.1 474.5l-1.5-1.9 1.9-.9 1.5 1.9z"/>
<path fill="#12b1d6" d="M347.2 480.8l-1.5-1.7 1.9-.6 1.5 1.8z"/>
<path fill="#21babd" d="M309.5 475.5l-1.5-1.9 1.9-.8 1.5 1.9z"/>
<path fill="#1eb9c0" d="M312.8 476.3l-1.4-1.6 1.9-.7 1.5 1.6z"/>
<path fill="#1cb7c5" d="M328.3 477.3l-1.5-1 2-.6 1.4 1z"/>
<path fill="#1ab6c9" d="M292.1 478l-1.5-1.3 1.9-2.7 1.5 1.4z"/>
<path fill="#23bcb9" d="M297.4 474.8l-1.5-1.5 1.9-1.6 1.5 1.5z"/>
<path fill="#1db8c2" d="M316.2 476.8l-1.4-1.2 1.9-.7 1.5 1.3z"/>
<path fill="#1ca2e2" d="M288.2 485.7l-1.4-1.1 1.9-4.5 1.5 1.2z"/>
<path fill="#1bb7c6" d="M331.7 477.7l-1.5-1 2-.6 1.4 1z"/>
<path fill="#12b0d7" d="M290.2 481.3l-1.5-1.2 1.9-3.4 1.5 1.3z"/>
<path fill="#1db8c3" d="M319.6 477.2l-1.4-1 1.9-.7 1.4 1.1z"/>
<path fill="#337cf6" d="M355 497.2l-1.4-5.9 1.9-.5 1.4 5.9z"/>
<path fill="#1ca2e2" d="M352.1 486l-1.5-3.5 1.9-.6 1.5 3.5z"/>
<path fill="#23bcb9" d="M300.8 474.9l-1.5-1.7 1.9-1.3 1.5 1.8z"/>
<path fill="#1ab6c8" d="M335.1 478.3l-1.5-1.2 1.9-.5 1.5 1.2z"/>
<path fill="#4752f3" d="M354.6 507.9l-1.5-10.1 1.9-.6 1.5 10.1z"/>
<path fill="#3e26a8" d="M352.2 521.1l-1.4-12.1 1.9-.5 1.5 12z"/>
<path fill="#2791ef" d="M353.6 491.3l-1.5-5.3 1.9-.6 1.5 5.4z"/>
<path fill="#18b5cc" d="M338.5 479.2l-1.5-1.4 1.9-.6 1.5 1.4z"/>
<path fill="#2bb" d="M304.2 475.5l-1.5-1.8 1.9-1.1 1.5 1.9z"/>
<path fill="#1cb8c4" d="M323 477.5l-1.5-.9 2-.6 1.4 .9z"/>
<path fill="#1eb9c1" d="M295.5 476.8l-1.5-1.4 1.9-2.1 1.5 1.5z"/>
<path fill="#15b3d0" d="M341.9 480.2l-1.5-1.6 1.9-.6 1.5 1.6z"/>
<path fill="#15acda" d="M348.7 483l-1.5-2.2 1.9-.5 1.5 2.2z"/>
<path fill="#20babf" d="M307.5 476.3l-1.4-1.8 1.9-.9 1.5 1.9z"/>
<path fill="#12b1d6" d="M345.3 481.4l-1.5-1.8 1.9-.5 1.5 1.7z"/>
<path fill="#1eb9c2" d="M310.9 477.1l-1.4-1.6 1.9-.8 1.4 1.6z"/>
<path fill="#2a8df2" d="M287.8 492.8l-1.5-1.2 1.9-5.9 1.5 1.3z"/>
<path fill="#3e26a8" d="M290.3 520.3l-1.4-.8 1.9-24.1 1.4 1.3z"/>
<path fill="#1cb7c5" d="M326.4 477.9l-1.5-1 1.9-.6 1.5 1z"/>
<path fill="#1db8c3" d="M314.3 477.5l-1.5-1.2 2-.7 1.4 1.2z"/>
<path fill="#18b5cc" d="M293.5 479.3l-1.4-1.3 1.9-2.6 1.5 1.4z"/>
<path fill="#20babe" d="M298.8 476.5l-1.4-1.7 1.9-1.6 1.5 1.7z"/>
<path fill="#1bb7c6" d="M329.8 478.3l-1.5-1 1.9-.6 1.5 1z"/>
<path fill="#1db8c4" d="M317.7 477.8l-1.5-1 2-.6 1.4 1z"/>
<path fill="#1da0e3" d="M289.7 487l-1.5-1.3 2-4.4 1.4 1.3z"/>
<path fill="#14aed9" d="M291.6 482.6l-1.4-1.3 1.9-3.3 1.4 1.3z"/>
<path fill="#337cf6" d="M353.1 497.8l-1.5-5.9 2-.6 1.4 5.9z"/>
<path fill="#1ca2e2" d="M350.2 486.5l-1.5-3.5 1.9-.5 1.5 3.5z"/>
<path fill="#1ab6c8" d="M333.2 478.9l-1.5-1.2 1.9-.6 1.5 1.2z"/>
<path fill="#1fbabf" d="M302.2 476.7l-1.4-1.8 1.9-1.2 1.5 1.8z"/>
<path fill="#4752f3" d="M352.7 508.5l-1.5-10.2 1.9-.5 1.5 10.1z"/>
<path fill="#3e26a8" d="M350.3 521.7l-1.4-12.1 1.9-.6 1.4 12.1z"/>
<path fill="#2791ef" d="M351.6 491.9l-1.4-5.4 1.9-.5 1.5 5.3z"/>
<path fill="#18b5cc" d="M336.6 479.7l-1.5-1.4 1.9-.5 1.5 1.4z"/>
<path fill="#1cb8c4" d="M321.1 478.1l-1.5-.9 1.9-.6 1.5 .9z"/>
<path fill="#1eb9c1" d="M305.6 477.3l-1.4-1.8 1.9-1 1.4 1.8z"/>
<path fill="#15b3d0" d="M340 480.8l-1.5-1.6 1.9-.6 1.5 1.6z"/>
<path fill="#15acda" d="M346.8 483.6l-1.5-2.2 1.9-.6 1.5 2.2z"/>
<path fill="#1bb7c6" d="M296.9 478.4l-1.4-1.6 1.9-2 1.4 1.7z"/>
<path fill="#12b1d6" d="M343.4 482l-1.5-1.8 1.9-.6 1.5 1.8z"/>
<path fill="#1db8c3" d="M309 477.9l-1.5-1.6 2-.8 1.4 1.6z"/>
<path fill="#1cb7c5" d="M324.5 478.5l-1.5-1 1.9-.6 1.5 1z"/>
<path fill="#1cb8c4" d="M312.4 478.3l-1.5-1.2 1.9-.8 1.5 1.2z"/>
<path fill="#2b8bf4" d="M289.3 494l-1.5-1.2 1.9-5.8 1.5 1.3z"/>
<path fill="#3e26a8" d="M291.8 521l-1.5-.7 1.9-23.6 1.5 1.2z"/>
<path fill="#1cb8c4" d="M300.3 478.2l-1.5-1.7 2-1.6 1.4 1.8z"/>
<path fill="#1bb7c6" d="M327.9 478.9l-1.5-1 1.9-.6 1.5 1z"/>
<path fill="#15b3d0" d="M295 480.8l-1.5-1.5 2-2.5 1.4 1.6z"/>
<path fill="#1cb8c4" d="M315.8 478.5l-1.5-1 1.9-.7 1.5 1z"/>
<path fill="#337cf6" d="M351.2 498.3l-1.5-5.8 1.9-.6 1.5 5.9z"/>
<path fill="#1ca2e2" d="M348.2 487.1l-1.4-3.5 1.9-.6 1.5 3.5z"/>
<path fill="#1ab6c8" d="M331.3 479.5l-1.5-1.2 1.9-.6 1.5 1.2z"/>
<path fill="#1cb8c4" d="M303.7 478.5l-1.5-1.8 2-1.2 1.4 1.8z"/>
<path fill="#4752f3" d="M350.8 509l-1.5-10.1 1.9-.6 1.5 10.2z"/>
<path fill="#1e9ee5" d="M291.2 488.3l-1.5-1.3 1.9-4.4 1.5 1.5z"/>
<path fill="#15abdb" d="M293.1 484.1l-1.5-1.5 1.9-3.3 1.5 1.5z"/>
<path fill="#3e26a8" d="M348.4 522.2l-1.5-12.1 2-.5 1.4 12.1z"/>
<path fill="#1cb8c5" d="M319.2 478.8l-1.5-1 1.9-.6 1.5 .9z"/>
<path fill="#2791ef" d="M349.7 492.5l-1.5-5.4 2-.6 1.4 5.4z"/>
<path fill="#18b5cc" d="M334.7 480.3l-1.5-1.4 1.9-.6 1.5 1.4z"/>
<path fill="#1cb7c5" d="M307.1 478.9l-1.5-1.6 1.9-1 1.5 1.6z"/>
<path fill="#15b3d0" d="M338.1 481.3l-1.5-1.6 1.9-.5 1.5 1.6z"/>
<path fill="#15acda" d="M344.9 484.2l-1.5-2.2 1.9-.6 1.5 2.2z"/>
<path fill="#12b1d6" d="M341.5 482.5l-1.5-1.7 1.9-.6 1.5 1.8z"/>
<path fill="#18b5cb" d="M298.4 480.1l-1.5-1.7 1.9-1.9 1.5 1.7z"/>
<path fill="#1cb7c5" d="M322.6 479.1l-1.5-1 1.9-.6 1.5 1z"/>
<path fill="#1bb7c5" d="M310.5 479.1l-1.5-1.2 1.9-.8 1.5 1.2z"/>
<path fill="#1bb7c6" d="M326 479.5l-1.5-1 1.9-.6 1.5 1z"/>
<path fill="#19b6c9" d="M301.8 480l-1.5-1.8 1.9-1.5 1.5 1.8z"/>
<path fill="#1cb7c5" d="M313.9 479.3l-1.5-1 1.9-.8 1.5 1z"/>
<path fill="#2c89f5" d="M290.8 495.4l-1.5-1.4 1.9-5.7 1.5 1.5z"/>
<path fill="#12b2d5" d="M296.5 482.5l-1.5-1.7 1.9-2.4 1.5 1.7z"/>
<path fill="#337cf6" d="M349.3 498.9l-1.5-5.9 1.9-.5 1.5 5.8z"/>
<path fill="#1ca2e2" d="M346.3 487.7l-1.4-3.5 1.9-.6 1.4 3.5z"/>
<path fill="#1ab6c8" d="M329.4 480.1l-1.5-1.2 1.9-.6 1.5 1.2z"/>
<path fill="#4752f3" d="M348.9 509.6l-1.5-10.1 1.9-.6 1.5 10.1z"/>
<path fill="#3e26a8" d="M293.3 521.8l-1.5-.8 1.9-23.1 1.5 .9z"/>
<path fill="#1ab6c9" d="M305.2 480l-1.5-1.5 1.9-1.2 1.5 1.6z"/>
<path fill="#3e26a8" d="M346.5 522.8l-1.5-12.1 1.9-.6 1.5 12.1z"/>
<path fill="#1cb7c5" d="M317.3 479.4l-1.5-.9 1.9-.7 1.5 1z"/>
<path fill="#2791ef" d="M347.8 493l-1.5-5.3 1.9-.6 1.5 5.4z"/>
<path fill="#18b5cc" d="M332.8 480.9l-1.5-1.4 1.9-.6 1.5 1.4z"/>
<path fill="#17a9dd" d="M294.6 485.6l-1.5-1.5 1.9-3.3 1.5 1.7z"/>
<path fill="#209be7" d="M292.7 489.8l-1.5-1.5 1.9-4.2 1.5 1.5z"/>
<path fill="#15b3d0" d="M336.2 481.9l-1.5-1.6 1.9-.6 1.5 1.6z"/>
<path fill="#15acda" d="M342.9 484.7l-1.4-2.2 1.9-.5 1.5 2.2z"/>
<path fill="#12b1d6" d="M339.6 483.1l-1.5-1.8 1.9-.5 1.5 1.7z"/>
<path fill="#1ab6c8" d="M308.6 480.1l-1.5-1.2 1.9-1 1.5 1.2z"/>
<path fill="#15b3d0" d="M299.9 481.8l-1.5-1.7 1.9-1.9 1.5 1.8z"/>
<path fill="#1bb7c6" d="M320.7 479.7l-1.5-.9 1.9-.7 1.5 1z"/>
<path fill="#1bb7c7" d="M312 480.1l-1.5-1 1.9-.8 1.5 1z"/>
<path fill="#1bb7c7" d="M324.1 480.1l-1.5-1 1.9-.6 1.5 1z"/>
<path fill="#17b4cd" d="M303.3 481.4l-1.5-1.4 1.9-1.5 1.5 1.5z"/>
<path fill="#13afd8" d="M298 484.1l-1.5-1.6 1.9-2.4 1.5 1.7z"/>
<path fill="#2e87f7" d="M292.2 496.7l-1.4-1.3 1.9-5.6 1.5 1.4z"/>
<path fill="#337cf6" d="M347.4 499.5l-1.5-5.9 1.9-.6 1.5 5.9z"/>
<path fill="#1ca2e2" d="M344.4 488.2l-1.5-3.5 2-.5 1.4 3.5z"/>
<path fill="#1ab6c9" d="M327.5 480.7l-1.5-1.2 1.9-.6 1.5 1.2z"/>
<path fill="#4752f3" d="M346.9 510.1l-1.4-10.1 1.9-.5 1.5 10.1z"/>
<path fill="#1bb7c6" d="M315.4 480.2l-1.5-.9 1.9-.8 1.5 .9z"/>
<path fill="#3e26a8" d="M344.6 523.4l-1.5-12.1 1.9-.6 1.5 12.1z"/>
<path fill="#2791ef" d="M345.9 493.6l-1.5-5.4 1.9-.5 1.5 5.3z"/>
<path fill="#18b5cc" d="M330.9 481.5l-1.5-1.4 1.9-.6 1.5 1.4z"/>
<path fill="#18b5cb" d="M306.7 481.2l-1.5-1.2 1.9-1.1 1.5 1.2z"/>
<path fill="#19a6df" d="M296.1 487.1l-1.5-1.5 1.9-3.1 1.5 1.6z"/>
<path fill="#15b3d0" d="M334.2 482.5l-1.4-1.6 1.9-.6 1.5 1.6z"/>
<path fill="#15acda" d="M341 485.3l-1.4-2.2 1.9-.6 1.4 2.2z"/>
<path fill="#2299e9" d="M294.2 491.2l-1.5-1.4 1.9-4.2 1.5 1.5z"/>
<path fill="#12b1d6" d="M337.6 483.7l-1.4-1.8 1.9-.6 1.5 1.8z"/>
<path fill="#3e26a8" d="M294.8 522.5l-1.5-.7 1.9-23 1.5 .8z"/>
<path fill="#1bb7c6" d="M318.8 480.4l-1.5-1 1.9-.6 1.5 .9z"/>
<path fill="#13b2d4" d="M301.4 483.2l-1.5-1.4 1.9-1.8 1.5 1.4z"/>
<path fill="#1ab6c9" d="M310.1 481l-1.5-.9 1.9-1 1.5 1z"/>
<path fill="#1bb7c7" d="M322.2 480.7l-1.5-1 1.9-.6 1.5 1z"/>
<path fill="#337cf6" d="M345.5 500l-1.5-5.8 1.9-.6 1.5 5.9z"/>
<path fill="#1ca2e2" d="M342.5 488.8l-1.5-3.5 1.9-.6 1.5 3.5z"/>
<path fill="#19b6c9" d="M325.6 481.3l-1.5-1.2 1.9-.6 1.5 1.2z"/>
<path fill="#16b4cf" d="M304.8 482.5l-1.5-1.1 1.9-1.4 1.5 1.2z"/>
<path fill="#1ab6c7" d="M313.5 481l-1.5-.9 1.9-.8 1.5 .9z"/>
<path fill="#4752f3" d="M345 510.7l-1.4-10.1 1.9-.6 1.4 10.1z"/>
<path fill="#15adda" d="M299.5 485.4l-1.5-1.3 1.9-2.3 1.5 1.4z"/>
<path fill="#3e26a8" d="M342.7 523.9l-1.5-12.1 1.9-.5 1.5 12.1z"/>
<path fill="#2f85f7" d="M293.7 497.9l-1.5-1.2 2-5.5 1.4 1.2z"/>
<path fill="#2791ef" d="M344 494.2l-1.5-5.4 1.9-.6 1.5 5.4z"/>
<path fill="#18b5cc" d="M328.9 482l-1.4-1.3 1.9-.6 1.5 1.4z"/>
<path fill="#15b3d1" d="M332.3 483.1l-1.4-1.6 1.9-.6 1.4 1.6z"/>
<path fill="#15acda" d="M339.1 485.9l-1.5-2.2 2-.6 1.4 2.2z"/>
<path fill="#12b1d6" d="M335.7 484.2l-1.5-1.7 2-.6 1.4 1.8z"/>
<path fill="#1bb7c7" d="M316.9 481.1l-1.5-.9 1.9-.8 1.5 1z"/>
<path fill="#1aa4e0" d="M297.6 488.4l-1.5-1.3 1.9-3 1.5 1.3z"/>
<path fill="#2397ea" d="M295.6 492.4l-1.4-1.2 1.9-4.1 1.5 1.3z"/>
<path fill="#18b5cc" d="M308.2 482.1l-1.5-.9 1.9-1.1 1.5 .9z"/>
<path fill="#1ab6c7" d="M320.2 481.4l-1.4-1 1.9-.7 1.5 1z"/>
<path fill="#12b1d5" d="M302.9 484.2l-1.5-1 1.9-1.8 1.5 1.1z"/>
<path fill="#3e26a8" d="M296.2 523.3l-1.4-.8 1.9-22.9 1.5 .7z"/>
<path fill="#19b6c9" d="M311.6 481.9l-1.5-.9 1.9-.9 1.5 .9z"/>
<path fill="#19b6c9" d="M323.6 481.9l-1.4-1.2 1.9-.6 1.5 1.2z"/>
<path fill="#337cf6" d="M343.6 500.6l-1.5-5.9 1.9-.5 1.5 5.8z"/>
<path fill="#1ca2e2" d="M340.6 489.4l-1.5-3.5 1.9-.6 1.5 3.5z"/>
<path fill="#4752f3" d="M343.1 511.3l-1.5-10.1 2-.6 1.4 10.1z"/>
<path fill="#3e26a8" d="M340.8 524.5l-1.5-12.1 1.9-.6 1.5 12.1z"/>
<path fill="#17b5cc" d="M327 482.6l-1.4-1.3 1.9-.6 1.4 1.3z"/>
<path fill="#2791ef" d="M342.1 494.7l-1.5-5.3 1.9-.6 1.5 5.4z"/>
<path fill="#15acda" d="M300.9 486.5l-1.4-1.1 1.9-2.2 1.5 1z"/>
<path fill="#15b3d1" d="M330.4 483.6l-1.5-1.6 2-.5 1.4 1.6z"/>
<path fill="#15b3d0" d="M306.2 483.4l-1.4-.9 1.9-1.3 1.5 .9z"/>
<path fill="#15acda" d="M337.2 486.4l-1.5-2.2 1.9-.5 1.5 2.2z"/>
<path fill="#1ab6c8" d="M314.9 481.9l-1.4-.9 1.9-.8 1.5 .9z"/>
<path fill="#12b1d6" d="M333.8 484.8l-1.5-1.7 1.9-.6 1.5 1.7z"/>
<path fill="#2f84f7" d="M295.2 498.8l-1.5-.9 1.9-5.5 1.5 1z"/>
<path fill="#1ba3e1" d="M299 489.4l-1.4-1 1.9-3 1.4 1.1z"/>
<path fill="#1ab6c8" d="M318.3 482.1l-1.4-1 1.9-.7 1.4 1z"/>
<path fill="#2397eb" d="M297.1 493.4l-1.5-1 2-4 1.4 1z"/>
<path fill="#18b5cc" d="M309.6 483l-1.4-.9 1.9-1.1 1.5 .9z"/>
<path fill="#19b6ca" d="M321.7 482.5l-1.5-1.1 2-.7 1.4 1.2z"/>
<path fill="#337cf6" d="M341.6 501.2l-1.4-5.9 1.9-.6 1.5 5.9z"/>
<path fill="#12b1d6" d="M304.3 485.1l-1.4-.9 1.9-1.7 1.4 .9z"/>
<path fill="#1ca2e2" d="M338.7 489.9l-1.5-3.5 1.9-.5 1.5 3.5z"/>
<path fill="#4752f3" d="M341.2 511.8l-1.5-10.1 1.9-.5 1.5 10.1z"/>
<path fill="#3e26a8" d="M297.7 524.1l-1.5-.8 2-23 1.4 .8z"/>
<path fill="#3e26a8" d="M338.9 525.1l-1.5-12.1 1.9-.6 1.5 12.1z"/>
<path fill="#17b5cd" d="M325.1 483.3l-1.5-1.4 2-.6 1.4 1.3z"/>
<path fill="#2791ef" d="M340.2 495.3l-1.5-5.4 1.9-.5 1.5 5.3z"/>
<path fill="#19b6ca" d="M313 482.8l-1.4-.9 1.9-.9 1.4 .9z"/>
<path fill="#15b3d1" d="M328.5 484.2l-1.5-1.6 1.9-.6 1.5 1.6z"/>
<path fill="#15acda" d="M335.3 487l-1.5-2.2 1.9-.6 1.5 2.2z"/>
<path fill="#12b1d6" d="M331.9 485.4l-1.5-1.8 1.9-.5 1.5 1.7z"/>
<path fill="#15abdb" d="M302.4 487.3l-1.5-.8 2-2.3 1.4 .9z"/>
<path fill="#15b3d0" d="M307.7 484.3l-1.5-.9 2-1.3 1.4 .9z"/>
<path fill="#19b6c9" d="M316.4 482.8l-1.5-.9 2-.8 1.4 1z"/>
<path fill="#2f84f7" d="M296.7 499.6l-1.5-.8 1.9-5.4 1.5 .7z"/>
<path fill="#19b5ca" d="M319.8 483.2l-1.5-1.1 1.9-.7 1.5 1.1z"/>
<path fill="#1ba3e1" d="M300.5 490.2l-1.5-.8 1.9-2.9 1.5 .8z"/>
<path fill="#337cf6" d="M339.7 501.7l-1.5-5.8 2-.6 1.4 5.9z"/>
<path fill="#1ca2e2" d="M336.8 490.5l-1.5-3.5 1.9-.6 1.5 3.5z"/>
<path fill="#2396eb" d="M298.6 494.1l-1.5-.7 1.9-4 1.5 .8z"/>
<path fill="#4752f3" d="M339.3 512.4l-1.5-10.1 1.9-.6 1.5 10.1z"/>
<path fill="#3e26a8" d="M337 525.6l-1.5-12.1 1.9-.5 1.5 12.1z"/>
<path fill="#17b5cd" d="M311.1 483.8l-1.5-.8 2-1.1 1.4 .9z"/>
<path fill="#17b4cd" d="M323.2 483.9l-1.5-1.4 1.9-.6 1.5 1.4z"/>
<path fill="#2791ef" d="M338.2 495.9l-1.4-5.4 1.9-.6 1.5 5.4z"/>
<path fill="#15b3d1" d="M326.6 484.8l-1.5-1.5 1.9-.7 1.5 1.6z"/>
<path fill="#15acda" d="M333.4 487.6l-1.5-2.2 1.9-.6 1.5 2.2z"/>
<path fill="#12b1d6" d="M305.8 485.9l-1.5-.8 1.9-1.7 1.5 .9z"/>
<path fill="#12b1d6" d="M330 486l-1.5-1.8 1.9-.6 1.5 1.8z"/>
<path fill="#3e26a8" d="M299.2 524.8l-1.5-.7 1.9-23 1.5 .8z"/>
<path fill="#18b5cb" d="M314.5 483.7l-1.5-.9 1.9-.9 1.5 .9z"/>
<path fill="#18b5cb" d="M317.9 484l-1.5-1.2 1.9-.7 1.5 1.1z"/>
<path fill="#15abdb" d="M303.9 488.1l-1.5-.8 1.9-2.2 1.5 .8z"/>
<path fill="#15b3d0" d="M309.2 485.1l-1.5-.8 1.9-1.3 1.5 .8z"/>
<path fill="#337cf6" d="M337.8 502.3l-1.5-5.9 1.9-.5 1.5 5.8z"/>
<path fill="#1ca2e2" d="M334.9 491.1l-1.5-3.5 1.9-.6 1.5 3.5z"/>
<path fill="#4752f3" d="M337.4 513l-1.5-10.1 1.9-.6 1.5 10.1z"/>
<path fill="#2f84f7" d="M298.2 500.3l-1.5-.7 1.9-5.5 1.5 .8z"/>
<path fill="#17b4ce" d="M321.3 484.6l-1.5-1.4 1.9-.7 1.5 1.4z"/>
<path fill="#3e26a8" d="M335 526.2l-1.4-12.1 1.9-.6 1.5 12.1z"/>
<path fill="#2791ef" d="M336.3 496.4l-1.4-5.3 1.9-.6 1.4 5.4z"/>
<path fill="#14b3d1" d="M324.7 485.5l-1.5-1.6 1.9-.6 1.5 1.5z"/>
<path fill="#1ba3e1" d="M302 490.9l-1.5-.7 1.9-2.9 1.5 .8z"/>
<path fill="#15acda" d="M331.5 488.2l-1.5-2.2 1.9-.6 1.5 2.2z"/>
<path fill="#12b1d6" d="M328.1 486.6l-1.5-1.8 1.9-.6 1.5 1.8z"/>
<path fill="#2397eb" d="M300.1 494.9l-1.5-.8 1.9-3.9 1.5 .7z"/>
<path fill="#17b4cd" d="M312.6 484.7l-1.5-.9 1.9-1 1.5 .9z"/>
<path fill="#12b1d6" d="M307.3 486.7l-1.5-.8 1.9-1.6 1.5 .8z"/>
<path fill="#3e26a8" d="M300.7 525.6l-1.5-.8 1.9-22.9 1.5 .8z"/>
<path fill="#17b4cd" d="M316 484.8l-1.5-1.1 1.9-.9 1.5 1.2z"/>
<path fill="#337cf6" d="M335.9 502.9l-1.5-5.9 1.9-.6 1.5 5.9z"/>
<path fill="#1ca2e2" d="M332.9 491.7l-1.4-3.5 1.9-.6 1.5 3.5z"/>
<path fill="#4752f3" d="M335.5 513.5l-1.5-10 1.9-.6 1.5 10.1z"/>
<path fill="#16b4cf" d="M319.4 485.3l-1.5-1.3 1.9-.8 1.5 1.4z"/>
<path fill="#3e26a8" d="M333.1 526.8l-1.5-12.1 2-.6 1.4 12.1z"/>
<path fill="#2791ef" d="M334.4 497l-1.5-5.3 2-.6 1.4 5.3z"/>
<path fill="#15abdb" d="M305.4 488.8l-1.5-.7 1.9-2.2 1.5 .8z"/>
<path fill="#14b3d1" d="M310.7 486l-1.5-.9 1.9-1.3 1.5 .9z"/>
<path fill="#14b3d2" d="M322.8 486.1l-1.5-1.5 1.9-.7 1.5 1.6z"/>
<path fill="#15acda" d="M329.6 488.8l-1.5-2.2 1.9-.6 1.5 2.2z"/>
<path fill="#12b1d6" d="M326.2 487.2l-1.5-1.7 1.9-.7 1.5 1.8z"/>
<path fill="#2f84f7" d="M299.6 501.1l-1.4-.8 1.9-5.4 1.5 .7z"/>
<path fill="#1ba3e1" d="M303.5 491.7l-1.5-.8 1.9-2.8 1.5 .7z"/>
<path fill="#16b4cf" d="M314.1 485.8l-1.5-1.1 1.9-1 1.5 1.1z"/>
<path fill="#2397eb" d="M301.6 495.6l-1.5-.7 1.9-4 1.5 .8z"/>
<path fill="#12b1d6" d="M308.8 487.6l-1.5-.9 1.9-1.6 1.5 .9z"/>
<path fill="#337cf6" d="M334 503.5l-1.5-5.9 1.9-.6 1.5 5.9z"/>
<path fill="#1ca2e2" d="M331 492.3l-1.4-3.5 1.9-.6 1.4 3.5z"/>
<path fill="#15b3d0" d="M317.5 486.2l-1.5-1.4 1.9-.8 1.5 1.3z"/>
<path fill="#4752f3" d="M333.6 514.1l-1.5-10.1 1.9-.5 1.5 10z"/>
<path fill="#3e26a8" d="M302.2 526.3l-1.5-.7 1.9-22.9 1.5 1z"/>
<path fill="#3e26a8" d="M331.2 527.3l-1.5-12 1.9-.6 1.5 12.1z"/>
<path fill="#2791ef" d="M332.5 497.6l-1.5-5.3 1.9-.6 1.5 5.3z"/>
<path fill="#13b2d3" d="M320.9 486.9l-1.5-1.6 1.9-.7 1.5 1.5z"/>
<path fill="#15abda" d="M327.6 489.4l-1.4-2.2 1.9-.6 1.5 2.2z"/>
<path fill="#12b0d7" d="M324.2 487.9l-1.4-1.8 1.9-.6 1.5 1.7z"/>
<path fill="#14b2d3" d="M312.2 487l-1.5-1 1.9-1.3 1.5 1.1z"/>
<path fill="#16abdb" d="M306.9 489.6l-1.5-.8 1.9-2.1 1.5 .9z"/>
<path fill="#2f84f7" d="M301.1 501.9l-1.5-.8 2-5.5 1.4 .7z"/>
<path fill="#14b3d2" d="M315.6 487.1l-1.5-1.3 1.9-1 1.5 1.4z"/>
<path fill="#1ba3e1" d="M304.9 492.4l-1.4-.7 1.9-2.9 1.5 .8z"/>
<path fill="#1ca2e2" d="M329.1 492.9l-1.5-3.5 2-.6 1.4 3.5z"/>
<path fill="#337cf6" d="M332.1 504l-1.5-5.8 1.9-.6 1.5 5.9z"/>
<path fill="#4751f3" d="M331.6 514.7l-1.4-10.1 1.9-.6 1.5 10.1z"/>
<path fill="#2397eb" d="M303 496.3l-1.4-.7 1.9-3.9 1.4 .7z"/>
<path fill="#3e26a8" d="M329.3 527.9l-1.5-12 1.9-.6 1.5 12z"/>
<path fill="#13b2d4" d="M318.9 487.7l-1.4-1.5 1.9-.9 1.5 1.6z"/>
<path fill="#2791ef" d="M330.6 498.2l-1.5-5.3 1.9-.6 1.5 5.3z"/>
<path fill="#12b0d7" d="M310.2 488.6l-1.4-1 1.9-1.6 1.5 1z"/>
<path fill="#12b0d7" d="M322.3 488.6l-1.4-1.7 1.9-.8 1.4 1.8z"/>
<path fill="#16abdb" d="M325.7 490l-1.5-2.1 2-.7 1.4 2.2z"/>
<path fill="#3e26a8" d="M303.6 527.1l-1.4-.8 1.9-22.6 1.5 1.2z"/>
<path fill="#12b1d6" d="M313.6 488.3l-1.4-1.3 1.9-1.2 1.5 1.3z"/>
<path fill="#16aadb" d="M308.3 490.6l-1.4-1 1.9-2 1.4 1z"/>
<path fill="#1ca1e2" d="M327.2 493.5l-1.5-3.5 1.9-.6 1.5 3.5z"/>
<path fill="#337cf6" d="M330.2 504.6l-1.5-5.8 1.9-.6 1.5 5.8z"/>
<path fill="#4751f3" d="M329.7 515.3l-1.4-10 1.9-.7 1.4 10.1z"/>
<path fill="#12b1d6" d="M317 488.6l-1.4-1.5 1.9-.9 1.4 1.5z"/>
<path fill="#2f83f7" d="M302.6 502.7l-1.5-.8 1.9-5.6 1.5 .9z"/>
<path fill="#3e26a8" d="M327.4 528.4l-1.5-11.8 1.9-.7 1.5 12z"/>
<path fill="#2791ef" d="M328.7 498.8l-1.5-5.3 1.9-.6 1.5 5.3z"/>
<path fill="#13afd8" d="M320.4 489.4l-1.5-1.7 2-.8 1.4 1.7z"/>
<path fill="#16abdb" d="M323.8 490.7l-1.5-2.1 1.9-.7 1.5 2.1z"/>
<path fill="#1ba2e2" d="M306.4 493.4l-1.5-1 2-2.8 1.4 1z"/>
<path fill="#2396eb" d="M304.5 497.2l-1.5-.9 1.9-3.9 1.5 1z"/>
<path fill="#14aed8" d="M311.7 489.8l-1.5-1.2 2-1.6 1.4 1.3z"/>
<path fill="#3e26a8" d="M305.1 527.8l-1.5-.7 2-22.2 1.4 1.2z"/>
<path fill="#13afd8" d="M315.1 489.7l-1.5-1.4 2-1.2 1.4 1.5z"/>
<path fill="#1ca1e3" d="M325.3 494.2l-1.5-3.5 1.9-.7 1.5 3.5z"/>
<path fill="#337bf6" d="M328.3 505.3l-1.5-5.9 1.9-.6 1.5 5.8z"/>
<path fill="#4751f2" d="M327.8 515.9l-1.5-10 2-.6 1.4 10z"/>
<path fill="#3e26a8" d="M325.5 529l-1.5-11.8 1.9-.6 1.5 11.8z"/>
<path fill="#17a9dc" d="M309.8 491.8l-1.5-1.2 1.9-2 1.5 1.2z"/>
<path fill="#14aed9" d="M318.5 490.3l-1.5-1.7 1.9-.9 1.5 1.7z"/>
<path fill="#2790f0" d="M326.8 499.4l-1.5-5.2 1.9-.7 1.5 5.3z"/>
<path fill="#16aadc" d="M321.9 491.5l-1.5-2.1 1.9-.8 1.5 2.1z"/>
<path fill="#3082f7" d="M304.1 503.7l-1.5-1 1.9-5.5 1.5 1.1z"/>
<path fill="#1ca1e3" d="M307.9 494.5l-1.5-1.1 1.9-2.8 1.5 1.2z"/>
<path fill="#15acda" d="M313.2 491.2l-1.5-1.4 1.9-1.5 1.5 1.4z"/>
<path fill="#2495ec" d="M306 498.3l-1.5-1.1 1.9-3.8 1.5 1.1z"/>
<path fill="#1da0e3" d="M323.4 494.9l-1.5-3.4 1.9-.8 1.5 3.5z"/>
<path fill="#3e26a8" d="M306.6 528.6l-1.5-.8 1.9-21.7 1.5 1.5z"/>
<path fill="#337bf6" d="M326.3 505.9l-1.4-5.8 1.9-.7 1.5 5.9z"/>
<path fill="#15acda" d="M316.6 491.4l-1.5-1.7 1.9-1.1 1.5 1.7z"/>
<path fill="#4751f2" d="M325.9 516.6l-1.5-10 1.9-.7 1.5 10z"/>
<path fill="#3e26a8" d="M323.6 529.6l-1.5-11.6 1.9-.8 1.5 11.8z"/>
<path fill="#2890f0" d="M324.9 500.1l-1.5-5.2 1.9-.7 1.5 5.2z"/>
<path fill="#17a9dd" d="M320 492.4l-1.5-2.1 1.9-.9 1.5 2.1z"/>
<path fill="#18a7de" d="M311.3 493.1l-1.5-1.3 1.9-2 1.5 1.4z"/>
<path fill="#3181f7" d="M305.6 504.9l-1.5-1.2 1.9-5.4 1.5 1.1z"/>
<path fill="#1d9fe4" d="M309.4 495.7l-1.5-1.2 1.9-2.7 1.5 1.3z"/>
<path fill="#17a9dd" d="M314.7 492.7l-1.5-1.5 1.9-1.5 1.5 1.7z"/>
<path fill="#1d9fe4" d="M321.5 495.7l-1.5-3.3 1.9-.9 1.5 3.4z"/>
<path fill="#347af6" d="M324.4 506.6l-1.4-5.7 1.9-.8 1.4 5.8z"/>
<path fill="#2594ed" d="M307.5 499.4l-1.5-1.1 1.9-3.8 1.5 1.2z"/>
<path fill="#4750f1" d="M324 517.2l-1.5-9.7 1.9-.9 1.5 10z"/>
<path fill="#18a7de" d="M318.1 493.4l-1.5-2 1.9-1.1 1.5 2.1z"/>
<path fill="#3e26a8" d="M321.6 530.1l-1.4-11.2 1.9-.9 1.5 11.6z"/>
<path fill="#288ff1" d="M323 500.9l-1.5-5.2 1.9-.8 1.5 5.2z"/>
<path fill="#3e26a8" d="M308.1 529.4l-1.5-.8 1.9-21 1.5 2.3z"/>
<path fill="#1aa4e0" d="M312.8 494.6l-1.5-1.5 1.9-1.9 1.5 1.5z"/>
<path fill="#1e9ee5" d="M319.6 496.7l-1.5-3.3 1.9-1 1.5 3.3z"/>
<path fill="#1aa4e0" d="M316.2 494.7l-1.5-2 1.9-1.3 1.5 2z"/>
<path fill="#3479f6" d="M322.5 507.5l-1.5-5.7 2-.9 1.4 5.7z"/>
<path fill="#327ff6" d="M307 506.1l-1.4-1.2 1.9-5.5 1.5 1.4z"/>
<path fill="#4750ef" d="M322.1 518l-1.5-9.6 1.9-.9 1.5 9.7z"/>
<path fill="#1f9de6" d="M310.9 497.1l-1.5-1.4 1.9-2.6 1.5 1.5z"/>
<path fill="#298ef2" d="M321 501.8l-1.4-5.1 1.9-1 1.5 5.2z"/>
<path fill="#3e26a8" d="M319.7 530.7l-1.4-10.6 1.9-1.2 1.4 11.2z"/>
<path fill="#2692ef" d="M309 500.8l-1.5-1.4 1.9-3.7 1.5 1.4z"/>
<path fill="#3e26a8" d="M309.6 530.1l-1.5-.7 1.9-19.5 1.5 3.5z"/>
<path fill="#1da0e3" d="M314.3 496.5l-1.5-1.9 1.9-1.9 1.5 2z"/>
<path fill="#209be7" d="M317.6 497.9l-1.4-3.2 1.9-1.3 1.5 3.3z"/>
<path fill="#3577f6" d="M320.6 508.4l-1.5-5.5 1.9-1.1 1.5 5.7z"/>
<path fill="#474eed" d="M320.2 518.9l-1.5-9.2 1.9-1.3 1.5 9.6z"/>
<path fill="#2a8cf3" d="M319.1 502.9l-1.5-5 2-1.2 1.4 5.1z"/>
<path fill="#3e26a8" d="M317.8 531.3l-1.5-9.6 2-1.6 1.4 10.6z"/>
<path fill="#2299e9" d="M312.3 498.9l-1.4-1.8 1.9-2.5 1.5 1.9z"/>
<path fill="#337bf6" d="M308.5 507.6l-1.5-1.5 2-5.3 1.4 1.6z"/>
<path fill="#3e26a8" d="M311 530.9l-1.4-.8 1.9-16.7 1.5 3.8z"/>
<path fill="#298ef1" d="M310.4 502.4l-1.4-1.6 1.9-3.7 1.4 1.8z"/>
<path fill="#2397ea" d="M315.7 499.6l-1.4-3.1 1.9-1.8 1.4 3.2z"/>
<path fill="#3774f6" d="M318.7 509.7l-1.5-5.3 1.9-1.5 1.5 5.5z"/>
<path fill="#464ce9" d="M318.3 520.1l-1.5-8.7 1.9-1.7 1.5 9.2z"/>
<path fill="#2c89f6" d="M317.2 504.4l-1.5-4.8 1.9-1.7 1.5 5z"/>
<path fill="#3e26a8" d="M312.5 531.6l-1.5-.7 2-13.7 1.4 6.6z"/>
<path fill="#3e26a8" d="M315.9 531.8l-1.5-8 1.9-2.1 1.5 9.6z"/>
<path fill="#2791ef" d="M313.8 501.8l-1.5-2.9 2-2.4 1.4 3.1z"/>
<path fill="#3774f6" d="M310 509.9l-1.5-2.3 1.9-5.2 1.5 2.7z"/>
<path fill="#3e26a8" d="M314 532.4l-1.5-.8 1.9-7.8 1.5 8z"/>
<path fill="#2d87f6" d="M311.9 505.1l-1.5-2.7 1.9-3.5 1.5 2.9z"/>
<path fill="#3083f7" d="M315.3 506.3l-1.5-4.5 1.9-2.2 1.5 4.8z"/>
<path fill="#4548e3" d="M316.3 521.7l-1.4-8 1.9-2.3 1.5 8.7z"/>
<path fill="#396ff6" d="M316.8 511.4l-1.5-5.1 1.9-1.9 1.5 5.3z"/>
<path fill="#3d68f5" d="M311.5 513.4l-1.5-3.5 1.9-4.8 1.5 4.1z"/>
<path fill="#3578f6" d="M313.4 509.2l-1.5-4.1 1.9-3.3 1.5 4.5z"/>
<path fill="#4442d8" d="M314.4 523.8l-1.4-6.6 1.9-3.5 1.4 8z"/>
<path fill="#3d67f5" d="M314.9 513.7l-1.5-4.5 1.9-2.9 1.5 5.1z"/>
<path fill="#4459f5" d="M313 517.2l-1.5-3.8 1.9-4.2 1.5 4.5z"/>
</g>
<polyline points="364.5,490.4 363.5,485 361.7,476.1 360.8,474.1 358,470.7 356.2,468.7 354.3,467.1 349.7,463.4 347.9,461.6 346.9,460.5 341.4,452.5 331.3,439.9 330.3,438.4 329.4,436.2 327.6,430.8 326.7,429.4 322,424.5 320.2,422.3 315.6,416.2 312.8,412.9 310.1,409.8 307.3,407 304.5,404.4 301.8,401.9 299,399.7" fill="none" stroke="#f00" stroke-width="1.7" stroke-linejoin="round" stroke-linecap="round"/>
<polyline points="370,515.9 369,507.5" fill="none" stroke="#a01030" stroke-width="0.7" stroke-linejoin="round" stroke-linecap="round"/>
<polyline points="401.5,505.7 399.7,491.2 398.8,484.9 397.9,480.8 396.1,473.9 395.2,471.2 394.3,469.2 393.4,467.7 392.5,466.4 390.7,464.3 388.9,462.5 388,461.7 386.2,460.3 380.8,456.7 379,455.1 377.3,452.9 374.6,449.3 372.8,447.1 362.9,436.2 362,434.9 361.1,432.7 359.3,426 358.4,424.1 357.5,422.7 353.9,418.1 353,416.7 351.2,413.5 348.5,408.3 344,400.8 341.3,396.9 337.7,392.6 334.1,388.9 330.5,385.8" fill="none" stroke="#000" stroke-width="1.4" stroke-linejoin="round" stroke-linecap="round"/>
<polyline points="368,459.8 366.9,458.8 365.9,457.6 361.7,452.1 360.7,450.8 351.2,440.5 350.2,439.2 349.1,437.3 348.1,433.6" fill="none" stroke="#00f" stroke-width="1.4" stroke-linejoin="round" stroke-linecap="round"/>
<polyline points="389.3,509.3 387,491.2 386.5,488.3 386.1,486.1" fill="none" stroke="#00f" stroke-width="0.9" stroke-linejoin="round" stroke-linecap="round"/>
<polyline points="339.6,418.5 337.1,413.8" fill="none" stroke="#22c" stroke-width="0.7" stroke-linejoin="round" stroke-linecap="round"/>
<line x1="243" y1="496" x2="241" y2="496" stroke="#262626" stroke-width="0.5" />
<text x="239" y="497.9" font-size="5.2" text-anchor="end" font-family='"Liberation Sans", sans-serif' fill="#262626" >0</text>
<line x1="243" y1="479.2" x2="241" y2="479.2" stroke="#262626" stroke-width="0.5" />
<text x="239" y="481.1" font-size="5.2" text-anchor="end" font-family='"Liberation Sans", sans-serif' fill="#262626" >20</text>
<line x1="243" y1="462.4" x2="241" y2="462.4" stroke="#262626" stroke-width="0.5" />
<text x="239" y="464.3" font-size="5.2" text-anchor="end" font-family='"Liberation Sans", sans-serif' fill="#262626" >40</text>
<line x1="243" y1="445.6" x2="241" y2="445.6" stroke="#262626" stroke-width="0.5" />
<text x="239" y="447.5" font-size="5.2" text-anchor="end" font-family='"Liberation Sans", sans-serif' fill="#262626" >60</text>
<line x1="243" y1="428.8" x2="241" y2="428.8" stroke="#262626" stroke-width="0.5" />
<text x="239" y="430.7" font-size="5.2" text-anchor="end" font-family='"Liberation Sans", sans-serif' fill="#262626" >80</text>
<line x1="243" y1="412" x2="241" y2="412" stroke="#262626" stroke-width="0.5" />
<text x="239" y="413.9" font-size="5.2" text-anchor="end" font-family='"Liberation Sans", sans-serif' fill="#262626" >100</text>
<line x1="314" y1="532.4" x2="312.4" y2="533.8" stroke="#262626" stroke-width="0.5" />
<text x="306" y="541.2" font-size="5.2" text-anchor="middle" font-family='"Liberation Sans", sans-serif' fill="#262626" >0</text>
<line x1="299.8" y1="525.1" x2="298.2" y2="526.5" stroke="#262626" stroke-width="0.5" />
<text x="291.8" y="533.9" font-size="5.2" text-anchor="middle" font-family='"Liberation Sans", sans-serif' fill="#262626" >2</text>
<line x1="285.6" y1="517.8" x2="284" y2="519.2" stroke="#262626" stroke-width="0.5" />
<text x="277.6" y="526.6" font-size="5.2" text-anchor="middle" font-family='"Liberation Sans", sans-serif' fill="#262626" >4</text>
<line x1="271.4" y1="510.6" x2="269.8" y2="512" stroke="#262626" stroke-width="0.5" />
<text x="263.4" y="519.4" font-size="5.2" text-anchor="middle" font-family='"Liberation Sans", sans-serif' fill="#262626" >6</text>
<line x1="257.2" y1="503.3" x2="255.6" y2="504.7" stroke="#262626" stroke-width="0.5" />
<text x="249.2" y="512.1" font-size="5.2" text-anchor="middle" font-family='"Liberation Sans", sans-serif' fill="#262626" >8</text>
<line x1="243" y1="496" x2="241.4" y2="497.4" stroke="#262626" stroke-width="0.5" />
<text x="235" y="504.8" font-size="5.2" text-anchor="middle" font-family='"Liberation Sans", sans-serif' fill="#262626" >10</text>
<line x1="314" y1="532.4" x2="315.2" y2="534.2" stroke="#262626" stroke-width="0.5" />
<text x="323" y="540.8" font-size="5.2" text-anchor="middle" font-family='"Liberation Sans", sans-serif' fill="#262626" >0</text>
<line x1="332.4" y1="527" x2="333.6" y2="528.8" stroke="#262626" stroke-width="0.5" />
<text x="341.4" y="535.4" font-size="5.2" text-anchor="middle" font-family='"Liberation Sans", sans-serif' fill="#262626" >60</text>
<line x1="350.7" y1="521.6" x2="351.9" y2="523.4" stroke="#262626" stroke-width="0.5" />
<text x="359.7" y="530" font-size="5.2" text-anchor="middle" font-family='"Liberation Sans", sans-serif' fill="#262626" >120</text>
<line x1="369.1" y1="516.1" x2="370.3" y2="517.9" stroke="#262626" stroke-width="0.5" />
<text x="378.1" y="524.5" font-size="5.2" text-anchor="middle" font-family='"Liberation Sans", sans-serif' fill="#262626" >180</text>
<line x1="387.4" y1="510.7" x2="388.6" y2="512.5" stroke="#262626" stroke-width="0.5" />
<text x="396.4" y="519.1" font-size="5.2" text-anchor="middle" font-family='"Liberation Sans", sans-serif' fill="#262626" >240</text>
<line x1="405.8" y1="505.3" x2="407" y2="507.1" stroke="#262626" stroke-width="0.5" />
<text x="414.8" y="513.7" font-size="5.2" text-anchor="middle" font-family='"Liberation Sans", sans-serif' fill="#262626" >300</text>
<text transform="translate(228.8,455.4) rotate(-90)" font-size="6.4" text-anchor="middle" font-family='"Liberation Serif", serif' fill="#262626" >Total Building Loss (%)</text>
<text transform="translate(265.4,531) rotate(27.5)" font-size="7.2" text-anchor="middle" font-family='"Liberation Serif", serif' fill="#262626" >Flood Depth (m)</text>
<text transform="translate(375.5,539.8) rotate(-17.1)" font-size="7.1" text-anchor="middle" font-family='"Liberation Serif", serif' fill="#262626" >Flood Duration (hr)</text>
<text x="255.5" y="401.3" font-size="11.3" text-anchor="start" font-family='"Liberation Serif", serif' fill="#000" font-weight="bold">(f)</text>
</svg>
</body></html>
